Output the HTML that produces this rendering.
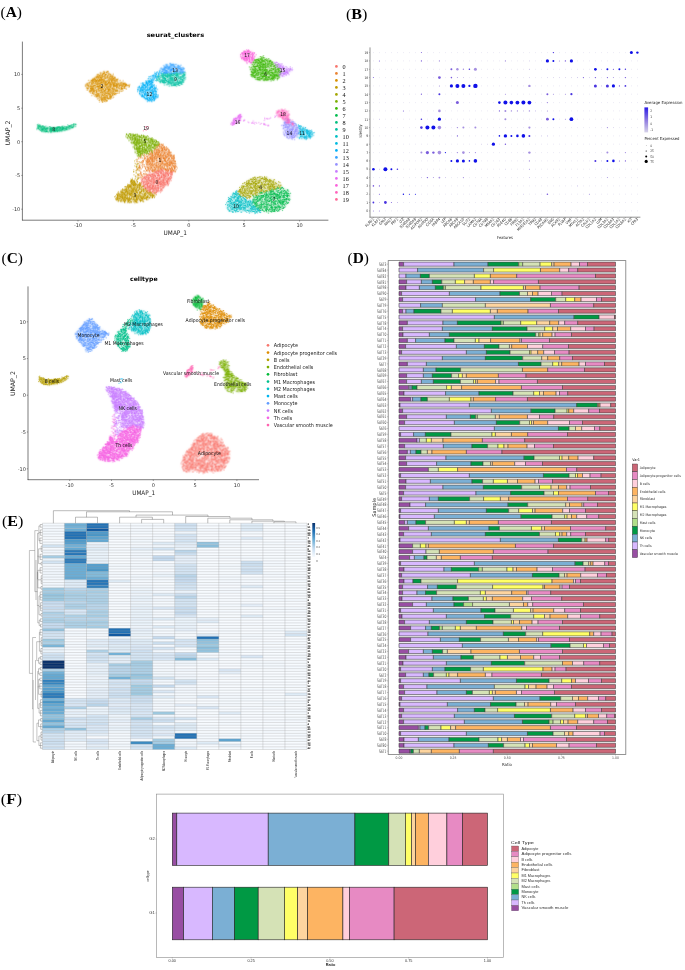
<!DOCTYPE html>
<html><head><meta charset="utf-8"><title>Figure</title>
<style>
html,body{margin:0;padding:0;background:#fff}
svg{display:block}
text.s{font-family:"DejaVu Sans","Liberation Sans",sans-serif}
text.c{font-family:"DejaVu Sans Condensed","DejaVu Sans","Liberation Sans",sans-serif}
text.l{font-family:"Liberation Sans",sans-serif}
text.r{font-family:"Liberation Serif",serif}
.pts path{fill:none;stroke-width:8;stroke-linecap:square;opacity:.92}
.base polygon{opacity:.22}
</style></head><body>
<svg width="685" height="970" viewBox="0 0 685 970">
<defs><filter id="bl" x="-10%" y="-10%" width="120%" height="120%"><feGaussianBlur stdDeviation="1.2"/></filter></defs>
<rect width="685" height="970" fill="#fff"/>

<g id="panelA">
<text class="r" x="0.6" y="17.2" font-size="14.7" textLength="21.4" lengthAdjust="spacingAndGlyphs">(<tspan font-weight="bold">A</tspan>)</text>
<text class="s" x="175.4" y="36.5" font-size="6" text-anchor="middle" font-weight="bold" textLength="57.5" lengthAdjust="spacingAndGlyphs">seurat_clusters</text>
<g class="base" filter="url(#bl)"><polygon points="143.0,178.0 152.0,172.0 160.0,169.0 173.0,171.0 172.0,178.0 168.0,184.0 162.0,190.0 156.0,194.0 148.0,192.0 141.0,185.0" fill="#F8766D"/>
<polygon points="160.0,143.0 167.0,148.0 174.0,156.0 176.5,165.0 175.0,171.0 173.0,172.0 160.0,169.0 152.0,172.0 147.0,170.0 146.0,162.0 148.0,155.0 150.0,153.0" fill="#EA8331"/>
<polygon points="126.0,133.5 135.0,134.0 145.0,136.0 153.0,139.0 160.0,143.0 150.0,153.0 142.0,155.0 138.5,158.0 135.0,150.0 131.0,141.0" fill="#7CAE00"/>
<polygon points="115.0,198.0 120.0,192.0 127.0,186.0 133.0,180.0 141.0,185.0 148.0,192.0 156.0,194.0 154.0,197.0 146.0,200.0 138.0,202.0 126.0,202.5 118.0,201.0" fill="#C09B00"/>
<polygon points="84.5,86.0 92.0,79.0 100.0,73.5 106.0,71.0 111.0,74.0 117.0,79.0 124.0,83.0 130.0,85.5 124.0,89.0 116.0,94.0 108.0,100.0 103.0,102.0 97.0,98.0 90.0,92.0" fill="#D89000"/>
<polygon points="138.0,88.0 142.0,83.0 146.0,82.0 150.0,80.0 154.0,84.0 157.0,90.0 157.5,97.0 154.0,101.0 148.0,101.5 143.0,98.0 139.0,94.0" fill="#00B0F6"/>
<polygon points="146.0,82.0 150.0,77.0 156.0,73.0 160.0,70.0 163.0,72.0 158.0,77.0 153.0,83.0" fill="#00B0F6"/>
<polygon points="157.0,76.0 163.0,73.0 170.0,73.0 178.0,72.0 185.0,73.0 185.5,79.0 182.0,84.0 174.0,86.0 166.0,85.0 160.0,82.0 156.0,80.0" fill="#00C1A3"/>
<polygon points="161.0,69.0 166.0,64.5 172.0,63.5 179.0,65.0 184.0,69.0 185.0,73.0 178.0,72.5 170.0,73.5 163.0,73.5" fill="#35A2FF"/>
<polygon points="36.5,124.5 45.0,126.5 55.0,127.5 65.0,126.5 72.0,124.5 76.0,123.5 75.0,126.0 68.0,129.5 58.0,132.0 50.0,132.5 42.0,131.5 37.5,129.0" fill="#00BF7D"/>
<polygon points="240.0,55.0 243.0,51.0 248.0,50.0 253.0,51.5 255.5,55.0 254.0,60.0 251.0,63.0 246.0,62.0 241.0,59.0" fill="#FA62DB"/>
<polygon points="251.0,63.0 255.0,59.0 261.0,57.0 268.0,59.0 275.0,63.0 279.0,68.0 281.0,73.0 280.0,77.0 275.0,80.0 266.0,81.0 257.0,80.0 252.0,76.0 250.5,70.0" fill="#39B600"/>
<polygon points="273.0,62.0 280.0,64.0 287.0,67.0 293.5,70.0 289.0,73.0 284.0,76.0 280.0,77.0 281.0,72.0 278.0,67.0" fill="#C77CFF"/>
<polygon points="230.5,124.0 234.0,119.0 239.0,115.0 242.0,114.0 241.0,119.0 238.0,123.0 233.0,125.5" fill="#E76BF3"/>
<polygon points="276.4,113.0 278.0,110.5 283.0,109.6 288.0,111.0 289.3,114.0 288.0,116.5 291.0,121.0 294.0,125.0 288.0,124.0 284.0,119.0 279.0,117.5" fill="#FF62BC"/>
<polygon points="284.0,120.0 288.0,118.0 292.0,121.0 297.0,124.5 299.0,130.0 298.0,136.0 294.0,139.0 288.0,138.0 283.5,134.0 282.5,128.0" fill="#9590FF"/>
<polygon points="297.0,124.5 303.0,127.0 309.0,130.0 313.5,133.0 313.0,136.0 309.0,138.5 302.0,139.2 298.0,138.0 299.0,130.0" fill="#00BAE0"/>
<polygon points="237.0,191.5 243.0,184.0 249.0,179.5 257.0,177.0 266.0,177.5 274.0,180.0 280.0,184.0 283.0,188.0 276.0,189.0 268.0,191.0 260.0,193.0 253.0,197.0 247.0,199.0 241.0,196.0" fill="#A3A500"/>
<polygon points="253.0,197.0 260.0,193.0 268.0,191.0 276.0,189.0 283.0,188.0 288.0,190.0 290.5,195.0 289.0,202.0 284.0,208.0 276.0,211.5 266.0,212.0 259.0,210.0 254.0,205.0 252.0,201.0" fill="#00BB4E"/>
<polygon points="226.0,205.0 228.0,199.0 232.0,194.0 237.0,190.5 241.0,196.0 247.0,199.0 252.0,201.0 254.0,205.0 259.0,210.0 262.0,212.0 252.0,212.5 243.0,211.0 236.0,212.0 229.0,211.5 226.5,208.0" fill="#00BFC4"/></g>
<g class="pts" transform="scale(.1)"><path d="M1589 1693zm23 4zm1-9zm2 7zm1 3zm12 1zm2-9zm28 8zm-161 19zm16-8zm25 1zm5-8zm5 17zm4-4zm2 2zm9 5zm2-9zm3 3zm2-8zm0 13zm8 2zm4-13zm0 8zm2-7zm1 10zm0-6zm10-2zm1 1zm1-8zm3 13zm0-11zm8 6zm1 1zm0 4zm3-19zm1 1zm2 1zm2 12zm4-10zm3 3zm0-1zm4 9zm2 6zm0-15zm5 9zm3 8zm13-21zm3-1zm1 20zm0-20zm7 19zm7-11zm1-2zm1-6zm2 20zm0-20zm11 8zm2 3zm1-9zm16 15zm2-18zm1 21zm1-13zm4 4zm3 2zm2 7zm1-5zm3 5zm3-1zm6 1zm6-8zm-276 34zm21 0zm6 0zm5-13zm3 15zm7-22zm0 22zm0-5zm10 1zm6-2zm4 5zm1 0zm1-7zm3-2zm3 10zm4-9zm7-1zm1-14zm1 7zm7 15zm5-18zm2 2zm9-6zm2 11zm2-11zm0 17zm6-3zm4-4zm1 4zm2-1zm1 3zm1-8zm16-1zm1-4zm3-1zm2 12zm7-2zm1-9zm1-1zm2 15zm6-1zm4 5zm0-12zm6 0zm1 12zm3-4zm0 4zm3 3zm0-5zm4 0zm0-14zm6 18zm5-12zm0-5zm5 6zm3-8zm1-1zm2 0zm0 18zm4-18zm2 7zm0 4zm1-2zm2-1zm2-3zm6 1zm0 9zm0 3zm2 0zm3-16zm7 6zm7-7zm0 4zm1-8zm5 17zm3 0zm0 7zm3-4zm2-16zm1 3zm3 10zm3 5zm2-14zm-285 35zm7-1zm4 0zm3 3zm7 3zm1-16zm1 16zm2-3zm4-16zm3 2zm5 5zm0-10zm0 21zm6-15zm3 10zm9-15zm2 8zm3-6zm4 7zm1-2zm2 7zm3-16zm3 14zm2 2zm2 5zm4-3zm0 4zm1-3zm0-19zm1 4zm5-2zm3 4zm1 18zm3-19zm3 2zm0 17zm0-6zm4-17zm4 7zm1-7zm1 12zm4-4zm1 2zm1 5zm1-7zm2 8zm1-11zm16 0zm1 1zm0 1zm5 1zm3-3zm0 4zm4-8zm1-1zm1 3zm1 17zm2-18zm3 2zm2 7zm14-2zm1 12zm1-17zm3 11zm0 8zm3-5zm0-10zm2 6zm11-4zm0-11zm2 24zm1-13zm0-11zm1 5zm2-3zm1 9zm5 9zm0-6zm0-6zm6 3zm0-10zm1 9zm5-8zm0 17zm1 0zm2-10zm2 2zm11 4zm5-14zm3 10zm4-11zm1 4zm2 4zm14 12zm0-2zm3-15zm2 18zm5-4zm6-6zm-306 35zm7-2zm7 3zm2-7zm2-2zm7-10zm0 13zm6-9zm3-6zm2 3zm4 10zm1 1zm1 1zm1-7zm5 6zm3-10zm5 15zm11 4zm1-16zm1-6zm1 4zm2 5zm0 3zm2 5zm3-15zm0 9zm4-11zm1 17zm2-15zm8 19zm9-15zm4 8zm1 5zm4-5zm3-4zm4-2zm3-2zm0 4zm0 7zm3 4zm0-20zm3-2zm4 21zm4-13zm4 0zm4-1zm3 8zm8 1zm3-13zm0 1zm3 7zm2-8zm1 2zm0-6zm1 22zm11-4zm3-9zm1 8zm5 5zm0-17zm0 4zm1 6zm0-3zm3-7zm2 16zm1-3zm1-7zm0-10zm6-1zm1 2zm4 0zm8 2zm4 17zm6-14zm1 13zm1 4zm6-4zm0-16zm1 8zm2-10zm0 11zm4-11zm9 8zm5 7zm1-8zm7 2zm2-11zm2 23zm6-7zm2 2zm0-10zm1 6zm3-6zm3 15zm0-17zm3 15zm0-10zm3 1zm0-6zm2-2zm10 14zm1-3zm2-3zm2-5zm7-5zm-308 46zm9-14zm1 3zm1 8zm5-4zm6 8zm1-15zm4 11zm1 2zm11-9zm1-12zm1 23zm1-9zm0 9zm0-6zm13-17zm1 22zm2-7zm1-7zm1-9zm1 21zm1-21zm2 24zm2-9zm3 0zm2-2zm5-10zm3 20zm5-20zm1 6zm0 1zm6 0zm2-4zm1 8zm1 0zm6 3zm4 2zm0-10zm2 15zm1-21zm8 12zm2-11zm4 20zm3-18zm3 12zm3-12zm0-5zm0 23zm4-2zm0-21zm1 20zm1-2zm2 3zm0-7zm3-6zm4-1zm5 3zm5 1zm7-7zm2-4zm3 20zm1-5zm3 1zm0-15zm1 3zm2 17zm0-15zm3-2zm7 15zm4-1zm6-13zm0 10zm4 5zm0-3zm5-15zm2 14zm2-15zm3 9zm2 3zm6 6zm1-12zm3-2zm1 17zm1-1zm1-13zm1-8zm3 13zm1-9zm5 17zm0-20zm10-1zm3 22zm2-11zm3-4zm5 16zm1-6zm0-10zm1 7zm0-1zm2-7zm0 9zm4 0zm3-1zm1-10zm2-3zm2 20zm10-18zm3 10zm14-7zm-310 35zm3-2zm8 1zm1-14zm9 14zm13 0zm0-10zm4 16zm3-16zm6 15zm0 1zm8-7zm0 9zm3-2zm2-13zm6 2zm0 9zm5-13zm1 9zm1 1zm1-3zm1 7zm6-6zm3-5zm1-5zm1 2zm1 6zm1-11zm4 6zm10 4zm2-2zm4 7zm2 7zm2-14zm8 9zm7-12zm0 13zm4-12zm1 4zm0-12zm2 2zm7 2zm5 8zm10-10zm2 1zm3-3zm1 8zm2-7zm3 14zm3-8zm2 12zm4-16zm0 18zm1-18zm8 14zm0-5zm3-5zm0-5zm5 7zm1-2zm0-6zm1-1zm2 4zm2 17zm2 3zm1-22zm2 16zm0 3zm1-9zm2-5zm2 4zm4 8zm2-1zm0-2zm0-5zm1-11zm3 20zm3 4zm4-19zm1-3zm1-2zm1 18zm0 3zm3-12zm0 4zm1-11zm9 21zm1-7zm0-8zm1-4zm4 18zm2-16zm1 18zm0-20zm6 6zm12-8zm0 13zm3-15zm1 17zm1-15zm1 10zm2-6zm6 10zm8-7zm-291 16zm7 0zm24 13zm1 4zm1 3zm6-15zm0 4zm3 11zm4-11zm4 13zm2-1zm17-21zm1 20zm0-12zm4 1zm2-5zm2 17zm0-5zm3-3zm3 0zm0 5zm7 5zm3-8zm0-10zm1 7zm1-3zm1 6zm2-7zm1-6zm4 6zm2 15zm1-9zm9-14zm1 24zm3 0zm1-16zm1 4zm4 1zm0-5zm0 9zm3 2zm0-2zm3-9zm2 4zm0-2zm3-9zm1 1zm1 17zm6-7zm7-8zm1 4zm1 13zm1-8zm0-5zm6-1zm8 2zm2 5zm6-10zm1 2zm2 4zm2 2zm0-1zm6-7zm9 14zm4-18zm3 18zm1-6zm10 2zm1 1zm5-5zm6-6zm3 20zm2 0zm2-20zm1 2zm5 12zm5-7zm10-10zm7-1zm15 5zm7-4zm-241 39zm6-5zm2-6zm2 7zm1-9zm3 5zm0 4zm8 4zm0-14zm5 0zm1-1zm1 15zm5 5zm3-14zm2 11zm2-11zm9-4zm1 19zm1-10zm2 8zm0-15zm4 19zm1-21zm3 2zm0 13zm0 4zm5-14zm1 10zm5-5zm1 4zm2-15zm0 11zm1 3zm1-14zm4 3zm1 8zm0 9zm3-13zm4 10zm3 6zm1-24zm1 13zm0-2zm1 4zm6-11zm2 13zm2-14zm1 16zm1-14zm1 9zm6 0zm2 8zm1-22zm1 3zm4 14zm3-6zm2-6zm7 0zm0-3zm1 16zm2-10zm0-5zm1 21zm0-19zm1 2zm0 4zm11-3zm12 0zm2 7zm2 5zm1 1zm7-4zm1-6zm5-11zm12 5zm-173 28zm4 14zm2-16zm9 7zm2 2zm2-8zm6-6zm3 3zm2 11zm0-5zm3 13zm3-2zm1-13zm1-6zm2 21zm6-4zm13-1zm3 3zm2-8zm3-4zm3 4zm6-2zm5 12zm3-19zm2 3zm9 13zm1 4zm4-20zm0 16zm1-14zm7-2zm4 11zm0-10zm1 8zm5-6zm5 5zm9-1zm10 13zm0-17zm5-6zm3 11zm12-8zm-123 21zm11 0zm15 8zm8-7zm13 13zm2-10zm6 6zm7-8z" stroke="#F8766D"/>
<path d="M1587 1446zm5-5zm1 1zm4 7zm14-2zm1-4zm6 5zm6-1zm8-4zm-71 14zm5 8zm10 0zm3 3zm3-15zm1 2zm8-4zm1-1zm4 21zm2-16zm0 12zm2 3zm2 0zm11-7zm2 4zm10-9zm8-4zm1 11zm7 6zm4-4zm2 4zm17-1zm-119 25zm7 3zm0-11zm7-11zm7 7zm7 14zm1 0zm6-4zm7-6zm4 5zm7 3zm7-11zm9 10zm1-16zm2 10zm4-13zm3 21zm0-8zm1 2zm2 8zm1-11zm1 2zm0-12zm3 4zm1-3zm10 21zm2-16zm1 16zm2-15zm0 3zm1 11zm2-19zm1 16zm13-3zm1 7zm2-22zm2 11zm8 3zm1-7zm9 13zm-190 23zm13-14zm4 16zm4-8zm3 0zm17-3zm0 4zm9-2zm1-6zm12 13zm1-20zm4 4zm1-4zm1 23zm2 1zm0-12zm1-2zm6 12zm4 2zm3-19zm0-3zm4 9zm0-7zm1 14zm3-8zm3 3zm1-3zm4 1zm3 6zm9-10zm4 3zm1-4zm2 6zm1 11zm3-19zm2 5zm4-8zm1 15zm1-12zm7 8zm9 6zm11-6zm1-10zm0-2zm1 7zm17 15zm5-22zm1 17zm0-13zm5 18zm3-13zm4-5zm3 14zm12 5zm-291 26zm16-8zm9 6zm20-1zm12-8zm15 1zm1-4zm2 12zm0 2zm7-23zm4 14zm3-1zm4 10zm0-15zm6-8zm2 8zm2 9zm2-9zm0 3zm4 1zm4-6zm13 12zm1-17zm3 3zm3 4zm1 10zm1-6zm6-5zm1-3zm2-5zm3 4zm1 3zm0 17zm1-9zm5 6zm3 1zm1-22zm1 18zm3-6zm2 5zm2 3zm2 4zm1-20zm0-1zm1 21zm1-17zm4-5zm1 3zm11 9zm1 10zm0-7zm3-11zm7 1zm4-1zm8 13zm6 5zm2-23zm1 15zm2 4zm4-5zm1-12zm3 6zm4 0zm5-5zm5 19zm4-22zm5 17zm3-8zm1 8zm2 1zm3-3zm2 3zm1 4zm4-19zm1 7zm3-5zm6-6zm0 4zm1 17zm2-10zm2 12zm0-20zm8 2zm-325 44zm13-9zm8-12zm4 6zm4 4zm26-4zm4 8zm8-8zm17 5zm0 4zm3 2zm0-6zm10-8zm9 16zm12-2zm4-4zm0-16zm9 19zm1-12zm4-4zm2 14zm1-13zm1 6zm3 6zm1-15zm0-1zm3 7zm2 4zm8 3zm3 6zm2-4zm3-16zm0 17zm5-15zm0 12zm2-11zm3 12zm6 6zm4-1zm2-15zm2 12zm1-17zm2 2zm6 22zm2-24zm1 1zm2 14zm2 6zm2-6zm0-11zm1 4zm1 15zm3-1zm0-11zm5-4zm1 8zm2-10zm0-3zm7-2zm4 15zm3-11zm0 3zm4 3zm2 1zm1-1zm6 4zm5-5zm2 4zm7-2zm8-8zm1 14zm0-10zm1 6zm5 10zm2 0zm2-8zm0-2zm7 9zm2-6zm4-3zm2 1zm6-5zm6-5zm8 7zm0-5zm3 13zm6-6zm0-5zm1-3zm4 0zm0-5zm6 16zm1 8zm1-11zm8-10zm3 5zm5 6zm0 4zm2-8zm0 4zm2-12zm-355 37zm14-7zm6-4zm12 3zm10 1zm14 4zm5-5zm0 4zm2 6zm2-6zm1-9zm11 16zm11 5zm2-15zm1 5zm1 3zm3-2zm6 5zm4-14zm5-2zm4 6zm1 9zm2-5zm3-5zm1-5zm1 0zm1 2zm0 11zm2-3zm8 9zm1-17zm0 9zm0 3zm0-1zm1-9zm3 11zm1 1zm2 6zm1-21zm5 2zm5 7zm1-9zm4 19zm1-21zm3 11zm0-1zm3-9zm3 16zm4-7zm5 0zm1 2zm3-12zm6 5zm21 7zm2 1zm2-4zm0-2zm3-1zm7-7zm1 17zm0-15zm1-2zm3 6zm0 18zm1-7zm12-11zm7 2zm1-7zm0 7zm0 4zm1 1zm1-6zm0-4zm3 5zm1 0zm2 5zm1 0zm2-5zm1 16zm1-19zm1 7zm5-6zm3 11zm3-4zm2-11zm7-1zm15 11zm0-2zm2 6zm1-2zm3 1zm1-15zm0 13zm5-5zm1 6zm20-7zm1 2zm3-6zm0 8zm8 3zm2-2zm3 8zm2-18zm3 15zm2-8zm0 4zm5-9zm-379 37zm8-14zm17 18zm6 2zm17-5zm5 6zm7-15zm2-1zm1 11zm5-10zm0 8zm0-10zm7-6zm17 9zm8 9zm2-3zm1-13zm1 6zm2 3zm0 4zm2 7zm4-21zm1 16zm4-13zm1-2zm1 16zm4 5zm0-18zm1 9zm4 8zm1-20zm0 5zm1 6zm2 7zm3-20zm3 23zm5 1zm3-7zm1-11zm6-4zm1 0zm3 2zm1 10zm4-3zm0 3zm0 7zm2-7zm1 5zm1-19zm7 13zm3-5zm1 11zm18-14zm4 0zm3 5zm4-7zm9 11zm4 10zm12-21zm1 0zm1 19zm3-17zm1 8zm0-6zm4 16zm0-19zm6 7zm2 6zm4 0zm0 1zm7 2zm3-7zm1-7zm1 14zm13-12zm0-3zm4 3zm1 14zm0-22zm1 7zm6-6zm1 13zm1 4zm0-10zm0 3zm6 6zm13-9zm1-3zm1-4zm2 1zm10 20zm2-10zm5 7zm0-14zm6 8zm3 3zm0-15zm6 4zm2 10zm3 1zm3 0zm6-8zm3-4zm9 1zm1 15zm1-5zm0-5zm1-5zm6 19zm3-6zm4 2zm0-8zm-374 26zm33-7zm12 1zm2-3zm3 15zm30-18zm1 15zm5 5zm2-5zm3-11zm3-3zm2 16zm1 4zm3-16zm5 1zm8 10zm0 1zm3-4zm1 10zm8-15zm3 6zm1-3zm1 5zm11-1zm0-14zm2 14zm3 0zm9 2zm8 3zm1-6zm7-5zm8 13zm1-16zm1 9zm5-13zm1 1zm2-2zm2 1zm11 11zm5 7zm12-13zm0-1zm2 8zm14 2zm1-5zm2-1zm2-7zm6 7zm0-6zm2 9zm2-4zm6 9zm4-6zm4 5zm3 5zm1-8zm6-3zm1 3zm1 3zm8-7zm0 8zm2-3zm1-16zm2 1zm2-1zm2 11zm1 2zm2-11zm0 21zm1-5zm6-17zm6 18zm2-8zm1 8zm1-19zm2 7zm2 14zm3 2zm1-6zm2-17zm3 3zm1 16zm1-8zm3 3zm1-8zm1 1zm1-5zm1 3zm3-4zm5 11zm3-8zm1 11zm2-1zm1-11zm4 9zm8 5zm2-3zm9 0zm4 0zm-393 31zm28-11zm0 2zm4 10zm0 1zm0-19zm1 16zm0 5zm2-22zm19 4zm5-6zm4 18zm10-16zm6-2zm0 19zm7-2zm10 7zm8-10zm5 1zm12-13zm7 15zm11-8zm1 15zm2-22zm3 20zm3-9zm2-12zm1-1zm8 9zm4-7zm1 8zm2 10zm1-20zm7 7zm7 13zm12-14zm2 13zm1-12zm0-1zm2 3zm5 5zm1-13zm2 16zm0-15zm6 10zm6 9zm1 3zm0-7zm0-14zm10 21zm1-10zm1-8zm5 18zm1-1zm1-19zm0 3zm1 3zm1-4zm2-5zm4 15zm1-16zm8 14zm1 9zm5-20zm1 14zm10-13zm6 14zm2-13zm9-3zm5 3zm5 3zm6 15zm0-6zm2-9zm6 6zm0 9zm2-11zm6-12zm3 0zm1 1zm5 7zm2 1zm5-7zm6 5zm5 12zm9-16zm1-1zm6 7zm1 7zm5-8zm1 14zm5-13zm0 5zm4 7zm2-9zm0 9zm5-4zm5-10zm0-1zm10 12zm-403 26zm11 0zm0-7zm10-11zm6 9zm9 8zm0-15zm2 4zm11 9zm10-15zm31 14zm1-9zm1 9zm15 7zm3-17zm5-2zm4 8zm1-11zm3 15zm0-14zm6 8zm8 6zm3 6zm5-12zm4-9zm2 5zm1-4zm5 20zm1-14zm3 12zm3 1zm8 1zm3-20zm5 22zm1-19zm3-1zm1 7zm6 4zm0 9zm2-17zm10 14zm1-19zm3 2zm7 17zm0-3zm9-2zm0-15zm5 20zm12-7zm0 4zm4-14zm0 13zm9-16zm2 9zm8-4zm5 3zm3-1zm5 11zm2-4zm2-10zm7 9zm1 5zm4 1zm2-3zm0-1zm0 8zm11-5zm4 0zm4-8zm3 4zm5 8zm7-2zm1-16zm3 7zm1-5zm7 7zm1 1zm1-2zm1 2zm3 5zm5-16zm2 2zm3 8zm4-1zm1-5zm0 16zm14-1zm7-7zm0-12zm0 9zm2-12zm1 11zm5-11zm7 23zm11-16zm-376 28zm9 6zm12 8zm23-12zm1-2zm16 11zm7-16zm0 2zm1-2zm9 7zm0-10zm14-2zm0 2zm2 11zm4-5zm25-4zm5 7zm0 1zm3 5zm3-7zm1-2zm0 9zm12-17zm4 9zm6 3zm21-4zm11-4zm78 0zm2-3zm10 14zm8-4zm24 9zm4-13zm1 0zm3 3zm0-7zm3 19zm2-22zm9 1zm0 7zm5 0zm3-2zm9 8zm3-4zm4 10zm4-7zm-380 35zm17-8zm12-9zm1 0zm1 7zm3 9zm1-2zm9 3zm14-10zm5 3zm1-4zm11 4zm9-2zm4 5zm12 1zm-97 13zm18-1zm5 15zm10-10zm5-2zm9 7zm1-3zm14-12zm-44 26zm14 2zm8 0z" stroke="#EA8331"/>
<path d="M1037 713zm3 8zm5-1zm17 2zm2-1zm8-4zm3-3zm5 3zm0-2zm-109 29zm7 5zm6-6zm17-15zm5 1zm0 13zm11-14zm7 13zm4 3zm2 0zm0-14zm6 2zm0 3zm2-3zm5 0zm3-5zm1 17zm6-2zm3 0zm2 5zm4-5zm7-14zm12 10zm7-7zm2 9zm10 1zm1 2zm9 5zm22-9zm-173 28zm1 3zm9 0zm0-12zm3 2zm2 10zm3-1zm2-7zm2 8zm4 2zm2-5zm0-11zm4 11zm3-8zm1-8zm3 2zm2 2zm3 18zm1-7zm4 4zm7-17zm2 18zm0-12zm2 12zm1-11zm3-9zm4 20zm1-11zm2 2zm13 3zm3-10zm2 4zm1 11zm3-18zm5 6zm13 9zm3 2zm2-2zm1-11zm1 2zm3 12zm1-20zm10 22zm6-15zm1 1zm3 11zm4-10zm3 0zm2 5zm9 4zm0-10zm5 10zm3-7zm1-6zm1 12zm16 2zm3 4zm-222 22zm1 3zm2-3zm1-10zm5 6zm7 6zm1-16zm1 11zm2-13zm1 13zm4 3zm3-6zm1 2zm6-14zm1-1zm6 9zm5 9zm6-8zm5-3zm9 11zm4-3zm1-16zm0 4zm2 14zm1-5zm7-13zm4 23zm1-10zm0-7zm1 16zm1-10zm4 2zm0-13zm1 22zm0-6zm5 7zm0-2zm3-2zm3 3zm3-10zm10-10zm1 11zm8-7zm2 0zm4-7zm1 4zm16 3zm5 16zm4-4zm6-12zm0 4zm8 11zm0-5zm3 4zm3-11zm3-7zm1 3zm7 10zm2-1zm0-15zm2 13zm1-13zm0 4zm1 18zm6-3zm1 5zm1-12zm4-4zm1-4zm1 5zm0 13zm3-1zm5-14zm1 15zm3-20zm2 2zm6 11zm5 8zm4-4zm8-2zm6-3zm-293 14zm4 20zm10-1zm8-13zm4-4zm3-2zm1 17zm2-13zm2 14zm5-12zm0 4zm1-13zm0 13zm2-13zm2 3zm1 19zm1-18zm2 17zm5-9zm8 3zm0-5zm2-5zm1 0zm1 5zm7 13zm1-21zm2 10zm1-6zm0 3zm2 1zm0-1zm0-5zm2 1zm2 13zm5-13zm2 2zm3 14zm6-17zm0 7zm1 5zm1-8zm0-8zm3 8zm3 2zm2-10zm3 8zm1 16zm1-23zm1 1zm0 4zm0-6zm5 9zm3 15zm3-23zm3 8zm3 12zm0-6zm1 4zm11 3zm0-6zm2-6zm1 2zm3 3zm3-15zm3 0zm3 17zm1-17zm2 15zm3 8zm0-14zm0 4zm4 11zm6-15zm2 10zm1 2zm4-14zm7 5zm2-7zm8 15zm0 4zm3-3zm1-15zm4 6zm1-8zm2 16zm1-1zm12 5zm2-23zm2 4zm1 11zm2-7zm0-3zm2 13zm1-12zm8-6zm0 9zm1 10zm12-3zm0-17zm6 6zm1 18zm2-24zm2 16zm0-6zm0 9zm8-19zm2 11zm8-1zm1-10zm2 19zm4-14zm25-1zm10 19zm20-16zm-376 41zm12-9zm2 0zm7-5zm2 7zm12-9zm6 6zm17 2zm2-9zm5 6zm4 3zm4-8zm2 3zm5-7zm2 21zm10-16zm5-8zm5 9zm2 1zm3-9zm3 18zm2-1zm7-7zm0 7zm2-17zm2 17zm0-14zm4 11zm2-6zm7 12zm1 2zm4-14zm2 1zm1-4zm4 5zm2 2zm6-10zm2-2zm0 4zm1-2zm10 20zm0-19zm2 10zm7-9zm8 8zm3-2zm7-8zm0 10zm1-11zm4 14zm0-14zm0 12zm1 2zm1 6zm4-5zm3 0zm1-14zm1 16zm2-3zm3 2zm0 4zm0-10zm4 4zm1-11zm1 13zm5-9zm2-7zm3 1zm2-3zm1 6zm8 9zm0-13zm1 12zm1 5zm1-4zm2-9zm1 17zm6-2zm4-7zm1 6zm3 0zm2-15zm0 4zm2-9zm6 23zm0-23zm4 19zm0-1zm1-9zm4 8zm0-15zm2 22zm0-3zm1-12zm5 9zm0-10zm6 5zm4-7zm9 5zm1 3zm2-2zm0 8zm1 1zm3-9zm7 8zm1-8zm0 9zm5-15zm3 13zm4 5zm5 0zm0-14zm7-5zm3 17zm2-3zm5 4zm0-19zm6 7zm5 13zm1-23zm3 12zm2 2zm2-3zm2 3zm3-10zm0 18zm1-17zm4 6zm1 4zm6-12zm1 12zm0-6zm1 11zm4 2zm1 1zm1-10zm5 2zm1 3zm2 4zm1 1zm31-3zm-443 14zm11-4zm6-4zm9 11zm0-11zm1-2zm2 17zm5-11zm6 11zm7-11zm2 5zm6-2zm4-2zm3 6zm4-4zm2 15zm4-16zm3 4zm2 0zm4-5zm6 10zm0-11zm5-3zm1-1zm0-1zm6 17zm0-14zm12 7zm1 10zm6-2zm1-11zm0 4zm3-1zm1-1zm7 4zm1-4zm1 2zm0 9zm1-3zm3-5zm1 4zm2-11zm8 1zm2 0zm0-5zm0 8zm2 10zm9-9zm5 13zm1-9zm2-2zm1 2zm0-6zm9 5zm2-5zm6-5zm3 16zm8-8zm4-7zm1-3zm4 2zm3 13zm3 1zm1-16zm4 19zm3-4zm6-2zm5 2zm2 7zm1-21zm2 11zm6-8zm3 0zm1 12zm3 3zm0-7zm6-8zm1 8zm1-8zm20 8zm4-8zm0 3zm0 9zm2-10zm1-6zm3 9zm2-6zm2 10zm1-5zm5 2zm2-8zm0 2zm1 6zm9-10zm0 17zm1-17zm1 18zm2-11zm2 8zm0-7zm1 1zm3 13zm0-21zm9 20zm5-15zm5 7zm2-5zm6-6zm4-2zm5 17zm2-16zm3 17zm5-5zm2-7zm1 4zm4-5zm7-2zm6 10zm0-5zm6 6zm2 1zm2-12zm1 9zm7-13zm0 11zm1-7zm1-4zm13 4zm7-2zm2-3zm7 17zm3 0zm1-12zm2 4zm-428 17zm4 2zm0 21zm2-15zm4 13zm2-15zm2 0zm1 4zm22 11zm1-14zm1-6zm1 2zm1 6zm4 11zm2-21zm1 8zm1 13zm2-17zm1 16zm1-1zm1-3zm2-10zm2 14zm1-8zm0-7zm2 3zm3 6zm0-14zm3 13zm2-10zm0 12zm4 7zm8-8zm2-11zm5 2zm10 16zm12-7zm6-10zm0 11zm2-2zm2 9zm8-14zm2-4zm1 2zm0 17zm5-12zm3-5zm7-3zm1 7zm2-1zm2 3zm2 10zm2-10zm1-3zm5 2zm2 4zm3 5zm2-4zm7-12zm13 13zm1-11zm4 12zm2-15zm9 10zm0 7zm3-14zm6 10zm5 6zm0-6zm2-11zm2 16zm3-9zm0 3zm2 6zm5-16zm1 19zm6-5zm0-19zm1 20zm11-15zm1-3zm4 4zm2 6zm4 12zm0-6zm0-14zm3 6zm1 9zm4 5zm4-20zm5 8zm2 3zm0 2zm16-16zm2 10zm2 11zm14-13zm13-4zm2 0zm3 11zm15-2zm0-7zm0 8zm2-10zm1 4zm2 3zm1-6zm2 4zm3 6zm13-12zm0 1zm4 2zm1-6zm12 8zm9 5zm-369 25zm3-8zm1 15zm0-14zm4 6zm6-6zm2-3zm3 8zm2-7zm5 2zm6-3zm3-4zm1 17zm2-10zm0 3zm4 7zm1-6zm2 4zm1-7zm2 7zm2-11zm7-1zm9 16zm0-1zm1 4zm4-10zm0-5zm1 7zm0-13zm19 6zm0-1zm4 6zm7-11zm6 18zm3-18zm2 19zm1 2zm5-20zm1 0zm1 8zm2-1zm1 7zm4 8zm3 0zm2-1zm9-16zm0 3zm3 1zm2 3zm1-11zm4 17zm3-14zm0-2zm3 17zm0-20zm2 0zm3 8zm11 10zm3-2zm8-7zm0 7zm3-6zm2-11zm0 9zm1-8zm5 9zm1-10zm6 8zm3 15zm6-12zm1-5zm10 14zm0-20zm0 16zm9-1zm5 0zm0-5zm3 5zm10 9zm1-20zm3 5zm4-2zm2-1zm4 6zm0-6zm5 5zm2-10zm5 0zm3 3zm1 8zm2-4zm19 7zm2-8zm18 6zm2-5zm12-3zm-324 24zm16-2zm2 1zm1 3zm0-1zm7 14zm5-13zm2 5zm8 10zm6 0zm6 3zm3-2zm2-21zm3 11zm1 5zm5-12zm6 10zm1 3zm5-4zm1-8zm1 7zm1 10zm10-12zm10 1zm9 1zm2-12zm5 21zm0-5zm11-9zm6-5zm0 16zm4-4zm4 9zm1-1zm3-12zm5-1zm0-2zm7-1zm0-1zm1-2zm4 5zm7 4zm1-5zm5-4zm3 0zm0 18zm1-1zm0-12zm4 2zm1 2zm3 2zm3-15zm2 20zm5 0zm1-1zm1-16zm10 4zm1-4zm6 15zm2-5zm2-11zm4 5zm4 5zm6 6zm0-1zm1-4zm1 6zm6 0zm1-13zm1 4zm6 9zm2-11zm8-1zm10-2zm15-2zm-276 27zm31 6zm13 8zm1-9zm3-1zm2 4zm4-3zm3-2zm1 8zm0-14zm3 3zm2-1zm5 7zm9-4zm2 1zm0-2zm0 18zm15-1zm3-12zm1-5zm6-3zm5 21zm2-20zm6 2zm1-2zm7 19zm1-15zm5 15zm1-8zm6 2zm2 5zm1 2zm1-17zm5-3zm2 1zm4 10zm1 9zm0-15zm0-6zm3 15zm19-10zm5 2zm5 9zm1-18zm0 22zm1-14zm1 5zm3 5zm0-5zm4-4zm0 13zm4-13zm4-7zm4-3zm4 4zm7 16zm-161 18zm5-9zm17-3zm3 12zm9-13zm2 17zm3 5zm0-14zm4 5zm4 0zm0-2zm3 8zm5-5zm1-14zm5 0zm0 8zm1 12zm7-3zm0-11zm3-5zm2 12zm4 5zm1-9zm0 10zm2 4zm7 1zm4-18zm5-3zm1 5zm4-1zm1-1zm7 7zm1-2zm3-6zm0 4zm4-8zm7 5zm2 7zm6-8zm0 7zm19-9zm-138 22zm4 1zm2 17zm17-15zm4 5zm7 12zm2-6zm0-14zm2 19zm2-19zm9 0zm3 7zm1 6zm13 2zm4-14zm5 12zm8-13zm0 8z" stroke="#D89000"/>
<path d="M1370 1593zm-24 18zm15-11zm17 19zm-27 16zm9 5zm12 6zm3-9zm12 2zm17-12zm-56 33zm13 8zm4-15zm1 20zm2-3zm11-7zm-1 31zm3-13zm9-2zm-55 40zm3-18zm1 17zm20-11zm6-3zm13-2zm10 1zm-48 46zm22-17zm0-7zm17 21zm1-9zm-27 28zm6-4zm1 12zm16 1zm9-24zm4 3zm-80 40zm7 5zm6 1zm2-14zm28 4zm16 10zm6-12zm9-3zm2-8zm2 10zm-83 36zm4-14zm1 10zm1 6zm2-4zm0-14zm2 8zm0-7zm1 2zm3 12zm1-7zm1-13zm2 1zm2 16zm4-10zm2-4zm6 7zm1 10zm1-11zm0-1zm1 14zm2-10zm0 3zm2 6zm1 1zm1-3zm0-3zm1 3zm2-17zm3 18zm15-11zm6 12zm3-4zm1 2zm0-20zm-99 44zm5 4zm7 1zm17-3zm7-12zm1 4zm5-12zm0 8zm0 3zm1 12zm2-1zm3-21zm1 2zm2 5zm2 5zm3 3zm1-1zm0 4zm3-15zm0 14zm5 3zm1-17zm5 9zm0-1zm0-12zm1 22zm3-1zm2-11zm1 2zm2 5zm0-11zm2 12zm1-4zm6 7zm6-2zm1 2zm12-1zm2 1zm2 2zm3-6zm0 2zm3 4zm0-17zm1-4zm2 13zm5 2zm4-1zm2-14zm-160 40zm4 2zm4-1zm3-3zm0 2zm10 3zm4 2zm1-10zm1-1zm1-5zm6 2zm1 14zm4-6zm0-14zm2 15zm1 1zm4-5zm2 4zm0-5zm0-12zm2 7zm0-6zm1 3zm1 16zm0-5zm2-3zm3 9zm0-5zm2-5zm1-3zm2 7zm3-11zm4 19zm2-3zm10-18zm1-3zm2 12zm2-7zm1 4zm1-3zm8-5zm0 13zm4-13zm1 10zm0 1zm8-2zm1-4zm7 16zm6-5zm1 7zm3-16zm0 6zm6-12zm6 16zm4-10zm0 4zm1-7zm2 9zm5-1zm2-7zm1 3zm6-4zm3 15zm2 3zm11-6zm6-5zm1 1zm-205 25zm5 10zm15 0zm3-9zm5 8zm0-5zm3 7zm8-6zm0-7zm1 10zm0-1zm2-17zm1 12zm9 8zm5-18zm2-3zm0 11zm5 7zm7-18zm10 5zm0 12zm7-13zm2 9zm3 0zm0 4zm4 1zm2-1zm2-3zm0-15zm4 19zm2 2zm2-4zm1-15zm0 8zm2-3zm4 2zm0 8zm5-15zm0 4zm2 14zm2 0zm2-20zm5 17zm3-5zm3 9zm3-12zm1 0zm7-7zm10 4zm7-4zm1 17zm1-18zm1 12zm5-2zm1 7zm9-18zm1 17zm6 5zm3-13zm11 9zm1 2zm0-7zm3 3zm14 5zm5-10zm-272 30zm21 2zm6-8zm2-7zm4 14zm2 4zm2 0zm2-20zm2 0zm3 18zm1-20zm1 10zm2 14zm7-21zm5-1zm0 9zm8 0zm6 11zm2-1zm0-5zm0 4zm1-9zm1-8zm2 7zm3 3zm1-3zm2 10zm1-12zm4 11zm1-1zm4-15zm4 11zm2 0zm7-12zm2 8zm2 3zm6-10zm5 14zm1-8zm5 14zm4-17zm0 4zm0 12zm0-6zm2-1zm2 2zm2-15zm3 5zm2 7zm1 10zm2-11zm1-10zm2 2zm2 12zm1-7zm5 3zm0 8zm6-21zm5 7zm4 13zm0-15zm1-1zm2 2zm0 10zm4 1zm0-7zm6 7zm1-17zm6 9zm7-6zm1 2zm2-4zm8 19zm6 3zm1-4zm6 0zm6-7zm1 6zm2 2zm0-19zm2 11zm1-2zm10-7zm5 9zm2 8zm2-20zm0 11zm1 2zm11 0zm5-9zm7-3zm2 17zm4-4zm1 8zm6-15zm25 10zm-334 30zm3-3zm2-3zm5-9zm2 17zm6-12zm2-5zm2 11zm4-7zm4 11zm7 2zm2-16zm5 9zm2-15zm5 14zm1-12zm1 19zm2-15zm2-4zm2 20zm0-20zm1 20zm1-24zm2 17zm0-10zm5-3zm3 3zm1-1zm0 14zm3 2zm0-11zm0-2zm3-8zm1 18zm0-1zm3 0zm5 4zm3-21zm2 4zm1 14zm2 1zm10-6zm1-12zm1 7zm3 6zm0 4zm2-9zm1-7zm5 12zm5-14zm2 4zm0 3zm3 4zm2 8zm3 4zm1-23zm0 15zm0-5zm4 5zm0-5zm4-3zm2 4zm4 2zm1 5zm0-6zm2-11zm0 13zm3-5zm1 10zm5-17zm1 20zm3-6zm9-15zm0 20zm2-15zm2 14zm8-12zm0 11zm1-13zm13-2zm0-2zm9-3zm1 7zm3-5zm3 17zm13-13zm1 3zm4-7zm1 9zm3-9zm2 2zm8 7zm10 4zm17 2zm2 3zm0-5zm1-7zm2 8zm6-3zm1 8zm2-15zm2-5zm1 12zm12 0zm2-13zm5 3zm4 1zm0 14zm6-1zm0-10zm2-4zm3-3zm2 24zm1-14zm4-2zm7-2zm2 9zm2-7zm0-7zm2 19zm0-14zm9 12zm2-2zm3 8zm15-15zm9-8zm12 22zm-416 21zm9-7zm16 9zm1 3zm1-17zm2-3zm1-3zm0 4zm1 11zm2 4zm1-14zm4 18zm2-15zm2-9zm4 18zm5-14zm1 6zm2-7zm0 17zm3 0zm1 4zm1-5zm1-6zm2 5zm3 2zm0-19zm5 7zm1-8zm0 13zm4 10zm3 0zm1-6zm2-9zm0 11zm4-5zm9 6zm0 3zm0-19zm2 8zm0-10zm2 20zm6 2zm3-15zm1 15zm1-14zm4 8zm1-16zm2 5zm1-4zm9 3zm2 10zm3-14zm13 1zm6-3zm0 20zm1-20zm8 0zm2 3zm2 5zm2-5zm7 9zm2 1zm1-2zm0 12zm2-3zm10-6zm5 7zm1-6zm1 5zm5-16zm3 2zm2 7zm3-5zm5 15zm1-13zm3-6zm2-3zm2 2zm0 4zm1 12zm3-5zm0 2zm4-9zm3 15zm4-15zm3-7zm1 18zm5-13zm3 6zm2-10zm2 12zm5-10zm1 15zm2-11zm4 8zm2-3zm2 10zm2 2zm1-11zm11 2zm3-15zm0 13zm0 7zm2-4zm5 4zm1-4zm4-15zm0 8zm3 5zm6-8zm1-1zm1 3zm4 16zm3 0zm2-24zm5 16zm0 4zm6 0zm1 2zm1-11zm2 9zm1-12zm5 7zm8 8zm7-21zm7 4zm1 8zm0-12zm1 3zm9 5zm2 2zm2-9zm4 1zm0 18zm2 1zm0-15zm0 13zm5-12zm1 4zm2-4zm1-3zm1 0zm2-5zm1 9zm1-5zm9 9zm-393 26zm6 4zm1-14zm1 16zm2-12zm8-9zm0 17zm2-12zm1 8zm0 8zm1 0zm3-11zm1 3zm11-5zm0 2zm3 3zm4 3zm2-1zm12-15zm2 1zm0 21zm6-13zm0 4zm1-13zm3 3zm0 13zm5-9zm1 0zm1 16zm3-13zm2 7zm2-8zm0 8zm1 7zm4-24zm3 23zm1-5zm0-5zm1-10zm3 17zm4-20zm2 9zm1-5zm5 10zm0-6zm1 0zm4 9zm4-15zm1 3zm0 9zm1 4zm4 0zm5-12zm1 15zm1 2zm1-13zm1 1zm3-4zm2 7zm0-5zm3 5zm1-14zm0 22zm5-1zm0-10zm7 1zm0 2zm2 0zm1 3zm3-13zm13 12zm10 0zm0-13zm1 5zm0 2zm10 13zm3-22zm7 16zm0 4zm3-1zm2-10zm1-5zm0 18zm0-15zm1 0zm0 11zm2-5zm2-10zm5 13zm3-8zm3 5zm5-14zm1 0zm3 14zm6 5zm3-13zm4 16zm2-17zm7 5zm0 2zm1-6zm5-1zm1 8zm1 0zm4 2zm2-14zm0 9zm2 12zm0-14zm0 8zm2-14zm8 8zm2-6zm5 6zm3 3zm2 0zm1-7zm10 1zm2-2zm0 6zm2 9zm0-14zm4 18zm3-24zm2 3zm6-2zm0 17zm13-14zm2 1zm3-1zm22-1zm5-1zm19-1zm-381 26zm18 10zm0-1zm2-9zm7 4zm11-4zm4 6zm3 10zm8-14zm1-2zm2 10zm13 0zm2-3zm10 11zm0 3zm1-5zm3-10zm0-2zm1 0zm2-1zm0 17zm3-20zm15 2zm5 19zm5-10zm1-8zm1-1zm3 16zm0-6zm4-8zm1 17zm0-20zm2 0zm2 7zm6-7zm4 10zm5 6zm1 5zm0-1zm5-7zm16-16zm1 0zm1 20zm9-20zm3 3zm2 16zm1-13zm6 9zm3 1zm1-12zm0 9zm0-10zm3 12zm2-10zm2 16zm1 0zm1 2zm7-20zm3-3zm22 1zm1 0zm4 4zm1 9zm1-5zm4-1zm0-1zm8-2zm0-5zm9 14zm3-7zm7 12zm-141 7zm54 5zm27-6z" stroke="#C09B00"/>
<path d="M2539 1774zm6-2zm6-2zm26 4zm6 0zm11-8zm16-1zm16 7zm18 2zm3-9zm21 5zm-164 21zm2 4zm7-7zm4 5zm5 5zm4-19zm2 17zm7-12zm3 8zm7 2zm1 0zm3 1zm2-1zm2-13zm2 0zm9 10zm9-12zm21 12zm5-16zm10 21zm1-15zm3 7zm1-4zm2 0zm10-1zm2 4zm2-1zm6 4zm5 4zm3-1zm3 3zm1-4zm1-2zm1-11zm0 12zm2-13zm4 5zm3 9zm2-2zm5-6zm3 10zm5 0zm22 1zm7 2zm41-2zm-277 18zm5-4zm11-3zm3 5zm1 11zm3 2zm1-24zm2 11zm1-3zm19 0zm6 8zm4-1zm2-2zm0 6zm6-1zm2-15zm1 21zm5-2zm5-2zm5 2zm3-11zm2 3zm3-1zm1-11zm2 10zm2 1zm8-13zm5 10zm12 12zm1-18zm0 13zm7-9zm1 15zm1-13zm1-3zm5-1zm0 2zm10 13zm21-1zm3-10zm13 4zm3 4zm3 5zm2-16zm0-3zm4 8zm1-1zm4-4zm9-7zm5 18zm0-15zm1 8zm1 7zm8-13zm3 11zm0-1zm1-13zm7 11zm0 9zm1-19zm1 8zm5-8zm5 16zm2-11zm11 8zm5-7zm3 13zm2-5zm2-17zm49 14zm-362 22zm14-4zm9-4zm0-3zm9 19zm9-14zm0 12zm1-6zm1-4zm1-4zm0 4zm3 0zm3 6zm6 8zm0-10zm4 2zm1-10zm1 0zm1 12zm9-3zm1-4zm1 3zm1 10zm5 3zm4-6zm2-7zm0 3zm1-7zm1 2zm6 13zm2-12zm2 11zm10-10zm1-4zm2-1zm3 9zm3-5zm1-7zm11 7zm1-5zm0 4zm2 6zm0 3zm3-11zm3 10zm2-10zm1 8zm3-2zm2-3zm5-10zm9 0zm2 10zm1-3zm23 10zm2-2zm0-14zm3 3zm1 13zm2-17zm6 14zm3-1zm13 6zm5-3zm0-2zm3 7zm2 0zm1-5zm11-1zm12 1zm3 5zm0-6zm4-8zm2 7zm0-1zm4 5zm2 4zm7-22zm3 15zm5-2zm10 1zm1-2zm0 8zm7 2zm3-21zm2 19zm3-14zm4 7zm3 6zm10-1zm3-11zm2-7zm7 12zm5-1zm21 12zm4-23zm11 2zm-406 46zm18-13zm2 14zm6-4zm1-12zm7 8zm1-6zm6 4zm0-2zm0 9zm1-5zm2-2zm2-5zm19 5zm1 1zm5-11zm4-1zm2 8zm4-11zm2 8zm4 4zm8 9zm6-17zm4 20zm4-8zm2 7zm3-4zm2 1zm7 2zm16-20zm5 10zm0 7zm2-4zm2-7zm5 10zm2-17zm1 1zm3-2zm1 5zm1 5zm0-10zm1 3zm2 10zm10 6zm2-4zm2 6zm2-17zm7 14zm2 0zm4-14zm1 13zm0 7zm2 0zm1-3zm1-8zm1 7zm2-10zm10-1zm2-8zm6 8zm7 7zm4-16zm8 12zm3-3zm2-9zm3 17zm5 3zm3-18zm3 2zm14-4zm5 16zm8 5zm7-20zm1 10zm1 7zm6-4zm7-5zm0 4zm1-7zm0 11zm2-2zm3-15zm1 13zm2 6zm7-9zm5-1zm1-3zm3 5zm2-3zm0 8zm0-5zm1 13zm1-23zm10 9zm3 6zm0 1zm2 5zm7-11zm15 0zm10 4zm4-14zm8 2zm3 21zm1-12zm9 7zm5-16zm2-3zm-412 47zm1 0zm6-4zm2-5zm2 6zm10-16zm4 6zm1 11zm3-7zm4-7zm2-4zm13 11zm2 7zm2-3zm3-11zm10 11zm6 7zm1-17zm2-6zm6 7zm1 9zm5-15zm9 11zm3 1zm8-3zm13-10zm4 7zm3-3zm1 5zm8 12zm5 0zm1-21zm6-1zm2 7zm8 14zm0-14zm1-4zm1 11zm2 2zm1-11zm6 6zm3 10zm3-17zm1 7zm6 10zm13-19zm2 9zm4 12zm3-2zm4-10zm6-11zm3 23zm3-9zm2 7zm2-21zm4 24zm3-24zm12 13zm4-13zm6 11zm6-6zm17 6zm3-10zm7 15zm5-12zm1 12zm2-13zm3-1zm3 21zm2-13zm1 2zm0-11zm0 18zm5-11zm7 8zm6-13zm1 19zm3-9zm13 11zm1-5zm0-18zm1-1zm2 5zm0 9zm7-5zm2 9zm6-6zm7-5zm1-2zm12-5zm7 1zm10 4zm10-1zm-419 35zm0 3zm7-11zm2 18zm1-10zm4-14zm1 12zm1-11zm2 14zm2-1zm6-7zm1 16zm1-21zm0 18zm0-3zm5 0zm9-8zm5-3zm4 14zm5 1zm2 3zm5-22zm1 8zm2 12zm3-15zm1 0zm2 7zm5-11zm7 17zm9-15zm6 7zm4 10zm5-6zm0-15zm6 9zm3-9zm1 10zm2 13zm4-6zm4-12zm1 4zm1-2zm7 2zm1 8zm1 6zm3-15zm0 1zm7 5zm1-11zm8-3zm2 10zm8 8zm1-12zm2 2zm3-1zm4 3zm2-5zm2 15zm5-15zm8 13zm7-16zm0 4zm10 15zm2 0zm3-6zm3-2zm9-9zm1 5zm2-10zm0 22zm3-11zm12-2zm8 11zm1-4zm3 0zm4-6zm9 2zm3-5zm2-2zm6 2zm5-5zm0 11zm8-4zm16-3zm5-3zm4-2zm8 8zm-340 29zm18 5zm5 4zm4-6zm5 5zm5-12zm4-9zm7 8zm2-1zm2 11zm4-12zm1-1zm6-2zm1 20zm1 1zm5 0zm3-14zm3-8zm4 6zm5 7zm3-13zm3 19zm7-11zm4-4zm6 3zm0 8zm4-9zm9-4zm9 8zm5 1zm5-3zm1 2zm3-12zm1 6zm1 4zm6 5zm4 9zm3-2zm6-7zm11-4zm7-9zm0 13zm0-1zm2-1zm6 10zm1-23zm6 5zm4 10zm1-15zm27 13zm15-5zm34-8zm-248 29zm5 6zm3 4zm2-1zm13-3zm5-4zm0-6zm2 23zm6-20zm7 11zm6-8zm0 8zm5 2zm8 2zm2-16zm1 21zm11-17zm1-1zm3 19zm2-24zm7 8zm0-1zm1 13zm1 3zm1-15zm4 10zm4-8zm4 8zm1-4zm31-7zm22-1zm6-1zm14-2zm-109 29zm1 2zm25-2z" stroke="#A3A500"/>
<path d="M1263 1345zm2 1zm1-5zm27-1zm4-1zm2 4zm5-2zm4 5zm2-5zm20-2zm3 10zm13 0zm10-4zm2 3zm12-3zm3 0zm-115 18zm5 10zm14 1zm1-24zm3 14zm1-7zm3-3zm0 3zm4 13zm5-2zm10-12zm4 5zm0-5zm5 15zm1-19zm11 15zm2-17zm2 14zm3-10zm1 0zm1 2zm4 4zm1 1zm0 3zm3-1zm0-13zm1 7zm4 1zm4-4zm3-3zm2 13zm6 5zm3 5zm3-7zm1-3zm3-14zm2 13zm5 2zm3-2zm2-8zm3 11zm8 3zm1-12zm0 7zm3 6zm1 1zm1-8zm2 11zm4-8zm8-13zm0 6zm2-2zm1 0zm12 5zm4 2zm0-10zm1 20zm1-6zm2-10zm1 8zm3-6zm4 14zm5-5zm5-4zm9 4zm4-4zm5-6zm9 7zm-209 16zm4-1zm11 11zm10-12zm3-2zm0-3zm1 20zm4-11zm2-1zm1 15zm5-17zm9 15zm1-12zm1 12zm1-16zm2 0zm3 8zm3 6zm6-7zm5-3zm0-6zm2 19zm1-21zm0 17zm3-6zm1-5zm0 17zm2-14zm0-1zm1-7zm1 21zm2-2zm4-8zm8 0zm3 8zm1-9zm2-5zm5 14zm7-10zm2 9zm3-15zm0 18zm2-4zm2 5zm6-1zm5-20zm4 1zm2 17zm2-15zm1 17zm0-23zm4 15zm3-11zm16 1zm1 18zm2-1zm2-8zm2 6zm1 0zm8-10zm0-5zm0 4zm4 0zm2-5zm1 20zm1-2zm1 1zm5-5zm0-10zm7 13zm6-11zm1 12zm3-10zm2 3zm7-7zm10 6zm1 5zm2-3zm1-2zm0-5zm1 13zm3 2zm5-16zm2-2zm2 16zm7-6zm10 7zm17 1zm-268 10zm20 15zm7-21zm4 9zm15 9zm5-13zm0 13zm3-3zm0-5zm5 1zm2-13zm0 7zm6 16zm1-22zm5 5zm2-5zm0 21zm2-6zm1 1zm4-7zm1 12zm1-16zm1-6zm0 9zm1 12zm5 1zm3-7zm0-14zm0 7zm3-9zm8 14zm2-9zm1 6zm0 8zm6 2zm1 3zm7-22zm2 8zm4 3zm4 9zm2-9zm7 9zm2-11zm7-9zm1 17zm3-10zm4 1zm0 2zm0 8zm0-19zm4 11zm0-1zm2 10zm14 3zm7-22zm9 9zm1 3zm8-2zm1-6zm0 17zm10-7zm1-11zm3 8zm5 0zm5-8zm2 11zm2 3zm0-14zm2-4zm1 23zm1-14zm1 9zm4-16zm3 13zm2 6zm4-17zm4 12zm1-3zm4 1zm7-4zm8-1zm0 7zm1-7zm1 6zm0 7zm5-2zm5-1zm3 1zm8 1zm-274 4zm3 6zm9 0zm5-7zm4 4zm2-3zm5 11zm0-2zm0-2zm2-2zm4 12zm4 2zm1-16zm2 14zm0-17zm4 22zm3-10zm1 11zm0-15zm2 8zm2-15zm0 3zm6 11zm4-16zm2 9zm2 2zm0-2zm2-1zm4 11zm1 1zm2-17zm1-2zm2 10zm2 6zm1-9zm2-3zm8 2zm6-6zm1 13zm3 6zm1-15zm4 7zm4 7zm2-15zm5 19zm6-21zm1 16zm5-1zm1-1zm1-9zm5 5zm3-1zm2-6zm2-2zm0 4zm1 13zm1 0zm1-11zm2 9zm10-16zm5 6zm11 14zm2 0zm0-5zm1-15zm2-1zm13 1zm3 2zm0 11zm3-4zm1 13zm9-17zm1 7zm2-1zm4 8zm5-14zm4 3zm0 13zm2-6zm1 5zm5 0zm0-5zm5 3zm0 4zm2-18zm0 15zm2 3zm2-21zm0 3zm3 16zm4-2zm3 1zm10-6zm4 2zm5-17zm4 19zm1-12zm-261 40zm10-8zm3 10zm4-14zm6-10zm3 1zm5 8zm5-3zm0 16zm3-22zm0 4zm2 0zm4 13zm10 6zm4-7zm4 2zm0-7zm1-3zm5 8zm1-8zm1 13zm0-14zm2 14zm0-12zm4 1zm0-2zm1 6zm5-6zm3-5zm5 5zm1 6zm2 6zm1-15zm3-4zm7 0zm5 23zm2-10zm3-12zm3 4zm3-6zm0 8zm10-1zm2 8zm0-2zm4-13zm1 23zm2-12zm12 6zm2-11zm2 7zm1 0zm5-8zm0 14zm1-8zm2 13zm1-16zm0-8zm4 7zm4 6zm0-2zm4-4zm2 6zm4-9zm3 10zm9 9zm5-5zm8-4zm4-8zm2-6zm0 8zm2 6zm2 2zm9-15zm1 0zm0 13zm1-7zm11-4zm2 0zm6-3zm3 7zm-239 19zm3 9zm3 5zm2 5zm9-7zm1-13zm2 9zm1-2zm0 13zm3-17zm2 11zm6-4zm1 1zm3 3zm0-2zm2-9zm1 0zm5 10zm1 8zm3-8zm1-1zm3-11zm2 7zm0 4zm0-1zm3 0zm0 3zm0-1zm1-1zm12 3zm4-1zm1-3zm6 1zm1-11zm1 23zm2-14zm0 13zm1-20zm0 6zm1-6zm4 0zm2 21zm8-16zm1 13zm1-19zm1 2zm1 18zm3-8zm1 10zm2-5zm4-4zm7 1zm2 5zm5-15zm1-3zm1 1zm2-4zm2 0zm2 24zm1-14zm3 0zm5 6zm7 0zm4-4zm0-3zm8-4zm2 0zm0-5zm2 17zm12-14zm2 1zm8 2zm3 2zm2-6zm5 13zm7-14zm1 12zm19-10zm-220 39zm13-16zm6 19zm4-8zm2-12zm0 18zm2-5zm0-7zm0-6zm3 5zm1 13zm2-7zm1 12zm2-23zm3 17zm2-11zm3 6zm0 4zm1-16zm2 23zm0-2zm0-5zm3-13zm0 18zm0-14zm0 9zm8 1zm1-1zm0-5zm1 2zm0-12zm5 7zm4 2zm6-9zm0 23zm2-4zm1-18zm1 15zm0-6zm1 1zm2 7zm5 5zm2-21zm3-3zm2 20zm5-12zm0 13zm1-10zm5-8zm1 4zm1-1zm3-6zm1 9zm0-5zm0 4zm1 8zm7-10zm2 16zm3-5zm1-2zm1 5zm2-8zm7-9zm7 15zm1-11zm0 3zm9-9zm1 2zm12-3zm3 20zm1-17zm1 5zm-169 21zm18 9zm3-3zm7-6zm1 11zm1-7zm3 15zm1-23zm3 24zm3-20zm4-1zm1 1zm3 15zm1 0zm6-11zm0 4zm1-3zm1 2zm3-10zm0 13zm3 0zm9-8zm1 12zm1-4zm17-11zm5 5zm1-8zm6 0zm6 12zm6-3zm2-4zm1-1zm14 9zm1 2zm40-14zm-152 31zm7 7zm6-12zm1 3zm11 9zm2-7zm2-7zm0 18zm4-16zm26 6z" stroke="#7CAE00"/>
<path d="M2602 567zm12 2zm12 0zm5 5zm3-17zm-89 39zm6 2zm11-3zm11 4zm1-4zm1 2zm6 0zm5-11zm1 13zm14-8zm5 4zm0-6zm2 7zm1-8zm5-5zm0-6zm5 19zm2-11zm1 11zm6-15zm7-2zm9-1zm1 14zm7 4zm5 1zm6-9zm7 9zm15-9zm1 3zm-156 24zm9-11zm8 5zm1 12zm2-10zm3-4zm9-7zm2 9zm2 9zm1-4zm2-1zm10-13zm4 5zm4 1zm1 1zm0 8zm2 5zm1-18zm1 6zm5 9zm2-6zm5 11zm8-9zm1-6zm3 17zm3-3zm1-3zm1-12zm3 2zm2 9zm7-9zm0-5zm2 14zm1-7zm2-6zm6 8zm0 2zm2-12zm5 12zm11-9zm5 1zm4 9zm2-4zm3 13zm2-21zm10 8zm1 7zm1 2zm1-7zm1 7zm5-1zm1-16zm1 5zm2 11zm1-10zm1-4zm1 6zm2-6zm6 18zm3-8zm9 3zm-208 10zm5 17zm9-17zm2 0zm7 17zm4-14zm1 17zm6-21zm3 0zm2 11zm7-11zm10 16zm3-16zm1 0zm2 11zm3 0zm0-1zm2-10zm9 21zm3-18zm0 1zm1 3zm6 9zm0-14zm3-4zm2 17zm1-12zm3-3zm2 20zm2-15zm3 13zm1-9zm8 10zm5-7zm1 1zm1 7zm1-16zm1 15zm1 2zm1-3zm0-1zm11 1zm2-17zm1 3zm0 18zm0-14zm3 5zm2-6zm11-4zm0 13zm4-3zm3 8zm7-6zm1-2zm5-1zm1-8zm8 8zm1 2zm9-2zm5 0zm6 7zm0-19zm0 18zm2-16zm2 1zm4-1zm3 15zm7-9zm16 7zm18 6zm-277 22zm25 0zm14 0zm0-7zm1-8zm9 17zm1-3zm1-2zm3-2zm2-2zm5 8zm0-1zm3-2zm1-3zm5-2zm1 1zm2 2zm3-16zm3 6zm1 9zm0-11zm7 9zm1-3zm6 5zm3-7zm4-6zm7 6zm1 3zm1 1zm2-1zm2 2zm0 2zm7-1zm7-10zm2 18zm1-2zm1-16zm2 7zm0 7zm4 1zm3-15zm4 10zm4 8zm0-20zm8 16zm1-2zm1-4zm1-9zm5 0zm8 14zm1-10zm5 3zm6 9zm3-1zm4-15zm2-3zm0 13zm14-4zm2 1zm6 0zm1 9zm2-16zm3 8zm14-11zm1 17zm8-2zm3-10zm0 1zm3 9zm7-10zm2 18zm2 1zm8-24zm7 18zm3 1zm4-16zm-274 44zm2-15zm9-5zm4 21zm3-8zm8-2zm0 9zm4 1zm8-4zm2-3zm8-11zm1 6zm2 5zm2 7zm0-12zm5 8zm8-3zm16-13zm3 2zm1 0zm0 7zm1-11zm1 20zm2-3zm1-16zm1 1zm2 16zm0-19zm1 22zm2-10zm1 10zm3-1zm0-5zm1-15zm1 1zm2 14zm11-16zm2 16zm0 8zm3 0zm3-4zm1-2zm3-15zm0 2zm1 3zm13 11zm2 0zm0-14zm2-4zm3 11zm1-7zm2 19zm5-3zm1-21zm1 24zm5-5zm0-19zm2 24zm23-20zm15 18zm1-12zm4 1zm14 3zm1-3zm2 7zm2 2zm2 0zm2-11zm10 15zm1-15zm3-4zm1 8zm7-9zm3 19zm10-4zm4-4zm1 0zm7 1zm2 5zm1-13zm0 12zm1-20zm1 5zm5 7zm4 1zm3 3zm-286 23zm3 5zm0 2zm2 1zm0-11zm12-7zm1 10zm9 10zm2-11zm1-4zm0 13zm4-22zm1 7zm4 6zm1-7zm0 18zm0-10zm1-4zm2 5zm2-13zm7 18zm5-3zm2-12zm2-4zm0 4zm3 4zm2 14zm0-15zm8 2zm2-9zm5 23zm6-12zm1-5zm6-4zm4 17zm2-17zm6-3zm6 14zm3-2zm0 8zm1-3zm8-11zm0-4zm3 8zm2-3zm4-7zm2 1zm2 4zm1 15zm4-3zm0-15zm2 12zm5-11zm1 12zm3 0zm4 7zm1 1zm2-17zm0-6zm8 20zm4-3zm1 2zm5-8zm2-4zm2 12zm1-16zm1 1zm0-2zm7 21zm6-18zm0 4zm4 15zm3-19zm2 8zm8-13zm9 24zm7-2zm4-1zm1-16zm4 9zm2-14zm2 15zm0-11zm1-1zm3 18zm3-2zm5-10zm2 15zm1-2zm11-6zm1-12zm1 18zm1-5zm1-16zm4 8zm1-2zm2 12zm3-10zm6 7zm3-5zm2 11zm8-1zm-309 27zm8-3zm0-1zm4 4zm1-8zm0 9zm2-23zm3 5zm4 16zm1-9zm3-6zm0-5zm2 17zm2-11zm0 1zm9-3zm4-5zm5 22zm4-1zm2-15zm3 8zm1-4zm3-3zm3-2zm0 12zm9 2zm2-14zm2-5zm0 8zm1 11zm1-13zm10 0zm5 13zm3-17zm1 17zm4-7zm6-6zm1 9zm2-9zm1 2zm1 6zm1-14zm3 12zm5-3zm2 3zm0-5zm1-6zm5 14zm4-1zm5 1zm1-9zm1-6zm1 18zm2-14zm2 3zm3 14zm2-14zm3 4zm0-3zm8 6zm4 2zm2-5zm9-8zm1 13zm2-12zm1-5zm6 11zm3 12zm0-10zm11 10zm1-19zm1-3zm4 22zm6-19zm0 2zm1 0zm2 3zm3-9zm0 4zm1 1zm8 6zm1 9zm2 2zm1-8zm10 8zm1-2zm0-14zm3-3zm9 18zm2-2zm4-10zm8 9zm5-9zm3 15zm8-6zm6-17zm0-1zm2 2zm2 18zm1-17zm1 7zm1 3zm0-10zm-293 34zm7-2zm1-6zm4 16zm5-13zm3 3zm3 8zm1-15zm5 13zm2-9zm2 2zm3 15zm1-1zm4-13zm2 12zm1-18zm3 18zm4-20zm12 5zm3 16zm1-18zm6-4zm10 20zm3-2zm5-9zm7 0zm3-8zm3 11zm4-9zm1 13zm2 1zm1 3zm3 1zm2-2zm1 0zm1-4zm1 5zm2-12zm2 0zm1 8zm1-11zm0-5zm3 14zm4 0zm3-7zm1 8zm1-7zm4 15zm1-8zm4 6zm1-17zm2 19zm2-14zm0 9zm5 3zm7-5zm8-3zm8 2zm7-2zm2-12zm3 1zm1-2zm4 4zm3 3zm7 7zm3-1zm1-14zm2 5zm5 4zm1 7zm5-14zm3 14zm1 1zm4-12zm1 5zm1-6zm0-2zm1 9zm1 7zm8-5zm0-5zm2-6zm5 4zm2 4zm6 6zm0-15zm1 6zm3-3zm4 4zm2 9zm7-11zm2 8zm4-2zm1-12zm-251 25zm12 17zm12 2zm3-8zm3-10zm0 22zm5-7zm5-14zm1 22zm1-8zm3-15zm0 21zm1 0zm6-10zm2-10zm5 14zm7-7zm3 1zm1 7zm2-8zm10 6zm1-4zm12 7zm2 0zm8-7zm1 10zm4-12zm1 10zm3 0zm0-5zm2-10zm7 10zm1 6zm3-6zm3 3zm6 4zm0-20zm4 23zm2-20zm2-3zm1 10zm1 8zm1-17zm3-2zm9 21zm2-13zm6 4zm1-5zm1 1zm4 15zm2-18zm1 9zm5-9zm0 18zm0-19zm0 12zm3-6zm3 0zm1 4zm2-14zm2 7zm1-5zm3 19zm3-17zm3 2zm6 2zm4-8zm15 11zm1-5zm1 18zm1-11zm10 0zm2-13zm9 3zm-198 22zm3 2zm34 0zm8 5zm14-4zm10 2zm10-2zm34 7zm26-5z" stroke="#39B600"/>
<path d="M2779 1872zm35 0zm9 1zm2 1zm-108 25zm8-9zm28 3zm16 3zm1-12zm8-4zm7 4zm18 8zm1 1zm2-5zm6-6zm6 0zm13 4zm5 1zm38 12zm6 0zm-269 24zm4 1zm21-15zm30 11zm4-4zm23 0zm10 5zm2-15zm1 7zm6-1zm6 0zm1 1zm3-5zm2 5zm7-3zm1 6zm4-7zm27-8zm1 11zm12-4zm2 13zm2-4zm3 7zm5-18zm0-1zm14 19zm8-5zm1 1zm1-1zm1-8zm0 8zm6-13zm10 4zm7 3zm6-10zm0 7zm5-5zm2 0zm7 10zm4 6zm9-8zm6-12zm13 10zm-296 24zm12-9zm4 7zm14-3zm1-2zm21 12zm4 4zm2-7zm5-11zm5 22zm3-11zm3-5zm0 13zm1 3zm7-6zm10-1zm3-12zm9 13zm4-1zm2-10zm1 4zm1 12zm1-1zm1-21zm9 1zm1 17zm1-13zm1 13zm3 1zm1-1zm7 5zm1-5zm1-6zm0-10zm3 12zm5-9zm1 0zm1 5zm2 5zm2-10zm1 4zm3 11zm1-14zm3 9zm1-1zm1 9zm7-8zm2 8zm0-1zm7-11zm4 13zm1-4zm1 1zm2-2zm9 4zm7-19zm2 14zm1-10zm0 3zm3-8zm10 20zm0-20zm6 20zm0-16zm5-5zm9 7zm9 0zm0 3zm3-12zm1 21zm3-11zm2 3zm7-12zm4 7zm5-4zm1 18zm2-20zm2 8zm2-8zm2 12zm5-3zm7-3zm5 6zm14-7zm-376 23zm9 11zm0 3zm22-12zm0 12zm1 4zm5-13zm8 7zm1 3zm5 4zm5-14zm4-3zm2 5zm9 2zm4-8zm6 13zm4-13zm3 1zm1 9zm1-11zm1 0zm8 7zm2 9zm1 3zm0-19zm2 0zm0-2zm0 9zm2-6zm2-2zm2 5zm1 7zm13-2zm1-6zm3 14zm2-17zm1 18zm2-23zm3 11zm1-10zm4 8zm1 15zm3-24zm6 9zm1 12zm3-14zm2 5zm4 1zm11-12zm9 11zm2 5zm1-9zm1 16zm6-8zm9-2zm6-7zm7 8zm1 9zm4-4zm7-18zm5 13zm5 0zm0-6zm0 3zm4-12zm5 5zm5 8zm3 3zm1-11zm1 17zm2-15zm7 13zm1-18zm1 8zm3 8zm0 4zm2-1zm3-7zm3-3zm3 5zm2 3zm7-18zm12 9zm3 7zm1-12zm0 8zm1-7zm4-2zm0 18zm3-3zm0-19zm1 6zm5 11zm4-15zm7 2zm8 10zm4-9zm1 2zm2 2zm1-9zm1 13zm1-11zm0 9zm0-2zm2 10zm1-11zm1-7zm4 3zm12 5zm-368 33zm8 5zm4-9zm2 5zm6-16zm1 21zm9-4zm2-19zm7 18zm0-1zm5-4zm3 0zm1-9zm2 8zm1-6zm13 13zm3 0zm1-8zm4-9zm7 13zm0-4zm1 5zm1-15zm7 2zm2 0zm4-1zm2 19zm22 0zm1-9zm4 5zm0 7zm8-14zm1 14zm0-23zm2 12zm10 4zm3-15zm10 13zm7-13zm8 5zm1-1zm1-2zm2 1zm1 2zm4 16zm0-19zm1 11zm2 5zm6-3zm3 2zm9-11zm3 2zm0 12zm6-9zm7 11zm0-24zm4 10zm7-6zm2 3zm8-2zm6-3zm0 9zm2-4zm2 12zm1-10zm1 8zm2-9zm8-8zm5 2zm4 6zm3-6zm2 22zm6-22zm2 21zm15 0zm2-23zm1 23zm5-3zm4-15zm3-5zm4 22zm1-2zm3-18zm1 17zm10-1zm0-6zm1 4zm3 4zm1-4zm1-7zm1 3zm8-8zm3 14zm6-5zm1 7zm1 4zm8-11zm6 5zm-377 28zm3-13zm2 16zm9-9zm2-5zm1-5zm0 17zm6-1zm12-13zm5 2zm1 8zm1 6zm8-15zm2-2zm1 5zm6-3zm1 3zm4-10zm10-1zm5 7zm0-7zm7 22zm9-12zm1 8zm2-11zm8 9zm14-2zm15-4zm1-10zm4 23zm0-5zm6-12zm0 13zm5-11zm0-6zm6 4zm4 8zm3-2zm6-13zm2 15zm0-1zm2-7zm6-1zm1 1zm12-5zm1 11zm4-2zm1 8zm1-3zm14 2zm7-4zm1 9zm8-13zm2 6zm6-10zm1 4zm9 4zm12-7zm0-2zm4 1zm3 2zm1 12zm0-5zm4 7zm1-11zm2 2zm3-13zm0 22zm3-9zm4 9zm3-18zm4 16zm3-10zm3 9zm4 0zm1-1zm2 1zm0 3zm3-11zm5 3zm0 6zm4 2zm1-13zm2-8zm0 13zm10-5zm8 9zm1-17zm2 11zm20 11zm12-18zm-373 31zm16-8zm3 0zm8 13zm1-7zm0 12zm2-9zm1 0zm1 0zm1-11zm8 1zm2 19zm4-14zm2 5zm2 12zm26-7zm4 4zm6 3zm3-11zm1-7zm2 16zm1-9zm7 5zm5 1zm8-16zm0 12zm1-2zm2 10zm5-16zm6-4zm2 14zm9 5zm3-14zm3 12zm3 1zm5 0zm5-14zm3 8zm15 8zm12-17zm6-6zm1 15zm0-14zm2 21zm13-22zm1 23zm0-10zm2-11zm5 7zm3 0zm3 12zm5-4zm1-14zm3 6zm2 11zm4 3zm14-14zm1-8zm5 19zm9-17zm4-3zm9 10zm1-4zm4 7zm0-6zm0-5zm2 19zm9-15zm1 15zm2-9zm1 0zm5-1zm2 0zm2 6zm1-16zm4 19zm9-3zm11-7zm5 5zm3-15zm10 9zm0-6zm9 0zm-353 29zm0-1zm23 4zm0-1zm4 7zm4-8zm4-2zm0 12zm5-17zm6 8zm1 15zm6-4zm4-19zm2 3zm2 18zm2-5zm4-9zm11 3zm0 3zm4-2zm3-11zm6 8zm17 2zm5 6zm2-5zm4 3zm6 3zm4-6zm7 5zm1-11zm4 3zm5 12zm3-1zm4-20zm13 5zm3-4zm2 8zm3 15zm4-22zm3 10zm1-12zm2 24zm2-5zm1-5zm0 3zm4 5zm7 0zm8-21zm7 16zm5 6zm2-5zm6 6zm1-3zm2-4zm11 1zm6-8zm3-2zm1 15zm2-12zm4 2zm4-6zm1 14zm1-6zm5 2zm7 6zm5-2zm9-11zm6-2zm6 12zm10 4zm5-19zm5 12zm-284 19zm11 5zm2-5zm4-1zm10 10zm5-20zm2 9zm0 3zm6-10zm4 3zm0-1zm6-4zm6 18zm0-1zm9-17zm7 4zm10-4zm3 8zm6 13zm1-1zm2 3zm1 1zm2-16zm1-5zm1 1zm6 13zm1 0zm2-3zm17 5zm3-3zm4-5zm5 10zm8-18zm4-2zm0 7zm2 12zm2 3zm3-20zm3 5zm3 15zm3-3zm9 4zm2-21zm4 17zm1-1zm2-6zm5-7zm2 2zm4 16zm3-24zm3 2zm5 21zm1-11zm7-10zm10 18zm2-18zm3 17zm2-12zm2-7zm4 17zm16-5zm8-2zm4-5zm4 2zm4-6zm-248 32zm14-4zm14-2zm8 2zm8 5zm8 6zm10-12zm10 8zm0-7zm2 1zm2 13zm18-9zm2-8zm0 2zm13 9zm4 0zm8 5zm2 1zm4-7zm4-10zm1 5zm6 9zm8-2zm3-3zm2 2zm1-6zm2 3zm3-9zm1 15zm17-11zm8 10zm8-11zm6 3zm0 3zm36-4zm-141 25z" stroke="#00BB4E"/>
<path d="M376 1248zm8-5zm15 6zm317-1zm10-1zm11-4zm3-5zm2 10zm0-4zm14-4zm2 8zm2-1zm-384 26zm1-21zm1 14zm4-8zm4 4zm0 12zm0-19zm3 2zm1 15zm3-5zm3-8zm1 11zm3-2zm3-7zm1-6zm2 7zm3 12zm5-8zm2 0zm1 8zm8-8zm1-8zm4 5zm1-4zm2 11zm1 4zm2 0zm6-8zm3 2zm3 5zm12-10zm24 11zm13-6zm2 0zm7 5zm25 1zm12-1zm24-2zm11 3zm2-5zm4 1zm3 3zm5 1zm1-7zm2 1zm6 4zm11 2zm2-5zm6-3zm1 7zm4-11zm4 4zm1 8zm13-10zm4 5zm6 2zm6 0zm5 2zm7-4zm0-2zm2 3zm5-19zm5 20zm7-8zm0-5zm1 15zm1-14zm3 11zm3-6zm2-5zm0 4zm1-3zm0-1zm8 3zm3-9zm1 8zm2 4zm6-2zm6 1zm7 2zm5 3zm0-17zm1 4zm16 10zm-387 26zm4-8zm6-3zm3 3zm6-4zm1 7zm4 6zm3 0zm3 5zm6-23zm3 10zm5 8zm5-12zm1 17zm1-3zm1 3zm0-6zm2 5zm0-7zm1-8zm4 14zm0-10zm4 3zm2 1zm1 6zm1-5zm6-9zm1 10zm1-9zm0-7zm4 12zm7 3zm0 8zm1-19zm0 16zm3 3zm1-11zm4-3zm1 1zm1-1zm1 4zm2-7zm2 9zm0-16zm3 20zm1-8zm5-11zm1 11zm14 4zm2 4zm1-11zm2 6zm5 9zm1-4zm0-12zm1 4zm1 1zm0 7zm1 1zm0-20zm2 22zm1-2zm0-14zm0 2zm1-8zm2 5zm1 0zm2 12zm2 4zm0-13zm1-8zm2 7zm0 16zm2-8zm7-10zm1-5zm0 12zm3 8zm1-9zm2 5zm3-11zm3 2zm3 6zm1 5zm0-18zm1 11zm2 3zm8-9zm0 12zm0-15zm2 16zm0-1zm0-2zm1-15zm2 4zm1 0zm0 13zm1-14zm1 14zm2-16zm2 6zm1 8zm1-4zm1-3zm3-9zm0 5zm4-3zm6 15zm2-15zm3 22zm3-7zm0-12zm1 4zm4 1zm1 2zm0 4zm1-14zm4 3zm1-3zm1 2zm2 20zm2-7zm4 2zm3-5zm2-6zm2 14zm2-12zm0-7zm1 18zm1-20zm1 5zm0-1zm0 9zm2-6zm1 9zm1-4zm0-6zm1 3zm0-5zm1 4zm2-7zm11 7zm3 2zm2 7zm2-8zm1 3zm7 0zm1 8zm2-7zm0-12zm1 2zm0 18zm3-14zm5 16zm3-17zm7-4zm4 13zm6-8zm5 7zm6-8zm7-5zm4 1zm6 1zm4-2zm3-2zm-325 28zm4 4zm7-5zm2 13zm2-3zm10-8zm1 2zm3 7zm1 7zm8-12zm6 10zm0-12zm5-2zm2 15zm2-1zm5-6zm2 5zm2 0zm2-11zm1 7zm0-3zm5 3zm7 6zm3 3zm12-16zm1 3zm3-4zm3 12zm1-7zm4 8zm3-7zm1-8zm3 6zm2 1zm0-10zm2 9zm2 10zm2-10zm10-5zm2 14zm4-13zm0 3zm2 8zm0-3zm5-7zm1 4zm1 6zm1-8zm2 0zm6-5zm1 9zm3-6zm1 9zm3-11zm1 6zm7-5zm1-4zm1 15zm3-11zm0 9zm3-3zm0-10zm10 2zm0-3zm1 8zm6 6zm4-7zm1-7zm6 8zm9-5zm1 10zm4-13zm1 0zm11 1zm8 3zm7-1zm3-3zm-144 26z" stroke="#00BF7D"/>
<path d="M1742 723zm11 1zm4-7zm9 5zm-149 16zm1 11zm9-11zm3 9zm1-7zm6 4zm3-14zm1 4zm6-8zm6 10zm6 1zm1 1zm4 0zm7 0zm5-2zm1 7zm2 6zm1-7zm3-8zm1 13zm1 2zm10-15zm3 14zm2-11zm5 7zm2 0zm7-12zm0 11zm1-10zm0 13zm0-1zm4-11zm0 4zm2 11zm10-12zm3 1zm3-4zm1 8zm0-1zm0-14zm6 18zm0-14zm1 7zm4 10zm10-9zm3-3zm1-5zm1 17zm0-5zm2-1zm2 6zm0-23zm0 4zm4 18zm0 2zm3-8zm2-8zm1 11zm1-11zm6 11zm6-11zm3 7zm4 1zm2-16zm10 2zm0 8zm3 10zm16-15zm2-1zm2-3zm3 11zm2 7zm1-1zm7-14zm2 19zm4-21zm1 13zm-288 23zm5 7zm2-9zm11 13zm1-11zm1 7zm1-17zm7 17zm0-1zm12-14zm8 9zm2-11zm6 7zm1-1zm6 2zm0-2zm1 15zm1-5zm1-5zm6-14zm0 22zm1-14zm4 6zm3-7zm6-7zm0 1zm3 0zm0 2zm3-2zm2 12zm0 2zm2-1zm1-7zm6 4zm3-10zm0 13zm0 9zm7-15zm0 8zm2-1zm0 9zm1-19zm2 9zm8-5zm0-1zm4 3zm5 7zm0-16zm1 3zm1 2zm1 9zm1-10zm5 5zm2 3zm9-6zm2 15zm0-21zm6 1zm1 5zm8-1zm7 7zm5 5zm6 4zm3-17zm3 0zm1 0zm1 0zm5 7zm1 5zm2 3zm1-11zm2-8zm2 6zm6 0zm2 13zm3-9zm6 5zm15 5zm0-6zm14 7zm1-4zm0-3zm1-10zm6 6zm1-9zm1-2zm0 4zm1 13zm1-8zm3 9zm5-19zm3 5zm5-3zm1 19zm-284 20zm3 5zm5-4zm14-9zm3 5zm2 7zm5-6zm3 7zm8-21zm10 23zm5-23zm1 24zm2-15zm3-1zm6 5zm5 7zm0-17zm2-2zm0 7zm1 4zm2-7zm3 11zm1-10zm1 2zm2 13zm0-6zm1 0zm3-4zm0 4zm18-15zm3 23zm4-10zm1 7zm10-15zm3 3zm4-4zm0 18zm0-10zm1 12zm6-14zm3-6zm1 13zm0-14zm1 12zm0 8zm0-23zm0 8zm1-1zm7 8zm1 7zm3-20zm1 10zm1 11zm2-17zm3 14zm0-11zm2-9zm5 18zm13-4zm11-8zm4 18zm3-16zm1-6zm6 22zm11-13zm2-3zm3-7zm8 6zm0-1zm6 13zm2-12zm1 14zm2-18zm1 7zm8 8zm4 6zm5-7zm2-16zm6 13zm0-6zm8 6zm7 2zm0-16zm-294 31zm15-1zm6-2zm11 10zm4-10zm7 12zm0 4zm4-4zm0 9zm2-13zm3-5zm8-2zm4 13zm0-14zm2 11zm1 4zm1 5zm0-6zm3-2zm1-10zm0 15zm1 3zm0-20zm1 5zm3-2zm1 18zm6-7zm2-4zm0 8zm1-10zm1-8zm1 20zm5-20zm2 20zm0-22zm7 6zm0-4zm3 5zm2 2zm0-5zm2 6zm3 6zm4-3zm2 8zm5-4zm4-13zm0 12zm1 5zm1 1zm2-10zm1-5zm2-2zm1 16zm3-1zm6 1zm4-4zm2-16zm1 6zm4-6zm1 9zm5 11zm3-19zm4 6zm3 4zm1 2zm5-5zm6-4zm2-5zm6 11zm1 10zm18-11zm3 10zm4-1zm1-12zm0 9zm3 2zm0 1zm1-20zm7 24zm10-8zm0-11zm1 9zm2-12zm4 18zm2 4zm3-5zm5 3zm2-4zm4-14zm0-3zm5 1zm1 0zm2 12zm0-14zm0 21zm4-3zm7-11zm-237 22zm23-2zm8-2zm7 10zm8-6zm10-3zm11 17zm8-10zm3 7zm6 1zm2-15zm6 7zm0-1zm11-1zm0 9zm4-15zm2 10zm2-1zm1 12zm4-12zm3-9zm6 3zm2 13zm4-11zm3 19zm1-19zm2 12zm1-8zm3-3zm1 15zm7-10zm0 9zm1-12zm5-8zm1 24zm2-2zm1-16zm5 8zm1-14zm5 17zm0 3zm5-5zm3 4zm1-14zm4 4zm0-1zm0 16zm2-9zm0-12zm3-2zm5 10zm1-9zm12 11zm1-7zm2 13zm1-14zm2 0zm1 10zm6 2zm10-16zm-188 25zm27-1zm22 13zm7-12zm18 7zm2 0zm1-6zm11 2zm8-1zm0-2zm3-1zm1 7zm8-2zm5-2zm7 10zm19-8zm13 1z" stroke="#00C1A3"/>
<path d="M2358 1916zm3 5zm3-12zm4 14zm2-15zm-45 33zm9-12zm0 2zm3 5zm3 13zm0-10zm6-4zm4 14zm2-14zm2 7zm1-3zm1-13zm1 17zm5 1zm5-7zm5 10zm7-10zm2-3zm1 6zm-97 34zm23-8zm9 2zm2 2zm7-18zm5 21zm1-6zm0 7zm13-5zm1 1zm1-3zm2-7zm5 6zm5 3zm2-3zm6-12zm5-2zm1 22zm9-10zm3-1zm5 5zm4-17zm0 3zm1 8zm2 7zm10 0zm1 3zm1-8zm21 8zm4-1zm23 3zm-170 17zm0 3zm8-10zm4 3zm1 0zm9 11zm2-10zm0-7zm2 16zm2-1zm18-15zm8 9zm5-10zm10 18zm10-6zm4-11zm2 18zm3-12zm0-6zm2-2zm1 15zm0-14zm3-1zm3-2zm2 14zm1-8zm3-6zm0 11zm12 10zm8-10zm3-1zm4 7zm2-4zm14-8zm8 7zm2-5zm0 4zm4 10zm4-7zm4 8zm0-5zm7 5zm-185 17zm6-3zm3 0zm8-5zm4 0zm5 6zm1-4zm2 0zm4 1zm11 13zm5-18zm5 14zm12 4zm1-7zm9-4zm2-11zm1 18zm2-16zm2 4zm3 0zm4 9zm4-6zm3-4zm0 2zm1-4zm6 0zm0 6zm5 8zm3-14zm1 11zm1 5zm2 2zm1-2zm1-12zm7 9zm1-6zm5 7zm4-16zm1 19zm0-8zm1 7zm6-14zm7 1zm1-4zm7 17zm8-10zm9 6zm4 0zm1 6zm3-19zm0 17zm1-3zm1-18zm1 18zm10-1zm6 2zm5-7zm1 0zm1 9zm0-5zm9-15zm5 15zm6 5zm2-19zm0 12zm1 4zm13 1zm8-8zm-273 34zm10-17zm13 19zm0 2zm11-23zm1 16zm9-5zm1-10zm5 10zm4-9zm0 8zm3 0zm2-9zm5 18zm4-1zm3-7zm6-3zm3 6zm0-15zm6 8zm2-8zm8 21zm2-13zm4 10zm4 2zm2-6zm5-2zm1 11zm3-10zm7 9zm5-13zm9-9zm2 17zm7-13zm1 13zm4 7zm1-16zm6 11zm3-19zm2 8zm5 7zm7 0zm2-3zm7-7zm2 5zm6 5zm9-1zm4-2zm14-9zm1 21zm0-5zm0-6zm13-6zm0 8zm4 3zm1-16zm1 17zm1 1zm2-5zm12-8zm0-1zm6 10zm3 6zm6-19zm-250 24zm3 17zm12-3zm2-5zm2-5zm10 17zm2-17zm6 7zm4 5zm3 0zm1-18zm7 22zm5-16zm0 16zm8-16zm5 8zm4 1zm0-14zm0 12zm9-6zm11 16zm2-19zm7 11zm5-15zm2 6zm1 16zm1-9zm1 2zm3-10zm2-4zm7 12zm0-6zm1 4zm0-4zm3 0zm1-5zm5 1zm0 20zm7-17zm2 18zm5-4zm4-10zm5 12zm4-17zm1 19zm1-17zm9-2zm2 16zm0-14zm1-2zm1 2zm6 2zm2 11zm7-7zm4-13zm1 23zm4-14zm3-8zm1 12zm7-2zm8-11zm0 1zm4-1zm0 3zm5 4zm5 13zm2-8zm1-1zm3 10zm5-5zm8 0zm5-9zm0 13zm2 1zm4-4zm1-6zm3 8zm0-7zm10 9zm-282 9zm6-2zm2 18zm2-5zm25-4zm5 11zm6-11zm3 4zm1 4zm6-10zm3 11zm1-10zm1-11zm5 1zm10 8zm2-5zm3 3zm11 4zm1 13zm2-10zm0-14zm1 16zm3 4zm0-16zm9 9zm2-10zm7 0zm2 2zm0 7zm4-11zm0 3zm1 20zm4-6zm6-3zm0-10zm2 0zm1 16zm2-19zm6 9zm0 4zm16 4zm0-6zm2-7zm3-4zm8 2zm1 9zm1 10zm0-18zm4-2zm1 10zm36-10zm15 7zm0 3zm3-1zm5 5zm1-13zm0 3zm9 16zm0-2zm0-20zm1 3zm3 8zm4-8zm0 8zm5 7zm7-12zm5 13zm2-18zm0 13zm4-1zm4 0zm6 2zm11-6zm3 9zm0-5zm1 7zm9-14zm-300 26zm9-5zm2 11zm0-6zm22 7zm4 3zm5 6zm3-6zm10-16zm2-1zm2-1zm6 2zm1 8zm0-1zm2 10zm12-15zm1 12zm10-1zm4-1zm26 6zm8 1zm14-14zm14 0zm14 8zm1-14zm2 2zm7 19zm7-19zm2 1zm3-2zm7 11zm2-11zm3 16zm5-17zm6 12zm7-9zm1 14zm6-18zm5 16zm7-3zm1 0zm5 0zm6-1zm0 3zm8 6zm1-1zm3-16zm7 7zm5 4zm0 7zm8-20zm3 10zm4-9zm7 1zm2 7zm0-9zm6 18zm3-14zm1-4zm1 20zm4-19zm-111 28zm56 5zm5-6zm19-2zm33-3z" stroke="#00BFC4"/>
<path d="M2961 1243zm22 6zm-1 12zm8 8zm1 1zm2-9zm0 2zm4 1zm3-6zm7 2zm1 6zm5-1zm22 9zm-55 5zm12 10zm3-2zm7-8zm1 4zm1 13zm3-1zm2-6zm1 7zm13-3zm3-7zm0 11zm0-22zm10 24zm0-12zm0-3zm11 5zm5 7zm1-19zm2-1zm10 21zm7-1zm-81 14zm10-1zm7 2zm4 1zm5 0zm1 5zm3-12zm1 5zm1 9zm1-7zm1 2zm0 10zm8-1zm2-14zm4-5zm5 9zm2-11zm11 14zm3-9zm1 11zm3 5zm1-19zm1-3zm1 5zm3 1zm2 1zm2 13zm0-12zm1-1zm3 7zm2 2zm2-1zm3 6zm1-13zm2 14zm0-11zm1-9zm4 20zm3-11zm6-1zm2-2zm11-7zm0 11zm1 1zm3 5zm-137 12zm1 9zm6-2zm0-12zm4 0zm9 19zm1-19zm6 9zm7 1zm2-1zm1-10zm1 24zm10-1zm4-2zm0-3zm0-7zm2-6zm1-5zm2 14zm0-2zm3 10zm1-15zm1 10zm18-11zm4 0zm4 0zm0 14zm1-6zm1-14zm1 10zm2-8zm0-1zm2 17zm3-5zm5 0zm7 5zm0 2zm0-8zm0 11zm3-16zm1 14zm4-2zm2-13zm2 0zm1-4zm2 9zm5 9zm4-17zm6 14zm4-8zm6-5zm12-3zm-167 46zm27-4zm2-5zm0-12zm1 21zm2-13zm8 8zm0-5zm1-10zm9 17zm1-5zm6 10zm7-20zm2 14zm2 1zm8-1zm0-4zm10-3zm0 13zm2-16zm3 12zm0-5zm0 6zm15-17zm1 1zm1 7zm2 12zm3-6zm4-7zm1-3zm0-8zm2 14zm2-5zm1 12zm0-3zm6 0zm0-11zm4 14zm8-6zm4-14zm14 3zm-143 24zm1 7zm23 0zm27-9zm1 8zm4-7zm0 6zm8-4zm3 17zm2-12zm4 0zm4 0zm29-9zm3 9z" stroke="#00BAE0"/>
<path d="M1547 724zm19 0zm8-2zm18-9zm4 9zm4-13zm19 12zm-70 20zm2-3zm0 6zm9-2zm0-11zm4 17zm2-15zm18 7zm0 4zm2-13zm5 14zm7-11zm3-9zm10 9zm4-1zm22 4zm-149 30zm9 2zm6-4zm16 5zm1-13zm7 1zm2-3zm3 3zm4 8zm1-15zm3 8zm11 10zm0-10zm0 4zm4-4zm3 11zm14 0zm12-6zm5 1zm-108 23zm7-3zm15 5zm14 9zm2-8zm10-5zm1-7zm3 20zm9-8zm1-11zm15-2zm9 3zm1 4zm-113 27zm9 10zm0-6zm4-2zm3-3zm9 12zm3 0zm3-8zm0-5zm3-1zm2-2zm1 7zm0 4zm5-5zm0 4zm1-10zm5 9zm2-5zm0 12zm2-5zm8-3zm1-7zm1 10zm2-18zm0 2zm3 8zm4 13zm1 0zm10-17zm29 4zm-156 25zm14 5zm0-10zm3 19zm7-3zm0-5zm2 7zm1-18zm13 17zm8-5zm2-15zm0-1zm3 4zm0 2zm3 5zm1-8zm1 15zm1-10zm2-5zm3 17zm1-11zm2 5zm8-6zm2 8zm4 5zm2-21zm1 22zm2-22zm6 12zm1-1zm3 9zm4 3zm1-7zm2-3zm2-12zm2 15zm1-16zm6 4zm1 18zm2-20zm12 20zm-158 26zm8-8zm5 0zm1 0zm23-5zm1 2zm1 10zm1-2zm3-8zm3 10zm1 0zm1-2zm8-15zm2 5zm1 0zm1-10zm1 4zm0-5zm2 5zm5 2zm3-3zm2 0zm2 19zm3-3zm0-2zm2-2zm1 6zm8-14zm3-3zm1-5zm2 3zm1 16zm4-11zm15-4zm4 15zm8-6zm2 0zm0 8zm1 3zm2-12zm1 6zm4-6zm0 7zm1-5zm1 5zm1-1zm1 1zm1-8zm1 10zm9-12zm4 3zm5-9zm4 19zm15-10zm-184 34zm1 3zm1-17zm10 0zm8-2zm1 16zm6 3zm0-15zm6-1zm0 2zm1-4zm1 0zm3-4zm2 22zm7-14zm5 12zm5-4zm1-17zm4 20zm0-11zm0-7zm5 16zm7-16zm1 17zm0-12zm7-3zm10 16zm1 3zm4-13zm2-7zm6 19zm7-5zm0-15zm1 18zm2-12zm0 12zm4-11zm3 6zm2-14zm1 4zm1-4zm1 12zm3-11zm2-1zm7 18zm5 1zm2-21zm1 22zm4-17zm6 9zm4 1zm4-8zm2 13zm2-18zm2 11zm5 3zm1-7zm0-2zm7 9zm1-12zm14 15zm-201 21zm6-14zm14 9zm4 7zm3-4zm5-3zm0-1zm5-8zm4 20zm3-19zm0-1zm2 8zm3-5zm1-4zm1 23zm1-15zm8 7zm1-10zm4 12zm8 0zm4-16zm1 11zm6-2zm3-3zm3-6zm6-1zm5 11zm2 10zm2-15zm2-4zm10 22zm4-22zm1-2zm2 19zm3-15zm3 13zm5-8zm2 1zm7 1zm0 12zm2-22zm2 14zm1 9zm2-10zm4-10zm3 15zm1-4zm2-2zm4 3zm1 5zm2-19zm3 5zm7 6zm2-8zm2 17zm1-10zm1 4zm0-1zm6 5zm-170 19zm2 1zm0-14zm10 18zm9-13zm6 18zm1-2zm6-19zm8 2zm5 9zm2 10zm2-9zm0 4zm2-6zm4-13zm1 22zm0-6zm1-12zm4-4zm1 21zm6-5zm2-7zm3-8zm7 16zm2 3zm2-4zm5-3zm14 5zm14-4zm8-5zm2-3zm1 10zm1-6zm2 4zm6-3zm0-6zm2 17zm10-1zm3-3zm0-5zm8-4zm3 12zm1-2zm1-1zm-152 10zm6 9zm1 3zm4-3zm3 3zm1-10zm1 5zm6 11zm1-15zm0 12zm10-3zm0-10zm16-1zm2 3zm3-1zm0 18zm4-19zm2 12zm1-17zm6 12zm17-2zm9-3zm1 11zm6-1zm3 6zm7-5zm2-1zm5-7zm1 0zm2 0zm3-5zm3 14zm0-17zm1 17zm0-16zm1 18zm1 1zm3-20zm4 20zm6-4zm1-11zm1 15zm1-5zm0-3zm8 0zm1 3zm5-16zm4 22zm5-19zm0 18zm1-1zm3-18zm-141 24zm3 4zm2-4zm10 6zm1 7zm0-5zm1 5zm6-2zm2 1zm5-2zm1 10zm1-2zm0-6zm1-5zm3 0zm2-4zm4 17zm4-18zm3-4zm4 19zm2-8zm0-1zm2 7zm0-7zm0-5zm3 7zm3 12zm5-5zm5-12zm1 9zm2 3zm7 4zm0-1zm1 0zm4-21zm1-1zm0 7zm0-5zm5 10zm3 3zm0 4zm3-16zm3 13zm2 5zm1-11zm0 9zm9-9zm5-4zm-89 34zm9-6zm1-7zm7 2zm3 3zm5 4zm7-7zm11 3zm1 7zm4-1zm19-5zm1-2z" stroke="#00B0F6"/>
<path d="M1658 645zm8 4zm7-5zm27-11zm5 8zm1 5zm1-9zm2 12zm7-3zm2 1zm7-5zm4 7zm2-9zm8 5zm16-1zm7 0zm-125 10zm6 10zm6 5zm4-1zm1 6zm1-3zm3-3zm1 1zm3-15zm10 6zm1 0zm1-3zm2 9zm0 4zm10-1zm8-1zm3 3zm1-1zm0-8zm2-5zm13 12zm2-9zm0 14zm0-19zm4 2zm9-1zm8-6zm1 15zm3-8zm1 5zm0 12zm1-5zm1-10zm0 11zm2-3zm8 4zm5 0zm0 2zm16 1zm0-5zm4-10zm2-4zm0 17zm3-16zm1 3zm5 8zm6-8zm3 3zm13-12zm18 24zm-228 23zm6-11zm6-8zm4 10zm5 1zm4 8zm2-7zm5 7zm1-6zm1-3zm5 1zm0-12zm4 7zm1 11zm1-17zm1 10zm3 7zm4-13zm0 9zm10-10zm3-5zm1 1zm3 7zm11 8zm0-16zm2 16zm1-7zm1-5zm1 0zm0 9zm2-8zm2-2zm0-3zm6 3zm2 9zm3 0zm8 3zm4 0zm0-1zm1 8zm1-10zm1 6zm1 2zm4 3zm0-16zm1 16zm2-6zm1-12zm2 11zm1-16zm3 18zm10 5zm3-6zm5-7zm4 6zm21-12zm0 17zm6-8zm2-3zm6-8zm1 3zm2 3zm4 3zm1 0zm5-11zm1 9zm2-10zm0 18zm4 0zm0-6zm2 7zm3 3zm1-20zm1 18zm6-2zm1-3zm3-5zm7 5zm4-3zm4 1zm0-7zm-222 29zm2 2zm4 6zm2-13zm8 4zm3 12zm2-18zm0 18zm7 0zm4-13zm3 10zm1-15zm1 2zm2-3zm1 19zm2-13zm0 13zm1 1zm1-19zm1 19zm0-5zm0-14zm2 10zm0 4zm2 5zm4-17zm2 17zm2-16zm1 14zm7-5zm2 9zm2-3zm3 3zm6-23zm2 4zm3 5zm2-2zm2-1zm3 17zm0-14zm1-8zm1 8zm5-5zm20 1zm2 8zm1-12zm5-1zm1 6zm1 10zm2 3zm3-7zm0-6zm0 2zm19 4zm0 8zm2-5zm1-13zm1 2zm7 0zm10 11zm0-7zm10 6zm1-7zm5-1zm2 13zm2-20zm1 12zm1-4zm9 10zm3-12zm0 17zm2-16zm2 1zm1 8zm1 2zm7-4zm11 0zm-208 20zm4-6zm5 1zm6 1zm1 1zm11 1zm2 0zm31-3zm1 8zm7 1zm6-10zm10 4zm13 1zm8-2zm0 1zm1-5zm35-2zm15 5zm14 4zm1-3zm2-5zm4 3zm15-2z" stroke="#35A2FF"/>
<path d="M2856 1189zm3-1zm14 6zm3 5zm5-4zm17 3zm-57 3zm7 18zm2 0zm10-7zm8-1zm5-5zm2 10zm9-10zm2 10zm11-15zm5 23zm13-10zm5 8zm2-3zm9-4zm1 6zm13 2zm-106 6zm5-3zm3 7zm0 5zm3 3zm4-16zm1 1zm1 3zm1-2zm2 20zm3-21zm6 15zm0-5zm1 12zm1-23zm7 0zm3 2zm0-1zm1 19zm1 4zm2-9zm3 3zm5 5zm3-4zm8-15zm0 19zm1 0zm4-20zm7 2zm1 11zm0-9zm13-7zm0 12zm5 2zm1 3zm6-7zm4 3zm5-3zm3 2zm4 12zm-143 5zm13-2zm6 7zm0-1zm4-7zm4 5zm6 17zm1-23zm4 23zm3-21zm1 15zm2 5zm0-21zm0-1zm4 3zm6 15zm2-7zm3 12zm3-5zm0 2zm6 0zm2-6zm4 10zm5-11zm0-5zm5 10zm11-14zm1 10zm0-13zm5 5zm4 14zm7-9zm4 13zm2-13zm0 10zm9-1zm4-13zm2 1zm0 5zm14-11zm2 3zm4 10zm22 3zm-158 18zm5-4zm2-2zm14-4zm10 0zm6 19zm7-7zm2-13zm2 9zm7-3zm4 3zm3 14zm7 0zm1-7zm3-7zm8 14zm3-2zm1-15zm1 13zm0-5zm4-1zm0 9zm2-2zm3-18zm2 17zm2 0zm3-10zm4 9zm1-12zm14 15zm3-4zm1-16zm3 21zm1-4zm0 4zm0-6zm6-13zm2 3zm2-1zm1 15zm5-17zm4 5zm20 14zm-166 26zm12-21zm10 21zm0-9zm1-6zm1-7zm1 23zm13-24zm2 6zm3-3zm5 17zm3 0zm1-17zm0 12zm1 5zm2-6zm2 6zm6-16zm2 8zm2-2zm3-7zm7 17zm6-17zm2 3zm0 14zm2-17zm1 8zm4-9zm1-2zm7 17zm9 7zm1-15zm3 6zm5 1zm0-1zm1-5zm1 1zm3-4zm7 5zm0 9zm2-7zm2-12zm2 1zm6 14zm0-17zm8 12zm-147 30zm4 3zm2-2zm15-16zm3 11zm4-6zm1 12zm3 1zm3-7zm2 6zm0-19zm0 11zm2 13zm5-7zm1 5zm4-11zm1 13zm1-2zm5-3zm0 4zm3-15zm2-5zm2 8zm1 3zm1-5zm1 1zm2-5zm2 6zm1 0zm1 2zm2-1zm0-4zm4 1zm0 13zm1-21zm2 6zm1 5zm3 3zm3-8zm2 1zm0 15zm1-10zm10 11zm3-12zm1 5zm3-4zm1 4zm0-7zm1-10zm1 1zm13 14zm4-1zm2-5zm1 7zm3-8zm6 7zm4-15zm1 7zm10 0zm-148 27zm13-3zm7-4zm0 19zm9 2zm2-5zm6-16zm14 10zm4 7zm7-10zm7-7zm2 4zm1 9zm1 0zm0-5zm2 11zm4-9zm8 12zm1-17zm4-1zm0 1zm4 11zm3 0zm4-5zm6-5zm5-4zm1 16zm0-16zm13-2zm-101 27zm16 4zm0 2zm9-10zm12 5zm8 8zm4-13zm1 4zm1 14zm6-13zm1-4zm9 0zm2 1zm5 21z" stroke="#9590FF"/>
<path d="M2741 624zm22-1zm1 1zm-12 9zm4-4zm8 18zm6-21zm11 15zm0 8zm0-7zm4-7zm1 10zm7 3zm5-9zm17 1zm4 1zm-60 10zm2 4zm5 17zm3-12zm12 12zm8-20zm1 13zm7-2zm2 2zm2-8zm2 17zm0-23zm4 19zm5-16zm4 14zm6-4zm9-5zm1 10zm26-3zm10 8zm34-5zm-118 6zm15 1zm1-1zm1 7zm10 17zm5-10zm6-4zm1-7zm3 0zm2-3zm0 18zm2-17zm2 9zm9-5zm1 2zm1 6zm16-1zm1 12zm1-5zm12 0zm8-6zm5 0zm7 7zm7-13zm2 15zm1-8zm1 2zm1-3zm3 8zm13-15zm3 16zm-133 22zm19-9zm0 7zm21-13zm5 19zm2-23zm0 9zm1-5zm11 12zm1-2zm2 0zm2-5zm7 10zm2-11zm1 15zm2-7zm6 8zm1-13zm1-11zm0 15zm1-3zm14-5zm5 6zm2-9zm21 0zm-127 43zm11-8zm4-5zm2 12zm1-21zm0 15zm8-6zm2-2zm11 11zm1 6zm0-19zm1 7zm4-10zm1 7zm3-1zm2 13zm1-14zm0 2zm4 4zm5-7zm2 2zm0-2zm1 7zm2 11zm2-23zm5-1zm6 6zm2 2zm2-7zm1 4zm8 7zm0-8zm5 19zm-93 11zm3 1zm19-2zm7-2zm0 9zm14-2zm22-13zm4 0z" stroke="#C77CFF"/>
<path d="M2395 1144zm1 5zm10-1zm1-2zm-33 24zm5 1zm4-14zm1 4zm2-2zm1 4zm0-8zm2 15zm7-15zm0 9zm2 10zm4-22zm3 16zm4-2zm1 2zm1-3zm1 0zm337 9zm2-16zm5 6zm12-13zm-432 41zm1-5zm10 1zm4 5zm0-5zm2 6zm2-12zm1-1zm3 0zm5 10zm3-9zm5 8zm5-11zm8 0zm2-3zm3 22zm1-4zm5 2zm1-1zm1-14zm1 1zm3-4zm2 2zm1 18zm41 1zm201-19zm3 9zm18-4zm5 3zm8 0zm14-2zm11-8zm-382 41zm8-17zm0 16zm5-14zm1 6zm1 6zm3-16zm0 2zm1 20zm3-10zm5 1zm6-5zm4 12zm4-17zm1 17zm11 4zm6-24zm1 17zm4-13zm9 2zm6 0zm0-1zm32 4zm5-8zm1 6zm40 12zm51-10zm20 15zm91-19zm-335 33zm5 8zm3-18zm6-1zm2 17zm3-11zm6 1zm0 9zm1-17zm4 13zm1-9zm1 9zm2-1zm2 0zm1-13zm1 12zm12-11zm7 3zm2 6zm122-9zm27 5zm6-5zm6 2zm7 3zm11 8zm21-9zm22-4zm14 16zm11-9zm24 10zm2-9zm0 12zm6-6zm3 7zm10 2zm-334 4zm5-3zm345 2zm7 9zm5-10z" stroke="#E76BF3"/>
<path d="M2466 499zm-32 16zm7 9zm2-9zm0 9zm0-7zm3-5zm9 10zm0-7zm2 2zm1-2zm2 2zm11-3zm4 6zm0 3zm1-12zm2-4zm0-1zm5 8zm1-8zm1 14zm0-19zm0 20zm5-14zm0 2zm3 11zm10 0zm5-3zm-103 29zm0 3zm10-13zm3-8zm3 15zm3-11zm2-2zm0 9zm2-2zm1-1zm1-10zm5 10zm3 12zm3-15zm4-8zm2 17zm0 2zm3 2zm0-1zm1-9zm1-3zm1 11zm1 1zm0-19zm1 21zm2-10zm8 2zm0-7zm3 1zm2-6zm1 10zm2 12zm16-7zm0 6zm1-20zm5-3zm11 2zm1 21zm1-21zm2 15zm6 5zm3-7zm6-7zm1 9zm1-7zm1-4zm0-5zm6 20zm7-15zm1 3zm3-5zm16 18zm-156 19zm8 6zm9-13zm7-9zm1 20zm9-13zm4 13zm2-4zm8 4zm12-17zm0 18zm1-8zm1 8zm0-3zm1 6zm1-20zm12 15zm3 4zm0-12zm5-2zm1 3zm1 2zm0 2zm0-5zm4 7zm3 6zm4-22zm2 20zm2-7zm12 8zm2-5zm3-2zm1-8zm2 3zm0-10zm2 21zm4-20zm14 14zm2-2zm-131 11zm0 11zm1 3zm5-11zm5 2zm3 0zm1 15zm1-18zm5 14zm1 1zm2-4zm0 11zm0-12zm4 1zm1-3zm2-6zm0 11zm4-13zm0 2zm0 20zm2-17zm5-1zm1 11zm3-2zm1-2zm1-10zm3 16zm1 1zm1-2zm2-13zm4-2zm1 21zm1-22zm0 9zm8 2zm5-8zm2 5zm1 8zm0-6zm2 11zm5-5zm12 0zm4-13zm1-2zm0-1zm0 6zm2 15zm1-17zm0 11zm0-3zm4 9zm4-6zm1 1zm2-8zm3-10zm3 12zm4-3zm-97 20zm6 4zm7-4zm4 9zm1-4zm10-4zm3-4zm14 15zm0-1zm1-9zm0 14zm3-3zm2-1zm2-7zm6 14zm6-20zm1 11zm10 10zm0-15zm5-4zm10 0zm-67 24zm1 5zm37-6zm2 2zm5-3z" stroke="#FA62DB"/>
<path d="M2817 1091zm34 3zm-85 17zm6 8zm4 4zm4-1zm0-7zm3 7zm3-16zm1-2zm1 12zm3-2zm4-9zm7 17zm3-7zm11-13zm1 18zm1-19zm0 10zm5-4zm4 2zm3-3zm4 0zm4 3zm0-6zm4 14zm4 3zm11-11zm5 0zm2 8zm9 3zm12-10zm-124 23zm12-1zm0 2zm10-9zm1 22zm2-4zm9 6zm5-9zm11-15zm3 20zm1-7zm0 9zm4-4zm1-13zm6-4zm1 4zm1 16zm2-9zm6-3zm0 2zm0 11zm1-8zm2 6zm2-15zm0 18zm1-8zm0-1zm1 10zm7-19zm1 2zm5 1zm5-2zm4 10zm12-7zm5 14zm5-1zm1-10zm7 9zm-116 12zm5 14zm5-9zm7-5zm4-3zm0 9zm4-11zm2 18zm0-7zm0-5zm3-5zm5 8zm0 2zm3-2zm8-9zm2 20zm2-7zm0-10zm4 4zm6-4zm3 5zm1 0zm4 7zm0 2zm11-12zm1-3zm3 11zm2-3zm3-7zm6 1zm2 4zm5-5zm3 9zm0-7zm0 4zm-62 16zm3 6zm1 5zm6-14zm0 3zm0 9zm1-11zm0 6zm8 8zm3 5zm8-9zm1-2zm3 7zm5-10zm5 18zm1-1zm3-21zm0 5zm2-7zm2 1zm2 4zm2 2zm3 11zm0-1zm0-5zm2 11zm2 1zm1-3zm0 2zm6-20zm6 18zm-63 8zm19 5zm4-5zm6 15zm7 3zm4-22zm1 4zm3 14zm8-12zm1 11zm3 0zm1-12zm6 5zm1 12zm25-21zm-61 31zm4-1zm14 0zm0-5zm5 8zm1-7zm5-2zm8 3zm21 1zm1 15zm0-3zm4-5zm1 7zm1-8zm2 8zm3-6zm3 7zm-1 13z" stroke="#FF62BC"/>
<path d="M1459 1272zm2-6zm3 3zm19-2zm-29 29zm24-10zm-44 22zm28-6z" stroke="#FF6A98"/></g>
<line x1="22.4" y1="41.6" x2="22.4" y2="220.4" stroke="#222" stroke-width="0.6"/>
<line x1="22.1" y1="220.2" x2="328.4" y2="220.2" stroke="#222" stroke-width="0.6"/>
<line x1="21.2" y1="74.4" x2="22.4" y2="74.4" stroke="#222" stroke-width="0.4"/>
<text class="s" x="20.3" y="76.2" font-size="5" text-anchor="end" fill="#333">10</text>
<line x1="21.2" y1="108.2" x2="22.4" y2="108.2" stroke="#222" stroke-width="0.4"/>
<text class="s" x="20.3" y="110.0" font-size="5" text-anchor="end" fill="#333">5</text>
<line x1="21.2" y1="141.7" x2="22.4" y2="141.7" stroke="#222" stroke-width="0.4"/>
<text class="s" x="20.3" y="143.5" font-size="5" text-anchor="end" fill="#333">0</text>
<line x1="21.2" y1="175.4" x2="22.4" y2="175.4" stroke="#222" stroke-width="0.4"/>
<text class="s" x="20.3" y="177.2" font-size="5" text-anchor="end" fill="#333">-5</text>
<line x1="21.2" y1="209.2" x2="22.4" y2="209.2" stroke="#222" stroke-width="0.4"/>
<text class="s" x="20.3" y="211.0" font-size="5" text-anchor="end" fill="#333">-10</text>
<line x1="78.0" y1="220.2" x2="78.0" y2="221.5" stroke="#222" stroke-width="0.4"/>
<text class="s" x="78.0" y="227.4" font-size="5" text-anchor="middle" fill="#333">-10</text>
<line x1="133.4" y1="220.2" x2="133.4" y2="221.5" stroke="#222" stroke-width="0.4"/>
<text class="s" x="133.4" y="227.4" font-size="5" text-anchor="middle" fill="#333">-5</text>
<line x1="188.8" y1="220.2" x2="188.8" y2="221.5" stroke="#222" stroke-width="0.4"/>
<text class="s" x="188.8" y="227.4" font-size="5" text-anchor="middle" fill="#333">0</text>
<line x1="244.2" y1="220.2" x2="244.2" y2="221.5" stroke="#222" stroke-width="0.4"/>
<text class="s" x="244.2" y="227.4" font-size="5" text-anchor="middle" fill="#333">5</text>
<line x1="299.6" y1="220.2" x2="299.6" y2="221.5" stroke="#222" stroke-width="0.4"/>
<text class="s" x="299.6" y="227.4" font-size="5" text-anchor="middle" fill="#333">10</text>
<text class="s" x="175.3" y="235.2" font-size="6.2" text-anchor="middle" fill="#222" textLength="23.4" lengthAdjust="spacingAndGlyphs">UMAP_1</text>
<text class="s" font-size="6.2" text-anchor="middle" fill="#222" textLength="25.0" lengthAdjust="spacingAndGlyphs" transform="translate(9.8 133.0) rotate(-90)">UMAP_2</text>
<text class="c" x="157.0" y="184.4" font-size="5" text-anchor="middle" fill="#111">0</text>
<text class="c" x="160.0" y="162.4" font-size="5" text-anchor="middle" fill="#111">1</text>
<text class="c" x="145.0" y="143.4" font-size="5" text-anchor="middle" fill="#111">5</text>
<text class="c" x="135.0" y="197.4" font-size="5" text-anchor="middle" fill="#111">3</text>
<text class="c" x="146.0" y="130.2" font-size="5" text-anchor="middle" fill="#111">19</text>
<text class="c" x="102.0" y="88.4" font-size="5" text-anchor="middle" fill="#111">2</text>
<text class="c" x="149.4" y="96.2" font-size="5" text-anchor="middle" fill="#111">12</text>
<text class="c" x="175.0" y="71.8" font-size="5" text-anchor="middle" fill="#111">13</text>
<text class="c" x="175.4" y="81.4" font-size="5" text-anchor="middle" fill="#111">9</text>
<text class="c" x="53.6" y="130.8" font-size="5" text-anchor="middle" fill="#111">8</text>
<text class="c" x="247.0" y="57.4" font-size="5" text-anchor="middle" fill="#111">17</text>
<text class="c" x="265.6" y="75.8" font-size="5" text-anchor="middle" fill="#111">6</text>
<text class="c" x="282.6" y="71.8" font-size="5" text-anchor="middle" fill="#111">15</text>
<text class="c" x="237.6" y="123.8" font-size="5" text-anchor="middle" fill="#111">16</text>
<text class="c" x="283.0" y="115.8" font-size="5" text-anchor="middle" fill="#111">18</text>
<text class="c" x="289.4" y="134.8" font-size="5" text-anchor="middle" fill="#111">14</text>
<text class="c" x="302.0" y="134.8" font-size="5" text-anchor="middle" fill="#111">11</text>
<text class="c" x="260.6" y="189.2" font-size="5" text-anchor="middle" fill="#111">4</text>
<text class="c" x="274.0" y="201.4" font-size="5" text-anchor="middle" fill="#111">7</text>
<text class="c" x="236.0" y="207.8" font-size="5" text-anchor="middle" fill="#111">10</text>
<circle cx="336.4" cy="66.4" r="1.35" fill="#F8766D"/>
<text class="r" x="342.6" y="68.8" font-size="6.2" fill="#111">0</text>
<circle cx="336.4" cy="73.4" r="1.35" fill="#EA8331"/>
<text class="r" x="342.6" y="75.8" font-size="6.2" fill="#111">1</text>
<circle cx="336.4" cy="80.4" r="1.35" fill="#D89000"/>
<text class="r" x="342.6" y="82.8" font-size="6.2" fill="#111">2</text>
<circle cx="336.4" cy="87.4" r="1.35" fill="#C09B00"/>
<text class="r" x="342.6" y="89.8" font-size="6.2" fill="#111">3</text>
<circle cx="336.4" cy="94.4" r="1.35" fill="#A3A500"/>
<text class="r" x="342.6" y="96.8" font-size="6.2" fill="#111">4</text>
<circle cx="336.4" cy="101.4" r="1.35" fill="#7CAE00"/>
<text class="r" x="342.6" y="103.8" font-size="6.2" fill="#111">5</text>
<circle cx="336.4" cy="108.4" r="1.35" fill="#39B600"/>
<text class="r" x="342.6" y="110.8" font-size="6.2" fill="#111">6</text>
<circle cx="336.4" cy="115.4" r="1.35" fill="#00BB4E"/>
<text class="r" x="342.6" y="117.8" font-size="6.2" fill="#111">7</text>
<circle cx="336.4" cy="122.4" r="1.35" fill="#00BF7D"/>
<text class="r" x="342.6" y="124.8" font-size="6.2" fill="#111">8</text>
<circle cx="336.4" cy="129.4" r="1.35" fill="#00C1A3"/>
<text class="r" x="342.6" y="131.8" font-size="6.2" fill="#111">9</text>
<circle cx="336.4" cy="136.4" r="1.35" fill="#00BFC4"/>
<text class="r" x="342.6" y="138.8" font-size="6.2" fill="#111">10</text>
<circle cx="336.4" cy="143.4" r="1.35" fill="#00BAE0"/>
<text class="r" x="342.6" y="145.8" font-size="6.2" fill="#111">11</text>
<circle cx="336.4" cy="150.4" r="1.35" fill="#00B0F6"/>
<text class="r" x="342.6" y="152.8" font-size="6.2" fill="#111">12</text>
<circle cx="336.4" cy="157.4" r="1.35" fill="#35A2FF"/>
<text class="r" x="342.6" y="159.8" font-size="6.2" fill="#111">13</text>
<circle cx="336.4" cy="164.4" r="1.35" fill="#9590FF"/>
<text class="r" x="342.6" y="166.8" font-size="6.2" fill="#111">14</text>
<circle cx="336.4" cy="171.4" r="1.35" fill="#C77CFF"/>
<text class="r" x="342.6" y="173.8" font-size="6.2" fill="#111">15</text>
<circle cx="336.4" cy="178.4" r="1.35" fill="#E76BF3"/>
<text class="r" x="342.6" y="180.8" font-size="6.2" fill="#111">16</text>
<circle cx="336.4" cy="185.4" r="1.35" fill="#FA62DB"/>
<text class="r" x="342.6" y="187.8" font-size="6.2" fill="#111">17</text>
<circle cx="336.4" cy="192.4" r="1.35" fill="#FF62BC"/>
<text class="r" x="342.6" y="194.8" font-size="6.2" fill="#111">18</text>
<circle cx="336.4" cy="199.4" r="1.35" fill="#FF6A98"/>
<text class="r" x="342.6" y="201.8" font-size="6.2" fill="#111">19</text>
</g>
<g id="panelB">
<text class="r" x="346.0" y="19.2" font-size="14.7" textLength="21.4" lengthAdjust="spacingAndGlyphs">(<tspan font-weight="bold">B</tspan>)</text>
<path d="M373.4 210.9h0m6 0h0m6 0h0m6 0h0m6 0h0m6 0h0m6 0h0m6 0h0m6 0h0m6 0h0m6 0h0m6 0h0m6 0h0m6 0h0m6 0h0m6 0h0m6 0h0m6 0h0m6 0h0m6 0h0m6 0h0m6 0h0m6 0h0m6 0h0m6 0h0m6 0h0m6 0h0m6 0h0m6 0h0m6 0h0m6 0h0m6 0h0m6 0h0m6 0h0m6 0h0m6 0h0m6 0h0m6 0h0m6 0h0m6 0h0m6 0h0m6 0h0m6 0h0m6 0h0m6 0h0M373.4 202.5h0m6 0h0m6 0h0m6 0h0m6 0h0m6 0h0m6 0h0m6 0h0m6 0h0m6 0h0m6 0h0m6 0h0m6 0h0m6 0h0m6 0h0m6 0h0m6 0h0m6 0h0m6 0h0m6 0h0m6 0h0m6 0h0m6 0h0m6 0h0m6 0h0m6 0h0m6 0h0m6 0h0m6 0h0m6 0h0m6 0h0m6 0h0m6 0h0m6 0h0m6 0h0m6 0h0m6 0h0m6 0h0m6 0h0m6 0h0m6 0h0m6 0h0m6 0h0m6 0h0m6 0h0M373.4 194.2h0m6 0h0m6 0h0m6 0h0m6 0h0m6 0h0m6 0h0m6 0h0m6 0h0m6 0h0m6 0h0m6 0h0m6 0h0m6 0h0m6 0h0m6 0h0m6 0h0m6 0h0m6 0h0m6 0h0m6 0h0m6 0h0m6 0h0m6 0h0m6 0h0m6 0h0m6 0h0m6 0h0m6 0h0m6 0h0m6 0h0m6 0h0m6 0h0m6 0h0m6 0h0m6 0h0m6 0h0m6 0h0m6 0h0m6 0h0m6 0h0m6 0h0m6 0h0m6 0h0m6 0h0M373.4 185.9h0m6 0h0m6 0h0m6 0h0m6 0h0m6 0h0m6 0h0m6 0h0m6 0h0m6 0h0m6 0h0m6 0h0m6 0h0m6 0h0m6 0h0m6 0h0m6 0h0m6 0h0m6 0h0m6 0h0m6 0h0m6 0h0m6 0h0m6 0h0m6 0h0m6 0h0m6 0h0m6 0h0m6 0h0m6 0h0m6 0h0m6 0h0m6 0h0m6 0h0m6 0h0m6 0h0m6 0h0m6 0h0m6 0h0m6 0h0m6 0h0m6 0h0m6 0h0m6 0h0m6 0h0M373.4 177.6h0m6 0h0m6 0h0m6 0h0m6 0h0m6 0h0m6 0h0m6 0h0m6 0h0m6 0h0m6 0h0m6 0h0m6 0h0m6 0h0m6 0h0m6 0h0m6 0h0m6 0h0m6 0h0m6 0h0m6 0h0m6 0h0m6 0h0m6 0h0m6 0h0m6 0h0m6 0h0m6 0h0m6 0h0m6 0h0m6 0h0m6 0h0m6 0h0m6 0h0m6 0h0m6 0h0m6 0h0m6 0h0m6 0h0m6 0h0m6 0h0m6 0h0m6 0h0m6 0h0m6 0h0M373.4 169.2h0m6 0h0m6 0h0m6 0h0m6 0h0m6 0h0m6 0h0m6 0h0m6 0h0m6 0h0m6 0h0m6 0h0m6 0h0m6 0h0m6 0h0m6 0h0m6 0h0m6 0h0m6 0h0m6 0h0m6 0h0m6 0h0m6 0h0m6 0h0m6 0h0m6 0h0m6 0h0m6 0h0m6 0h0m6 0h0m6 0h0m6 0h0m6 0h0m6 0h0m6 0h0m6 0h0m6 0h0m6 0h0m6 0h0m6 0h0m6 0h0m6 0h0m6 0h0m6 0h0m6 0h0M373.4 160.9h0m6 0h0m6 0h0m6 0h0m6 0h0m6 0h0m6 0h0m6 0h0m6 0h0m6 0h0m6 0h0m6 0h0m6 0h0m6 0h0m6 0h0m6 0h0m6 0h0m6 0h0m6 0h0m6 0h0m6 0h0m6 0h0m6 0h0m6 0h0m6 0h0m6 0h0m6 0h0m6 0h0m6 0h0m6 0h0m6 0h0m6 0h0m6 0h0m6 0h0m6 0h0m6 0h0m6 0h0m6 0h0m6 0h0m6 0h0m6 0h0m6 0h0m6 0h0m6 0h0m6 0h0M373.4 152.6h0m6 0h0m6 0h0m6 0h0m6 0h0m6 0h0m6 0h0m6 0h0m6 0h0m6 0h0m6 0h0m6 0h0m6 0h0m6 0h0m6 0h0m6 0h0m6 0h0m6 0h0m6 0h0m6 0h0m6 0h0m6 0h0m6 0h0m6 0h0m6 0h0m6 0h0m6 0h0m6 0h0m6 0h0m6 0h0m6 0h0m6 0h0m6 0h0m6 0h0m6 0h0m6 0h0m6 0h0m6 0h0m6 0h0m6 0h0m6 0h0m6 0h0m6 0h0m6 0h0m6 0h0M373.4 144.2h0m6 0h0m6 0h0m6 0h0m6 0h0m6 0h0m6 0h0m6 0h0m6 0h0m6 0h0m6 0h0m6 0h0m6 0h0m6 0h0m6 0h0m6 0h0m6 0h0m6 0h0m6 0h0m6 0h0m6 0h0m6 0h0m6 0h0m6 0h0m6 0h0m6 0h0m6 0h0m6 0h0m6 0h0m6 0h0m6 0h0m6 0h0m6 0h0m6 0h0m6 0h0m6 0h0m6 0h0m6 0h0m6 0h0m6 0h0m6 0h0m6 0h0m6 0h0m6 0h0m6 0h0M373.4 135.9h0m6 0h0m6 0h0m6 0h0m6 0h0m6 0h0m6 0h0m6 0h0m6 0h0m6 0h0m6 0h0m6 0h0m6 0h0m6 0h0m6 0h0m6 0h0m6 0h0m6 0h0m6 0h0m6 0h0m6 0h0m6 0h0m6 0h0m6 0h0m6 0h0m6 0h0m6 0h0m6 0h0m6 0h0m6 0h0m6 0h0m6 0h0m6 0h0m6 0h0m6 0h0m6 0h0m6 0h0m6 0h0m6 0h0m6 0h0m6 0h0m6 0h0m6 0h0m6 0h0m6 0h0M373.4 127.6h0m6 0h0m6 0h0m6 0h0m6 0h0m6 0h0m6 0h0m6 0h0m6 0h0m6 0h0m6 0h0m6 0h0m6 0h0m6 0h0m6 0h0m6 0h0m6 0h0m6 0h0m6 0h0m6 0h0m6 0h0m6 0h0m6 0h0m6 0h0m6 0h0m6 0h0m6 0h0m6 0h0m6 0h0m6 0h0m6 0h0m6 0h0m6 0h0m6 0h0m6 0h0m6 0h0m6 0h0m6 0h0m6 0h0m6 0h0m6 0h0m6 0h0m6 0h0m6 0h0m6 0h0M373.4 119.2h0m6 0h0m6 0h0m6 0h0m6 0h0m6 0h0m6 0h0m6 0h0m6 0h0m6 0h0m6 0h0m6 0h0m6 0h0m6 0h0m6 0h0m6 0h0m6 0h0m6 0h0m6 0h0m6 0h0m6 0h0m6 0h0m6 0h0m6 0h0m6 0h0m6 0h0m6 0h0m6 0h0m6 0h0m6 0h0m6 0h0m6 0h0m6 0h0m6 0h0m6 0h0m6 0h0m6 0h0m6 0h0m6 0h0m6 0h0m6 0h0m6 0h0m6 0h0m6 0h0m6 0h0M373.4 110.9h0m6 0h0m6 0h0m6 0h0m6 0h0m6 0h0m6 0h0m6 0h0m6 0h0m6 0h0m6 0h0m6 0h0m6 0h0m6 0h0m6 0h0m6 0h0m6 0h0m6 0h0m6 0h0m6 0h0m6 0h0m6 0h0m6 0h0m6 0h0m6 0h0m6 0h0m6 0h0m6 0h0m6 0h0m6 0h0m6 0h0m6 0h0m6 0h0m6 0h0m6 0h0m6 0h0m6 0h0m6 0h0m6 0h0m6 0h0m6 0h0m6 0h0m6 0h0m6 0h0m6 0h0M373.4 102.6h0m6 0h0m6 0h0m6 0h0m6 0h0m6 0h0m6 0h0m6 0h0m6 0h0m6 0h0m6 0h0m6 0h0m6 0h0m6 0h0m6 0h0m6 0h0m6 0h0m6 0h0m6 0h0m6 0h0m6 0h0m6 0h0m6 0h0m6 0h0m6 0h0m6 0h0m6 0h0m6 0h0m6 0h0m6 0h0m6 0h0m6 0h0m6 0h0m6 0h0m6 0h0m6 0h0m6 0h0m6 0h0m6 0h0m6 0h0m6 0h0m6 0h0m6 0h0m6 0h0m6 0h0M373.4 94.2h0m6 0h0m6 0h0m6 0h0m6 0h0m6 0h0m6 0h0m6 0h0m6 0h0m6 0h0m6 0h0m6 0h0m6 0h0m6 0h0m6 0h0m6 0h0m6 0h0m6 0h0m6 0h0m6 0h0m6 0h0m6 0h0m6 0h0m6 0h0m6 0h0m6 0h0m6 0h0m6 0h0m6 0h0m6 0h0m6 0h0m6 0h0m6 0h0m6 0h0m6 0h0m6 0h0m6 0h0m6 0h0m6 0h0m6 0h0m6 0h0m6 0h0m6 0h0m6 0h0m6 0h0M373.4 85.9h0m6 0h0m6 0h0m6 0h0m6 0h0m6 0h0m6 0h0m6 0h0m6 0h0m6 0h0m6 0h0m6 0h0m6 0h0m6 0h0m6 0h0m6 0h0m6 0h0m6 0h0m6 0h0m6 0h0m6 0h0m6 0h0m6 0h0m6 0h0m6 0h0m6 0h0m6 0h0m6 0h0m6 0h0m6 0h0m6 0h0m6 0h0m6 0h0m6 0h0m6 0h0m6 0h0m6 0h0m6 0h0m6 0h0m6 0h0m6 0h0m6 0h0m6 0h0m6 0h0m6 0h0M373.4 77.6h0m6 0h0m6 0h0m6 0h0m6 0h0m6 0h0m6 0h0m6 0h0m6 0h0m6 0h0m6 0h0m6 0h0m6 0h0m6 0h0m6 0h0m6 0h0m6 0h0m6 0h0m6 0h0m6 0h0m6 0h0m6 0h0m6 0h0m6 0h0m6 0h0m6 0h0m6 0h0m6 0h0m6 0h0m6 0h0m6 0h0m6 0h0m6 0h0m6 0h0m6 0h0m6 0h0m6 0h0m6 0h0m6 0h0m6 0h0m6 0h0m6 0h0m6 0h0m6 0h0m6 0h0M373.4 69.3h0m6 0h0m6 0h0m6 0h0m6 0h0m6 0h0m6 0h0m6 0h0m6 0h0m6 0h0m6 0h0m6 0h0m6 0h0m6 0h0m6 0h0m6 0h0m6 0h0m6 0h0m6 0h0m6 0h0m6 0h0m6 0h0m6 0h0m6 0h0m6 0h0m6 0h0m6 0h0m6 0h0m6 0h0m6 0h0m6 0h0m6 0h0m6 0h0m6 0h0m6 0h0m6 0h0m6 0h0m6 0h0m6 0h0m6 0h0m6 0h0m6 0h0m6 0h0m6 0h0m6 0h0M373.4 60.9h0m6 0h0m6 0h0m6 0h0m6 0h0m6 0h0m6 0h0m6 0h0m6 0h0m6 0h0m6 0h0m6 0h0m6 0h0m6 0h0m6 0h0m6 0h0m6 0h0m6 0h0m6 0h0m6 0h0m6 0h0m6 0h0m6 0h0m6 0h0m6 0h0m6 0h0m6 0h0m6 0h0m6 0h0m6 0h0m6 0h0m6 0h0m6 0h0m6 0h0m6 0h0m6 0h0m6 0h0m6 0h0m6 0h0m6 0h0m6 0h0m6 0h0m6 0h0m6 0h0m6 0h0M373.4 52.6h0m6 0h0m6 0h0m6 0h0m6 0h0m6 0h0m6 0h0m6 0h0m6 0h0m6 0h0m6 0h0m6 0h0m6 0h0m6 0h0m6 0h0m6 0h0m6 0h0m6 0h0m6 0h0m6 0h0m6 0h0m6 0h0m6 0h0m6 0h0m6 0h0m6 0h0m6 0h0m6 0h0m6 0h0m6 0h0m6 0h0m6 0h0m6 0h0m6 0h0m6 0h0m6 0h0m6 0h0m6 0h0m6 0h0m6 0h0m6 0h0m6 0h0m6 0h0m6 0h0m6 0h0" stroke="#D9D6EA" stroke-width=".64" stroke-linecap="round" fill="none"/>
<circle cx="373.4" cy="210.9" r="0.50" fill="#A48EE0"/><circle cx="379.4" cy="210.9" r="0.50" fill="#A48EE0"/><circle cx="373.4" cy="202.5" r="0.90" fill="#4A35E0"/><circle cx="379.4" cy="202.5" r="0.40" fill="#A48EE0"/><circle cx="385.4" cy="202.5" r="1.40" fill="#4A35E0"/><circle cx="391.4" cy="202.5" r="0.50" fill="#7A5CDC"/><circle cx="397.4" cy="202.5" r="0.40" fill="#A48EE0"/><circle cx="379.4" cy="194.2" r="0.50" fill="#7A5CDC"/><circle cx="403.4" cy="194.2" r="0.70" fill="#1010E8"/><circle cx="409.4" cy="194.2" r="0.50" fill="#1010E8"/><circle cx="415.4" cy="194.2" r="0.50" fill="#1010E8"/><circle cx="523.4" cy="194.2" r="0.40" fill="#C4B8E6"/><circle cx="547.4" cy="194.2" r="0.80" fill="#7A5CDC"/><circle cx="589.4" cy="194.2" r="0.50" fill="#A48EE0"/><circle cx="373.4" cy="185.9" r="0.80" fill="#7A5CDC"/><circle cx="379.4" cy="185.9" r="0.60" fill="#7A5CDC"/><circle cx="577.4" cy="185.9" r="0.40" fill="#A48EE0"/><circle cx="421.4" cy="177.6" r="0.40" fill="#A48EE0"/><circle cx="427.4" cy="177.6" r="0.70" fill="#7A5CDC"/><circle cx="433.4" cy="177.6" r="0.50" fill="#A48EE0"/><circle cx="439.4" cy="177.6" r="0.90" fill="#A48EE0"/><circle cx="445.4" cy="177.6" r="0.40" fill="#A48EE0"/><circle cx="463.4" cy="177.6" r="0.60" fill="#A48EE0"/><circle cx="529.4" cy="177.6" r="0.40" fill="#A48EE0"/><circle cx="607.4" cy="177.6" r="0.50" fill="#A48EE0"/><circle cx="373.4" cy="169.2" r="1.30" fill="#1010E8"/><circle cx="379.4" cy="169.2" r="0.40" fill="#A48EE0"/><circle cx="385.4" cy="169.2" r="2.00" fill="#1010E8"/><circle cx="391.4" cy="169.2" r="1.00" fill="#1010E8"/><circle cx="397.4" cy="169.2" r="0.80" fill="#4A35E0"/><circle cx="505.4" cy="169.2" r="0.40" fill="#C4B8E6"/><circle cx="529.4" cy="169.2" r="0.50" fill="#A48EE0"/><circle cx="451.4" cy="160.9" r="1.00" fill="#1010E8"/><circle cx="457.4" cy="160.9" r="1.60" fill="#1010E8"/><circle cx="463.4" cy="160.9" r="1.50" fill="#1010E8"/><circle cx="469.4" cy="160.9" r="0.80" fill="#1010E8"/><circle cx="475.4" cy="160.9" r="1.80" fill="#1010E8"/><circle cx="529.4" cy="160.9" r="0.60" fill="#A48EE0"/><circle cx="595.4" cy="160.9" r="1.00" fill="#4A35E0"/><circle cx="601.4" cy="160.9" r="0.40" fill="#A48EE0"/><circle cx="607.4" cy="160.9" r="1.00" fill="#1010E8"/><circle cx="613.4" cy="160.9" r="1.30" fill="#1010E8"/><circle cx="619.4" cy="160.9" r="0.50" fill="#7A5CDC"/><circle cx="625.4" cy="160.9" r="0.60" fill="#7A5CDC"/><circle cx="421.4" cy="152.6" r="1.00" fill="#A48EE0"/><circle cx="427.4" cy="152.6" r="1.60" fill="#7A5CDC"/><circle cx="433.4" cy="152.6" r="1.20" fill="#7A5CDC"/><circle cx="439.4" cy="152.6" r="1.80" fill="#A48EE0"/><circle cx="445.4" cy="152.6" r="0.60" fill="#1010E8"/><circle cx="457.4" cy="152.6" r="0.70" fill="#A48EE0"/><circle cx="463.4" cy="152.6" r="1.30" fill="#A48EE0"/><circle cx="469.4" cy="152.6" r="0.50" fill="#A48EE0"/><circle cx="475.4" cy="152.6" r="0.60" fill="#A48EE0"/><circle cx="529.4" cy="152.6" r="1.20" fill="#A48EE0"/><circle cx="607.4" cy="152.6" r="1.00" fill="#A48EE0"/><circle cx="625.4" cy="152.6" r="0.60" fill="#A48EE0"/><circle cx="481.4" cy="144.2" r="0.40" fill="#C4B8E6"/><circle cx="487.4" cy="144.2" r="0.40" fill="#C4B8E6"/><circle cx="493.4" cy="144.2" r="1.60" fill="#1010E8"/><circle cx="505.4" cy="144.2" r="0.70" fill="#7A5CDC"/><circle cx="457.4" cy="135.9" r="0.60" fill="#7A5CDC"/><circle cx="499.4" cy="135.9" r="0.80" fill="#1010E8"/><circle cx="505.4" cy="135.9" r="1.70" fill="#1010E8"/><circle cx="511.4" cy="135.9" r="1.00" fill="#1010E8"/><circle cx="517.4" cy="135.9" r="1.30" fill="#1010E8"/><circle cx="523.4" cy="135.9" r="1.80" fill="#1010E8"/><circle cx="529.4" cy="135.9" r="1.00" fill="#4A35E0"/><circle cx="541.4" cy="135.9" r="0.30" fill="#A48EE0"/><circle cx="547.4" cy="135.9" r="0.40" fill="#A48EE0"/><circle cx="421.4" cy="127.6" r="1.30" fill="#4A35E0"/><circle cx="427.4" cy="127.6" r="2.00" fill="#1010E8"/><circle cx="433.4" cy="127.6" r="2.00" fill="#1010E8"/><circle cx="439.4" cy="127.6" r="1.80" fill="#A48EE0"/><circle cx="457.4" cy="127.6" r="0.70" fill="#A48EE0"/><circle cx="463.4" cy="127.6" r="1.00" fill="#A48EE0"/><circle cx="475.4" cy="127.6" r="1.00" fill="#A48EE0"/><circle cx="505.4" cy="127.6" r="0.40" fill="#C4B8E6"/><circle cx="529.4" cy="127.6" r="1.10" fill="#A48EE0"/><circle cx="607.4" cy="127.6" r="0.60" fill="#A48EE0"/><circle cx="613.4" cy="127.6" r="0.40" fill="#C4B8E6"/><circle cx="625.4" cy="127.6" r="0.40" fill="#C4B8E6"/><circle cx="379.4" cy="119.2" r="0.40" fill="#A48EE0"/><circle cx="421.4" cy="119.2" r="0.80" fill="#4A35E0"/><circle cx="439.4" cy="119.2" r="1.60" fill="#1010E8"/><circle cx="505.4" cy="119.2" r="1.00" fill="#A48EE0"/><circle cx="547.4" cy="119.2" r="1.40" fill="#7A5CDC"/><circle cx="553.4" cy="119.2" r="1.00" fill="#1010E8"/><circle cx="565.4" cy="119.2" r="0.50" fill="#A48EE0"/><circle cx="571.4" cy="119.2" r="1.90" fill="#1010E8"/><circle cx="403.4" cy="110.9" r="0.50" fill="#7A5CDC"/><circle cx="439.4" cy="110.9" r="1.30" fill="#A48EE0"/><circle cx="499.4" cy="110.9" r="0.60" fill="#7A5CDC"/><circle cx="505.4" cy="110.9" r="1.00" fill="#A48EE0"/><circle cx="511.4" cy="110.9" r="0.70" fill="#A48EE0"/><circle cx="517.4" cy="110.9" r="0.60" fill="#A48EE0"/><circle cx="523.4" cy="110.9" r="0.40" fill="#A48EE0"/><circle cx="529.4" cy="110.9" r="0.70" fill="#A48EE0"/><circle cx="535.4" cy="110.9" r="0.40" fill="#A48EE0"/><circle cx="547.4" cy="110.9" r="0.50" fill="#A48EE0"/><circle cx="457.4" cy="102.6" r="1.50" fill="#7A5CDC"/><circle cx="499.4" cy="102.6" r="1.30" fill="#1010E8"/><circle cx="505.4" cy="102.6" r="2.00" fill="#1010E8"/><circle cx="511.4" cy="102.6" r="1.80" fill="#1010E8"/><circle cx="517.4" cy="102.6" r="1.90" fill="#1010E8"/><circle cx="523.4" cy="102.6" r="2.00" fill="#1010E8"/><circle cx="529.4" cy="102.6" r="1.90" fill="#1010E8"/><circle cx="547.4" cy="102.6" r="0.70" fill="#A48EE0"/><circle cx="421.4" cy="94.2" r="0.60" fill="#7A5CDC"/><circle cx="439.4" cy="94.2" r="1.00" fill="#4A35E0"/><circle cx="505.4" cy="94.2" r="0.50" fill="#A48EE0"/><circle cx="547.4" cy="94.2" r="1.00" fill="#7A5CDC"/><circle cx="553.4" cy="94.2" r="0.50" fill="#A48EE0"/><circle cx="565.4" cy="94.2" r="0.50" fill="#A48EE0"/><circle cx="571.4" cy="94.2" r="1.10" fill="#4A35E0"/><circle cx="439.4" cy="85.9" r="0.50" fill="#A48EE0"/><circle cx="451.4" cy="85.9" r="1.60" fill="#1010E8"/><circle cx="457.4" cy="85.9" r="2.00" fill="#1010E8"/><circle cx="463.4" cy="85.9" r="2.00" fill="#1010E8"/><circle cx="469.4" cy="85.9" r="1.10" fill="#1010E8"/><circle cx="475.4" cy="85.9" r="2.20" fill="#1010E8"/><circle cx="529.4" cy="85.9" r="1.20" fill="#A48EE0"/><circle cx="595.4" cy="85.9" r="1.50" fill="#4A35E0"/><circle cx="601.4" cy="85.9" r="0.40" fill="#A48EE0"/><circle cx="607.4" cy="85.9" r="1.50" fill="#4A35E0"/><circle cx="613.4" cy="85.9" r="1.60" fill="#1010E8"/><circle cx="619.4" cy="85.9" r="0.60" fill="#7A5CDC"/><circle cx="625.4" cy="85.9" r="0.90" fill="#4A35E0"/><circle cx="373.4" cy="77.6" r="0.50" fill="#7A5CDC"/><circle cx="439.4" cy="77.6" r="1.40" fill="#7A5CDC"/><circle cx="451.4" cy="77.6" r="0.80" fill="#7A5CDC"/><circle cx="457.4" cy="77.6" r="0.50" fill="#A48EE0"/><circle cx="463.4" cy="77.6" r="0.40" fill="#A48EE0"/><circle cx="529.4" cy="77.6" r="0.40" fill="#C4B8E6"/><circle cx="547.4" cy="77.6" r="0.40" fill="#C4B8E6"/><circle cx="553.4" cy="77.6" r="0.40" fill="#C4B8E6"/><circle cx="559.4" cy="77.6" r="0.40" fill="#C4B8E6"/><circle cx="565.4" cy="77.6" r="0.40" fill="#C4B8E6"/><circle cx="571.4" cy="77.6" r="0.40" fill="#C4B8E6"/><circle cx="577.4" cy="77.6" r="0.40" fill="#A48EE0"/><circle cx="583.4" cy="77.6" r="0.60" fill="#7A5CDC"/><circle cx="589.4" cy="77.6" r="0.30" fill="#A48EE0"/><circle cx="595.4" cy="77.6" r="0.70" fill="#7A5CDC"/><circle cx="607.4" cy="77.6" r="0.60" fill="#7A5CDC"/><circle cx="613.4" cy="77.6" r="0.50" fill="#A48EE0"/><circle cx="625.4" cy="77.6" r="0.70" fill="#7A5CDC"/><circle cx="451.4" cy="69.3" r="1.00" fill="#7A5CDC"/><circle cx="457.4" cy="69.3" r="1.20" fill="#A48EE0"/><circle cx="463.4" cy="69.3" r="0.70" fill="#A48EE0"/><circle cx="469.4" cy="69.3" r="0.80" fill="#4A35E0"/><circle cx="475.4" cy="69.3" r="1.50" fill="#A48EE0"/><circle cx="529.4" cy="69.3" r="0.50" fill="#C4B8E6"/><circle cx="595.4" cy="69.3" r="1.40" fill="#1010E8"/><circle cx="601.4" cy="69.3" r="0.40" fill="#A48EE0"/><circle cx="607.4" cy="69.3" r="1.00" fill="#1010E8"/><circle cx="613.4" cy="69.3" r="0.60" fill="#7A5CDC"/><circle cx="619.4" cy="69.3" r="1.00" fill="#1010E8"/><circle cx="625.4" cy="69.3" r="0.70" fill="#4A35E0"/><circle cx="379.4" cy="60.9" r="0.50" fill="#7A5CDC"/><circle cx="421.4" cy="60.9" r="0.60" fill="#7A5CDC"/><circle cx="439.4" cy="60.9" r="0.60" fill="#A48EE0"/><circle cx="505.4" cy="60.9" r="0.60" fill="#A48EE0"/><circle cx="529.4" cy="60.9" r="0.40" fill="#C4B8E6"/><circle cx="547.4" cy="60.9" r="1.60" fill="#1010E8"/><circle cx="553.4" cy="60.9" r="1.00" fill="#1010E8"/><circle cx="559.4" cy="60.9" r="0.50" fill="#A48EE0"/><circle cx="565.4" cy="60.9" r="0.70" fill="#7A5CDC"/><circle cx="571.4" cy="60.9" r="1.60" fill="#1010E8"/><circle cx="421.4" cy="52.6" r="0.50" fill="#7A5CDC"/><circle cx="553.4" cy="52.6" r="0.70" fill="#4A35E0"/><circle cx="631.4" cy="52.6" r="1.50" fill="#1010E8"/><circle cx="637.4" cy="52.6" r="1.20" fill="#1010E8"/>
<line x1="370.0" y1="47.4" x2="370.0" y2="217.6" stroke="#777" stroke-width="0.8"/>
<line x1="369.6" y1="217.2" x2="640.4" y2="217.2" stroke="#777" stroke-width="0.8"/>
<line x1="368.9" y1="210.9" x2="370.0" y2="210.9" stroke="#444" stroke-width="0.3"/>
<text class="c" x="368.3" y="212.1" font-size="3.4" text-anchor="end" fill="#333">0</text>
<line x1="368.9" y1="202.5" x2="370.0" y2="202.5" stroke="#444" stroke-width="0.3"/>
<text class="c" x="368.3" y="203.8" font-size="3.4" text-anchor="end" fill="#333">1</text>
<line x1="368.9" y1="194.2" x2="370.0" y2="194.2" stroke="#444" stroke-width="0.3"/>
<text class="c" x="368.3" y="195.4" font-size="3.4" text-anchor="end" fill="#333">2</text>
<line x1="368.9" y1="185.9" x2="370.0" y2="185.9" stroke="#444" stroke-width="0.3"/>
<text class="c" x="368.3" y="187.1" font-size="3.4" text-anchor="end" fill="#333">3</text>
<line x1="368.9" y1="177.6" x2="370.0" y2="177.6" stroke="#444" stroke-width="0.3"/>
<text class="c" x="368.3" y="178.8" font-size="3.4" text-anchor="end" fill="#333">4</text>
<line x1="368.9" y1="169.2" x2="370.0" y2="169.2" stroke="#444" stroke-width="0.3"/>
<text class="c" x="368.3" y="170.4" font-size="3.4" text-anchor="end" fill="#333">5</text>
<line x1="368.9" y1="160.9" x2="370.0" y2="160.9" stroke="#444" stroke-width="0.3"/>
<text class="c" x="368.3" y="162.1" font-size="3.4" text-anchor="end" fill="#333">6</text>
<line x1="368.9" y1="152.6" x2="370.0" y2="152.6" stroke="#444" stroke-width="0.3"/>
<text class="c" x="368.3" y="153.8" font-size="3.4" text-anchor="end" fill="#333">7</text>
<line x1="368.9" y1="144.2" x2="370.0" y2="144.2" stroke="#444" stroke-width="0.3"/>
<text class="c" x="368.3" y="145.5" font-size="3.4" text-anchor="end" fill="#333">8</text>
<line x1="368.9" y1="135.9" x2="370.0" y2="135.9" stroke="#444" stroke-width="0.3"/>
<text class="c" x="368.3" y="137.1" font-size="3.4" text-anchor="end" fill="#333">9</text>
<line x1="368.9" y1="127.6" x2="370.0" y2="127.6" stroke="#444" stroke-width="0.3"/>
<text class="c" x="368.3" y="128.8" font-size="3.4" text-anchor="end" fill="#333">10</text>
<line x1="368.9" y1="119.2" x2="370.0" y2="119.2" stroke="#444" stroke-width="0.3"/>
<text class="c" x="368.3" y="120.5" font-size="3.4" text-anchor="end" fill="#333">11</text>
<line x1="368.9" y1="110.9" x2="370.0" y2="110.9" stroke="#444" stroke-width="0.3"/>
<text class="c" x="368.3" y="112.1" font-size="3.4" text-anchor="end" fill="#333">12</text>
<line x1="368.9" y1="102.6" x2="370.0" y2="102.6" stroke="#444" stroke-width="0.3"/>
<text class="c" x="368.3" y="103.8" font-size="3.4" text-anchor="end" fill="#333">13</text>
<line x1="368.9" y1="94.2" x2="370.0" y2="94.2" stroke="#444" stroke-width="0.3"/>
<text class="c" x="368.3" y="95.5" font-size="3.4" text-anchor="end" fill="#333">14</text>
<line x1="368.9" y1="85.9" x2="370.0" y2="85.9" stroke="#444" stroke-width="0.3"/>
<text class="c" x="368.3" y="87.1" font-size="3.4" text-anchor="end" fill="#333">15</text>
<line x1="368.9" y1="77.6" x2="370.0" y2="77.6" stroke="#444" stroke-width="0.3"/>
<text class="c" x="368.3" y="78.8" font-size="3.4" text-anchor="end" fill="#333">16</text>
<line x1="368.9" y1="69.3" x2="370.0" y2="69.3" stroke="#444" stroke-width="0.3"/>
<text class="c" x="368.3" y="70.5" font-size="3.4" text-anchor="end" fill="#333">17</text>
<line x1="368.9" y1="60.9" x2="370.0" y2="60.9" stroke="#444" stroke-width="0.3"/>
<text class="c" x="368.3" y="62.2" font-size="3.4" text-anchor="end" fill="#333">18</text>
<line x1="368.9" y1="52.6" x2="370.0" y2="52.6" stroke="#444" stroke-width="0.3"/>
<text class="c" x="368.3" y="53.8" font-size="3.4" text-anchor="end" fill="#333">19</text>
<text class="s" font-size="4.2" text-anchor="middle" fill="#222" textLength="13.0" lengthAdjust="spacingAndGlyphs" transform="translate(362.2 131.0) rotate(-90)">Identity</text>
<line x1="373.4" y1="217.2" x2="373.4" y2="218.2" stroke="#444" stroke-width="0.3"/>
<text class="c" font-size="3.7" text-anchor="end" fill="#222" transform="translate(374.4 219.4) rotate(-45)">KLRD1</text>
<line x1="379.4" y1="217.2" x2="379.4" y2="218.2" stroke="#444" stroke-width="0.3"/>
<text class="c" font-size="3.7" text-anchor="end" fill="#222" transform="translate(380.4 219.4) rotate(-45)">KLRF1</text>
<line x1="385.4" y1="217.2" x2="385.4" y2="218.2" stroke="#444" stroke-width="0.3"/>
<text class="c" font-size="3.7" text-anchor="end" fill="#222" transform="translate(386.4 219.4) rotate(-45)">GNLY</text>
<line x1="391.4" y1="217.2" x2="391.4" y2="218.2" stroke="#444" stroke-width="0.3"/>
<text class="c" font-size="3.7" text-anchor="end" fill="#222" transform="translate(392.4 219.4) rotate(-45)">NKG7</text>
<line x1="397.4" y1="217.2" x2="397.4" y2="218.2" stroke="#444" stroke-width="0.3"/>
<text class="c" font-size="3.7" text-anchor="end" fill="#222" transform="translate(398.4 219.4) rotate(-45)">PRF1</text>
<line x1="403.4" y1="217.2" x2="403.4" y2="218.2" stroke="#444" stroke-width="0.3"/>
<text class="c" font-size="3.7" text-anchor="end" fill="#222" transform="translate(404.4 219.4) rotate(-45)">LYZ</text>
<line x1="409.4" y1="217.2" x2="409.4" y2="218.2" stroke="#444" stroke-width="0.3"/>
<text class="c" font-size="3.7" text-anchor="end" fill="#222" transform="translate(410.4 219.4) rotate(-45)">S100A8</text>
<line x1="415.4" y1="217.2" x2="415.4" y2="218.2" stroke="#444" stroke-width="0.3"/>
<text class="c" font-size="3.7" text-anchor="end" fill="#222" transform="translate(416.4 219.4) rotate(-45)">S100A9</text>
<line x1="421.4" y1="217.2" x2="421.4" y2="218.2" stroke="#444" stroke-width="0.3"/>
<text class="c" font-size="3.7" text-anchor="end" fill="#222" transform="translate(422.4 219.4) rotate(-45)">ADIPOR2</text>
<line x1="427.4" y1="217.2" x2="427.4" y2="218.2" stroke="#444" stroke-width="0.3"/>
<text class="c" font-size="3.7" text-anchor="end" fill="#222" transform="translate(428.4 219.4) rotate(-45)">ADIPOQ</text>
<line x1="433.4" y1="217.2" x2="433.4" y2="218.2" stroke="#444" stroke-width="0.3"/>
<text class="c" font-size="3.7" text-anchor="end" fill="#222" transform="translate(434.4 219.4) rotate(-45)">CIDEA</text>
<line x1="439.4" y1="217.2" x2="439.4" y2="218.2" stroke="#444" stroke-width="0.3"/>
<text class="c" font-size="3.7" text-anchor="end" fill="#222" transform="translate(440.4 219.4) rotate(-45)">FABP4</text>
<line x1="445.4" y1="217.2" x2="445.4" y2="218.2" stroke="#444" stroke-width="0.3"/>
<text class="c" font-size="3.7" text-anchor="end" fill="#222" transform="translate(446.4 219.4) rotate(-45)">LEP</text>
<line x1="451.4" y1="217.2" x2="451.4" y2="218.2" stroke="#444" stroke-width="0.3"/>
<text class="c" font-size="3.7" text-anchor="end" fill="#222" transform="translate(452.4 219.4) rotate(-45)">ABCA6</text>
<line x1="457.4" y1="217.2" x2="457.4" y2="218.2" stroke="#444" stroke-width="0.3"/>
<text class="c" font-size="3.7" text-anchor="end" fill="#222" transform="translate(458.4 219.4) rotate(-45)">ABCA9</text>
<line x1="463.4" y1="217.2" x2="463.4" y2="218.2" stroke="#444" stroke-width="0.3"/>
<text class="c" font-size="3.7" text-anchor="end" fill="#222" transform="translate(464.4 219.4) rotate(-45)">ABCA10</text>
<line x1="469.4" y1="217.2" x2="469.4" y2="218.2" stroke="#444" stroke-width="0.3"/>
<text class="c" font-size="3.7" text-anchor="end" fill="#222" transform="translate(470.4 219.4) rotate(-45)">SLIT2</text>
<line x1="475.4" y1="217.2" x2="475.4" y2="218.2" stroke="#444" stroke-width="0.3"/>
<text class="c" font-size="3.7" text-anchor="end" fill="#222" transform="translate(476.4 219.4) rotate(-45)">LAMA2</text>
<line x1="481.4" y1="217.2" x2="481.4" y2="218.2" stroke="#444" stroke-width="0.3"/>
<text class="c" font-size="3.7" text-anchor="end" fill="#222" transform="translate(482.4 219.4) rotate(-45)">CD79A</text>
<line x1="487.4" y1="217.2" x2="487.4" y2="218.2" stroke="#444" stroke-width="0.3"/>
<text class="c" font-size="3.7" text-anchor="end" fill="#222" transform="translate(488.4 219.4) rotate(-45)">CD79B</text>
<line x1="493.4" y1="217.2" x2="493.4" y2="218.2" stroke="#444" stroke-width="0.3"/>
<text class="c" font-size="3.7" text-anchor="end" fill="#222" transform="translate(494.4 219.4) rotate(-45)">MS4A1</text>
<line x1="499.4" y1="217.2" x2="499.4" y2="218.2" stroke="#444" stroke-width="0.3"/>
<text class="c" font-size="3.7" text-anchor="end" fill="#222" transform="translate(500.4 219.4) rotate(-45)">CD163</text>
<line x1="505.4" y1="217.2" x2="505.4" y2="218.2" stroke="#444" stroke-width="0.3"/>
<text class="c" font-size="3.7" text-anchor="end" fill="#222" transform="translate(506.4 219.4) rotate(-45)">PDE4D</text>
<line x1="511.4" y1="217.2" x2="511.4" y2="218.2" stroke="#444" stroke-width="0.3"/>
<text class="c" font-size="3.7" text-anchor="end" fill="#222" transform="translate(512.4 219.4) rotate(-45)">CD86</text>
<line x1="517.4" y1="217.2" x2="517.4" y2="218.2" stroke="#444" stroke-width="0.3"/>
<text class="c" font-size="3.7" text-anchor="end" fill="#222" transform="translate(518.4 219.4) rotate(-45)">FMN1</text>
<line x1="523.4" y1="217.2" x2="523.4" y2="218.2" stroke="#444" stroke-width="0.3"/>
<text class="c" font-size="3.7" text-anchor="end" fill="#222" transform="translate(524.4 219.4) rotate(-45)">F13A1</text>
<line x1="529.4" y1="217.2" x2="529.4" y2="218.2" stroke="#444" stroke-width="0.3"/>
<text class="c" font-size="3.7" text-anchor="end" fill="#222" transform="translate(530.4 219.4) rotate(-45)">MIR181A1</text>
<line x1="535.4" y1="217.2" x2="535.4" y2="218.2" stroke="#444" stroke-width="0.3"/>
<text class="c" font-size="3.7" text-anchor="end" fill="#222" transform="translate(536.4 219.4) rotate(-45)">TPM2</text>
<line x1="541.4" y1="217.2" x2="541.4" y2="218.2" stroke="#444" stroke-width="0.3"/>
<text class="c" font-size="3.7" text-anchor="end" fill="#222" transform="translate(542.4 219.4) rotate(-45)">CD48</text>
<line x1="547.4" y1="217.2" x2="547.4" y2="218.2" stroke="#444" stroke-width="0.3"/>
<text class="c" font-size="3.7" text-anchor="end" fill="#222" transform="translate(548.4 219.4) rotate(-45)">PECAM1</text>
<line x1="553.4" y1="217.2" x2="553.4" y2="218.2" stroke="#444" stroke-width="0.3"/>
<text class="c" font-size="3.7" text-anchor="end" fill="#222" transform="translate(554.4 219.4) rotate(-45)">ENG</text>
<line x1="559.4" y1="217.2" x2="559.4" y2="218.2" stroke="#444" stroke-width="0.3"/>
<text class="c" font-size="3.7" text-anchor="end" fill="#222" transform="translate(560.4 219.4) rotate(-45)">ACKR1</text>
<line x1="565.4" y1="217.2" x2="565.4" y2="218.2" stroke="#444" stroke-width="0.3"/>
<text class="c" font-size="3.7" text-anchor="end" fill="#222" transform="translate(566.4 219.4) rotate(-45)">PLVAP</text>
<line x1="571.4" y1="217.2" x2="571.4" y2="218.2" stroke="#444" stroke-width="0.3"/>
<text class="c" font-size="3.7" text-anchor="end" fill="#222" transform="translate(572.4 219.4) rotate(-45)">VWF</text>
<line x1="577.4" y1="217.2" x2="577.4" y2="218.2" stroke="#444" stroke-width="0.3"/>
<text class="c" font-size="3.7" text-anchor="end" fill="#222" transform="translate(578.4 219.4) rotate(-45)">MYH11</text>
<line x1="583.4" y1="217.2" x2="583.4" y2="218.2" stroke="#444" stroke-width="0.3"/>
<text class="c" font-size="3.7" text-anchor="end" fill="#222" transform="translate(584.4 219.4) rotate(-45)">ACTA2</text>
<line x1="589.4" y1="217.2" x2="589.4" y2="218.2" stroke="#444" stroke-width="0.3"/>
<text class="c" font-size="3.7" text-anchor="end" fill="#222" transform="translate(590.4 219.4) rotate(-45)">CALD1</text>
<line x1="595.4" y1="217.2" x2="595.4" y2="218.2" stroke="#444" stroke-width="0.3"/>
<text class="c" font-size="3.7" text-anchor="end" fill="#222" transform="translate(596.4 219.4) rotate(-45)">COL1A2</text>
<line x1="601.4" y1="217.2" x2="601.4" y2="218.2" stroke="#444" stroke-width="0.3"/>
<text class="c" font-size="3.7" text-anchor="end" fill="#222" transform="translate(602.4 219.4) rotate(-45)">LUM</text>
<line x1="607.4" y1="217.2" x2="607.4" y2="218.2" stroke="#444" stroke-width="0.3"/>
<text class="c" font-size="3.7" text-anchor="end" fill="#222" transform="translate(608.4 219.4) rotate(-45)">COL3A1</text>
<line x1="613.4" y1="217.2" x2="613.4" y2="218.2" stroke="#444" stroke-width="0.3"/>
<text class="c" font-size="3.7" text-anchor="end" fill="#222" transform="translate(614.4 219.4) rotate(-45)">COL6A3</text>
<line x1="619.4" y1="217.2" x2="619.4" y2="218.2" stroke="#444" stroke-width="0.3"/>
<text class="c" font-size="3.7" text-anchor="end" fill="#222" transform="translate(620.4 219.4) rotate(-45)">COL1A1</text>
<line x1="625.4" y1="217.2" x2="625.4" y2="218.2" stroke="#444" stroke-width="0.3"/>
<text class="c" font-size="3.7" text-anchor="end" fill="#222" transform="translate(626.4 219.4) rotate(-45)">COL6A1</text>
<line x1="631.4" y1="217.2" x2="631.4" y2="218.2" stroke="#444" stroke-width="0.3"/>
<text class="c" font-size="3.7" text-anchor="end" fill="#222" transform="translate(632.4 219.4) rotate(-45)">KIT</text>
<line x1="637.4" y1="217.2" x2="637.4" y2="218.2" stroke="#444" stroke-width="0.3"/>
<text class="c" font-size="3.7" text-anchor="end" fill="#222" transform="translate(638.4 219.4) rotate(-45)">CPA3</text>
<text class="s" x="505.0" y="238.5" font-size="4.2" text-anchor="middle" fill="#222" textLength="16.0" lengthAdjust="spacingAndGlyphs">Features</text>
<text class="c" x="644.4" y="104.4" font-size="4" fill="#222" textLength="38.0" lengthAdjust="spacingAndGlyphs">Average Expression</text>
<linearGradient id="gB" x1="0" y1="0" x2="0" y2="1"><stop offset="0" stop-color="#2A1AE6"/><stop offset=".5" stop-color="#8C78E0"/><stop offset="1" stop-color="#D6D2E8"/></linearGradient>
<rect x="644.40" y="107.40" width="3.70" height="25.00" fill="url(#gB)"/>
<text class="c" x="650.2" y="111.6" font-size="3.3" fill="#333">2</text>
<text class="c" x="650.2" y="118.2" font-size="3.3" fill="#333">1</text>
<text class="c" x="650.2" y="124.8" font-size="3.3" fill="#333">0</text>
<text class="c" x="650.2" y="131.2" font-size="3.3" fill="#333">-1</text>
<text class="c" x="644.4" y="140.4" font-size="4" fill="#222" textLength="35.0" lengthAdjust="spacingAndGlyphs">Percent Expressed</text>
<circle cx="646.2" cy="145.6" r="0.25" fill="#000"/>
<text class="c" x="650.2" y="146.8" font-size="3.3" fill="#333">0</text>
<circle cx="646.2" cy="151.0" r="0.6" fill="#000"/>
<text class="c" x="650.2" y="152.2" font-size="3.3" fill="#333">25</text>
<circle cx="646.2" cy="156.4" r="1" fill="#000"/>
<text class="c" x="650.2" y="157.6" font-size="3.3" fill="#333">50</text>
<circle cx="646.2" cy="161.4" r="1.6" fill="#000"/>
<text class="c" x="650.2" y="162.6" font-size="3.3" fill="#333">75</text>
</g>
<g id="panelC">
<text class="r" x="1.6" y="263.0" font-size="14.7" textLength="21.4" lengthAdjust="spacingAndGlyphs">(<tspan font-weight="bold">C</tspan>)</text>
<text class="s" x="143.8" y="281.4" font-size="6" text-anchor="middle" font-weight="bold" textLength="27.6" lengthAdjust="spacingAndGlyphs">celltype</text>
<g class="base" filter="url(#bl)"><polygon points="118.7,434.7 125.5,428.2 131.6,424.9 141.4,427.1 140.6,434.7 137.6,441.3 133.1,447.8 128.6,452.1 122.5,450.0 117.2,442.3" fill="#F564E3"/>
<polygon points="131.6,396.6 136.9,402.1 142.1,410.8 144.0,420.6 142.9,427.1 141.4,428.2 131.6,424.9 125.5,428.2 121.8,426.0 121.0,417.3 122.5,409.7 124.0,407.5" fill="#C77CFF"/>
<polygon points="105.9,386.3 112.7,386.8 120.3,389.0 126.3,392.3 131.6,396.6 124.0,407.5 118.0,409.7 115.3,412.9 112.7,404.2 109.7,394.4" fill="#C77CFF"/>
<polygon points="97.6,456.5 101.4,450.0 106.7,443.4 111.2,436.9 117.2,442.3 122.5,450.0 128.6,452.1 127.0,455.4 121.0,458.7 115.0,460.9 105.9,461.4 99.9,459.8" fill="#F564E3"/>
<polygon points="74.6,334.6 80.3,326.9 86.3,320.9 90.8,318.2 94.6,321.5 99.1,326.9 104.4,331.3 108.9,334.0 104.4,337.8 98.4,343.3 92.3,349.8 88.6,352.0 84.0,347.6 78.8,341.1" fill="#619CFF"/>
<polygon points="115.0,336.7 118.0,331.3 121.0,330.2 124.0,328.0 127.0,332.4 129.3,338.9 129.7,346.5 127.0,350.9 122.5,351.4 118.7,347.6 115.7,343.3" fill="#00C08B"/>
<polygon points="121.0,330.2 124.0,324.8 128.6,320.4 131.6,317.1 133.8,319.3 130.1,324.8 126.3,331.3" fill="#00C08B"/>
<polygon points="129.3,323.7 133.8,320.4 139.1,320.4 145.2,319.3 150.4,320.4 150.8,326.9 148.2,332.4 142.1,334.6 136.1,333.5 131.6,330.2 128.6,328.0" fill="#00BFC4"/>
<polygon points="132.3,316.0 136.1,311.1 140.6,310.1 145.9,311.7 149.7,316.0 150.4,320.4 145.2,319.9 139.1,320.9 133.8,320.9" fill="#00BFC4"/>
<polygon points="38.4,376.5 44.8,378.7 52.3,379.7 59.9,378.7 65.2,376.5 68.2,375.4 67.4,378.1 62.2,381.9 54.6,384.6 48.6,385.2 42.5,384.1 39.1,381.4" fill="#B79F00"/>
<polygon points="191.9,300.8 194.2,296.4 198.0,295.4 201.7,297.0 203.6,300.8 202.5,306.2 200.2,309.5 196.5,308.4 192.7,305.2" fill="#00BA38"/>
<polygon points="200.2,309.5 203.2,305.2 207.8,303.0 213.1,305.2 218.3,309.5 221.4,315.0 222.9,320.4 222.1,324.8 218.3,328.0 211.5,329.1 204.8,328.0 201.0,323.7 199.9,317.1" fill="#DE8C00"/>
<polygon points="216.8,308.4 222.1,310.6 227.4,313.9 232.3,317.1 228.9,320.4 225.1,323.7 222.1,324.8 222.9,319.3 220.6,313.9" fill="#DE8C00"/>
<polygon points="184.8,375.9 187.4,370.5 191.2,366.1 193.4,365.0 192.7,370.5 190.4,374.8 186.6,377.6" fill="#FF64B0"/>
<polygon points="219.4,364.0 220.6,361.2 224.4,360.2 228.1,361.8 229.1,365.0 228.1,367.8 230.4,372.7 232.7,377.0 228.1,375.9 225.1,370.5 221.4,368.9" fill="#7CAE00"/>
<polygon points="225.1,371.6 228.1,369.4 231.2,372.7 234.9,376.5 236.4,382.5 235.7,389.0 232.7,392.3 228.1,391.2 224.8,386.8 224.0,380.3" fill="#7CAE00"/>
<polygon points="234.9,376.5 239.5,379.2 244.0,382.5 247.4,385.7 247.0,389.0 244.0,391.7 238.7,392.5 235.7,391.2 236.4,382.5" fill="#7CAE00"/>
<polygon points="189.7,449.4 194.2,441.3 198.7,436.4 204.8,433.6 211.5,434.2 217.6,436.9 222.1,441.3 224.4,445.6 219.1,446.7 213.1,448.9 207.0,451.1 201.7,455.4 197.2,457.6 192.7,454.3" fill="#F8766D"/>
<polygon points="201.7,455.4 207.0,451.1 213.1,448.9 219.1,446.7 224.4,445.6 228.1,447.8 230.0,453.2 228.9,460.9 225.1,467.4 219.1,471.2 211.5,471.7 206.3,469.6 202.5,464.1 201.0,459.8" fill="#F8766D"/>
<polygon points="181.4,464.1 182.9,457.6 185.9,452.1 189.7,448.3 192.7,454.3 197.2,457.6 201.0,459.8 202.5,464.1 206.3,469.6 208.5,471.7 201.0,472.3 194.2,470.7 188.9,471.7 183.6,471.2 181.7,467.4" fill="#F8766D"/></g>
<g class="pts" transform="scale(.1)"><path d="M1142 4143zm-18 21zm11-13zm13 21zm-21 18zm8 5zm11-4zm9 3zm13-13zm-42 35zm13-7zm5-8zm5 18zm-13 7zm3 5zm1-4zm10 12zm7-2zm169 10zm12 2zm-220 12zm16 7zm4-4zm10-11zm0 10zm8 0zm94 7zm19 1zm4-9zm16 12zm4-5zm9 2zm1 1zm5-19zm4 21zm1-8zm3 3zm8-12zm1 4zm0-1zm2 2zm0-7zm0 3zm5 7zm2 1zm0 2zm3-9zm2 8zm15-5zm3 0zm0-1zm2-3zm9 12zm1-8zm0 6zm2-7zm8 9zm1 4zm1-11zm14-3zm1 9zm4 4zm18 1zm-302 7zm2-1zm18 15zm0-7zm97 9zm5-18zm3 10zm30-1zm1 7zm4-14zm4-5zm1 2zm0 13zm2 3zm5-10zm1 4zm3-1zm0-10zm1 6zm6 2zm1 13zm2-18zm2 16zm0-20zm1 7zm8-7zm2 5zm1 10zm0 4zm3-5zm2-15zm1 5zm1-4zm3 15zm1-2zm2-14zm7 22zm1-20zm2 6zm2 15zm1-21zm2 9zm5 7zm8-10zm0 11zm0 5zm5-17zm2 10zm0-1zm1-1zm3 0zm2 9zm1-16zm1 16zm2-3zm4 1zm4-5zm11 4zm0-8zm0-8zm0 12zm3-9zm6-8zm1 16zm0-8zm1 13zm0-19zm2 6zm3-1zm1 14zm3-13zm-294 31zm30-4zm1-9zm3 14zm3 3zm53-6zm3 10zm5-3zm2 2zm4-5zm2-4zm2 10zm3-11zm5 3zm1 3zm4 2zm1-11zm0 6zm3 10zm4-9zm1-5zm4-4zm3 6zm1 0zm0 3zm0-10zm1 14zm2-17zm2 11zm0 3zm1 5zm2-17zm1 16zm3 2zm1-20zm2 13zm3 1zm0 7zm2-11zm5 12zm2-3zm7-21zm1 6zm4 15zm1 2zm0-21zm3 1zm2-1zm1 3zm0 16zm3-5zm1 3zm3-1zm2 2zm8-17zm5 17zm0-20zm4 6zm1 18zm3-20zm3 6zm4 5zm1-4zm1 3zm1 6zm1-4zm0-10zm0 4zm2-1zm0 4zm3 11zm0-16zm4 4zm0 4zm5 1zm2 7zm1-23zm4 9zm5-8zm1-1zm3 15zm4-6zm0-3zm1 8zm1-5zm0 9zm1 4zm6-23zm7 18zm3-13zm3 8zm0-8zm2 5zm5-4zm1 6zm-279 19zm5-5zm1 14zm12 0zm7 3zm38 2zm3-11zm4 9zm1 3zm1-13zm2 0zm2 3zm6 4zm0 8zm1-8zm2-4zm9-10zm0 13zm2 5zm1 4zm4-15zm1 13zm3-3zm3 3zm1-21zm5 1zm2 6zm5-2zm2 2zm1 5zm3-3zm0 5zm1-4zm7 5zm2 5zm2-2zm1-3zm0-6zm7-5zm4-2zm0-2zm1 7zm2 1zm8 14zm4-1zm1-4zm0 6zm5-23zm2 1zm5 12zm3 10zm2-21zm1 20zm3-5zm5 0zm0 2zm2-18zm1 12zm0 6zm3-3zm0-9zm2 3zm1-4zm1 15zm8-19zm1 14zm1-15zm3 21zm0-21zm2 18zm2-8zm0-6zm1 14zm3-17zm1-2zm4 10zm1 0zm3-9zm6 16zm2-11zm6-4zm5 22zm5 0zm1-3zm5-11zm0 1zm4 1zm4-4zm4-6zm0 17zm-308 18zm5 5zm4 3zm1 2zm0-4zm2-16zm4 22zm14-2zm3-15zm12 11zm4-13zm2 14zm5-17zm3 2zm18 10zm6-2zm5 4zm1-8zm1-2zm6 3zm5-9zm5 20zm1-13zm1 1zm1 1zm1-7zm3 6zm4 12zm3-6zm1 5zm1 0zm5-1zm2-18zm3 4zm0 3zm1 5zm0 11zm2-17zm4 16zm0-10zm8 5zm7-17zm2 9zm1 14zm0-8zm3-5zm2-6zm3 20zm0-21zm3 2zm0-4zm0 12zm2 4zm4 3zm1-5zm2 5zm1-18zm4 0zm2-1zm3 8zm5 1zm5-5zm2 19zm1-9zm0 5zm5 1zm4-9zm1 12zm1-22zm0 9zm4-9zm0 13zm1-10zm0 3zm3 6zm2-11zm0 9zm8 10zm3 0zm7-7zm4-15zm1 13zm1 5zm2 2zm2-7zm1-8zm1 1zm3 15zm7-19zm0 18zm4-10zm1-9zm5 2zm3 14zm4-7zm2 1zm0-10zm1 21zm0-15zm2-7zm3 16zm2-1zm0-12zm2 1zm1 20zm8-13zm1-3zm1-3zm1-5zm-306 43zm3-15zm1 10zm1 8zm1-5zm0-16zm2 9zm0-7zm1 2zm2 13zm0 5zm1-12zm4 14zm0-11zm3-11zm6 15zm0-11zm1-2zm0 1zm1 14zm1-11zm0 3zm2 7zm1 1zm0-6zm1 2zm0 1zm2 6zm2-5zm11-12zm5 13zm2-5zm0 3zm25 3zm3 4zm4-19zm1 3zm1 8zm3-4zm5 9zm1-16zm3 11zm1 3zm8-10zm1 12zm1 0zm0-10zm0 3zm11 7zm1-8zm1-8zm2 13zm2 3zm1-10zm2 1zm2-3zm6 11zm1 4zm4-19zm0 1zm4 0zm2 4zm0-8zm1 9zm5 2zm2-8zm1 11zm0-1zm1 6zm7-10zm5 11zm1 0zm1-21zm0 23zm2-9zm3 6zm0-20zm2 18zm1-1zm1-2zm1-5zm0 8zm3-14zm3-1zm1 21zm2-18zm2 16zm2-15zm0 15zm9 2zm0-8zm1-5zm0 13zm3-12zm0-12zm2 18zm0-17zm4 22zm3-7zm1 6zm1-1zm1-6zm4 9zm0-24zm1 12zm2 2zm1 3zm5-5zm2 9zm2-15zm2 3zm4 15zm0-8zm1 5zm0-18zm2-3zm0 19zm1-1zm0 5zm1-19zm3 5zm1-9zm4 18zm9 1zm2-12zm2-5zm4 1zm0 17zm1-11zm0 1zm0 3zm1 11zm1-12zm0-11zm1 20zm1 3zm1-13zm2 0zm1-11zm3 18zm10-9zm11-8zm-328 41zm4 4zm5 1zm6 2zm7-5zm5-13zm1 4zm4-1zm0 13zm0-16zm2 15zm3-21zm1 6zm2 5zm1 13zm2-5zm0-6zm0 2zm2-14zm0 15zm4 4zm1-18zm4 8zm0 1zm1 10zm0 3zm2-4zm1-12zm1 3zm1-7zm0 12zm2 1zm1-5zm4 9zm5-3zm0 2zm10 0zm1 0zm2 2zm2-6zm0 2zm2-14zm0 19zm1-23zm1 14zm2 10zm1-10zm1 2zm1-3zm2 2zm1 8zm1-23zm2 14zm7-1zm10-10zm0 11zm4 6zm2-17zm4 17zm0-1zm6 4zm0-10zm2 8zm2-15zm4 12zm0-10zm2 16zm2-20zm1 10zm1-2zm0 3zm1 4zm5-7zm2-5zm1-5zm1 9zm0-7zm4 1zm7 4zm2-2zm3 8zm1 7zm2-15zm3 16zm3-6zm5 1zm0-14zm3 1zm1 4zm7-8zm3 8zm9-9zm4 5zm3 8zm3-9zm1 13zm4 2zm6-4zm0-6zm2-5zm4 2zm1-2zm2-3zm2 18zm1 3zm0 1zm2-8zm1 4zm0-10zm1-5zm2 4zm3 9zm1-3zm1-5zm0 6zm3 3zm2 4zm3-21zm2 15zm1 3zm1-13zm1 4zm7 11zm1-7zm0-10zm1-3zm3 19zm1-18zm1 20zm0-21zm4 6zm5 17zm4-11zm4 1zm1-4zm1-7zm5 11zm1 10zm5-18zm-334 37zm3 2zm3-1zm2-4zm0 3zm8 3zm3 2zm0-11zm1 0zm1-6zm5 17zm0-15zm3 9zm0-15zm2 17zm0-1zm4-4zm1-1zm0 5zm1-18zm1 3zm0 5zm1 13zm0-5zm1-4zm3 4zm0 6zm1-10zm1-4zm2 7zm2-11zm3 20zm1-3zm8-19zm2 10zm2-8zm0 5zm1-4zm7 8zm0-13zm3 11zm0-1zm6-1zm1-4zm5 18zm5 1zm0-7zm3-3zm0-6zm4-7zm5 17zm3-7zm0-4zm1-3zm1 10zm4-2zm1-7zm1 3zm5-5zm2 17zm1 3zm9-6zm4-5zm1 0zm1 8zm0-3zm5-8zm0-6zm2 17zm4-12zm2 14zm1 0zm14-2zm1-13zm2 1zm2-5zm1 18zm1-5zm2-3zm2 5zm0-5zm5 10zm3-8zm0-11zm1 7zm0-3zm1 7zm1-7zm1-7zm3 6zm1 16zm1-9zm8 10zm3-12zm0-5zm4 10zm0-10zm0 5zm2 5zm0 2zm2-12zm1 0zm1 2zm0 3zm2-12zm1 0zm0 19zm5-8zm6-4zm0-4zm1 4zm0 15zm0-9zm5-7zm6 2zm2 6zm4-11zm1 2zm1 4zm2 1zm0 1zm4-8zm7 15zm6 0zm1-7zm7 3zm1 1zm3-6zm5-6zm4 21zm1-21zm1 2zm4 13zm4-8zm7-10zm17 4zm-341 36zm18 1zm3 3zm0 5zm8-4zm1-8zm0 12zm0-2zm2-18zm1 13zm10-11zm2-3zm0 12zm4 8zm5-20zm7 18zm1-13zm5-1zm1 10zm2 0zm0 5zm3 0zm2-1zm1-19zm1 16zm3 5zm1 1zm1-4zm1-16zm0 9zm2-4zm2 11zm0-9zm4-3zm1-4zm1 20zm2-1zm1-21zm4 18zm2-6zm3 10zm2-12zm6-8zm7 4zm6-4zm1 19zm0-20zm1 13zm3-3zm1 8zm7-19zm1 18zm6-8zm9 9zm0 2zm0-7zm3 3zm6-2zm5-6zm0 13zm1-19zm2 9zm0-1zm0-10zm2 5zm1 5zm5 4zm0-16zm4 1zm1-1zm1 16zm4 5zm2-14zm2 11zm1-12zm7 17zm0-21zm1 9zm1 9zm1-16zm3-3zm2 17zm1 5zm0-19zm3 4zm1 10zm4-6zm1 5zm1-16zm1 16zm0-18zm0 14zm1-12zm3 3zm1 18zm0-10zm2-4zm3 11zm3-20zm1 15zm0-2zm1 4zm4-12zm1 14zm2-15zm1 17zm1-5zm0-10zm5 10zm2-16zm1 4zm3 16zm2-8zm2-6zm5 0zm0-3zm1 17zm1-11zm0-5zm1 2zm0 1zm0 2zm1 4zm8-3zm9-1zm1 8zm2 6zm1 1zm5-5zm1-6zm3-12zm5-1zm4 6zm-342 41zm16 1zm5-8zm1-8zm3 15zm5-17zm1 0zm3-2zm1 11zm2-13zm4 5zm4 9zm0-10zm3-4zm3 14zm6 5zm0-18zm1 13zm1-8zm1 6zm2 4zm1-3zm2-3zm4 12zm1 0zm3-17zm0-5zm3 17zm1 0zm5-12zm1 8zm2 3zm5-11zm4 15zm1-8zm6-3zm0 4zm0 6zm2-1zm1 3zm2-17zm2 5zm2 8zm2-1zm1-11zm1 2zm2 14zm0-9zm4 4zm4-14zm4 7zm3 14zm0-15zm1-2zm2 2zm0 12zm2 0zm1-7zm4 8zm1-19zm4 9zm6-6zm0 3zm2-5zm11 20zm5-1zm4-7zm1 6zm2-21zm0 3zm1 12zm1-2zm8-8zm3 10zm1 8zm2-9zm1 2zm0-14zm8 14zm4-10zm5-3zm1 7zm1 11zm2-4zm2-9zm4 1zm2 8zm2 2zm2-9zm4-7zm2 3zm1 7zm1 5zm5 2zm0-9zm1-7zm0-4zm6 23zm9-1zm4-6zm2-4zm3 4zm2-15zm3 13zm5-7zm2 2zm8-10zm3 7zm1 3zm5-3zm2 1zm0 12zm1-3zm4-7zm1-8zm3 14zm7-1zm7-4zm4-7zm2 12zm9-8zm-343 39zm4-10zm6 6zm2-5zm5 4zm10-4zm3 11zm1-17zm5-5zm0 7zm0 14zm1-21zm2 12zm1-4zm1-1zm1-9zm1 5zm2 19zm0-11zm1-9zm2 5zm3 2zm0 2zm3 2zm0 2zm2-11zm1 18zm2 0zm6-22zm0 4zm1 5zm1-11zm7 0zm2 20zm1-13zm1 8zm2 6zm2-5zm1-8zm3 14zm4-16zm1 8zm1-3zm1 8zm5-2zm0-10zm0 15zm3-5zm0 5zm3-8zm2 4zm1-15zm2 17zm0 1zm1-19zm1 6zm0 14zm2-6zm4-8zm2-4zm1 20zm7-17zm2 5zm0-11zm8 13zm0-1zm10-3zm1-2zm6-2zm1 7zm2-6zm12-7zm0 12zm1 2zm2-6zm1-5zm0 14zm3-10zm2 3zm6 7zm2-17zm5 22zm13 2zm2-2zm0-9zm2 9zm4-2zm3-9zm1-5zm0 13zm8-17zm1 17zm1-18zm1 4zm4 3zm3 2zm4 2zm1 11zm1-14zm2-4zm2 11zm2-13zm2-2zm0 13zm3-11zm0 2zm1 6zm2 10zm2-7zm0-8zm1 6zm2-6zm5 18zm1-1zm3-22zm2 12zm6-7zm3 9zm3-12zm4 17zm0-14zm1 3zm5 7zm1-16zm0 4zm3-4zm1 7zm31-3zm-340 41zm9-16zm2-4zm2 15zm2-3zm1-4zm0 5zm2-7zm1 8zm5 3zm1-9zm1-8zm6 12zm0-8zm1 14zm1-7zm3-5zm2 15zm3-13zm4 8zm1-8zm0 13zm2-16zm5 1zm0 10zm3 6zm6-21zm1 11zm1 9zm0-12zm1-5zm2-3zm6 16zm0-12zm1 13zm4-17zm0 9zm2-8zm0 13zm0-5zm7 4zm4-4zm0-9zm10 10zm4-3zm1-1zm0-5zm3 5zm3 0zm2 4zm1 5zm2-5zm3-10zm2 19zm1 2zm1-2zm1-18zm4 3zm4 17zm5 2zm1-20zm3 7zm0-8zm2 11zm2 8zm2-20zm0 14zm5 2zm2-6zm2-4zm1 7zm0-5zm3 14zm0-1zm3-8zm5 0zm1-14zm2 7zm4 4zm2 7zm2-11zm2 13zm3-11zm2 5zm3 9zm2-4zm4 2zm9 1zm1-16zm0 14zm2 3zm7-7zm1-16zm0 8zm2 13zm5-8zm0-1zm1-10zm0 13zm7-9zm10 12zm1-3zm1 0zm2-16zm2 23zm8-17zm3 3zm5 5zm1-5zm0 13zm1-9zm3-11zm3 16zm2 3zm1-11zm3 2zm2 4zm0-10zm3 11zm1 4zm2-4zm1-3zm2-6zm1 10zm0-5zm7 10zm10-18zm-314 23zm13 12zm2 4zm4-11zm0-3zm2 5zm2 5zm1 9zm0-1zm0-23zm1 4zm2 17zm1 3zm1-16zm6 12zm0-18zm1 16zm2 6zm3-20zm2 1zm1 3zm1-6zm2 0zm2 2zm2 6zm2 0zm4-3zm1 17zm0-5zm1-11zm0 1zm1-8zm1 12zm0-10zm3 14zm1 1zm3 2zm3-1zm0-15zm0 3zm3 0zm1 2zm3-1zm0 16zm0-11zm3-5zm3 1zm2 11zm0-18zm0 12zm4 5zm0-1zm7-3zm0-15zm0 12zm8 4zm2 5zm1 1zm2-5zm2 3zm1-16zm1 20zm1-14zm4 12zm5 1zm4-10zm0 1zm4-7zm1-2zm12 0zm1 8zm0 5zm0 3zm1-17zm9 7zm4-3zm5 12zm1-1zm0-5zm1 4zm0-15zm3 11zm4-8zm2 13zm4-18zm2 9zm1 0zm9 6zm2-14zm2 13zm5-9zm1 11zm0 3zm0 3zm1-15zm3 7zm1 8zm1 1zm4-3zm0-10zm2-6zm0 13zm1-6zm5-12zm0 5zm1 15zm2-6zm3 7zm2 3zm3-8zm0 7zm4-15zm2 1zm2 8zm1 4zm0-6zm2-11zm0 12zm0-16zm5 6zm0 3zm0-5zm1 9zm2-8zm3 5zm7-3zm2 7zm2 1zm2-1zm17-1zm2-7zm2 6zm0-7zm0 2zm14 4zm-294 15zm5 4zm2 9zm0-7zm7-4zm3 5zm4 15zm1-9zm5 4zm7-16zm1 11zm1-12zm3 19zm7-12zm1 5zm0 3zm7-14zm5 8zm1 12zm2-18zm2-1zm1 8zm5-1zm1-5zm0 13zm0 3zm1-3zm1 0zm1-12zm1 8zm8-14zm4 3zm0 13zm4-16zm0 4zm3 0zm1 13zm1-1zm3-9zm1 2zm1 9zm1-3zm1 0zm2 8zm0-23zm3 8zm1 7zm3-8zm5-7zm1 0zm1 3zm13-1zm1 10zm1 0zm4-10zm3 9zm2 4zm3 3zm1-8zm6 5zm0 1zm2-13zm0 4zm2 0zm0 11zm2-8zm1-5zm1-5zm4 15zm2-12zm1 9zm3-12zm7 0zm4 6zm2 7zm1 0zm3-4zm0 8zm1 4zm3-2zm0 1zm6-3zm1-5zm5-11zm2 1zm1 17zm0-10zm28-3zm2 4zm9-5zm-226 20zm21 6zm8-6zm10 0zm9 8zm0 4zm1-6zm4 5zm17 1zm4-12zm4 9zm0-7zm4 10zm5 3zm6-14zm3 6zm1 5zm0 1zm3-9zm15 4zm9-1zm3 14zm3-18zm2 2zm1-4zm2 2zm3 6zm1 1zm1 2zm7 2zm22-12zm16 0zm8 5z" stroke="#F564E3"/>
<path d="M1062 3874zm1-4zm0 4zm21-6zm3-1zm2 4zm3-1zm5-1zm15-2zm20 7zm10 0zm2 0zm-86 20zm14-15zm3 15zm1-8zm2-3zm0 4zm7 11zm8-12zm2-1zm0-10zm0 16zm5-10zm9 17zm1-19zm1 15zm2-10zm1-6zm0 6zm1 2zm3 4zm1 5zm0-4zm2 2zm0-14zm1 7zm2-8zm1 10zm2-5zm3-3zm2 14zm1-17zm8 21zm0-4zm3-15zm1 14zm4 2zm2-2zm2-8zm2 12zm6 2zm1-4zm0-8zm3 7zm5 2zm6-8zm0-6zm2 5zm10 5zm3-9zm0 12zm1 4zm1-11zm1 8zm3-6zm10 6zm10 0zm4-7zm6 7zm-165 8zm7 10zm3-9zm1 8zm8-12zm8 10zm2-4zm0 3zm4 6zm1-1zm3-13zm2 11zm7 3zm2-5zm1 0zm2 9zm7 0zm4-10zm0 7zm3-10zm1 12zm2-5zm1 3zm0-1zm1-7zm4-9zm1 21zm1-15zm5 15zm3-2zm2-5zm8 4zm4-6zm4-12zm1 2zm2 3zm4 5zm4 1zm3 2zm0-7zm3 16zm3-11zm8-6zm4 7zm3 10zm1-16zm3-6zm5 17zm0-6zm0 5zm3 0zm2-6zm0-10zm5 15zm10 2zm3 2zm2 4zm5-8zm7 6zm3 2zm1-7zm0 5zm6-6zm2-2zm7 10zm-183 2zm1 18zm9-15zm6 4zm6 5zm2 10zm3-17zm1-1zm7-3zm4 16zm3 5zm3-16zm0-5zm1 23zm1-6zm0-9zm2-2zm2 0zm1 3zm1-6zm3 12zm1-5zm6 10zm1-17zm0 13zm1 3zm0-11zm6 2zm0-6zm1 13zm2-10zm3-5zm2 3zm1 18zm1-22zm1 5zm0 13zm0-6zm5-8zm6 5zm1 8zm1-15zm2 18zm1-16zm4 17zm6-3zm6-10zm1-3zm2-2zm0 13zm3-15zm0 16zm0-10zm0 13zm1-19zm2 19zm0-1zm9-14zm1-2zm1 1zm3-5zm3 10zm3-6zm4 16zm1 3zm0-19zm6 17zm1-7zm8-1zm2 8zm0-20zm3 3zm1 18zm2-16zm2 6zm3 0zm1-7zm0 4zm2 9zm4-7zm6 2zm1-7zm3 17zm3 0zm5-4zm2-13zm5 13zm1 0zm-193 15zm2 2zm2 6zm7 0zm4-7zm3 4zm2-4zm0-5zm3 16zm0-15zm0 12zm1 4zm1-6zm1-14zm5 13zm2-4zm2-3zm4 12zm2-13zm1 5zm0 3zm1-14zm1 1zm3 6zm3-1zm0 3zm2 9zm1 1zm0 1zm1-14zm0 11zm2-18zm4 11zm0-1zm0 3zm2 9zm2-4zm1-2zm1-12zm5 1zm0 12zm1-8zm4 2zm4 4zm3 8zm1-16zm3 8zm0-1zm4-7zm5 5zm3-9zm3 14zm2-13zm2 19zm2-1zm0-16zm1 9zm0-10zm2 8zm0 5zm2 2zm6-11zm3 3zm4 7zm10-7zm2-1zm1-4zm7-7zm2 12zm2 2zm2 8zm7-22zm0 4zm1 13zm2-8zm0 14zm1-20zm6 15zm0-18zm1 6zm2 15zm5-20zm6 15zm3-3zm0 3zm5-15zm2-1zm0 7zm4-1zm4-2zm2 2zm5 4zm1-3zm3 10zm-184 31zm0-19zm2 3zm2 5zm1-8zm2 9zm1-3zm2 12zm0-23zm1 12zm2-8zm1 15zm2-6zm0 4zm2 0zm1-14zm10 3zm1 2zm5 16zm0-20zm0 17zm4 1zm2-2zm1 3zm3-2zm0 3zm4-23zm1 21zm1-15zm1 9zm4 5zm2-14zm1 11zm2-4zm2-3zm3 3zm3-8zm3-1zm1-2zm1 12zm2 5zm2 1zm0-8zm6-5zm0-1zm2 14zm0-16zm4 8zm14 6zm2-9zm2 0zm0-6zm1 14zm3 3zm0-8zm3 8zm6 0zm1-19zm3 16zm0-6zm7-11zm5 8zm7 2zm1-7zm1 6zm2 9zm1-7zm0 9zm1-12zm0-5zm4 4zm0 4zm1-4zm1 4zm3 2zm1 0zm1 6zm0-11zm3-1zm2 1zm3 7zm2 0zm2-14zm2 11zm1-8zm1 16zm0-5zm1 3zm3-11zm2-1zm1 7zm0-1zm1 0zm0-10zm1 2zm3 13zm0-7zm10-2zm1-4zm5 6zm4 10zm0-11zm6-5zm1 12zm-229 19zm7-8zm2 13zm1-1zm13 0zm3 8zm1-11zm1 6zm6-12zm4 13zm1-1zm2-5zm4-8zm3 3zm1 8zm2 8zm1-19zm2 6zm1 0zm4-8zm11 0zm1 7zm1 6zm3 8zm0-6zm0 1zm4 0zm4-5zm2-11zm1 21zm1-7zm1 2zm12-15zm1-2zm3 11zm2-13zm1 21zm1-2zm0-1zm2-2zm2-1zm3-9zm3-4zm4 7zm1-9zm2 15zm6-15zm0 2zm3 18zm2-18zm0 13zm0 6zm5-18zm5 15zm2 1zm0-6zm3-5zm3 13zm2 3zm1-20zm1 13zm6-14zm1 2zm2 12zm5-14zm1 14zm5 7zm0-20zm4 14zm4-14zm2 4zm13 2zm1-4zm2 4zm1-1zm9-7zm1 17zm0-13zm4 9zm7 2zm2 5zm1-4zm1-14zm5 7zm3 13zm0-18zm1 5zm4 8zm9-9zm3 7zm-243 9zm2 6zm2 5zm7-7zm2-5zm1 12zm0 6zm3-13zm5-4zm1 1zm0 15zm1 7zm0-7zm1-14zm0 2zm1 18zm5-19zm0 13zm1-4zm2-9zm1 0zm0 20zm2-7zm1-15zm1 1zm2-1zm0 2zm0-1zm0 2zm1 16zm7-2zm1-12zm4-2zm0-3zm5 2zm1 12zm1 3zm1-17zm0 14zm1 4zm5-3zm3 3zm2-3zm2-4zm2 1zm2-9zm1 11zm2-5zm1 10zm1-14zm0 17zm3-7zm1 4zm2-14zm1 6zm3 10zm7-6zm1-16zm2 0zm2 19zm2-12zm4 16zm1-16zm3-4zm0-4zm2 19zm1 2zm6-12zm0 15zm3-6zm3 2zm18-14zm2 5zm4-7zm0-1zm0 12zm8 2zm3 5zm1-5zm4-3zm1 0zm5-4zm3 10zm0 3zm2-1zm0-19zm3 5zm5 4zm6-12zm6 11zm2-6zm1 19zm4-2zm1-9zm0-9zm1 2zm1 9zm1-11zm1 1zm0 14zm1 3zm9-5zm3-1zm1-12zm0-4zm1 16zm2-4zm5 6zm1 1zm4-10zm0 7zm4-12zm6-4zm0 7zm3 15zm0-5zm4-3zm5 8zm-259 14zm0 13zm14-9zm3-9zm1 6zm3-6zm1 18zm1-12zm2-8zm0 14zm1 1zm3-8zm1 13zm3-19zm0 5zm1 13zm1-7zm0 1zm0-7zm0 14zm2-14zm1 5zm0-15zm5 11zm1-7zm1 3zm0 2zm1 12zm3-20zm3 2zm4 15zm2-3zm1-4zm0-7zm1 2zm2 7zm4 5zm3 5zm1-9zm4 5zm0-18zm1 3zm0 11zm4 5zm1-20zm3 2zm0-1zm1 9zm5 13zm2-7zm3-8zm0 3zm1 3zm2-8zm10 6zm1-9zm3 11zm2 7zm11-4zm2 4zm0-7zm1-6zm1-7zm0 6zm3 14zm10-12zm1-5zm5 17zm2-14zm0-7zm10 15zm1 5zm2 4zm2-6zm1-12zm0 13zm1-16zm4 13zm0 4zm3-1zm5 3zm1-10zm0 12zm0-20zm3 0zm2 3zm0 15zm1-18zm3 0zm2 7zm7-11zm3 3zm2 2zm1 12zm4-15zm3 7zm5 12zm1-16zm6 18zm1-11zm8 12zm1-18zm1-6zm5 21zm8-4zm5-6zm2 13zm1-8zm2-14zm5 10zm0 12zm0-5zm4 4zm6-6zm-257 17zm3-3zm5 5zm1-8zm3 17zm0 4zm2-3zm9-6zm1 0zm0 7zm4-18zm0 4zm0 16zm1-19zm1 2zm2 3zm2-1zm3 12zm4-20zm0 13zm1-4zm7 2zm7 7zm3-15zm10 4zm2 9zm2-13zm2-4zm5 9zm6 0zm1 2zm5-5zm0 4zm2 9zm0 2zm8-10zm2 11zm0-12zm3-6zm1 17zm6-7zm0-10zm2 4zm1-4zm3 18zm0-13zm0 14zm3-20zm9 12zm4-15zm0 22zm1-18zm1 11zm1-7zm1 15zm4-23zm0 3zm4 17zm1-18zm0 9zm4 7zm2 3zm1 3zm0-5zm1-5zm2-7zm2 6zm2 10zm0-1zm0-6zm1 4zm2 0zm0-18zm4-2zm7 24zm2-15zm0 12zm0-8zm2-12zm2 21zm3-19zm3-2zm6 14zm5 6zm2-9zm2 5zm3-6zm3-6zm3-1zm7 16zm7-5zm3-1zm0-8zm2 10zm2-4zm2 4zm0 3zm4-12zm3-6zm5 16zm1-10zm1 12zm7-19zm2 21zm22 3zm-279 6zm5 7zm4 11zm2-20zm8 10zm0-1zm2-8zm1 12zm4-16zm2 6zm3 5zm14-5zm6 1zm3 8zm6-9zm13 6zm0 4zm2 3zm0-7zm8-9zm7 18zm8-2zm3-5zm7 3zm1-13zm3-3zm2 15zm0-15zm1 7zm3 6zm2-9zm2 4zm6 3zm2 7zm2-5zm2 1zm3-3zm2-12zm3 13zm4 7zm3-1zm2-17zm1 14zm7 6zm4-9zm1 7zm2-19zm0 12zm0-7zm1 15zm2-12zm1 12zm3-16zm1 8zm2-10zm3 21zm4-11zm3-12zm0 4zm3 3zm2-1zm0 2zm5 3zm3-5zm2 4zm5-2zm7-8zm0 14zm0-11zm1 7zm4 10zm1 0zm2-10zm0 2zm5 8zm1-6zm4-4zm1 1zm5-6zm3 18zm1-23zm6 8zm0-6zm2 15zm5-7zm0-5zm1-3zm3-1zm5 21zm0-9zm1-3zm6-11zm2 6zm4 11zm0-5zm1 1zm0-6zm-266 32zm11-7zm4-5zm9 4zm8 1zm11 4zm3-1zm0-5zm2 11zm1-6zm1-10zm8 17zm8 6zm2-17zm1 9zm0-3zm3 1zm4 6zm3-15zm4-3zm3 7zm1 9zm1-5zm3-5zm0-6zm1 14zm0-14zm1 2zm1 9zm6 10zm1-9zm0-10zm0 13zm0 1zm1-12zm2 13zm1 1zm2-16zm4 2zm4 7zm1-9zm3-3zm0 22zm3-11zm0 1zm2-11zm2 18zm3-8zm4 0zm1 2zm2-13zm4 6zm16 7zm1 1zm2-5zm0-2zm3 0zm5-7zm0 2zm1 15zm3-12zm1 12zm8-11zm6 2zm1-8zm0 13zm0-1zm1-5zm0-5zm2 5zm1 1zm1 5zm1 1zm1-6zm2-3zm1 7zm4-6zm2 11zm2-4zm2-11zm5-2zm11 10zm0 2zm2 2zm0 3zm3-1zm1-2zm4 0zm0-6zm15-1zm1 1zm2-6zm1 9zm5 3zm2-2zm2 9zm2-19zm2 15zm1-4zm0-4zm4-6zm-286 41zm6-15zm13 19zm17-3zm10-10zm1-1zm1 11zm3-13zm0 3zm1 9zm5-18zm13 10zm6 10zm1-3zm1-15zm1 6zm1 4zm0 4zm4-14zm2 16zm2-13zm1-2zm1 16zm3-14zm1 11zm4-1zm0-7zm0-6zm2 20zm2-22zm8 19zm1-13zm5-4zm0 1zm2 1zm1 11zm3-16zm0 17zm1 7zm0-11zm1 4zm0 5zm2-21zm5 15zm2-5zm1 11zm13-15zm3 0zm2 5zm3-7zm7 11zm13-11zm3 2zm1 8zm0-6zm3-3zm5 7zm0-13zm1 20zm3-1zm0 2zm6 3zm2-9zm0-7zm1 15zm10-13zm0-4zm2-6zm1 10zm1-9zm1 8zm4-6zm0 13zm1-3zm0-3zm1 11zm4-1zm10-14zm0 3zm2-7zm1 2zm9 10zm4-7zm0 14zm4-5zm2-13zm0 16zm5-12zm2 10zm2 1zm2 1zm4-10zm3-4zm6 2zm2 16zm0-10zm0 5zm1-12zm7 14zm3 3zm0-9zm-282 29zm12-18zm12 10zm4-9zm5 10zm2-3zm2 16zm23-19zm1 16zm5 0zm2-12zm2-8zm0 5zm2 17zm3-12zm4 0zm2-10zm3 22zm0-1zm1-22zm2 19zm5-17zm2 12zm2-12zm0 18zm1-4zm0 6zm9-2zm0-15zm1 16zm3 0zm7 2zm6-3zm6-5zm6-3zm1 9zm4-13zm0-1zm2-2zm2 2zm8 12zm1-17zm11-2zm1 11zm0 1zm1 8zm4-19zm7 16zm0 4zm2-6zm2-7zm4 1zm0 6zm2 3zm1-3zm4 9zm3-7zm4 6zm3-4zm0-19zm4 16zm1 3zm0 4zm6 1zm1-9zm1 6zm1-17zm1 1zm2-1zm2 12zm0 2zm2-13zm1 18zm4-19zm5-4zm0 24zm1-9zm1 9zm1-21zm1 8zm5 10zm1-17zm3 3zm1 8zm2 3zm1-8zm1-4zm0 5zm1-2zm2-4zm4 11zm3-8zm0 12zm2-1zm1-12zm2 10zm7 5zm1-4zm2-15zm5 15zm3 0zm-276 25zm0-3zm3-6zm3-1zm14 4zm4-7zm10 2zm1 1zm4-2zm5 18zm12-23zm2 20zm3 1zm4-19zm6 5zm5 16zm4-19zm4 10zm3-7zm4 12zm1-13zm2-1zm6 9zm3 2zm0-10zm2-1zm6 8zm3-13zm11 11zm2 1zm0-10zm0 9zm2 4zm4-10zm0 15zm2-13zm0 16zm4-5zm5-10zm1 15zm3-23zm5 20zm0-9zm6-2zm0 3zm1 3zm1-4zm1-5zm3 16zm1-18zm6 16zm4-13zm1 16zm8-14zm6 1zm2-8zm5 5zm3 3zm4 3zm5 10zm1-10zm4-11zm1 18zm1-3zm5-12zm2 0zm0 1zm4 7zm2 1zm1-14zm2 3zm1 4zm4-8zm0 13zm11-4zm1-1zm4 8zm1 7zm4-8zm4 0zm0 6zm5-3zm7-5zm0 1zm-295 13zm7 19zm7-12zm5 9zm5-13zm0-1zm1 2zm0-5zm1 10zm2 4zm15-6zm4-9zm12 1zm8 13zm5-7zm10 6zm4-2zm2 9zm1-12zm2 1zm5 9zm6 6zm3-17zm3 11zm1-14zm2 4zm1 5zm2-4zm3 6zm7-12zm7 6zm4 3zm1-10zm1 9zm2 8zm4 4zm1-8zm3-13zm6 7zm2 2zm9-8zm0 4zm3 1zm5-1zm6 0zm0-1zm2 16zm2-10zm8-4zm1 9zm1-11zm5 7zm4 3zm2 0zm6 7zm0-23zm1 12zm5 10zm6 2zm9-18zm5 0zm0 13zm2 4zm10-11zm2 8zm1-5zm5 7zm1 1zm1-2zm1 3zm4-22zm1 9zm2 2zm3 9zm2-1zm1-6zm8-10zm7-1zm1 17zm0-10zm1-7zm1 15zm0-11zm2-8zm2 8zm9-8zm4 15zm-307 14zm8 0zm16 17zm3-19zm10-1zm20 22zm1-2zm10-21zm1 0zm6 16zm0 2zm1-3zm4-8zm3 5zm0 11zm9-23zm1 10zm0 2zm5 7zm7-13zm12 8zm1-8zm2 17zm0-1zm1-18zm2 1zm2 16zm1-2zm4-14zm4 6zm1-3zm3 12zm4 4zm2-16zm9-4zm5 14zm3-14zm0-2zm6 12zm1-14zm4 4zm8-3zm4-1zm24 3zm9 0zm3 1zm1 3zm0-7zm4 15zm2-4zm3-8zm2 0zm8 19zm2-15zm5-2zm14-2zm1 15zm1 0zm2 3zm0-8zm3-3zm4-2zm3 11zm0-8zm4 8zm2-3zm2-9zm5-7zm2 21zm9-13zm-269 20zm2 16zm8-8zm30-3zm25-8zm28 3zm3 0zm108-1zm24 5zm9 2zm21-9zm5 7zm3-7zm-286 37zm2 11zm10-19zm3 18zm8-21zm2 10zm1-2zm7 4zm10-12zm4 4zm1-5zm0 17zm8-12zm7-3zm3 6zm9 1zm-60 36zm4-6zm7 8zm0-20zm4-2zm2 23zm5-15zm1-3z" stroke="#C77CFF"/>
<path d="M891 3185zm2 10zm4-2zm13 2zm1 0zm6-5zm3-4zm4 4zm-83 29zm10-1zm16-1zm1-14zm8-1zm5 14zm3 3zm1 1zm0-16zm5 2zm0 4zm2-4zm3 0zm3-5zm0 18zm5-2zm3 0zm1 5zm3-4zm14-6zm7 3zm7 1zm1 2zm7 5zm-114 22zm1 2zm6-13zm1 13zm3 1zm3-1zm0-22zm1 14zm2 9zm4-15zm3 12zm2-9zm2-10zm2 3zm1 2zm3 12zm3 5zm6-13zm0-6zm1 20zm2-13zm0 13zm2-22zm3 22zm1-13zm2 3zm12-8zm1 5zm3-8zm4 7zm10 9zm4 1zm1-11zm0-2zm2 15zm1-21zm12 7zm1 2zm2 12zm6-11zm1 5zm7 5zm4-1zm2-7zm13 8zm-158 24zm6-10zm1 11zm1-13zm1 13zm6-1zm0-2zm4-12zm1-2zm8 20zm5-9zm4-3zm0-12zm10 21zm0-14zm1-4zm1 19zm0-5zm2-16zm4 2zm4 14zm0-7zm1 6zm3 2zm0-14zm19 3zm1 11zm6-8zm1 0zm17 0zm7 13zm3-8zm1-15zm0 10zm5 11zm5-8zm3-4zm6 12zm1-2zm0-16zm1 14zm6 6zm2-7zm3-5zm1-4zm1 6zm6-2zm3-10zm0 4zm1 2zm12 17zm6-3zm4-3zm-204 22zm2-4zm3-2zm2 4zm5 6zm1 0zm0-4zm0-10zm1 0zm0-5zm1 0zm1 9zm2 1zm5 9zm2-17zm4 19zm0-5zm2-5zm1-11zm0 16zm6-8zm1 10zm1-6zm1-2zm0 4zm1 2zm8-3zm7-3zm1-5zm0 9zm0 9zm3-10zm2 3zm1-11zm4 1zm1-1zm0 7zm0-5zm4 9zm5-13zm0 4zm1-5zm0 13zm3 6zm2-18zm4-1zm2-2zm1 23zm1-20zm0 13zm1 2zm4-13zm3 0zm2 19zm1-19zm4 10zm0 4zm12-6zm8-2zm3-8zm5 9zm4-2zm0 8zm5-16zm2-2zm6 7zm1 3zm1 12zm2-7zm0-4zm2 2zm3-11zm3 4zm8-4zm2-1zm0 4zm0 19zm4-13zm0-10zm3 4zm1 18zm1-7zm5-11zm1 12zm1-14zm6 2zm0 12zm5-6zm-226 31zm10-2zm1-10zm17 19zm1-10zm2-11zm2 0zm0 17zm8-2zm1-13zm2-2zm0 8zm13-3zm4 9zm1-12zm0 13zm2-10zm11 1zm2 3zm3 12zm1-7zm9 0zm1 1zm1-4zm1-8zm3 14zm1 2zm3-15zm1 4zm2 2zm1-2zm3-8zm1-3zm3 12zm2 10zm3-17zm2 7zm6 9zm3-2zm4-14zm1 5zm1-1zm2 14zm0-13zm6-9zm1 2zm1 7zm8 3zm5 5zm2-11zm0-5zm0 8zm1-6zm2 4zm1 6zm4-12zm1-1zm1 23zm0-15zm2 14zm2-9zm4-7zm4 16zm2-22zm2 16zm1-4zm1-6zm4-5zm4 15zm4-8zm2 9zm3-2zm1-10zm3-5zm1 21zm3-8zm7 6zm0 3zm2-3zm3 1zm0-20zm6 20zm4-7zm14-1zm5-7zm2 5zm10-2zm2 12zm2 3zm5-11zm1 1zm3 7zm5-9zm0 12zm1-6zm5 4zm4 2zm-308 22zm0-14zm8 10zm5-5zm4-12zm2 12zm0 12zm1-14zm6 6zm9 0zm2 6zm5-2zm2-3zm3 7zm3-5zm4-1zm3 5zm1 0zm3-6zm1-8zm4 7zm3-3zm1-2zm5 3zm8 8zm0-19zm1-1zm6 0zm0 21zm2-1zm0-20zm0 18zm6 4zm0-3zm1 2zm3-18zm1 19zm0-17zm2 9zm7 5zm0-1zm0-3zm0-5zm8 10zm6 1zm1-3zm1-13zm8 12zm4-5zm9 8zm2-7zm1-15zm0 12zm1-6zm2 8zm3-13zm2 2zm1-3zm0 12zm3-5zm4-5zm17 1zm3 4zm4 10zm1-12zm0 12zm3-13zm3 1zm8 2zm3-5zm0 1zm2 14zm0 3zm1-19zm1 17zm1-13zm0 3zm2 13zm1-6zm1-13zm1 19zm4 1zm1-5zm0-3zm1 9zm7-11zm1 0zm2-8zm0 16zm1-15zm1 15zm1 2zm2-9zm10 6zm0-16zm3 6zm3 12zm1-13zm3 6zm3-2zm1-6zm2-3zm2 10zm2-6zm6 11zm1 4zm1-14zm7 8zm3-9zm1 13zm3-20zm5 15zm2-9zm3 2zm1 15zm0-8zm0-5zm1 0zm4-7zm1 5zm0-1zm5 9zm6-3zm1-3zm8 5zm2 4zm2-14zm-325 33zm3 2zm1 7zm5-2zm1 0zm1 4zm2-21zm16 18zm1-7zm0 2zm5-4zm1 9zm3-5zm3-5zm0 7zm3-1zm1 3zm2-8zm4 3zm4-12zm7 12zm3 2zm0-13zm9 3zm12 9zm4-11zm3-2zm3 17zm1-4zm1 2zm4 6zm2-6zm5-3zm3 6zm2-10zm1-10zm2 20zm0-20zm7-1zm7 16zm2-9zm8 12zm5-4zm2-12zm2 1zm4 3zm2-3zm4-3zm4 2zm1 15zm0-7zm3-11zm6 17zm1-13zm2-4zm1 8zm1 4zm4-12zm5 17zm1-3zm3 5zm5-2zm2 5zm0-22zm7 17zm4-16zm13 4zm1 1zm0 18zm4-21zm3 8zm5 11zm1-12zm8-9zm3 17zm13 2zm2-2zm0 3zm2-20zm1 17zm1 5zm13-6zm0-1zm1-15zm1 18zm2-6zm1-11zm1 1zm3-3zm28 3zm3 0zm-318 35zm5-3zm17 12zm0-1zm2-10zm5 11zm2-12zm0 8zm3-8zm1 10zm1-11zm1-1zm1-4zm0 18zm3-22zm4 2zm0 12zm2-12zm1 19zm4-11zm2 13zm3-5zm1-16zm4 15zm9-8zm1 12zm1-6zm7-13zm5 1zm1-2zm1 20zm1 0zm20-5zm1 1zm2 7zm1-13zm1-11zm7 3zm2 6zm4 12zm4-4zm5 3zm1-1zm3-13zm0 9zm3 9zm0-18zm15-2zm4 6zm0-5zm1 19zm1-9zm1-5zm3-7zm1 7zm4 13zm1-10zm4-5zm1 1zm1 11zm8-6zm5-14zm3 7zm0 6zm2-6zm3 6zm9-10zm1 21zm3-3zm2 0zm3-1zm5-5zm1-5zm8 12zm15 0zm1-18zm14 18zm1-22zm4 4zm4 16zm26-17zm-278 26zm3 8zm3-9zm2 18zm6-19zm6 16zm1 1zm1 2zm5-14zm1-7zm3 23zm0-16zm1-6zm2 4zm2 0zm14 4zm0 1zm1 3zm0 4zm3-13zm0-1zm5 19zm9 1zm4-21zm13 9zm1 2zm5-13zm3 7zm2 8zm4-1zm7-14zm3 20zm0-19zm1 3zm8 8zm9 12zm0-1zm1-2zm2-11zm2-2zm6 0zm0-8zm3 21zm0-20zm2 20zm4-21zm5 16zm2-2zm5-13zm8 10zm0-5zm0 18zm7-19zm1 14zm2-19zm1 24zm2-19zm7 10zm5 7zm10-21zm3 23zm5-22zm2 19zm12-1zm2-15zm-199 32zm5-9zm6 11zm5 0zm4 3zm2-2zm4-11zm6 17zm2 3zm2-16zm0 3zm5-6zm1 11zm7-13zm8 1zm7 2zm3 15zm2-12zm0 6zm3 8zm6-23zm4 12zm3-4zm3 8zm0 2zm3-15zm4-3zm0 3zm5 20zm4-22zm1 20zm4-16zm1-5zm7 1zm0 13zm3-8zm0-3zm3 4zm3 6zm3 7zm2-8zm0 1zm12 8zm1-10zm2 8zm0-14zm2 17zm6-17zm4 5zm1-4zm1 6zm4 0zm2-10zm4 10zm1-11zm-159 30zm9 8zm2-10zm3 4zm3-3zm2-3zm1 9zm8-6zm7-4zm1 18zm0-19zm1 21zm9 0zm3-15zm2-6zm8 20zm4 1zm2-21zm6 19zm1-17zm2 20zm1-3zm1-9zm5 2zm1 5zm1 2zm1-18zm8 9zm0-7zm1 17zm1 4zm1-11zm14 8zm0-19zm7 12zm2-10zm0 15zm1-10zm3-1zm2-3zm0 13zm3-14zm8 20zm7-9zm-111 33zm3 1zm5-14zm8 5zm3-10zm3 5zm2-2zm1 1zm2 7zm0 7zm4-12zm4-7zm1 13zm1 6zm4-21zm0 12zm7 1zm1 1zm1 5zm5 1zm7 1zm4-19zm1-2zm5 8zm1-2zm2-3zm0-3zm8 1zm6-2zm1 8zm-86 33zm13-16zm3 6zm5 13zm3-1zm12-7zm9 2zm13-7z" stroke="#619CFF"/>
<path d="M2014 4346zm10-5zm5-2zm4-3zm2 12zm1 0zm14-2zm8-6zm8-8zm3 10zm9-11zm12 7zm13 3zm2-10zm4 15zm12-9zm-133 32zm10-9zm1 3zm8-2zm5 6zm4-3zm4 9zm1-21zm3 8zm5 2zm3 2zm1-2zm6 9zm4-12zm4 10zm14 4zm5-13zm14-4zm1-5zm2 0zm7 0zm1 4zm1-1zm5 4zm4 5zm2-2zm4-3zm0 2zm1 0zm4-10zm2 24zm1-14zm1-2zm4-7zm2 12zm6 6zm3 4zm8 1zm3-11zm0 9zm6 0zm0-6zm5 6zm22-3zm4-5zm-223 32zm14-13zm12-7zm2 5zm1 18zm1 0zm1-4zm3-17zm15-1zm4 10zm3-2zm2 4zm0-6zm4 5zm3 7zm4-2zm3 6zm0-8zm4 2zm2-12zm2 3zm2 0zm2-2zm2 1zm10-4zm1 17zm7-3zm0 3zm1-8zm5-10zm1 16zm1-18zm4 0zm1 2zm8 19zm4-1zm13-16zm10 5zm2 4zm2 5zm2-18zm3 7zm1-2zm3-4zm10 12zm1-8zm1 8zm8-2zm0-1zm3 10zm3-3zm0-10zm1-2zm8 8zm1-11zm9 8zm4-7zm2 14zm2-6zm12 10zm26-12zm2 12zm8 2zm-283 9zm17-8zm7 17zm7-15zm0 13zm1-11zm1-4zm2 4zm3 6zm0 14zm4-16zm3 2zm3 3zm6-3zm1-5zm1 4zm1 10zm3 4zm3-8zm2-11zm0 4zm0 4zm1-6zm6 1zm2 12zm8-15zm0 4zm2-5zm2 9zm2-5zm9 0zm0 17zm1-23zm1 15zm5-2zm2-2zm4-5zm12 1zm1-5zm17 12zm1-3zm3-12zm0 15zm7-3zm0 12zm2-13zm7 13zm3-7zm4-5zm0 2zm2 5zm1 0zm1-5zm8-1zm12-1zm0 7zm3-15zm1 6zm3 6zm10-3zm3-2zm1 12zm7-5zm1-9zm5 11zm4-2zm2-15zm5 14zm7-2zm14-6zm11 15zm4-3zm18 3zm-313 24zm14-13zm6 11zm1-14zm5 9zm1-6zm4 11zm0-10zm1 3zm0 2zm2-2zm1-5zm14 4zm1 2zm4-12zm3-2zm1 9zm8 2zm6 9zm5-19zm2 22zm9-4zm5 3zm12-23zm4 19zm0-7zm2 3zm1-7zm4 10zm2-18zm4 1zm0 8zm2 3zm8 8zm1-5zm1 7zm2-19zm5 15zm2 0zm3-16zm1 15zm2 4zm1-8zm2-4zm7 0zm2-9zm5 8zm5 7zm9-3zm2-4zm4 9zm4 3zm2-20zm2 3zm20 19zm6-12zm0-10zm1 18zm1 0zm9-9zm0 4zm1-8zm0 12zm2-2zm3-2zm1 6zm10-14zm2 5zm1 5zm1-4zm1-11zm7 10zm3 7zm0-1zm2 6zm5-12zm11 0zm8 13zm8-22zm2 23zm2-12zm10-10zm11 21zm-321 26zm6-4zm1-5zm2 6zm6-21zm2 4zm3 7zm1 11zm1-8zm3-6zm2-5zm10 12zm1 7zm2-3zm2-12zm13 1zm1-7zm6 19zm4-17zm7 12zm2 1zm5-4zm11-10zm3 7zm3 3zm10-10zm5-2zm1 9zm7 15zm0-20zm1 12zm1 2zm1-12zm4 7zm6 0zm12-13zm2 3zm1 10zm6 10zm3-10zm5-13zm4 16zm1 8zm2-23zm17 0zm5 12zm4-7zm13 7zm3-11zm5 16zm3-13zm2 13zm1-14zm2-2zm4 10zm1 9zm0-19zm0 12zm3-4zm10-6zm3 11zm2 2zm4-17zm5 22zm0-20zm1-1zm1 15zm0-9zm6 3zm1 10zm4 0zm1-6zm5-8zm0 2zm5 16zm2-14zm3-10zm3 6zm2-4zm3 9zm4-5zm8-1zm2 15zm1-6zm5-5zm5 0zm5-9zm4 13zm4 1zm-360 31zm9-8zm9 9zm0-3zm5-8zm2 9zm3-16zm1 13zm1-12zm1 15zm2 0zm4-8zm2-6zm0 16zm4 0zm10-12zm12-4zm1 9zm4-4zm0 1zm2 7zm4-12zm7-4zm5 7zm4 7zm7 5zm0-17zm4 10zm3-10zm1 10zm4 9zm3-13zm1 4zm1-3zm5 11zm0-9zm4 1zm0-1zm6-6zm1-7zm4 0zm1 4zm1 11zm7 8zm2-10zm2-2zm3 4zm1-6zm6 0zm11-3zm10-5zm2 20zm2-3zm6-10zm2-7zm1 2zm8-1zm3 10zm6 12zm0-11zm1 8zm2-1zm3-6zm7 2zm2-6zm6 0zm1 14zm3-4zm0-15zm0 12zm6-4zm11 7zm1-11zm3-8zm1 6zm3-3zm2 5zm0 8zm4-4zm1 3zm4 0zm1-16zm0 17zm2-5zm7 2zm1 6zm2-19zm1 12zm20-9zm1 12zm9-5zm3 11zm6-13zm16 15zm3 0zm0-9zm0 8zm5-14zm7 5zm6 3zm4-3zm3-6zm2 0zm6 11zm9-2zm4-15zm1 2zm3-2zm-418 46zm6-11zm0-3zm3 8zm2 4zm4-5zm7 5zm0 3zm1-17zm4-6zm4 17zm1-15zm2 16zm6-1zm2-4zm0 7zm8-17zm5 18zm8-19zm1-3zm1 5zm7 8zm5-3zm0 2zm5-4zm4-4zm3 12zm3-9zm1-5zm1 12zm4 7zm3-13zm5-8zm2 16zm8 7zm0-9zm3 0zm1-12zm6 7zm7-5zm0 14zm3 1zm7-13zm1 10zm0-4zm4-8zm1 17zm10 0zm8-4zm5 3zm0-12zm2 11zm5-14zm1-5zm4 11zm3 11zm15-6zm1-15zm1 0zm4 19zm2-13zm6-4zm2 1zm1 10zm5-5zm0 1zm16 11zm5-16zm0 13zm4-12zm6 12zm2-5zm6 11zm8-1zm2-14zm7 14zm4-11zm1 4zm2-10zm7 0zm1 4zm4 14zm7-17zm0 12zm2 2zm4-11zm1 0zm1 6zm1 5zm2-6zm0-5zm3 2zm3 8zm0 1zm6 0zm7-4zm6-16zm4 3zm8 5zm3 8zm0-3zm2-6zm0-4zm7-4zm5 12zm3-5zm7 8zm7 0zm0 3zm2-13zm4 11zm1 3zm5-12zm3-6zm6 6zm2 9zm2-9zm5 10zm5-3zm4 6zm11-7zm-451 36zm13-14zm18 8zm1-12zm3 18zm6-23zm3 11zm4-2zm0-6zm8 19zm2-1zm3-22zm4 8zm0 3zm0-7zm6 8zm1-9zm3 15zm1 4zm1 0zm1 0zm10-4zm4-10zm0 6zm3-9zm1 1zm2 4zm2-3zm4 16zm4-9zm8-11zm3 6zm9 5zm5-7zm5 8zm0 1zm2 0zm6 3zm4 4zm17-10zm23 2zm2-10zm3 8zm10-3zm4 8zm3-4zm1 6zm7 2zm3-9zm7 1zm3 1zm3-2zm5 7zm3-7zm1 7zm0-9zm0 2zm1 1zm2-3zm8-10zm4 21zm1-6zm4-4zm1-6zm1 1zm3-5zm0 6zm1-3zm2 12zm7 0zm5 3zm3 1zm8-13zm3-4zm0-1zm4 17zm2-4zm3-16zm2 0zm2 1zm6 22zm0-18zm1-5zm3 15zm11-13zm4 8zm7-6zm0 16zm0 3zm3-16zm3 6zm2-7zm1-5zm1 21zm0-19zm1-2zm3 12zm2 2zm2-10zm4 4zm1 9zm2-18zm4 23zm2-3zm2 4zm2-19zm5 0zm0 3zm9 10zm3 3zm0-9zm0 2zm4-3zm2-3zm1 5zm7-4zm5 3zm6-8zm0 18zm3-9zm1 2zm1 2zm1-10zm1 15zm1-12zm0 9zm0-2zm2-8zm3 3zm10 6zm-462 15zm8 12zm3 2zm1 0zm8 2zm0-8zm4-14zm2 2zm9 3zm1 1zm0-7zm1 15zm20-13zm1-3zm7 16zm2-7zm1 8zm2-3zm0 1zm3-2zm2-1zm3 7zm2-17zm0 10zm5-9zm7 0zm2 3zm1 18zm2-1zm13-17zm2 11zm0-9zm1-3zm7 19zm10-15zm0-9zm5 2zm3 5zm3 11zm1 2zm7-11zm8-5zm4-2zm0 15zm6-15zm26 21zm15-14zm0-6zm9 21zm1-23zm1 22zm0-19zm1 10zm2 9zm1-7zm0-7zm12 13zm3-11zm7 0zm1-8zm4 10zm2-13zm0 12zm3 0zm6-7zm20 1zm2 14zm1-9zm1 13zm7-15zm3 3zm5-7zm7 6zm7 7zm1-4zm0 2zm2 1zm0-2zm4-1zm2-13zm1 8zm4-9zm11 21zm4 2zm3-14zm3-5zm0 5zm7 5zm2 3zm6-2zm5 7zm3-2zm3-20zm1 6zm5 4zm2-5zm1 7zm3-11zm0 5zm1 12zm0-13zm2 7zm6 0zm1-9zm13 7zm3-9zm5 14zm2-5zm0-7zm4-2zm15 18zm14 5zm7-1zm-458 4zm0 3zm5 15zm3 0zm5 3zm1-1zm3-12zm0 14zm3-15zm9 9zm12-17zm11 13zm1 3zm2 3zm2 1zm3-18zm4 7zm0 14zm1-2zm1-4zm3-13zm2 19zm4-22zm2 15zm5 4zm5-12zm8 6zm3-10zm2 15zm0-19zm6 19zm15-11zm10 7zm1-4zm0-1zm25 1zm10 2zm13 6zm2-17zm1 21zm5-15zm2 14zm1-6zm1-13zm6 6zm6 10zm1-15zm3 17zm3-18zm1-1zm4 18zm7 1zm3-8zm6-9zm6 15zm0-7zm4-12zm1 1zm9 19zm3-13zm19 2zm6 14zm1-11zm0-2zm7 9zm4-5zm0 6zm4-2zm4-18zm7 11zm2 8zm5-2zm1 2zm3-10zm1-9zm1 5zm3 8zm2-11zm2 2zm1 19zm8-15zm10 2zm6 12zm6 0zm0-5zm12-13zm1-2zm3 16zm0-2zm3 2zm3 1zm4 4zm4-12zm7 4zm6 7zm6-13zm2-1zm2 15zm2-17zm5 14zm2-8zm2-6zm3-1zm0-1zm2 17zm5-18zm1-2zm1 11zm2-6zm16 0zm0 4zm8 7zm3-14zm-478 39zm8-13zm4-4zm2 0zm4 14zm8 2zm1-15zm6 16zm4-1zm4-4zm7-4zm2 14zm3-9zm4 8zm0-10zm1-7zm1 9zm6-13zm1 21zm9-16zm15 2zm0 16zm3-19zm1 4zm1 3zm1 2zm6-8zm0-6zm1 19zm5 3zm2-20zm1 8zm3 4zm2 9zm23-17zm4-1zm1 7zm2-5zm0 2zm1-3zm8 0zm3 11zm2-10zm4-7zm1 4zm0 6zm0-10zm8 16zm3-12zm4 5zm2-7zm0 5zm3 14zm7-13zm4 10zm1-5zm6-9zm2 13zm1-7zm2 7zm6 7zm10-8zm0-10zm1 7zm4 9zm4-22zm33 8zm7-3zm6 13zm5-15zm1 19zm5-5zm9-4zm0-6zm1 16zm3-14zm9 13zm5-22zm6 3zm0-1zm12 18zm4-19zm1 12zm0 2zm3-7zm1-4zm7 9zm3 3zm1-10zm2 18zm3 0zm0-22zm1 10zm6 5zm1-12zm1 19zm11-22zm4 13zm0 8zm11-19zm0 14zm1-9zm2 5zm3-13zm4 0zm1 20zm2-11zm1 12zm5-14zm3 13zm1-14zm3 1zm1-1zm1 4zm0-4zm5 8zm1-13zm1 7zm2 1zm3-8zm13 4zm2-6zm2 14zm8 10zm5-12zm1 5zm-474 18zm16 9zm2-4zm9-7zm3 15zm8-21zm3-1zm2 0zm6 9zm1 6zm2-6zm2-8zm4 21zm3-18zm4 18zm7-5zm5-9zm1 15zm4-20zm4-2zm1 12zm1 7zm1-17zm5 9zm5 10zm4-1zm3-14zm4 15zm1 1zm1-16zm1 16zm0-5zm2-4zm3 5zm2-10zm3 13zm5-17zm5 0zm5 15zm1 2zm3-23zm4 5zm1 18zm1-2zm1 2zm4-18zm3-3zm7 15zm4-8zm0-6zm3 14zm7-12zm3 3zm1 2zm1 1zm0 5zm2-10zm1 14zm3 4zm9-17zm3 6zm1-12zm7 22zm0 1zm2-1zm12-17zm0 6zm2-10zm9 10zm1 11zm4-21zm0 15zm1-2zm12 2zm2 3zm6-13zm3 5zm7-9zm2 10zm1-9zm0 14zm9-8zm6-5zm1-2zm1 11zm17-1zm4-2zm1 12zm2-11zm4 0zm5-6zm11 15zm1-7zm1 4zm7 0zm3-1zm5-4zm10 1zm0-11zm14 4zm8 7zm13 10zm2-13zm7 13zm13-21zm2 8zm7 1zm2-9zm0-1zm4-1zm2 0zm5 10zm6-4zm9-7zm4 6zm-445 43zm4-3zm1-10zm9-3zm1-5zm9 14zm6-12zm4 6zm2 0zm6 4zm3 4zm1-4zm4 5zm5-14zm3 2zm1 15zm12-5zm2-2zm1 6zm6-14zm2 14zm5-7zm0-9zm1 16zm0-14zm1 15zm3-3zm0 3zm5-17zm4 18zm1 0zm2-4zm1-4zm6 1zm4-4zm3-11zm6 18zm7 3zm2 1zm1-10zm1 8zm5-21zm2 12zm5-8zm7-4zm3 4zm6 17zm0-19zm16 10zm2 10zm0-20zm0 2zm3 9zm3-5zm1 10zm1 4zm5-15zm0 15zm3-10zm1 1zm3-5zm1-5zm3 7zm0-7zm4 17zm3-20zm0 1zm3 7zm6 2zm10 6zm4-4zm6 2zm2-5zm3 9zm0-19zm6 20zm1-13zm1-3zm1 18zm1-18zm4 15zm4-18zm7 17zm5-14zm5 0zm3 15zm0-11zm5 3zm3-7zm4 17zm1 1zm1-12zm7 4zm2-1zm17-12zm2 16zm5-12zm1 16zm1-3zm1 1zm2-12zm0 3zm3 6zm1 5zm4-6zm11-6zm0 13zm5-5zm1-6zm5 4zm2-5zm3 8zm2 3zm3-10zm7 5zm2-13zm3 2zm4 16zm0-14zm5 11zm0-8zm4 6zm4-2zm7-12zm5-2zm4 13zm0 11zm6-4zm2-2zm7-9zm-430 32zm1-5zm11 13zm8-18zm4 12zm6-7zm1 4zm5-11zm2 12zm1-10zm7 16zm2 0zm2-1zm1-17zm3 19zm10-4zm1-10zm1 2zm2 4zm7-7zm9-1zm3 12zm3-6zm7 3zm6-10zm0 3zm12-2zm1-7zm10 18zm0-10zm4 0zm4 14zm2 2zm10 0zm5-1zm6-1zm11-14zm1-4zm2 3zm3 4zm1-10zm3 20zm4-5zm6-10zm9-5zm6 9zm3-2zm2 1zm8-4zm4 18zm1-19zm3 11zm0-4zm0 5zm2-11zm0 18zm5-22zm2 21zm3-7zm4 8zm2-20zm0 3zm2 18zm12-1zm2-11zm0 1zm23 11zm3-8zm2-1zm1 4zm1 0zm1-16zm7 9zm1-3zm10 13zm0 2zm6-14zm2-4zm14-3zm1 12zm1 4zm2 3zm3-20zm2 16zm3-2zm6 4zm5-5zm0 5zm2-12zm4-8zm1 2zm3 18zm9-2zm0-11zm7 17zm10-10zm1-13zm5 10zm12-4zm6-3zm6-2zm-413 28zm8 0zm0 6zm17 1zm2 3zm4 7zm3-7zm15-9zm2 10zm9-16zm1 13zm30 5zm6 1zm11-16zm10 0zm18 16zm7-19zm8 10zm4 5zm8-5zm5-10zm1 16zm8-3zm6-3zm4 0zm4 2zm7 7zm1-2zm1-17zm6 7zm3 13zm0-8zm9-4zm8-8zm2 8zm1-4zm3 13zm3-15zm1 18zm4-20zm1 23zm15-23zm6 5zm7 7zm14-12zm1 8zm1-7zm1 14zm14-10zm11 4zm3 0zm7 5zm19-5zm1-2zm2 1zm1-6zm1 3zm3 7zm19-1zm11-9zm0 3zm27-4zm-250 28zm43 6zm4-7zm14-2zm83 3z" stroke="#F8766D"/>
<path d="M2096 3016zm-24 10zm8 3zm0 9zm1 6zm5 2zm4-17zm2 12zm1-7zm3 6zm7-2zm31 11zm-110 17zm5-8zm1 14zm2 2zm1-14zm2 10zm6-13zm1 5zm1 11zm7-16zm0 4zm1-1zm3 2zm2-2zm2 8zm2-7zm0 8zm1 1zm3-5zm6 9zm1-22zm4-1zm0 6zm1 1zm1-8zm3 20zm4-12zm2 11zm1-11zm1 14zm7 0zm0-6zm2 7zm2-6zm5-13zm1 11zm4-7zm4 2zm4 8zm1-18zm5 9zm12-6zm2 21zm7-8zm1 5zm2 1zm1-4zm2 0zm-143 25zm11 0zm1 0zm8 3zm4-11zm1 7zm3 0zm7 0zm2-10zm2-4zm1-1zm5 15zm5 0zm4-14zm2 6zm4 12zm0-1zm1-14zm4 13zm2-4zm2 5zm5 3zm1-9zm2-4zm1-3zm5-1zm7 16zm0-16zm7-4zm0-1zm5 1zm0 16zm1 4zm14-18zm1-4zm12 21zm1-12zm0-2zm1-6zm1 8zm4-1zm2 0zm8 5zm3-9zm2 13zm2 2zm1 1zm2-13zm1 12zm11-6zm9 10zm8-11zm1 2zm5 2zm-189 21zm10 11zm16-19zm13 5zm0 15zm1-3zm4-17zm2-2zm0 2zm8 11zm1 4zm7-9zm4-1zm4 5zm4-13zm2 20zm3 1zm1-9zm4-8zm2 8zm0 8zm1-8zm1-1zm0 3zm1-5zm0 2zm3 7zm5-7zm0-1zm2 4zm0-14zm1 19zm1-14zm3 14zm7 4zm3-18zm3 9zm5-6zm1-3zm2 15zm1-5zm0-11zm8 2zm0-2zm7 0zm3 16zm5-10zm0 1zm9-2zm5-9zm3 23zm1-1zm7-1zm1-13zm7 14zm1-6zm1-3zm4 1zm6 5zm3-11zm0-2zm4 4zm2 8zm3-4zm6 9zm1-6zm7 3zm2-15zm4 1zm-230 40zm3-8zm10-8zm0 8zm7 2zm2-5zm2-3zm2-2zm3 9zm3-4zm1-3zm3-2zm1 1zm1 3zm6-2zm5-2zm1-3zm3 19zm2-14zm0 16zm2-4zm0-19zm3 21zm2-3zm3-18zm1 3zm1 1zm1 15zm2-14zm0 2zm5-1zm7 7zm2-11zm1 8zm8-4zm3 9zm3 8zm2-3zm1-10zm0-2zm3 15zm5-5zm5 1zm3-17zm7 9zm5-6zm3 17zm8-22zm6 2zm1 10zm3-9zm17 5zm5-1zm7 9zm1 1zm2 6zm6-8zm3-14zm1 9zm2 2zm6 3zm2 3zm2 0zm0 5zm3-16zm5-2zm1 2zm1 13zm0-2zm3-1zm2-5zm7-2zm4-4zm2 16zm2-1zm2-3zm1-17zm0 18zm1-8zm7 12zm13-14zm7 8zm-275 25zm12 1zm8-1zm10-6zm3 9zm4-15zm1 5zm2-5zm0 13zm2 5zm8-13zm15-11zm0 22zm0-14zm1 8zm2-2zm3 4zm0-3zm2-8zm1 11zm2-1zm0-6zm2 13zm5 0zm4-3zm2-1zm4-4zm1-3zm3-10zm4 21zm6-10zm1 8zm1 1zm0-8zm3-8zm3 13zm0 4zm4-8zm1 8zm4-9zm4 7zm18 2zm1-1zm7-5zm1-13zm3 1zm10 3zm1 12zm0-15zm5 10zm1-13zm8 1zm0 17zm3-21zm1 8zm3 13zm4-2zm7-4zm4-4zm5 0zm2 6zm1 6zm0-20zm0 13zm5-9zm3 1zm2 4zm2-11zm8 19zm3-11zm5-4zm4 8zm3-8zm4 17zm4-21zm12 6zm2 13zm0-5zm9 0zm6-6zm4-1zm5 8zm6-14zm2 10zm0-3zm1-1zm3 9zm9-16zm3 17zm-310 19zm2 8zm1-11zm0 11zm10-19zm7 22zm1-12zm1-4zm0 13zm4-16zm1 20zm2-13zm1-8zm0 9zm0-5zm2 6zm7 5zm3-3zm2-13zm1 0zm3 4zm1 15zm0-16zm7 2zm5 15zm4-13zm1-5zm7 14zm11-7zm2-2zm0 9zm1-4zm6-11zm2 4zm2-3zm6-2zm0 16zm3-3zm2-4zm4 2zm3 0zm3 7zm8-2zm3-3zm1 2zm1 7zm3-15zm1-5zm2 13zm1-17zm1 0zm5 21zm4-15zm0 18zm0-23zm6 1zm1 8zm5 14zm8-1zm5-3zm3-1zm4-8zm3 2zm0-12zm0-1zm3 19zm2-3zm4-10zm2 14zm8-7zm1-12zm6 3zm0 13zm2 0zm2-11zm0 18zm5-10zm2-5zm1 11zm2-5zm0 9zm5-5zm12-18zm5 5zm1-5zm8 12zm1-2zm1 0zm2-5zm5 11zm1 7zm0-19zm1 17zm1-8zm5 8zm1-14zm0 4zm1-3zm15 2zm1-11zm16 1zm-311 47zm6-3zm1-1zm2 5zm1-9zm2-15zm2 5zm4 8zm2-6zm0-6zm0-1zm1 19zm2-10zm14 15zm0-1zm2 0zm1-1zm3-7zm1-5zm2-2zm2 10zm1-13zm8 0zm1 3zm1 12zm1-14zm7 0zm7 14zm3-7zm5-7zm1 10zm1-10zm1 9zm0-7zm1-8zm3 12zm3-2zm2-3zm0 6zm1-13zm3 16zm3-1zm4 1zm1-9zm1-7zm1 19zm1-15zm1 3zm3 16zm1-16zm3 1zm0 4zm6 3zm3 2zm1-6zm7-8zm0 14zm2-13zm6 6zm2 3zm0 11zm9-21zm8 2zm1 0zm1 4zm3-5zm6 6zm3 13zm1-9zm7-9zm0 17zm0-1zm3-19zm6 20zm2-3zm3-11zm6 10zm12 0zm5-18zm1 1zm2 1zm0 18zm1-6zm1-1zm0-12zm0 8zm1-1zm2 13zm1-6zm6-7zm2-2zm8 12zm1-6zm3-11zm1 8zm4 13zm0-14zm1-2zm2 7zm5-8zm1 3zm0-2zm1 7zm3-13zm8 6zm1 1zm2-7zm0 4zm7-1zm3 20zm-279 13zm1-5zm3 17zm4-15zm2 4zm2 9zm1-17zm4 14zm2-10zm1 3zm6 1zm17-3zm7-8zm7 23zm3-3zm4-9zm5 0zm5 3zm3 4zm0-13zm2 18zm5-1zm1-5zm2-7zm1 0zm1 9zm1-13zm0-5zm8 7zm1 9zm4 0zm3-12zm4 6zm9 8zm6-3zm6 1zm5-2zm2-13zm2 1zm4 2zm2 4zm5 7zm2-1zm1-15zm2 6zm5 11zm3-15zm3 16zm3-13zm2-1zm0-2zm0 9zm1 8zm6-5zm0-5zm2-8zm3 5zm2 5zm4-10zm1 16zm1-10zm1-3zm4 4zm1 10zm2-19zm3 7zm2 9zm3-2zm1-3zm0-10zm2 10zm15-2zm5-2zm11 8zm14-15zm2 1zm4 0zm-243 27zm3-1zm1-1zm4-1zm13 15zm2-11zm3 16zm0-19zm5 4zm1 15zm2-16zm5 12zm2-11zm4 16zm5-9zm3 2zm0 8zm1-9zm8 6zm10 3zm1 0zm6-7zm4-3zm1 12zm2 0zm0-6zm1-18zm1 8zm1-6zm4 16zm1 6zm1-24zm1 19zm2 3zm10-14zm1 7zm0-11zm2 1zm2-2zm8 9zm7 0zm5-3zm0 9zm4-10zm0-1zm0 13zm2-6zm2 0zm1 4zm1-15zm2 8zm0-6zm12 7zm3-8zm11 11zm1-6zm2 8zm7 0zm2-14zm7 3zm-167 22zm8 1zm3-2zm1 0zm5 3zm2 2zm26 0zm6 6zm6-13zm4 8zm8 3zm8-3zm3-7zm3 3zm19 12zm6-13zm6 0zm8 7zm3-10zm25 4z" stroke="#DE8C00"/>
<path d="M392 3768zm1 5zm5-11zm222 10zm25 2zm4-6zm7-1zm8-4zm2 9zm1-15zm1 11zm1-4zm10-5zm2 9zm1-1zm-290 29zm2-9zm2-9zm4 5zm0 13zm2-18zm1 16zm4-14zm1 12zm2-2zm2-8zm2-6zm0 21zm1-13zm2 13zm4-10zm2 9zm6-8zm1-9zm3 1zm0 5zm2 7zm1 4zm1 0zm5-8zm2 11zm0-9zm2 5zm18 3zm7 1zm3-2zm10-7zm1-1zm5 7zm2 3zm3 0zm6-1zm8-2zm2 2zm7-3zm5 4zm10-1zm3-5zm9 4zm0-1zm1-5zm3 1zm2 3zm2 4zm2-3zm1-7zm1 1zm5 4zm1 5zm7-3zm2-5zm4-3zm1 7zm5 3zm1-11zm1 10zm5 2zm4-13zm1-1zm3 6zm4 3zm8 2zm6-6zm1 2zm8 1zm5-14zm0 6zm1 10zm1-15zm2 12zm2-6zm2-1zm0-5zm1 0zm0 1zm6 2zm2-1zm1 17zm1-12zm5-3zm4 1zm3 12zm6-6zm1-15zm12 11zm-292 29zm8-12zm6-1zm1 7zm3 7zm2 0zm2 5zm7-14zm4 9zm4-13zm1 15zm0 4zm1-1zm2-17zm6 7zm2 2zm1 7zm5-16zm1 10zm4-4zm5 4zm0 8zm1-21zm2 21zm4-15zm1 1zm0-1zm1 4zm1-7zm2 10zm2 4zm1-9zm4 1zm11 4zm1 4zm1-12zm2 6zm4 11zm0-5zm2-7zm2 10zm1-15zm2-3zm1 0zm1 20zm0-7zm2-10zm2-1zm0 18zm1-9zm6-11zm3 6zm0 11zm2-5zm3-12zm2 2zm3 12zm2-4zm6-13zm0 3zm1 15zm1-4zm2-12zm1 14zm1 0zm4-2zm1-8zm0 4zm3-9zm7 14zm3 8zm1-1zm2-7zm1-13zm0 5zm3 2zm1 5zm1 9zm3-21zm1-1zm2 21zm1-7zm3 2zm2-6zm2-6zm1 18zm0-3zm2-21zm0 8zm1 12zm1-7zm0-11zm0 2zm1 3zm2 4zm0-6zm1-2zm0 5zm1-1zm9 0zm3 2zm1 8zm2-6zm0-3zm6 3zm0 9zm2-8zm0-12zm1 21zm2-15zm4 18zm2-19zm5-4zm3 14zm9-1zm4-9zm8-4zm5 1zm-240 26zm3 5zm6-6zm3 10zm7-8zm1 2zm2 8zm1 7zm6-13zm4-2zm0 13zm4-15zm2 16zm1-1zm4-6zm2 6zm1 0zm2-5zm0-8zm4 8zm5 6zm0 1zm3 3zm8-18zm3 0zm3 12zm1-8zm3 10zm2-8zm1-10zm2 8zm1 0zm2-1zm1 11zm10-16zm1 15zm3-10zm0-4zm1 9zm1 3zm3-11zm1 5zm1-3zm2 1zm4-6zm1 9zm3 4zm0-10zm2-2zm1 7zm6-10zm0 4zm3 10zm0-10zm3-5zm7 3zm5 12zm3-8zm6 1zm6-5zm1 11zm4-14zm9 1zm6 3zm4-1zm-106 25z" stroke="#B79F00"/>
<path d="M1391 3098zm-47 23zm16-10zm3 10zm3-5zm5-6zm1 14zm19 0zm5-22zm0 11zm2 3zm5 6zm0-10zm2 2zm5-6zm2 16zm1-8zm1-10zm4 11zm2-6zm1 13zm17-14zm14 12zm23-5zm-149 31zm20-1zm2-14zm3 14zm2-9zm2-2zm2 7zm0-4zm3-3zm6 9zm1 1zm3-18zm1 0zm2 10zm0-4zm5 11zm3-7zm1 11zm3-3zm1-9zm3 12zm1-11zm11 0zm2-11zm0 16zm3-18zm7 20zm6-12zm3-3zm0 13zm1-5zm1-12zm0 12zm1-2zm6 3zm4 1zm12-3zm7-11zm5 21zm4-21zm2 4zm3 15zm2-1zm18-1zm-172 25zm5-11zm11 3zm3 8zm2-7zm5-3zm0 4zm4 12zm0-15zm3-5zm1 12zm4 0zm5 8zm5 0zm0-23zm6 3zm7 9zm2 0zm3-3zm7 13zm1-15zm2 1zm7 3zm0 12zm3-13zm1 8zm0-11zm1 7zm1 2zm3-14zm0 18zm1 0zm1-20zm0 13zm2-2zm8 11zm3-3zm1 2zm1-8zm4-8zm3 7zm15-13zm1 18zm4-8zm2-4zm5-6zm2 3zm3 5zm0-1zm5-2zm2 9zm3 0zm1 7zm2-2zm2-4zm4-1zm1-4zm2-5zm11 3zm1-7zm-164 40zm2-14zm6 4zm3 13zm1 1zm8-15zm2 11zm1-16zm3 20zm1-15zm2-5zm1 21zm0-6zm1 0zm1-5zm5 10zm2-17zm1 15zm5-5zm2 9zm1-3zm2 3zm7-20zm2 6zm1-3zm2-1zm2 19zm2-15zm3-6zm15 1zm2 9zm3 9zm2-18zm1 12zm1 3zm2-12zm0 4zm1-6zm11 16zm3-1zm0-8zm2-11zm1 1zm5 1zm1 21zm7-17zm0 8zm7 9zm5-19zm3 5zm10 12zm1-18zm1 0zm1 2zm1 9zm1 2zm6-4zm7 0zm-174 26zm7-1zm2 11zm1-8zm0 8zm5-3zm3-11zm3-7zm2-2zm4 11zm2-7zm1 1zm1 6zm1 2zm3 0zm3-7zm1 0zm5 5zm1 7zm2-1zm2-9zm1 14zm10 2zm2-12zm1-1zm3 8zm2 0zm1-6zm3 5zm2 3zm0-14zm0 13zm0-19zm2 7zm1 5zm4-7zm7 7zm2-4zm0 8zm1-1zm0-15zm4 19zm0-15zm1 8zm1-8zm1-5zm1 23zm8-9zm2-3zm1 7zm0 6zm0-19zm2 12zm2 6zm0-20zm2 20zm3-8zm1-7zm1 12zm1-13zm4 12zm5-12zm2 8zm3 1zm9-15zm0 8zm1-1zm2 12zm4-17zm9 0zm2-2zm3 18zm1-1zm5-15zm2 21zm3-24zm1 15zm-218 25zm4 8zm11-8zm1-11zm6 17zm9-15zm6 10zm1-12zm2-4zm4 11zm4 1zm0-2zm1 12zm1-6zm5-15zm0 23zm1-15zm2 7zm2-8zm1 1zm4-7zm1-1zm2 1zm0 2zm1-2zm2 15zm0-2zm2-7zm0 8zm7 0zm0-14zm5 16zm1-8zm0-10zm1 17zm1-11zm2 10zm1-16zm4 10zm1 0zm3 3zm3-10zm0 17zm1-13zm1 12zm0-10zm1-2zm4 6zm1 3zm7-6zm1-10zm1 3zm5 7zm6-1zm9 12zm7-14zm2 1zm1 0zm5 12zm0-5zm1 8zm1-23zm2 3zm1 6zm5 1zm4 4zm4 6zm12-2zm11 0zm0 4zm1-15zm4 6zm2-11zm1 9zm0 9zm2 2zm5-22zm2 6zm3-3zm1 20zm-208 23zm6-20zm7 16zm5 2zm8-17zm12 1zm2 10zm1-11zm1 9zm4 6zm5-11zm1-2zm0 8zm0 4zm2-8zm3 2zm1 2zm2 8zm2-5zm0 4zm14-16zm3-1zm3 15zm0 7zm8-16zm2 4zm3-5zm0 9zm8 5zm0-14zm1-4zm0 9zm1-2zm5 9zm1-18zm2 4zm1 11zm2-7zm2 3zm6 10zm10-4zm2-17zm11 10zm1-6zm13 10zm1-3zm2-8zm6 7zm0-1zm5 14zm1-13zm0-11zm3 6zm0 8zm7-13zm0 22zm12-11zm0 6zm1-6zm5 6zm6-15zm0 18zm-222 15zm8-10zm16 18zm2-19zm1 8zm5 13zm0-20zm5 17zm2-6zm7-9zm2 5zm0 15zm2-3zm0-16zm1 19zm2-2zm1-10zm1-2zm1 5zm2-3zm4-11zm1 23zm2-4zm1-11zm0 9zm5-16zm1 5zm5 3zm1 4zm2 1zm1-4zm0 6zm2 1zm2 7zm5-21zm6 8zm0 12zm4-9zm0 6zm7-18zm1 2zm8-1zm1 4zm6-5zm1 6zm3-5zm0 12zm2 4zm2 2zm3-5zm5-4zm1-6zm5 12zm11-14zm3 13zm5-13zm1 20zm0-10zm3-8zm13 5zm0 12zm1-3zm1-13zm6-6zm6 23zm3-15zm2-5zm2 3zm1 1zm1-2zm1 14zm8-7zm-181 13zm1 10zm2-5zm16 4zm0-5zm3-3zm9 17zm1-16zm3 3zm5-1zm4 4zm14 7zm3-16zm0 24zm4-19zm1 0zm1 3zm4 8zm0-1zm0-11zm6 0zm2 20zm1-24zm0 14zm2-7zm2 12zm1-1zm5-14zm2 3zm4 4zm8 2zm2 4zm2-3zm5-10zm1 15zm5-12zm3 6zm3 9zm1-15zm8 17zm1-22zm0-1zm2 12zm3 4zm0-1zm1-5zm0-5zm2 2zm5 11zm0-10zm6-7zm1 4zm2 15zm1-7zm0-14zm2 13zm2-9zm0 20zm10-21zm3-3zm0 9zm-143 27zm20-9zm1 7zm12-9zm4 24zm6-14zm11-5zm3 14zm1-1zm1-6zm6-12zm2 14zm4-5zm2 4zm0-2zm0-10zm2 9zm1 7zm1-11zm5-2zm0 12zm4-3zm1-4zm2-3zm9-2zm0-3zm6 2zm1 12zm3-6zm7 7zm13-13zm7-3z" stroke="#00BFC4"/>
<path d="M2234 3597zm-39 22zm11 4zm4-10zm1-2zm3 11zm4-10zm7 11zm8-14zm1 10zm0-11zm7 9zm3-4zm3 1zm2 3zm1-6zm9-10zm9 16zm17 1zm-93 24zm8-15zm1 15zm0 2zm2-12zm3-1zm2 0zm0 3zm14-3zm7 3zm3 14zm2-19zm2 10zm5-4zm0 4zm3 8zm4-4zm0 3zm4-6zm1-15zm3 4zm3 11zm1 2zm3 1zm6-17zm8 3zm2 15zm-74 26zm4-12zm2-4zm6 6zm1 10zm3-19zm5 20zm2-5zm4-8zm2 16zm2-20zm4 10zm2-7zm4 15zm2-14zm2-2zm2 17zm0-14zm1-9zm1 10zm11 11zm5-19zm2 15zm11 7zm0-15zm4-1zm6-1zm-80 19zm8 0zm5 8zm5-9zm1 1zm5 16zm2 6zm3-12zm1-7zm1 10zm1 1zm0 2zm0 4zm12-13zm3 16zm7-4zm1-16zm5 17zm0-6zm2-1zm1 1zm1 4zm2 2zm11-4zm-50 11zm5-2zm2 19zm4-15zm1 12zm2-6zm6-11zm3 6zm0-2zm1 16zm2-17zm4 11zm1 0zm5 8zm1-6zm0 4zm1-5zm3-7zm0-7zm1 6zm0 4zm1 2zm2-1zm0 1zm0 9zm1 0zm3 0zm5-5zm0-5zm1 2zm19 3zm-64 30zm4-3zm4-7zm1 0zm2-11zm1 17zm1 1zm1 1zm2-16zm2 15zm1-7zm3-10zm2 16zm0-3zm3-7zm2 10zm1-7zm1 9zm0 4zm0-5zm5 1zm0-12zm3 1zm1 9zm5-3zm1 6zm2-4zm1 5zm4-1zm5-15zm4 16zm1-11zm6 7zm1-11zm1 7zm10 2zm-100 33zm11-1zm7-2zm7-14zm0-6zm3 10zm3 12zm3-2zm1-4zm2-17zm4 10zm1-5zm0 13zm9-3zm1 4zm1-10zm1-6zm1 10zm5 5zm1-4zm7 4zm4 6zm5-14zm1-9zm3 9zm0 4zm4-2zm1-8zm2 9zm0-7zm1 0zm2 2zm1 4zm0 1zm4-9zm7 0zm3 2zm6 17zm0-10zm16 6zm-113 11zm0-1zm6-3zm5 19zm3 0zm0 4zm3-10zm2 5zm3 4zm5-8zm1-8zm2 13zm2-3zm1-3zm1 8zm5-11zm3 10zm3-17zm1 5zm19 8zm5-10zm3 14zm2-3zm0-10zm2-5zm8-1zm1 2zm12-3zm3 10zm12-4zm5 9zm0-1zm1 2zm1-10zm1 3zm2 0zm3-6zm6 8zm0-6zm4 6zm16 10zm16 1zm-170 11zm4-4zm2-3zm22 17zm3 5zm2-13zm3-4zm6-3zm3 3zm2 16zm6 0zm1-8zm1-8zm6 15zm3-18zm1 9zm1 6zm2-7zm0 9zm2-2zm2-19zm1 24zm2-6zm6-14zm11 16zm2-5zm3 6zm1-4zm0 4zm0-6zm4-15zm2 4zm1-1zm1 16zm4-18zm3 0zm0 6zm9 6zm2-3zm7 10zm0-14zm2 13zm1-6zm2 8zm9-4zm3 4zm0-12zm7 15zm8-11zm4 8zm10 0zm6-1zm-171 7zm7 13zm1-7zm0 16zm15-21zm4 19zm3-19zm0 13zm2-1zm6-11zm2 9zm1-2zm7 11zm6-20zm1 4zm0 15zm2-9zm3-11zm6 17zm8-8zm2 6zm4-6zm0 7zm0-1zm8-4zm1 11zm1-8zm2-14zm2 2zm4 15zm6-5zm13-4zm8 4zm5 5zm2-13zm1 5zm1 10zm8-10zm3-6zm4 10zm2-13zm8 16zm2-10zm1 12zm2 5zm1-20zm1-3zm1 5zm2 1zm3 16zm0-13zm1-2zm2 8zm3 1zm3-7zm2 14zm0-11zm0-10zm6 10zm4-2zm2-2zm7-8zm1 13zm1 1zm2 5zm-215 5zm2 20zm3 4zm1-3zm12-21zm0 4zm2 12zm3-7zm3 15zm4-22zm0 12zm0 9zm5-2zm4-7zm5 9zm2-13zm2-5zm1 9zm2-2zm1 1zm1-6zm2 7zm1 0zm0 2zm2-1zm0-5zm3 2zm2-3zm1 6zm2 3zm4-8zm1 6zm9-1zm1 6zm1-21zm1 16zm1-3zm0 7zm1-18zm1 1zm10 15zm3-1zm1-5zm1 8zm2-10zm4 9zm4-10zm0-7zm1 16zm5-2zm2-6zm1-7zm7 0zm0 21zm10-10zm2-1zm0-11zm1 0zm4-1zm6-1zm1 14zm2-7zm0-5zm2 13zm0 2zm2-8zm1 11zm14-11zm3-1zm2 15zm1-5zm1-16zm2 1zm1 1zm1 18zm2-6zm4 0zm5 5zm3-11zm4 13zm1-15zm1 0zm1-4zm2 10zm4 10zm2-19zm5 15zm3-9zm5-5zm8-3zm-226 36zm10-4zm6-4zm8 17zm0-20zm4 4zm1-6zm4 2zm0-2zm4 1zm17-1zm1 19zm1-5zm4 2zm10-6zm1-8zm4 20zm3-5zm8-10zm1 1zm10-3zm26-1zm0 13zm8 4zm1-16zm1-3zm6 17zm0 4zm2-23zm3-1zm5 8zm1 16zm0-24zm8 23zm8-7zm1-4zm2 9zm13-12zm0 8zm4 7zm2-23zm1 15zm1-16zm0 4zm1 15zm2-5zm5-2zm0 12zm9-3zm3-16zm11 3zm-206 19zm5 9zm2-7zm11 11zm0 2zm16-6zm5 9zm3-18zm2 8zm5-2zm0 4zm7-5zm2 1zm14-7zm26 16zm0-7zm10-6zm8 14zm12-13zm8 3zm1-8zm0 16zm3-1zm0-7zm6 2zm4 6zm1-10zm2 10zm1-15zm1 0zm1 15zm13-10zm9 1zm0-5zm2 14zm6-14zm-142 24zm18 5z" stroke="#7CAE00"/>
<path d="M1276 3197zm14 1zm6-3zm13-10zm8 14zm13-5zm-53 22zm1-4zm1 7zm7-2zm0-12zm17 10zm1 5zm1-15zm4 16zm5-13zm10 0zm3-1zm16 5zm-112 32zm7 2zm16 1zm6-13zm2-3zm2 3zm4 9zm1-17zm2 10zm7 4zm1-5zm3 1zm2 12zm20-7zm4 2zm-82 24zm5-3zm11 5zm12 2zm8-6zm1-8zm10 1zm-67 35zm7 4zm3-2zm2-3zm11 4zm1-5zm2-1zm1-2zm1 7zm0 4zm4-1zm0-4zm1-6zm4 9zm1-5zm8-3zm0 7zm1-17zm2 4zm2 8zm8-12zm3 8zm22 4zm-117 28zm10 5zm0-11zm10-1zm17-3zm0-1zm2 4zm0 3zm1-11zm1 16zm1-8zm2 6zm6 6zm4-18zm2 11zm8-9zm4 13zm1-1zm2-14zm2-6zm4 23zm1-13zm2-10zm1 8zm4 5zm2-2zm0-6zm1 0zm-83 42zm1 2zm4 0zm2-16zm6-3zm1 2zm1 10zm1 5zm1 0zm1-7zm2 0zm4 3zm1-11zm3 7zm12 5zm2-4zm2-2zm4 6zm7-13zm3 2zm1 6zm8-9zm3 4zm0 15zm0-23zm2 22zm3-23zm5 22zm1-14zm6 11zm3 4zm2-16zm2 6zm15 10zm-138 22zm1-9zm6-9zm1 17zm3-17zm1 0zm2 15zm9 3zm2-1zm2-5zm4-5zm0-1zm3 14zm2-12zm1 0zm1-3zm4 5zm3 3zm9 0zm1 6zm3-11zm2 7zm0-10zm1-2zm1-3zm10 22zm1-8zm1-11zm9 10zm2 7zm3 0zm3-16zm1 8zm1 5zm1-5zm3 1zm1-1zm1-7zm1 4zm2-7zm3 1zm1 0zm1-1zm1 2zm1 6zm0-5zm14 12zm3-5zm0-5zm6 12zm0-1zm6-4zm-139 22zm15-3zm5 3zm2 10zm4-7zm4-4zm1 5zm0-2zm1 9zm3-5zm2 4zm2-12zm3-5zm2 14zm6-13zm6 2zm0 6zm7 7zm6-12zm1 4zm7 7zm2-9zm5-6zm1 4zm1 0zm3 6zm1-2zm2-10zm2 14zm1-16zm4 22zm5-15zm4 1zm0 5zm2-4zm5 7zm3-16zm3 1zm4 13zm1-7zm1 12zm1-20zm4 3zm6 0zm11 4zm-151 23zm15-6zm2 18zm7-18zm7 23zm0-11zm7 2zm2 6zm5-14zm4 1zm6 1zm3 8zm1 5zm0-19zm3 15zm1-17zm9 17zm4-16zm22 6zm5-7zm6 15zm0-14zm3 4zm7 5zm1-5zm0 17zm1-18zm3 3zm1 5zm10-9zm2 10zm1-11zm1 4zm0 1zm4 4zm-128 21zm2 0zm7 4zm11 6zm1-1zm2 8zm12-17zm2 10zm1-9zm1 4zm5 3zm0-6zm4 5zm5-6zm1-6zm3 16zm5-8zm2 3zm1-4zm4-3zm10 5zm11-4zm6-6zm2 8zm1-7zm1 4zm4 18zm1-21zm1 18zm0-6zm1 7zm7-8zm2-3zm0-6zm6-4zm2 13zm1-2zm1-1zm5 9zm7 3zm3-1zm-125 10zm4 0zm2 2zm2-5zm4 12zm0-16zm7 23zm17-23zm5 12zm15 9zm3-17zm6-3zm6 11zm7 1zm2-1zm4-8zm1 18zm1-1zm0 2zm5-8zm1 2zm1 0zm1 6zm4-5zm4-4zm2-5zm0 9zm1-6zm6-3zm1 3zm6 6zm4 0zm1-2zm-102 11zm10 10zm1 0zm4-3zm1 2zm5-2zm0 11zm1-3zm0-6zm3-5zm1-5zm3 19zm4-20zm4 16zm2-9zm2 0zm0 8zm0-14zm0 13zm2-5zm2 13zm4-5zm4-14zm1 11zm1 2zm5 5zm0-1zm1-1zm4-15zm4 5zm2 3zm0 4zm5-3zm1 5zm1-11zm6-1zm4-4zm-67 37zm7-14zm0 7zm6-5zm3 4zm3 4zm5-7zm9 3zm4 6zm13-5zm1-2z" stroke="#00C08B"/>
<path d="M1907 3673zm2-6zm7-7zm1 7zm4-4zm2-4zm2-2zm259 13zm13-8zm-312 35zm1-2zm3 0zm5 1zm5-13zm3 10zm2-9zm4 9zm1-4zm1-13zm1 7zm7 12zm0-7zm0 9zm3-5zm2 2zm0-13zm3-3zm1 3zm0-3zm1 0zm178 16zm16 5zm60-12zm6-11zm-320 42zm3-11zm1-5zm0 18zm3-2zm0-2zm4-13zm3 0zm2 6zm3 15zm11-20zm8 11zm6-1zm1-5zm3 2zm1 11zm0-12zm4 11zm2-7zm31 1zm149 7zm5-19zm17 0zm17-2zm-286 45zm4-1zm2-9zm6-1zm2 9zm3-18zm1 7zm4 9zm1-13zm3 1zm6 14zm2-7zm3 0zm0 10zm9-5zm5-7zm39-10zm35 11zm6 8zm24 0zm5 2zm3-21zm2 24zm13-7zm11 7zm17-5zm-212 13zm4 8zm8-1zm1 9zm1-21zm2 18zm3-18zm0 11zm4-4zm1-1zm2-1zm1 0zm1-1zm16-2zm113-4zm23 8zm43 4zm8-10zm18 11zm1-10zm1 13zm4-6zm2 7zm8 2zm21 2zm-4 11z" stroke="#FF64B0"/>
<path d="M1945 2970zm7 0zm0 2zm2-5zm7 3zm2 0zm1 2zm5-20zm4 17zm5-9zm1 2zm3 7zm1-8zm1-6zm3 7zm0 1zm14 9zm-70 21zm2-9zm5 5zm2 5zm1-1zm5 0zm4-3zm2-10zm1 1zm5 12zm1-3zm1-8zm1-5zm1 17zm7 2zm0-7zm2 0zm1-6zm1 11zm3-19zm0 4zm8-3zm3 23zm0-14zm3-10zm7 0zm4 7zm2 17zm6-2zm6 2zm0-7zm1-5zm10 0zm1 4zm2-6zm-106 18zm0 3zm12-6zm1 17zm5-8zm7-3zm1 9zm6-15zm0 2zm2 1zm3-1zm0 1zm1 1zm7 7zm1 11zm3-10zm2-5zm9 13zm3-2zm1-12zm0 15zm1 2zm9-13zm3 14zm7-19zm6 12zm2-8zm4 1zm2-6zm10 19zm10-18zm-118 21zm6 6zm3 4zm0 11zm5-9zm3 3zm2-11zm2 7zm6 11zm1-18zm2-5zm1 24zm2-9zm2-3zm1 3zm0-10zm1 13zm4-1zm4-11zm0 8zm2-8zm0-3zm1 6zm6 4zm1 9zm0-9zm4-5zm6 8zm0-16zm1 21zm1 3zm1-22zm2 7zm5-2zm10 6zm0-5zm0 11zm0-3zm2 1zm2-16zm4 6zm3 14zm2-11zm2 14zm3-4zm3-19zm-96 24zm10 7zm5-4zm0 1zm2-4zm0 11zm3 6zm3-15zm2 19zm0-10zm5 6zm2-13zm2 19zm0-21zm4 4zm1-2zm3 14zm1-4zm2-3zm7-11zm5 5zm2 6zm1 11zm9-6zm3-11zm5 5zm0 12zm1-22zm0 4zm3 6zm0 8zm3-14zm5 13zm-56 9zm6 23zm15-20zm0-1zm4 3zm0-1zm6 8zm3 5zm1 2zm2-18zm8 12z" stroke="#00BA38"/>
<path d="M1210 3788zm3 2zm14-1zm-21 31zm18-10zm-34 23zm21-6z" stroke="#00B4F0"/></g>
<line x1="28.0" y1="286.4" x2="28.0" y2="480.0" stroke="#222" stroke-width="0.6"/>
<line x1="27.7" y1="479.7" x2="259.0" y2="479.7" stroke="#222" stroke-width="0.6"/>
<line x1="26.8" y1="321.8" x2="28.0" y2="321.8" stroke="#222" stroke-width="0.4"/>
<text class="s" x="25.9" y="323.6" font-size="5" text-anchor="end" fill="#333">10</text>
<line x1="26.8" y1="358.6" x2="28.0" y2="358.6" stroke="#222" stroke-width="0.4"/>
<text class="s" x="25.9" y="360.4" font-size="5" text-anchor="end" fill="#333">5</text>
<line x1="26.8" y1="395.2" x2="28.0" y2="395.2" stroke="#222" stroke-width="0.4"/>
<text class="s" x="25.9" y="397.0" font-size="5" text-anchor="end" fill="#333">0</text>
<line x1="26.8" y1="432.0" x2="28.0" y2="432.0" stroke="#222" stroke-width="0.4"/>
<text class="s" x="25.9" y="433.8" font-size="5" text-anchor="end" fill="#333">-5</text>
<line x1="26.8" y1="468.8" x2="28.0" y2="468.8" stroke="#222" stroke-width="0.4"/>
<text class="s" x="25.9" y="470.6" font-size="5" text-anchor="end" fill="#333">-10</text>
<line x1="69.7" y1="479.7" x2="69.7" y2="481.0" stroke="#222" stroke-width="0.4"/>
<text class="s" x="69.7" y="487.2" font-size="5" text-anchor="middle" fill="#333">-10</text>
<line x1="111.5" y1="479.7" x2="111.5" y2="481.0" stroke="#222" stroke-width="0.4"/>
<text class="s" x="111.5" y="487.2" font-size="5" text-anchor="middle" fill="#333">-5</text>
<line x1="153.3" y1="479.7" x2="153.3" y2="481.0" stroke="#222" stroke-width="0.4"/>
<text class="s" x="153.3" y="487.2" font-size="5" text-anchor="middle" fill="#333">0</text>
<line x1="195.1" y1="479.7" x2="195.1" y2="481.0" stroke="#222" stroke-width="0.4"/>
<text class="s" x="195.1" y="487.2" font-size="5" text-anchor="middle" fill="#333">5</text>
<line x1="236.9" y1="479.7" x2="236.9" y2="481.0" stroke="#222" stroke-width="0.4"/>
<text class="s" x="236.9" y="487.2" font-size="5" text-anchor="middle" fill="#333">10</text>
<text class="s" x="143.7" y="495.2" font-size="6.2" text-anchor="middle" fill="#222" textLength="23.0" lengthAdjust="spacingAndGlyphs">UMAP_1</text>
<text class="s" font-size="6.2" text-anchor="middle" fill="#222" textLength="25.0" lengthAdjust="spacingAndGlyphs" transform="translate(14.5 383.6) rotate(-90)">UMAP_2</text>
<text class="c" x="77.6" y="336.9" font-size="5.2" fill="#111" textLength="21.8" lengthAdjust="spacingAndGlyphs">Monocyte</text>
<text class="c" x="124.0" y="325.5" font-size="5.2" fill="#111" textLength="39.0" lengthAdjust="spacingAndGlyphs">M2 Macrophages</text>
<text class="c" x="104.4" y="345.3" font-size="5.2" fill="#111" textLength="39.2" lengthAdjust="spacingAndGlyphs">M1 Macrophages</text>
<text class="c" x="110.0" y="382.3" font-size="5.2" fill="#111" textLength="22.4" lengthAdjust="spacingAndGlyphs">Mast cells</text>
<text class="c" x="163.0" y="374.9" font-size="5.2" fill="#111" textLength="56.0" lengthAdjust="spacingAndGlyphs">Vascular smooth muscle</text>
<text class="c" x="187.0" y="303.3" font-size="5.2" fill="#111" textLength="22.4" lengthAdjust="spacingAndGlyphs">Fibroblast</text>
<text class="c" x="185.6" y="321.5" font-size="5.2" fill="#111" textLength="59.6" lengthAdjust="spacingAndGlyphs">Adipocyte progenitor cells</text>
<text class="c" x="214.0" y="385.5" font-size="5.2" fill="#111" textLength="37.4" lengthAdjust="spacingAndGlyphs">Endothelial cells</text>
<text class="c" x="118.6" y="410.3" font-size="5.2" fill="#111" textLength="18.4" lengthAdjust="spacingAndGlyphs">NK cells</text>
<text class="c" x="115.6" y="446.9" font-size="5.2" fill="#111" textLength="16.8" lengthAdjust="spacingAndGlyphs">Th cells</text>
<text class="c" x="197.8" y="454.6" font-size="5.2" fill="#111" textLength="23.2" lengthAdjust="spacingAndGlyphs">Adipocyte</text>
<text class="c" x="44.7" y="382.9" font-size="5.2" fill="#111" textLength="14.3" lengthAdjust="spacingAndGlyphs">B cells</text>
<circle cx="268" cy="345.3" r="1.35" fill="#F8766D"/>
<text class="c" x="273.8" y="347.2" font-size="5.4" fill="#222">Adipocyte</text>
<circle cx="268" cy="352.6" r="1.35" fill="#DE8C00"/>
<text class="c" x="273.8" y="354.5" font-size="5.4" fill="#222">Adipocyte progenitor cells</text>
<circle cx="268" cy="359.8" r="1.35" fill="#B79F00"/>
<text class="c" x="273.8" y="361.7" font-size="5.4" fill="#222">B cells</text>
<circle cx="268" cy="367.1" r="1.35" fill="#7CAE00"/>
<text class="c" x="273.8" y="369.0" font-size="5.4" fill="#222">Endothelial cells</text>
<circle cx="268" cy="374.3" r="1.35" fill="#00BA38"/>
<text class="c" x="273.8" y="376.2" font-size="5.4" fill="#222">Fibroblast</text>
<circle cx="268" cy="381.6" r="1.35" fill="#00C08B"/>
<text class="c" x="273.8" y="383.5" font-size="5.4" fill="#222">M1 Macrophages</text>
<circle cx="268" cy="388.8" r="1.35" fill="#00BFC4"/>
<text class="c" x="273.8" y="390.7" font-size="5.4" fill="#222">M2 Macrophages</text>
<circle cx="268" cy="396.1" r="1.35" fill="#00B4F0"/>
<text class="c" x="273.8" y="398.0" font-size="5.4" fill="#222">Mast cells</text>
<circle cx="268" cy="403.3" r="1.35" fill="#619CFF"/>
<text class="c" x="273.8" y="405.2" font-size="5.4" fill="#222">Monocyte</text>
<circle cx="268" cy="410.6" r="1.35" fill="#C77CFF"/>
<text class="c" x="273.8" y="412.5" font-size="5.4" fill="#222">NK cells</text>
<circle cx="268" cy="417.8" r="1.35" fill="#F564E3"/>
<text class="c" x="273.8" y="419.7" font-size="5.4" fill="#222">Th cells</text>
<circle cx="268" cy="425.1" r="1.35" fill="#FF64B0"/>
<text class="c" x="273.8" y="427.0" font-size="5.4" fill="#222">Vascular smooth muscle</text>
</g>
<g id="panelD">
<text class="r" x="347.6" y="263.0" font-size="14.7" textLength="21.4" lengthAdjust="spacingAndGlyphs">(<tspan font-weight="bold">D</tspan>)</text>
<rect x="388.20" y="260.60" width="237.60" height="493.80" fill="#fff" stroke="#7a7a7a" stroke-width="0.8"/>
<g stroke="#444" stroke-width=".6"><path fill="#984EA3" d="M399.0 262.1h4.6v4.1h-4.6zM399.0 279.8h7.6v4.1h-7.6zM399.0 285.6h7.0v4.1h-7.0zM399.0 291.5h2.6v4.1h-2.6zM399.0 297.4h3.6v4.1h-3.6zM399.0 309.1h3.6v4.1h-3.6zM399.0 320.8h8.4v4.1h-8.4zM399.0 326.7h3.6v4.1h-3.6zM399.0 332.6h4.0v4.1h-4.0zM399.0 338.4h8.4v4.1h-8.4zM399.0 344.3h6.6v4.1h-6.6zM399.0 350.2h2.6v4.1h-2.6zM399.0 361.9h8.4v4.1h-8.4zM399.0 373.6h7.6v4.1h-7.6zM399.0 379.5h7.6v4.1h-7.6zM399.0 385.4h9.6v4.1h-9.6zM399.0 391.2h5.0v4.1h-5.0zM399.0 397.1h11.6v4.1h-11.6zM399.0 403.0h1.0v4.1h-1.0zM399.0 408.8h3.6v4.1h-3.6zM399.0 414.7h7.6v4.1h-7.6zM399.0 420.6h5.6v4.1h-5.6zM399.0 432.3h1.6v4.1h-1.6zM399.0 438.2h18.0v4.1h-18.0zM399.0 444.0h5.6v4.1h-5.6zM399.0 449.9h8.4v4.1h-8.4zM399.0 455.8h6.6v4.1h-6.6zM399.0 461.6h7.6v4.1h-7.6zM399.0 467.5h29.4v4.1h-29.4zM399.0 473.4h1.6v4.1h-1.6zM399.0 479.2h7.0v4.1h-7.0zM399.0 485.1h6.6v4.1h-6.6zM399.0 491.0h4.6v4.1h-4.6zM399.0 496.8h2.6v4.1h-2.6zM399.0 502.7h11.0v4.1h-11.0zM399.0 508.6h1.6v4.1h-1.6zM399.0 514.4h1.0v4.1h-1.0zM399.0 520.3h5.6v4.1h-5.6zM399.0 526.2h9.6v4.1h-9.6zM399.0 532.0h4.6v4.1h-4.6zM399.0 537.9h1.0v4.1h-1.0zM399.0 543.8h13.6v4.1h-13.6zM399.0 549.6h13.6v4.1h-13.6zM399.0 555.5h10.6v4.1h-10.6zM399.0 561.4h1.6v4.1h-1.6zM399.0 567.2h5.0v4.1h-5.0zM399.0 573.1h2.6v4.1h-2.6zM399.0 579.0h5.0v4.1h-5.0zM399.0 584.8h3.6v4.1h-3.6zM399.0 590.7h3.6v4.1h-3.6zM399.0 596.6h3.0v4.1h-3.0zM399.0 602.4h13.6v4.1h-13.6zM399.0 608.3h1.6v4.1h-1.6zM399.0 614.2h3.0v4.1h-3.0zM399.0 620.0h5.6v4.1h-5.6zM399.0 625.9h11.6v4.1h-11.6zM399.0 637.6h11.6v4.1h-11.6zM399.0 649.4h9.6v4.1h-9.6zM399.0 655.2h7.0v4.1h-7.0zM399.0 661.1h4.0v4.1h-4.0zM399.0 667.0h1.6v4.1h-1.6zM399.0 672.8h6.6v4.1h-6.6zM399.0 678.7h1.6v4.1h-1.6zM399.0 684.6h4.6v4.1h-4.6zM399.0 690.4h5.6v4.1h-5.6zM399.0 696.3h2.6v4.1h-2.6zM399.0 702.2h1.0v4.1h-1.0zM399.0 708.0h4.6v4.1h-4.6zM399.0 713.9h2.6v4.1h-2.6zM399.0 719.8h4.6v4.1h-4.6zM399.0 725.6h19.4v4.1h-19.4zM399.0 731.5h1.6v4.1h-1.6zM399.0 737.4h5.0v4.1h-5.0zM399.0 743.2h5.0v4.1h-5.0zM399.0 749.1h11.0v4.1h-11.0z"/><path fill="#D8B8FF" d="M403.6 262.1h50.4v4.1h-50.4zM399.0 268.0h18.6v4.1h-18.6zM399.0 273.9h7.0v4.1h-7.0zM406.6 279.8h14.8v4.1h-14.8zM406.0 285.6h13.4v4.1h-13.4zM401.6 291.5h47.8v4.1h-47.8zM402.6 297.4h73.0v4.1h-73.0zM399.0 303.2h21.6v4.1h-21.6zM402.6 309.1h3.4v4.1h-3.4zM399.0 315.0h95.4v4.1h-95.4zM407.4 320.8h35.6v4.1h-35.6zM402.6 326.7h39.8v4.1h-39.8zM403.0 332.6h26.4v4.1h-26.4zM407.4 338.4h8.2v4.1h-8.2zM405.6 344.3h50.8v4.1h-50.8zM401.6 350.2h64.8v4.1h-64.8zM399.0 356.0h43.4v4.1h-43.4zM407.4 361.9h19.0v4.1h-19.0zM399.0 367.8h24.4v4.1h-24.4zM406.6 373.6h16.8v4.1h-16.8zM406.6 379.5h14.8v4.1h-14.8zM408.6 385.4h1.4v4.1h-1.4zM404.0 391.2h41.6v4.1h-41.6zM410.6 397.1h2.0v4.1h-2.0zM400.0 403.0h69.4v4.1h-69.4zM402.6 408.8h88.8v4.1h-88.8zM406.6 414.7h39.8v4.1h-39.8zM404.6 420.6h49.8v4.1h-49.8zM399.0 426.4h95.4v4.1h-95.4zM400.6 432.3h13.0v4.1h-13.0zM417.0 438.2h2.4v4.1h-2.4zM404.6 444.0h38.8v4.1h-38.8zM407.4 449.9h3.0v4.1h-3.0zM405.6 455.8h40.4v4.1h-40.4zM406.6 461.6h30.0v4.1h-30.0zM400.6 473.4h68.8v4.1h-68.8zM406.0 479.2h24.4v4.1h-24.4zM405.6 485.1h37.4v4.1h-37.4zM403.6 491.0h72.4v4.1h-72.4zM401.6 496.8h27.8v4.1h-27.8zM410.0 502.7h15.6v4.1h-15.6zM400.6 508.6h37.8v4.1h-37.8zM400.0 514.4h34.4v4.1h-34.4zM404.6 520.3h2.8v4.1h-2.8zM408.6 526.2h19.8v4.1h-19.8zM403.6 532.0h27.8v4.1h-27.8zM400.0 537.9h100.4v4.1h-100.4zM412.6 549.6h13.4v4.1h-13.4zM409.6 555.5h4.8v4.1h-4.8zM400.6 561.4h73.8v4.1h-73.8zM404.0 567.2h40.0v4.1h-40.0zM401.6 573.1h68.8v4.1h-68.8zM404.0 579.0h9.0v4.1h-9.0zM402.6 584.8h25.0v4.1h-25.0zM402.6 590.7h14.4v4.1h-14.4zM402.0 596.6h30.0v4.1h-30.0zM412.6 602.4h13.8v4.1h-13.8zM400.6 608.3h32.8v4.1h-32.8zM402.0 614.2h44.4v4.1h-44.4zM404.6 620.0h24.8v4.1h-24.8zM410.6 625.9h15.0v4.1h-15.0zM399.0 631.8h29.0v4.1h-29.0zM410.6 637.6h29.8v4.1h-29.8zM399.0 643.5h63.4v4.1h-63.4zM408.6 649.4h14.8v4.1h-14.8zM406.0 655.2h27.4v4.1h-27.4zM403.0 661.1h43.4v4.1h-43.4zM400.6 667.0h31.8v4.1h-31.8zM405.6 672.8h17.8v4.1h-17.8zM400.6 678.7h59.8v4.1h-59.8zM403.6 684.6h23.4v4.1h-23.4zM404.6 690.4h32.4v4.1h-32.4zM401.6 696.3h91.8v4.1h-91.8zM400.0 702.2h47.4v4.1h-47.4zM403.6 708.0h54.0v4.1h-54.0zM401.6 713.9h52.8v4.1h-52.8zM403.6 719.8h60.8v4.1h-60.8zM418.4 725.6h1.6v4.1h-1.6zM400.6 731.5h65.8v4.1h-65.8zM404.0 737.4h14.4v4.1h-14.4zM404.0 743.2h50.0v4.1h-50.0z"/><path fill="#7BAFD4" d="M454.0 262.1h34.0v4.1h-34.0zM417.6 268.0h66.0v4.1h-66.0zM406.0 273.9h14.4v4.1h-14.4zM421.4 279.8h11.0v4.1h-11.0zM419.4 285.6h16.0v4.1h-16.0zM449.4 291.5h50.6v4.1h-50.6zM475.6 297.4h55.0v4.1h-55.0zM420.6 303.2h21.8v4.1h-21.8zM406.0 309.1h8.0v4.1h-8.0zM494.4 315.0h79.6v4.1h-79.6zM443.0 320.8h14.4v4.1h-14.4zM442.4 326.7h50.0v4.1h-50.0zM429.4 332.6h20.0v4.1h-20.0zM415.6 338.4h29.4v4.1h-29.4zM456.4 344.3h28.0v4.1h-28.0zM466.4 350.2h20.0v4.1h-20.0zM442.4 356.0h43.0v4.1h-43.0zM426.4 361.9h92.0v4.1h-92.0zM423.4 367.8h12.6v4.1h-12.6zM423.4 373.6h9.0v4.1h-9.0zM421.4 379.5h12.0v4.1h-12.0zM410.0 385.4h2.0v4.1h-2.0zM445.6 391.2h33.4v4.1h-33.4zM412.6 397.1h8.4v4.1h-8.4zM469.4 403.0h107.2v4.1h-107.2zM491.4 408.8h39.6v4.1h-39.6zM446.4 414.7h24.0v4.1h-24.0zM454.4 420.6h42.0v4.1h-42.0zM494.4 426.4h64.0v4.1h-64.0zM413.6 432.3h11.8v4.1h-11.8zM443.4 444.0h28.6v4.1h-28.6zM410.4 449.9h5.6v4.1h-5.6zM446.0 455.8h78.0v4.1h-78.0zM436.6 461.6h34.4v4.1h-34.4zM469.4 473.4h74.0v4.1h-74.0zM430.4 479.2h41.6v4.1h-41.6zM443.0 485.1h40.4v4.1h-40.4zM476.0 491.0h34.6v4.1h-34.6zM429.4 496.8h9.0v4.1h-9.0zM425.6 502.7h82.4v4.1h-82.4zM438.4 508.6h48.0v4.1h-48.0zM434.4 514.4h86.6v4.1h-86.6zM407.4 520.3h8.6v4.1h-8.6zM428.4 526.2h60.6v4.1h-60.6zM431.4 532.0h54.0v4.1h-54.0zM500.4 537.9h58.0v4.1h-58.0zM414.4 555.5h9.6v4.1h-9.6zM474.4 561.4h100.6v4.1h-100.6zM444.0 567.2h7.4v4.1h-7.4zM470.4 573.1h62.0v4.1h-62.0zM427.6 584.8h9.8v4.1h-9.8zM417.0 590.7h8.6v4.1h-8.6zM432.0 596.6h21.0v4.1h-21.0zM426.4 602.4h27.6v4.1h-27.6zM433.4 608.3h47.6v4.1h-47.6zM446.4 614.2h38.2v4.1h-38.2zM429.4 620.0h37.0v4.1h-37.0zM425.6 625.9h5.8v4.1h-5.8zM428.0 631.8h75.4v4.1h-75.4zM440.4 637.6h19.0v4.1h-19.0zM462.4 643.5h88.6v4.1h-88.6zM423.4 649.4h9.0v4.1h-9.0zM433.4 655.2h27.6v4.1h-27.6zM446.4 661.1h45.0v4.1h-45.0zM432.4 667.0h12.6v4.1h-12.6zM423.4 672.8h5.6v4.1h-5.6zM460.4 678.7h56.0v4.1h-56.0zM427.0 684.6h67.4v4.1h-67.4zM437.0 690.4h29.4v4.1h-29.4zM493.4 696.3h46.6v4.1h-46.6zM447.4 702.2h43.2v4.1h-43.2zM457.6 708.0h16.8v4.1h-16.8zM454.4 713.9h60.0v4.1h-60.0zM464.4 719.8h58.0v4.1h-58.0zM420.0 725.6h5.0v4.1h-5.0zM466.4 731.5h61.0v4.1h-61.0zM418.4 737.4h30.6v4.1h-30.6zM454.0 743.2h34.4v4.1h-34.4zM410.0 749.1h1.0v4.1h-1.0z"/><path fill="#009944" d="M488.0 262.1h30.6v4.1h-30.6zM420.4 273.9h9.0v4.1h-9.0zM432.4 279.8h9.4v4.1h-9.4zM435.4 285.6h8.0v4.1h-8.0zM500.0 291.5h19.4v4.1h-19.4zM530.7 297.4h25.0v4.1h-25.0zM414.0 309.1h27.0v4.1h-27.0zM574.1 315.0h25.0v4.1h-25.0zM457.4 320.8h43.6v4.1h-43.6zM492.4 326.7h34.6v4.1h-34.6zM449.4 332.6h86.2v4.1h-86.2zM445.0 338.4h9.0v4.1h-9.0zM484.4 344.3h14.6v4.1h-14.6zM486.4 350.2h23.6v4.1h-23.6zM485.4 356.0h37.2v4.1h-37.2zM518.5 361.9h22.6v4.1h-22.6zM436.0 367.8h24.6v4.1h-24.6zM432.4 373.6h19.2v4.1h-19.2zM433.4 379.5h27.0v4.1h-27.0zM412.0 385.4h5.0v4.1h-5.0zM479.0 391.2h34.0v4.1h-34.0zM421.0 397.1h6.4v4.1h-6.4zM576.7 403.0h20.8v4.1h-20.8zM531.1 408.8h24.0v4.1h-24.0zM470.4 414.7h5.2v4.1h-5.2zM496.4 420.6h23.2v4.1h-23.2zM558.5 426.4h10.6v4.1h-10.6zM425.4 432.3h25.6v4.1h-25.6zM472.0 444.0h15.6v4.1h-15.6zM416.0 449.9h5.0v4.1h-5.0zM524.1 455.8h10.0v4.1h-10.0zM471.0 461.6h12.0v4.1h-12.0zM543.5 473.4h25.6v4.1h-25.6zM472.0 479.2h10.6v4.1h-10.6zM483.4 485.1h38.2v4.1h-38.2zM510.7 491.0h33.4v4.1h-33.4zM438.4 496.8h31.2v4.1h-31.2zM508.1 502.7h19.6v4.1h-19.6zM486.4 508.6h22.2v4.1h-22.2zM521.1 514.4h31.0v4.1h-31.0zM416.0 520.3h9.6v4.1h-9.6zM489.0 526.2h10.4v4.1h-10.4zM485.4 532.0h54.0v4.1h-54.0zM558.5 537.9h23.2v4.1h-23.2zM424.0 555.5h3.0v4.1h-3.0zM575.1 561.4h8.0v4.1h-8.0zM451.4 567.2h27.2v4.1h-27.2zM532.5 573.1h26.6v4.1h-26.6zM413.0 579.0h8.0v4.1h-8.0zM437.4 584.8h19.0v4.1h-19.0zM425.6 590.7h11.0v4.1h-11.0zM453.0 596.6h15.4v4.1h-15.4zM454.0 602.4h9.6v4.1h-9.6zM481.0 608.3h14.0v4.1h-14.0zM484.6 614.2h26.0v4.1h-26.0zM466.4 620.0h26.6v4.1h-26.6zM431.4 625.9h8.0v4.1h-8.0zM503.4 631.8h22.2v4.1h-22.2zM459.4 637.6h21.2v4.1h-21.2zM551.1 643.5h19.0v4.1h-19.0zM432.4 649.4h10.2v4.1h-10.2zM461.0 655.2h12.6v4.1h-12.6zM491.4 661.1h33.2v4.1h-33.2zM445.0 667.0h25.6v4.1h-25.6zM429.0 672.8h4.6v4.1h-4.6zM516.5 678.7h32.6v4.1h-32.6zM466.4 690.4h6.0v4.1h-6.0zM540.1 696.3h20.6v4.1h-20.6zM490.6 702.2h25.4v4.1h-25.4zM474.4 708.0h10.6v4.1h-10.6zM514.5 713.9h37.2v4.1h-37.2zM522.5 719.8h26.6v4.1h-26.6zM425.0 725.6h3.6v4.1h-3.6zM527.5 731.5h25.6v4.1h-25.6zM449.0 737.4h30.0v4.1h-30.0zM488.4 743.2h15.2v4.1h-15.2zM411.0 749.1h2.4v4.1h-2.4z"/><path fill="#B2DF8A" d="M518.7 262.1h4.0v4.1h-4.0zM443.4 285.6h2.0v4.1h-2.0zM501.0 320.8h2.4v4.1h-2.4zM475.6 414.7h1.8v4.1h-1.8zM478.6 567.2h3.8v4.1h-3.8zM463.6 602.4h9.0v4.1h-9.0zM439.4 625.9h3.0v4.1h-3.0zM549.1 719.8h4.0v4.1h-4.0z"/><path fill="#D5E2B6" d="M522.7 262.1h17.4v4.1h-17.4zM483.6 268.0h10.0v4.1h-10.0zM429.4 273.9h45.0v4.1h-45.0zM441.8 279.8h13.6v4.1h-13.6zM445.4 285.6h35.6v4.1h-35.6zM519.5 291.5h8.0v4.1h-8.0zM555.7 297.4h10.0v4.1h-10.0zM442.4 303.2h43.0v4.1h-43.0zM441.0 309.1h11.4v4.1h-11.4zM503.4 320.8h17.2v4.1h-17.2zM527.1 326.7h17.6v4.1h-17.6zM535.7 332.6h3.0v4.1h-3.0zM454.0 338.4h21.4v4.1h-21.4zM499.0 344.3h10.4v4.1h-10.4zM510.1 350.2h19.4v4.1h-19.4zM522.7 356.0h19.0v4.1h-19.0zM541.1 361.9h11.6v4.1h-11.6zM460.6 367.8h61.8v4.1h-61.8zM451.6 373.6h7.0v4.1h-7.0zM460.4 379.5h13.2v4.1h-13.2zM417.0 385.4h29.6v4.1h-29.6zM513.1 391.2h20.6v4.1h-20.6zM427.4 397.1h22.0v4.1h-22.0zM555.1 408.8h12.0v4.1h-12.0zM477.4 414.7h18.0v4.1h-18.0zM519.7 420.6h9.8v4.1h-9.8zM569.1 426.4h6.4v4.1h-6.4zM451.0 432.3h41.0v4.1h-41.0zM419.4 438.2h7.0v4.1h-7.0zM487.6 444.0h10.4v4.1h-10.4zM421.0 449.9h6.4v4.1h-6.4zM534.1 455.8h25.4v4.1h-25.4zM483.0 461.6h7.6v4.1h-7.6zM428.4 467.5h10.0v4.1h-10.0zM569.1 473.4h6.4v4.1h-6.4zM482.6 479.2h10.8v4.1h-10.8zM521.7 485.1h17.8v4.1h-17.8zM544.1 491.0h9.4v4.1h-9.4zM469.6 496.8h14.0v4.1h-14.0zM527.7 502.7h38.0v4.1h-38.0zM508.7 508.6h10.0v4.1h-10.0zM552.1 514.4h12.6v4.1h-12.6zM425.6 520.3h28.8v4.1h-28.8zM499.4 526.2h32.0v4.1h-32.0zM539.5 532.0h16.0v4.1h-16.0zM581.7 537.9h3.4v4.1h-3.4zM412.6 543.8h7.8v4.1h-7.8zM426.0 549.6h13.4v4.1h-13.4zM427.0 555.5h9.4v4.1h-9.4zM583.1 561.4h5.6v4.1h-5.6zM482.4 567.2h24.6v4.1h-24.6zM559.1 573.1h5.4v4.1h-5.4zM421.0 579.0h36.6v4.1h-36.6zM456.4 584.8h36.2v4.1h-36.2zM436.6 590.7h43.8v4.1h-43.8zM468.4 596.6h15.0v4.1h-15.0zM472.6 602.4h36.8v4.1h-36.8zM495.0 608.3h18.4v4.1h-18.4zM510.7 614.2h23.0v4.1h-23.0zM493.0 620.0h18.4v4.1h-18.4zM442.4 625.9h13.0v4.1h-13.0zM525.7 631.8h17.0v4.1h-17.0zM480.6 637.6h27.8v4.1h-27.8zM570.1 643.5h13.4v4.1h-13.4zM442.6 649.4h4.8v4.1h-4.8zM473.6 655.2h26.4v4.1h-26.4zM524.7 661.1h37.8v4.1h-37.8zM470.6 667.0h12.8v4.1h-12.8zM433.6 672.8h12.8v4.1h-12.8zM549.1 678.7h12.6v4.1h-12.6zM494.4 684.6h30.6v4.1h-30.6zM472.4 690.4h17.0v4.1h-17.0zM560.7 696.3h11.8v4.1h-11.8zM516.1 702.2h8.4v4.1h-8.4zM485.0 708.0h12.6v4.1h-12.6zM551.7 713.9h23.0v4.1h-23.0zM553.1 719.8h7.4v4.1h-7.4zM428.6 725.6h12.4v4.1h-12.4zM553.1 731.5h11.4v4.1h-11.4zM479.0 737.4h19.0v4.1h-19.0zM503.6 743.2h21.4v4.1h-21.4zM413.4 749.1h6.0v4.1h-6.0z"/><path fill="#FFFF66" d="M540.1 262.1h11.6v4.1h-11.6zM493.6 268.0h46.8v4.1h-46.8zM474.4 273.9h16.0v4.1h-16.0zM455.4 279.8h9.2v4.1h-9.2zM481.0 285.6h42.4v4.1h-42.4zM565.7 297.4h9.0v4.1h-9.0zM452.4 309.1h38.0v4.1h-38.0zM520.7 320.8h16.0v4.1h-16.0zM544.7 326.7h8.0v4.1h-8.0zM538.7 332.6h1.4v4.1h-1.4zM475.4 338.4h3.6v4.1h-3.6zM529.5 350.2h1.6v4.1h-1.6zM552.7 361.9h6.0v4.1h-6.0zM458.6 373.6h3.8v4.1h-3.8zM473.6 379.5h2.0v4.1h-2.0zM446.6 385.4h4.8v4.1h-4.8zM533.7 391.2h5.8v4.1h-5.8zM449.4 397.1h21.6v4.1h-21.6zM567.1 408.8h1.6v4.1h-1.6zM529.5 420.6h2.0v4.1h-2.0zM492.0 432.3h3.4v4.1h-3.4zM426.4 438.2h5.0v4.1h-5.0zM498.0 444.0h6.0v4.1h-6.0zM559.5 455.8h2.6v4.1h-2.6zM438.4 467.5h19.2v4.1h-19.2zM575.5 473.4h2.0v4.1h-2.0zM493.4 479.2h14.0v4.1h-14.0zM539.5 485.1h11.6v4.1h-11.6zM553.5 491.0h5.0v4.1h-5.0zM483.6 496.8h16.8v4.1h-16.8zM518.7 508.6h13.8v4.1h-13.8zM564.7 514.4h2.4v4.1h-2.4zM454.4 520.3h12.0v4.1h-12.0zM531.5 526.2h10.2v4.1h-10.2zM555.5 532.0h4.2v4.1h-4.2zM420.4 543.8h5.6v4.1h-5.6zM507.0 567.2h6.0v4.1h-6.0zM457.6 579.0h94.4v4.1h-94.4zM492.6 584.8h50.4v4.1h-50.4zM480.4 590.7h5.0v4.1h-5.0zM483.4 596.6h3.0v4.1h-3.0zM513.5 608.3h17.2v4.1h-17.2zM533.7 614.2h10.8v4.1h-10.8zM511.5 620.0h2.0v4.1h-2.0zM455.4 625.9h5.0v4.1h-5.0zM542.7 631.8h47.0v4.1h-47.0zM583.5 643.5h3.0v4.1h-3.0zM500.0 655.2h7.4v4.1h-7.4zM483.4 667.0h59.6v4.1h-59.6zM446.4 672.8h2.6v4.1h-2.6zM561.7 678.7h9.8v4.1h-9.8zM525.1 684.6h3.4v4.1h-3.4zM489.4 690.4h3.0v4.1h-3.0zM497.6 708.0h52.8v4.1h-52.8zM574.7 713.9h11.0v4.1h-11.0zM560.5 719.8h3.0v4.1h-3.0zM441.0 725.6h9.6v4.1h-9.6zM498.0 737.4h3.6v4.1h-3.6zM525.1 743.2h4.4v4.1h-4.4z"/><path fill="#FDD49E" d="M551.7 262.1h2.4v4.1h-2.4zM464.6 279.8h8.8v4.1h-8.8zM523.5 285.6h2.0v4.1h-2.0zM527.5 291.5h5.0v4.1h-5.0zM485.4 303.2h65.0v4.1h-65.0zM490.4 309.1h7.0v4.1h-7.0zM536.7 320.8h13.0v4.1h-13.0zM552.7 326.7h4.8v4.1h-4.8zM540.1 332.6h2.6v4.1h-2.6zM479.0 338.4h11.6v4.1h-11.6zM509.5 344.3h2.2v4.1h-2.2zM531.1 350.2h6.6v4.1h-6.6zM541.7 356.0h6.0v4.1h-6.0zM558.7 361.9h3.0v4.1h-3.0zM462.4 373.6h4.0v4.1h-4.0zM475.6 379.5h1.8v4.1h-1.8zM451.4 385.4h10.2v4.1h-10.2zM539.5 391.2h4.0v4.1h-4.0zM471.0 397.1h2.4v4.1h-2.4zM597.5 403.0h1.2v4.1h-1.2zM495.4 414.7h4.0v4.1h-4.0zM531.5 420.6h2.0v4.1h-2.0zM575.5 426.4h6.2v4.1h-6.2zM495.4 432.3h16.0v4.1h-16.0zM431.4 438.2h11.6v4.1h-11.6zM504.0 444.0h4.0v4.1h-4.0zM427.4 449.9h4.6v4.1h-4.6zM562.1 455.8h6.6v4.1h-6.6zM490.6 461.6h1.8v4.1h-1.8zM507.5 479.2h10.0v4.1h-10.0zM551.1 485.1h7.4v4.1h-7.4zM500.4 496.8h8.2v4.1h-8.2zM565.7 502.7h3.8v4.1h-3.8zM532.5 508.6h2.6v4.1h-2.6zM567.1 514.4h4.4v4.1h-4.4zM466.4 520.3h3.0v4.1h-3.0zM541.7 526.2h2.8v4.1h-2.8zM559.7 532.0h2.4v4.1h-2.4zM426.0 543.8h2.4v4.1h-2.4zM436.4 555.5h5.0v4.1h-5.0zM588.7 561.4h2.0v4.1h-2.0zM513.1 567.2h3.4v4.1h-3.4zM564.5 573.1h2.6v4.1h-2.6zM543.1 584.8h1.4v4.1h-1.4zM485.4 590.7h26.2v4.1h-26.2zM486.4 596.6h6.0v4.1h-6.0zM509.5 602.4h14.0v4.1h-14.0zM530.7 608.3h2.4v4.1h-2.4zM544.5 614.2h5.6v4.1h-5.6zM513.5 620.0h6.0v4.1h-6.0zM460.4 625.9h16.0v4.1h-16.0zM508.5 637.6h10.0v4.1h-10.0zM447.4 649.4h23.6v4.1h-23.6zM507.5 655.2h13.0v4.1h-13.0zM449.0 672.8h8.6v4.1h-8.6zM528.5 684.6h7.6v4.1h-7.6zM492.4 690.4h3.0v4.1h-3.0zM572.5 696.3h6.0v4.1h-6.0zM524.5 702.2h3.6v4.1h-3.6zM585.7 713.9h1.8v4.1h-1.8zM563.5 719.8h4.6v4.1h-4.6zM450.6 725.6h5.0v4.1h-5.0zM564.5 731.5h4.2v4.1h-4.2zM501.6 737.4h5.8v4.1h-5.8zM529.5 743.2h3.0v4.1h-3.0zM419.4 749.1h12.0v4.1h-12.0z"/><path fill="#FDB462" d="M554.1 262.1h17.0v4.1h-17.0zM540.5 268.0h19.2v4.1h-19.2zM490.4 273.9h26.2v4.1h-26.2zM473.4 279.8h17.0v4.1h-17.0zM525.5 285.6h14.6v4.1h-14.6zM532.5 291.5h5.6v4.1h-5.6zM574.7 297.4h6.4v4.1h-6.4zM497.4 309.1h30.6v4.1h-30.6zM549.7 320.8h9.0v4.1h-9.0zM557.5 326.7h13.2v4.1h-13.2zM542.7 332.6h9.4v4.1h-9.4zM490.6 338.4h29.4v4.1h-29.4zM511.7 344.3h15.8v4.1h-15.8zM537.7 350.2h6.0v4.1h-6.0zM547.7 356.0h12.0v4.1h-12.0zM561.7 361.9h17.4v4.1h-17.4zM522.5 367.8h25.2v4.1h-25.2zM466.4 373.6h32.0v4.1h-32.0zM477.4 379.5h18.2v4.1h-18.2zM461.6 385.4h59.8v4.1h-59.8zM543.5 391.2h12.6v4.1h-12.6zM473.4 397.1h22.2v4.1h-22.2zM598.7 403.0h1.4v4.1h-1.4zM568.7 408.8h5.0v4.1h-5.0zM499.4 414.7h28.0v4.1h-28.0zM533.5 420.6h14.2v4.1h-14.2zM511.5 432.3h16.2v4.1h-16.2zM443.0 438.2h39.4v4.1h-39.4zM508.1 444.0h19.0v4.1h-19.0zM432.0 449.9h34.4v4.1h-34.4zM568.7 455.8h9.4v4.1h-9.4zM492.4 461.6h22.2v4.1h-22.2zM457.6 467.5h108.9v4.1h-108.9zM577.5 473.4h5.0v4.1h-5.0zM517.5 479.2h17.6v4.1h-17.6zM558.5 485.1h8.2v4.1h-8.2zM558.5 491.0h37.0v4.1h-37.0zM508.7 496.8h58.8v4.1h-58.8zM569.5 502.7h12.6v4.1h-12.6zM535.1 508.6h27.6v4.1h-27.6zM571.5 514.4h5.2v4.1h-5.2zM469.4 520.3h29.0v4.1h-29.0zM544.5 526.2h26.0v4.1h-26.0zM562.1 532.0h4.6v4.1h-4.6zM585.1 537.9h2.0v4.1h-2.0zM428.4 543.8h87.0v4.1h-87.0zM439.4 549.6h54.0v4.1h-54.0zM441.4 555.5h19.0v4.1h-19.0zM590.7 561.4h2.4v4.1h-2.4zM516.5 567.2h20.6v4.1h-20.6zM567.1 573.1h13.6v4.1h-13.6zM552.1 579.0h21.4v4.1h-21.4zM544.5 584.8h15.6v4.1h-15.6zM511.7 590.7h14.8v4.1h-14.8zM492.4 596.6h30.2v4.1h-30.2zM523.5 602.4h4.2v4.1h-4.2zM533.1 608.3h20.6v4.1h-20.6zM550.1 614.2h17.6v4.1h-17.6zM519.5 620.0h12.6v4.1h-12.6zM476.4 625.9h45.2v4.1h-45.2zM589.7 631.8h4.0v4.1h-4.0zM518.5 637.6h18.2v4.1h-18.2zM471.0 649.4h48.4v4.1h-48.4zM520.5 655.2h13.2v4.1h-13.2zM562.5 661.1h10.0v4.1h-10.0zM543.1 667.0h9.0v4.1h-9.0zM457.6 672.8h27.8v4.1h-27.8zM571.5 678.7h4.0v4.1h-4.0zM536.1 684.6h11.0v4.1h-11.0zM495.4 690.4h21.0v4.1h-21.0zM578.5 696.3h9.2v4.1h-9.2zM528.1 702.2h22.6v4.1h-22.6zM550.5 708.0h22.6v4.1h-22.6zM587.5 713.9h11.0v4.1h-11.0zM568.1 719.8h9.6v4.1h-9.6zM455.6 725.6h94.8v4.1h-94.8zM568.7 731.5h4.4v4.1h-4.4zM507.5 737.4h13.0v4.1h-13.0zM532.5 743.2h24.0v4.1h-24.0zM431.4 749.1h28.0v4.1h-28.0z"/><path fill="#FFCFDC" d="M571.1 262.1h8.4v4.1h-8.4zM559.7 268.0h9.0v4.1h-9.0zM490.4 279.8h3.2v4.1h-3.2zM538.1 291.5h13.4v4.1h-13.4zM581.1 297.4h15.4v4.1h-15.4zM599.1 315.0h15.4v4.1h-15.4zM558.7 320.8h6.0v4.1h-6.0zM570.7 326.7h14.8v4.1h-14.8zM552.1 332.6h3.0v4.1h-3.0zM520.1 338.4h1.4v4.1h-1.4zM527.5 344.3h15.2v4.1h-15.2zM543.7 350.2h10.8v4.1h-10.8zM579.1 361.9h6.4v4.1h-6.4zM495.6 379.5h3.4v4.1h-3.4zM556.1 391.2h3.4v4.1h-3.4zM600.1 403.0h10.6v4.1h-10.6zM573.7 408.8h15.0v4.1h-15.0zM527.5 414.7h12.0v4.1h-12.0zM547.7 420.6h21.8v4.1h-21.8zM581.7 426.4h12.8v4.1h-12.8zM527.1 444.0h7.4v4.1h-7.4zM578.1 455.8h15.6v4.1h-15.6zM514.7 461.6h10.8v4.1h-10.8zM582.5 473.4h7.6v4.1h-7.6zM535.1 479.2h3.4v4.1h-3.4zM566.7 485.1h3.4v4.1h-3.4zM582.1 502.7h1.6v4.1h-1.6zM562.7 508.6h6.8v4.1h-6.8zM576.7 514.4h10.0v4.1h-10.0zM566.7 532.0h4.0v4.1h-4.0zM587.1 537.9h18.6v4.1h-18.6zM593.1 561.4h11.6v4.1h-11.6zM537.1 567.2h15.4v4.1h-15.4zM580.7 573.1h16.8v4.1h-16.8zM573.5 579.0h2.0v4.1h-2.0zM560.1 584.8h2.0v4.1h-2.0zM526.5 590.7h1.6v4.1h-1.6zM522.7 596.6h8.8v4.1h-8.8zM527.7 602.4h5.0v4.1h-5.0zM553.7 608.3h11.0v4.1h-11.0zM567.7 614.2h12.8v4.1h-12.8zM532.1 620.0h6.0v4.1h-6.0zM521.7 625.9h4.8v4.1h-4.8zM593.7 631.8h7.4v4.1h-7.4zM536.7 637.6h1.8v4.1h-1.8zM586.5 643.5h17.0v4.1h-17.0zM533.7 655.2h6.8v4.1h-6.8zM572.5 661.1h11.2v4.1h-11.2zM552.1 667.0h3.0v4.1h-3.0zM485.4 672.8h6.6v4.1h-6.6zM575.5 678.7h13.0v4.1h-13.0zM547.1 684.6h6.4v4.1h-6.4zM516.5 690.4h5.0v4.1h-5.0zM587.7 696.3h10.8v4.1h-10.8zM550.7 702.2h5.8v4.1h-5.8zM573.1 708.0h12.4v4.1h-12.4zM598.5 713.9h8.2v4.1h-8.2zM577.7 719.8h16.0v4.1h-16.0zM573.1 731.5h27.0v4.1h-27.0zM520.5 737.4h3.0v4.1h-3.0zM556.5 743.2h12.6v4.1h-12.6z"/><path fill="#E78AC3" d="M579.5 262.1h8.0v4.1h-8.0zM568.7 268.0h9.0v4.1h-9.0zM516.7 273.9h78.8v4.1h-78.8zM493.6 279.8h44.8v4.1h-44.8zM540.1 285.6h39.0v4.1h-39.0zM551.5 291.5h10.6v4.1h-10.6zM596.5 297.4h5.0v4.1h-5.0zM550.5 303.2h43.2v4.1h-43.2zM528.1 309.1h30.4v4.1h-30.4zM564.7 320.8h13.0v4.1h-13.0zM585.5 326.7h8.6v4.1h-8.6zM555.1 332.6h16.4v4.1h-16.4zM521.5 338.4h28.0v4.1h-28.0zM542.7 344.3h25.8v4.1h-25.8zM554.5 350.2h14.6v4.1h-14.6zM559.7 356.0h12.8v4.1h-12.8zM585.5 361.9h19.0v4.1h-19.0zM547.7 367.8h36.8v4.1h-36.8zM498.4 373.6h27.6v4.1h-27.6zM499.0 379.5h38.4v4.1h-38.4zM521.5 385.4h41.0v4.1h-41.0zM559.5 391.2h8.2v4.1h-8.2zM495.6 397.1h31.8v4.1h-31.8zM588.7 408.8h10.8v4.1h-10.8zM539.5 414.7h14.2v4.1h-14.2zM569.5 420.6h13.0v4.1h-13.0zM594.5 426.4h5.2v4.1h-5.2zM527.7 432.3h39.8v4.1h-39.8zM482.4 438.2h42.2v4.1h-42.2zM534.5 444.0h19.0v4.1h-19.0zM466.4 449.9h35.6v4.1h-35.6zM525.5 461.6h17.0v4.1h-17.0zM566.5 467.5h10.2v4.1h-10.2zM590.1 473.4h11.0v4.1h-11.0zM538.5 479.2h14.0v4.1h-14.0zM570.1 485.1h20.4v4.1h-20.4zM595.5 491.0h13.0v4.1h-13.0zM567.5 496.8h20.2v4.1h-20.2zM583.7 502.7h13.8v4.1h-13.8zM569.5 508.6h16.0v4.1h-16.0zM586.7 514.4h12.0v4.1h-12.0zM498.4 520.3h53.0v4.1h-53.0zM570.5 526.2h35.2v4.1h-35.2zM570.7 532.0h14.8v4.1h-14.8zM605.7 537.9h3.0v4.1h-3.0zM515.5 543.8h38.0v4.1h-38.0zM493.4 549.6h54.6v4.1h-54.6zM460.4 555.5h32.0v4.1h-32.0zM604.7 561.4h3.8v4.1h-3.8zM552.5 567.2h32.6v4.1h-32.6zM597.5 573.1h9.0v4.1h-9.0zM575.5 579.0h5.0v4.1h-5.0zM562.1 584.8h7.4v4.1h-7.4zM528.1 590.7h22.6v4.1h-22.6zM531.5 596.6h30.2v4.1h-30.2zM532.7 602.4h50.8v4.1h-50.8zM564.7 608.3h15.8v4.1h-15.8zM580.5 614.2h19.2v4.1h-19.2zM538.1 620.0h24.4v4.1h-24.4zM526.5 625.9h33.0v4.1h-33.0zM601.1 631.8h11.0v4.1h-11.0zM538.5 637.6h31.0v4.1h-31.0zM603.5 643.5h6.0v4.1h-6.0zM519.5 649.4h43.0v4.1h-43.0zM540.5 655.2h19.0v4.1h-19.0zM583.7 661.1h16.0v4.1h-16.0zM555.1 667.0h11.0v4.1h-11.0zM492.0 672.8h49.4v4.1h-49.4zM588.5 678.7h13.0v4.1h-13.0zM553.5 684.6h18.0v4.1h-18.0zM521.5 690.4h33.0v4.1h-33.0zM598.5 696.3h7.2v4.1h-7.2zM556.5 702.2h19.0v4.1h-19.0zM585.5 708.0h16.0v4.1h-16.0zM606.7 713.9h8.0v4.1h-8.0zM593.7 719.8h13.8v4.1h-13.8zM550.5 725.6h26.0v4.1h-26.0zM600.1 731.5h4.4v4.1h-4.4zM523.5 737.4h43.0v4.1h-43.0zM569.1 743.2h27.4v4.1h-27.4zM459.4 749.1h34.0v4.1h-34.0z"/><path fill="#CC6677" d="M587.5 262.1h28.0v4.1h-28.0zM577.7 268.0h37.8v4.1h-37.8zM595.5 273.9h20.0v4.1h-20.0zM538.5 279.8h77.0v4.1h-77.0zM579.1 285.6h36.4v4.1h-36.4zM562.1 291.5h53.4v4.1h-53.4zM601.5 297.4h14.0v4.1h-14.0zM593.7 303.2h21.8v4.1h-21.8zM558.5 309.1h57.0v4.1h-57.0zM614.5 315.0h1.0v4.1h-1.0zM577.7 320.8h37.8v4.1h-37.8zM594.1 326.7h21.4v4.1h-21.4zM571.5 332.6h44.0v4.1h-44.0zM549.5 338.4h66.0v4.1h-66.0zM568.5 344.3h47.0v4.1h-47.0zM569.1 350.2h46.4v4.1h-46.4zM572.5 356.0h43.0v4.1h-43.0zM604.5 361.9h11.0v4.1h-11.0zM584.5 367.8h31.0v4.1h-31.0zM526.1 373.6h89.4v4.1h-89.4zM537.5 379.5h78.0v4.1h-78.0zM562.5 385.4h53.0v4.1h-53.0zM567.7 391.2h47.8v4.1h-47.8zM527.5 397.1h88.0v4.1h-88.0zM610.7 403.0h4.8v4.1h-4.8zM599.5 408.8h16.0v4.1h-16.0zM553.7 414.7h61.8v4.1h-61.8zM582.5 420.6h33.0v4.1h-33.0zM599.7 426.4h15.8v4.1h-15.8zM567.5 432.3h48.0v4.1h-48.0zM524.7 438.2h90.8v4.1h-90.8zM553.5 444.0h62.0v4.1h-62.0zM502.0 449.9h113.5v4.1h-113.5zM593.7 455.8h21.8v4.1h-21.8zM542.5 461.6h73.0v4.1h-73.0zM576.7 467.5h38.8v4.1h-38.8zM601.1 473.4h14.4v4.1h-14.4zM552.5 479.2h63.0v4.1h-63.0zM590.5 485.1h25.0v4.1h-25.0zM608.5 491.0h7.0v4.1h-7.0zM587.7 496.8h27.8v4.1h-27.8zM597.5 502.7h18.0v4.1h-18.0zM585.5 508.6h30.0v4.1h-30.0zM598.7 514.4h16.8v4.1h-16.8zM551.5 520.3h64.0v4.1h-64.0zM605.7 526.2h9.8v4.1h-9.8zM585.5 532.0h30.0v4.1h-30.0zM608.7 537.9h6.8v4.1h-6.8zM553.5 543.8h62.0v4.1h-62.0zM548.1 549.6h67.4v4.1h-67.4zM492.4 555.5h123.1v4.1h-123.1zM608.5 561.4h7.0v4.1h-7.0zM585.1 567.2h30.4v4.1h-30.4zM606.5 573.1h9.0v4.1h-9.0zM580.5 579.0h35.0v4.1h-35.0zM569.5 584.8h46.0v4.1h-46.0zM550.7 590.7h64.8v4.1h-64.8zM561.7 596.6h53.8v4.1h-53.8zM583.5 602.4h32.0v4.1h-32.0zM580.5 608.3h35.0v4.1h-35.0zM599.7 614.2h15.8v4.1h-15.8zM562.5 620.0h53.0v4.1h-53.0zM559.5 625.9h56.0v4.1h-56.0zM612.1 631.8h3.4v4.1h-3.4zM569.5 637.6h46.0v4.1h-46.0zM609.5 643.5h6.0v4.1h-6.0zM562.5 649.4h53.0v4.1h-53.0zM559.5 655.2h56.0v4.1h-56.0zM599.7 661.1h15.8v4.1h-15.8zM566.1 667.0h49.4v4.1h-49.4zM541.5 672.8h74.0v4.1h-74.0zM601.5 678.7h14.0v4.1h-14.0zM571.5 684.6h44.0v4.1h-44.0zM554.5 690.4h61.0v4.1h-61.0zM605.7 696.3h9.8v4.1h-9.8zM575.5 702.2h40.0v4.1h-40.0zM601.5 708.0h14.0v4.1h-14.0zM614.7 713.9h0.8v4.1h-0.8zM607.5 719.8h8.0v4.1h-8.0zM576.5 725.6h39.0v4.1h-39.0zM604.5 731.5h11.0v4.1h-11.0zM566.5 737.4h49.0v4.1h-49.0zM596.5 743.2h19.0v4.1h-19.0zM493.4 749.1h122.1v4.1h-122.1z"/></g>
<line x1="386.9" y1="264.2" x2="388.2" y2="264.2" stroke="#555" stroke-width="0.3"/>
<text class="c" x="386.3" y="265.9" font-size="4.6" text-anchor="end" fill="#4a4a4a" textLength="7.4" lengthAdjust="spacingAndGlyphs">SAT3</text>
<line x1="386.9" y1="270.1" x2="388.2" y2="270.1" stroke="#555" stroke-width="0.3"/>
<text class="c" x="386.3" y="271.7" font-size="4.6" text-anchor="end" fill="#4a4a4a" textLength="9.2" lengthAdjust="spacingAndGlyphs">SAT84</text>
<line x1="386.9" y1="275.9" x2="388.2" y2="275.9" stroke="#555" stroke-width="0.3"/>
<text class="c" x="386.3" y="277.6" font-size="4.6" text-anchor="end" fill="#4a4a4a" textLength="9.2" lengthAdjust="spacingAndGlyphs">SAT82</text>
<line x1="386.9" y1="281.8" x2="388.2" y2="281.8" stroke="#555" stroke-width="0.3"/>
<text class="c" x="386.3" y="283.5" font-size="4.6" text-anchor="end" fill="#4a4a4a" textLength="9.2" lengthAdjust="spacingAndGlyphs">SAT81</text>
<line x1="386.9" y1="287.7" x2="388.2" y2="287.7" stroke="#555" stroke-width="0.3"/>
<text class="c" x="386.3" y="289.3" font-size="4.6" text-anchor="end" fill="#4a4a4a" textLength="9.2" lengthAdjust="spacingAndGlyphs">SAT98</text>
<line x1="386.9" y1="293.5" x2="388.2" y2="293.5" stroke="#555" stroke-width="0.3"/>
<text class="c" x="386.3" y="295.2" font-size="4.6" text-anchor="end" fill="#4a4a4a" textLength="9.2" lengthAdjust="spacingAndGlyphs">SAT90</text>
<line x1="386.9" y1="299.4" x2="388.2" y2="299.4" stroke="#555" stroke-width="0.3"/>
<text class="c" x="386.3" y="301.1" font-size="4.6" text-anchor="end" fill="#4a4a4a" textLength="7.4" lengthAdjust="spacingAndGlyphs">SAT9</text>
<line x1="386.9" y1="305.3" x2="388.2" y2="305.3" stroke="#555" stroke-width="0.3"/>
<text class="c" x="386.3" y="306.9" font-size="4.6" text-anchor="end" fill="#4a4a4a" textLength="9.2" lengthAdjust="spacingAndGlyphs">SAT79</text>
<line x1="386.9" y1="311.1" x2="388.2" y2="311.1" stroke="#555" stroke-width="0.3"/>
<text class="c" x="386.3" y="312.8" font-size="4.6" text-anchor="end" fill="#4a4a4a" textLength="9.2" lengthAdjust="spacingAndGlyphs">SAT76</text>
<line x1="386.9" y1="317.0" x2="388.2" y2="317.0" stroke="#555" stroke-width="0.3"/>
<text class="c" x="386.3" y="318.7" font-size="4.6" text-anchor="end" fill="#4a4a4a" textLength="9.2" lengthAdjust="spacingAndGlyphs">SAT75</text>
<line x1="386.9" y1="322.9" x2="388.2" y2="322.9" stroke="#555" stroke-width="0.3"/>
<text class="c" x="386.3" y="324.5" font-size="4.6" text-anchor="end" fill="#4a4a4a" textLength="9.2" lengthAdjust="spacingAndGlyphs">SAT78</text>
<line x1="386.9" y1="328.7" x2="388.2" y2="328.7" stroke="#555" stroke-width="0.3"/>
<text class="c" x="386.3" y="330.4" font-size="4.6" text-anchor="end" fill="#4a4a4a" textLength="9.2" lengthAdjust="spacingAndGlyphs">SAT74</text>
<line x1="386.9" y1="334.6" x2="388.2" y2="334.6" stroke="#555" stroke-width="0.3"/>
<text class="c" x="386.3" y="336.3" font-size="4.6" text-anchor="end" fill="#4a4a4a" textLength="9.2" lengthAdjust="spacingAndGlyphs">SAT70</text>
<line x1="386.9" y1="340.5" x2="388.2" y2="340.5" stroke="#555" stroke-width="0.3"/>
<text class="c" x="386.3" y="342.1" font-size="4.6" text-anchor="end" fill="#4a4a4a" textLength="9.2" lengthAdjust="spacingAndGlyphs">SAT71</text>
<line x1="386.9" y1="346.3" x2="388.2" y2="346.3" stroke="#555" stroke-width="0.3"/>
<text class="c" x="386.3" y="348.0" font-size="4.6" text-anchor="end" fill="#4a4a4a" textLength="9.2" lengthAdjust="spacingAndGlyphs">SAT72</text>
<line x1="386.9" y1="352.2" x2="388.2" y2="352.2" stroke="#555" stroke-width="0.3"/>
<text class="c" x="386.3" y="353.9" font-size="4.6" text-anchor="end" fill="#4a4a4a" textLength="9.2" lengthAdjust="spacingAndGlyphs">SAT73</text>
<line x1="386.9" y1="358.1" x2="388.2" y2="358.1" stroke="#555" stroke-width="0.3"/>
<text class="c" x="386.3" y="359.7" font-size="4.6" text-anchor="end" fill="#4a4a4a" textLength="9.2" lengthAdjust="spacingAndGlyphs">SAT29</text>
<line x1="386.9" y1="363.9" x2="388.2" y2="363.9" stroke="#555" stroke-width="0.3"/>
<text class="c" x="386.3" y="365.6" font-size="4.6" text-anchor="end" fill="#4a4a4a" textLength="7.4" lengthAdjust="spacingAndGlyphs">SAT7</text>
<line x1="386.9" y1="369.8" x2="388.2" y2="369.8" stroke="#555" stroke-width="0.3"/>
<text class="c" x="386.3" y="371.5" font-size="4.6" text-anchor="end" fill="#4a4a4a" textLength="9.2" lengthAdjust="spacingAndGlyphs">SAT68</text>
<line x1="386.9" y1="375.7" x2="388.2" y2="375.7" stroke="#555" stroke-width="0.3"/>
<text class="c" x="386.3" y="377.3" font-size="4.6" text-anchor="end" fill="#4a4a4a" textLength="9.2" lengthAdjust="spacingAndGlyphs">SAT69</text>
<line x1="386.9" y1="381.5" x2="388.2" y2="381.5" stroke="#555" stroke-width="0.3"/>
<text class="c" x="386.3" y="383.2" font-size="4.6" text-anchor="end" fill="#4a4a4a" textLength="9.2" lengthAdjust="spacingAndGlyphs">SAT67</text>
<line x1="386.9" y1="387.4" x2="388.2" y2="387.4" stroke="#555" stroke-width="0.3"/>
<text class="c" x="386.3" y="389.1" font-size="4.6" text-anchor="end" fill="#4a4a4a" textLength="9.2" lengthAdjust="spacingAndGlyphs">SAT66</text>
<line x1="386.9" y1="393.3" x2="388.2" y2="393.3" stroke="#555" stroke-width="0.3"/>
<text class="c" x="386.3" y="394.9" font-size="4.6" text-anchor="end" fill="#4a4a4a" textLength="9.2" lengthAdjust="spacingAndGlyphs">SAT65</text>
<line x1="386.9" y1="399.1" x2="388.2" y2="399.1" stroke="#555" stroke-width="0.3"/>
<text class="c" x="386.3" y="400.8" font-size="4.6" text-anchor="end" fill="#4a4a4a" textLength="9.2" lengthAdjust="spacingAndGlyphs">SAT64</text>
<line x1="386.9" y1="405.0" x2="388.2" y2="405.0" stroke="#555" stroke-width="0.3"/>
<text class="c" x="386.3" y="406.7" font-size="4.6" text-anchor="end" fill="#4a4a4a" textLength="9.2" lengthAdjust="spacingAndGlyphs">SAT63</text>
<line x1="386.9" y1="410.9" x2="388.2" y2="410.9" stroke="#555" stroke-width="0.3"/>
<text class="c" x="386.3" y="412.5" font-size="4.6" text-anchor="end" fill="#4a4a4a" textLength="9.2" lengthAdjust="spacingAndGlyphs">SAT62</text>
<line x1="386.9" y1="416.7" x2="388.2" y2="416.7" stroke="#555" stroke-width="0.3"/>
<text class="c" x="386.3" y="418.4" font-size="4.6" text-anchor="end" fill="#4a4a4a" textLength="9.2" lengthAdjust="spacingAndGlyphs">SAT61</text>
<line x1="386.9" y1="422.6" x2="388.2" y2="422.6" stroke="#555" stroke-width="0.3"/>
<text class="c" x="386.3" y="424.3" font-size="4.6" text-anchor="end" fill="#4a4a4a" textLength="9.2" lengthAdjust="spacingAndGlyphs">SAT60</text>
<line x1="386.9" y1="428.5" x2="388.2" y2="428.5" stroke="#555" stroke-width="0.3"/>
<text class="c" x="386.3" y="430.1" font-size="4.6" text-anchor="end" fill="#4a4a4a" textLength="7.4" lengthAdjust="spacingAndGlyphs">SAT6</text>
<line x1="386.9" y1="434.3" x2="388.2" y2="434.3" stroke="#555" stroke-width="0.3"/>
<text class="c" x="386.3" y="436.0" font-size="4.6" text-anchor="end" fill="#4a4a4a" textLength="9.2" lengthAdjust="spacingAndGlyphs">SAT59</text>
<line x1="386.9" y1="440.2" x2="388.2" y2="440.2" stroke="#555" stroke-width="0.3"/>
<text class="c" x="386.3" y="441.9" font-size="4.6" text-anchor="end" fill="#4a4a4a" textLength="9.2" lengthAdjust="spacingAndGlyphs">SAT58</text>
<line x1="386.9" y1="446.1" x2="388.2" y2="446.1" stroke="#555" stroke-width="0.3"/>
<text class="c" x="386.3" y="447.7" font-size="4.6" text-anchor="end" fill="#4a4a4a" textLength="9.2" lengthAdjust="spacingAndGlyphs">SAT57</text>
<line x1="386.9" y1="451.9" x2="388.2" y2="451.9" stroke="#555" stroke-width="0.3"/>
<text class="c" x="386.3" y="453.6" font-size="4.6" text-anchor="end" fill="#4a4a4a" textLength="9.2" lengthAdjust="spacingAndGlyphs">SAT56</text>
<line x1="386.9" y1="457.8" x2="388.2" y2="457.8" stroke="#555" stroke-width="0.3"/>
<text class="c" x="386.3" y="459.5" font-size="4.6" text-anchor="end" fill="#4a4a4a" textLength="9.2" lengthAdjust="spacingAndGlyphs">SAT55</text>
<line x1="386.9" y1="463.7" x2="388.2" y2="463.7" stroke="#555" stroke-width="0.3"/>
<text class="c" x="386.3" y="465.3" font-size="4.6" text-anchor="end" fill="#4a4a4a" textLength="9.2" lengthAdjust="spacingAndGlyphs">SAT54</text>
<line x1="386.9" y1="469.5" x2="388.2" y2="469.5" stroke="#555" stroke-width="0.3"/>
<text class="c" x="386.3" y="471.2" font-size="4.6" text-anchor="end" fill="#4a4a4a" textLength="9.2" lengthAdjust="spacingAndGlyphs">SAT53</text>
<line x1="386.9" y1="475.4" x2="388.2" y2="475.4" stroke="#555" stroke-width="0.3"/>
<text class="c" x="386.3" y="477.1" font-size="4.6" text-anchor="end" fill="#4a4a4a" textLength="9.2" lengthAdjust="spacingAndGlyphs">SAT52</text>
<line x1="386.9" y1="481.3" x2="388.2" y2="481.3" stroke="#555" stroke-width="0.3"/>
<text class="c" x="386.3" y="482.9" font-size="4.6" text-anchor="end" fill="#4a4a4a" textLength="9.2" lengthAdjust="spacingAndGlyphs">SAT51</text>
<line x1="386.9" y1="487.1" x2="388.2" y2="487.1" stroke="#555" stroke-width="0.3"/>
<text class="c" x="386.3" y="488.8" font-size="4.6" text-anchor="end" fill="#4a4a4a" textLength="9.2" lengthAdjust="spacingAndGlyphs">SAT50</text>
<line x1="386.9" y1="493.0" x2="388.2" y2="493.0" stroke="#555" stroke-width="0.3"/>
<text class="c" x="386.3" y="494.7" font-size="4.6" text-anchor="end" fill="#4a4a4a" textLength="7.4" lengthAdjust="spacingAndGlyphs">SAT5</text>
<line x1="386.9" y1="498.9" x2="388.2" y2="498.9" stroke="#555" stroke-width="0.3"/>
<text class="c" x="386.3" y="500.5" font-size="4.6" text-anchor="end" fill="#4a4a4a" textLength="9.2" lengthAdjust="spacingAndGlyphs">SAT49</text>
<line x1="386.9" y1="504.7" x2="388.2" y2="504.7" stroke="#555" stroke-width="0.3"/>
<text class="c" x="386.3" y="506.4" font-size="4.6" text-anchor="end" fill="#4a4a4a" textLength="9.2" lengthAdjust="spacingAndGlyphs">SAT48</text>
<line x1="386.9" y1="510.6" x2="388.2" y2="510.6" stroke="#555" stroke-width="0.3"/>
<text class="c" x="386.3" y="512.3" font-size="4.6" text-anchor="end" fill="#4a4a4a" textLength="9.2" lengthAdjust="spacingAndGlyphs">SAT47</text>
<line x1="386.9" y1="516.5" x2="388.2" y2="516.5" stroke="#555" stroke-width="0.3"/>
<text class="c" x="386.3" y="518.1" font-size="4.6" text-anchor="end" fill="#4a4a4a" textLength="9.2" lengthAdjust="spacingAndGlyphs">SAT46</text>
<line x1="386.9" y1="522.3" x2="388.2" y2="522.3" stroke="#555" stroke-width="0.3"/>
<text class="c" x="386.3" y="524.0" font-size="4.6" text-anchor="end" fill="#4a4a4a" textLength="9.2" lengthAdjust="spacingAndGlyphs">SAT45</text>
<line x1="386.9" y1="528.2" x2="388.2" y2="528.2" stroke="#555" stroke-width="0.3"/>
<text class="c" x="386.3" y="529.9" font-size="4.6" text-anchor="end" fill="#4a4a4a" textLength="9.2" lengthAdjust="spacingAndGlyphs">SAT44</text>
<line x1="386.9" y1="534.1" x2="388.2" y2="534.1" stroke="#555" stroke-width="0.3"/>
<text class="c" x="386.3" y="535.7" font-size="4.6" text-anchor="end" fill="#4a4a4a" textLength="9.2" lengthAdjust="spacingAndGlyphs">SAT43</text>
<line x1="386.9" y1="539.9" x2="388.2" y2="539.9" stroke="#555" stroke-width="0.3"/>
<text class="c" x="386.3" y="541.6" font-size="4.6" text-anchor="end" fill="#4a4a4a" textLength="9.2" lengthAdjust="spacingAndGlyphs">SAT42</text>
<line x1="386.9" y1="545.8" x2="388.2" y2="545.8" stroke="#555" stroke-width="0.3"/>
<text class="c" x="386.3" y="547.5" font-size="4.6" text-anchor="end" fill="#4a4a4a" textLength="9.2" lengthAdjust="spacingAndGlyphs">SAT41</text>
<line x1="386.9" y1="551.7" x2="388.2" y2="551.7" stroke="#555" stroke-width="0.3"/>
<text class="c" x="386.3" y="553.3" font-size="4.6" text-anchor="end" fill="#4a4a4a" textLength="9.2" lengthAdjust="spacingAndGlyphs">SAT40</text>
<line x1="386.9" y1="557.5" x2="388.2" y2="557.5" stroke="#555" stroke-width="0.3"/>
<text class="c" x="386.3" y="559.2" font-size="4.6" text-anchor="end" fill="#4a4a4a" textLength="7.4" lengthAdjust="spacingAndGlyphs">SAT4</text>
<line x1="386.9" y1="563.4" x2="388.2" y2="563.4" stroke="#555" stroke-width="0.3"/>
<text class="c" x="386.3" y="565.1" font-size="4.6" text-anchor="end" fill="#4a4a4a" textLength="9.2" lengthAdjust="spacingAndGlyphs">SAT39</text>
<line x1="386.9" y1="569.3" x2="388.2" y2="569.3" stroke="#555" stroke-width="0.3"/>
<text class="c" x="386.3" y="570.9" font-size="4.6" text-anchor="end" fill="#4a4a4a" textLength="9.2" lengthAdjust="spacingAndGlyphs">SAT38</text>
<line x1="386.9" y1="575.2" x2="388.2" y2="575.2" stroke="#555" stroke-width="0.3"/>
<text class="c" x="386.3" y="576.8" font-size="4.6" text-anchor="end" fill="#4a4a4a" textLength="9.2" lengthAdjust="spacingAndGlyphs">SAT37</text>
<line x1="386.9" y1="581.0" x2="388.2" y2="581.0" stroke="#555" stroke-width="0.3"/>
<text class="c" x="386.3" y="582.7" font-size="4.6" text-anchor="end" fill="#4a4a4a" textLength="9.2" lengthAdjust="spacingAndGlyphs">SAT36</text>
<line x1="386.9" y1="586.9" x2="388.2" y2="586.9" stroke="#555" stroke-width="0.3"/>
<text class="c" x="386.3" y="588.5" font-size="4.6" text-anchor="end" fill="#4a4a4a" textLength="9.2" lengthAdjust="spacingAndGlyphs">SAT35</text>
<line x1="386.9" y1="592.8" x2="388.2" y2="592.8" stroke="#555" stroke-width="0.3"/>
<text class="c" x="386.3" y="594.4" font-size="4.6" text-anchor="end" fill="#4a4a4a" textLength="9.2" lengthAdjust="spacingAndGlyphs">SAT34</text>
<line x1="386.9" y1="598.6" x2="388.2" y2="598.6" stroke="#555" stroke-width="0.3"/>
<text class="c" x="386.3" y="600.3" font-size="4.6" text-anchor="end" fill="#4a4a4a" textLength="9.2" lengthAdjust="spacingAndGlyphs">SAT33</text>
<line x1="386.9" y1="604.5" x2="388.2" y2="604.5" stroke="#555" stroke-width="0.3"/>
<text class="c" x="386.3" y="606.1" font-size="4.6" text-anchor="end" fill="#4a4a4a" textLength="9.2" lengthAdjust="spacingAndGlyphs">SAT32</text>
<line x1="386.9" y1="610.4" x2="388.2" y2="610.4" stroke="#555" stroke-width="0.3"/>
<text class="c" x="386.3" y="612.0" font-size="4.6" text-anchor="end" fill="#4a4a4a" textLength="9.2" lengthAdjust="spacingAndGlyphs">SAT31</text>
<line x1="386.9" y1="616.2" x2="388.2" y2="616.2" stroke="#555" stroke-width="0.3"/>
<text class="c" x="386.3" y="617.9" font-size="4.6" text-anchor="end" fill="#4a4a4a" textLength="9.2" lengthAdjust="spacingAndGlyphs">SAT30</text>
<line x1="386.9" y1="622.1" x2="388.2" y2="622.1" stroke="#555" stroke-width="0.3"/>
<text class="c" x="386.3" y="623.7" font-size="4.6" text-anchor="end" fill="#4a4a4a" textLength="9.2" lengthAdjust="spacingAndGlyphs">SAT28</text>
<line x1="386.9" y1="628.0" x2="388.2" y2="628.0" stroke="#555" stroke-width="0.3"/>
<text class="c" x="386.3" y="629.6" font-size="4.6" text-anchor="end" fill="#4a4a4a" textLength="9.2" lengthAdjust="spacingAndGlyphs">SAT27</text>
<line x1="386.9" y1="633.8" x2="388.2" y2="633.8" stroke="#555" stroke-width="0.3"/>
<text class="c" x="386.3" y="635.5" font-size="4.6" text-anchor="end" fill="#4a4a4a" textLength="9.2" lengthAdjust="spacingAndGlyphs">SAT26</text>
<line x1="386.9" y1="639.7" x2="388.2" y2="639.7" stroke="#555" stroke-width="0.3"/>
<text class="c" x="386.3" y="641.3" font-size="4.6" text-anchor="end" fill="#4a4a4a" textLength="9.2" lengthAdjust="spacingAndGlyphs">SAT25</text>
<line x1="386.9" y1="645.6" x2="388.2" y2="645.6" stroke="#555" stroke-width="0.3"/>
<text class="c" x="386.3" y="647.2" font-size="4.6" text-anchor="end" fill="#4a4a4a" textLength="9.2" lengthAdjust="spacingAndGlyphs">SAT24</text>
<line x1="386.9" y1="651.4" x2="388.2" y2="651.4" stroke="#555" stroke-width="0.3"/>
<text class="c" x="386.3" y="653.1" font-size="4.6" text-anchor="end" fill="#4a4a4a" textLength="9.2" lengthAdjust="spacingAndGlyphs">SAT23</text>
<line x1="386.9" y1="657.3" x2="388.2" y2="657.3" stroke="#555" stroke-width="0.3"/>
<text class="c" x="386.3" y="658.9" font-size="4.6" text-anchor="end" fill="#4a4a4a" textLength="9.2" lengthAdjust="spacingAndGlyphs">SAT22</text>
<line x1="386.9" y1="663.2" x2="388.2" y2="663.2" stroke="#555" stroke-width="0.3"/>
<text class="c" x="386.3" y="664.8" font-size="4.6" text-anchor="end" fill="#4a4a4a" textLength="9.2" lengthAdjust="spacingAndGlyphs">SAT21</text>
<line x1="386.9" y1="669.0" x2="388.2" y2="669.0" stroke="#555" stroke-width="0.3"/>
<text class="c" x="386.3" y="670.7" font-size="4.6" text-anchor="end" fill="#4a4a4a" textLength="9.2" lengthAdjust="spacingAndGlyphs">SAT20</text>
<line x1="386.9" y1="674.9" x2="388.2" y2="674.9" stroke="#555" stroke-width="0.3"/>
<text class="c" x="386.3" y="676.5" font-size="4.6" text-anchor="end" fill="#4a4a4a" textLength="7.4" lengthAdjust="spacingAndGlyphs">SAT2</text>
<line x1="386.9" y1="680.8" x2="388.2" y2="680.8" stroke="#555" stroke-width="0.3"/>
<text class="c" x="386.3" y="682.4" font-size="4.6" text-anchor="end" fill="#4a4a4a" textLength="9.2" lengthAdjust="spacingAndGlyphs">SAT19</text>
<line x1="386.9" y1="686.6" x2="388.2" y2="686.6" stroke="#555" stroke-width="0.3"/>
<text class="c" x="386.3" y="688.3" font-size="4.6" text-anchor="end" fill="#4a4a4a" textLength="9.2" lengthAdjust="spacingAndGlyphs">SAT18</text>
<line x1="386.9" y1="692.5" x2="388.2" y2="692.5" stroke="#555" stroke-width="0.3"/>
<text class="c" x="386.3" y="694.1" font-size="4.6" text-anchor="end" fill="#4a4a4a" textLength="9.2" lengthAdjust="spacingAndGlyphs">SAT17</text>
<line x1="386.9" y1="698.4" x2="388.2" y2="698.4" stroke="#555" stroke-width="0.3"/>
<text class="c" x="386.3" y="700.0" font-size="4.6" text-anchor="end" fill="#4a4a4a" textLength="9.2" lengthAdjust="spacingAndGlyphs">SAT16</text>
<line x1="386.9" y1="704.2" x2="388.2" y2="704.2" stroke="#555" stroke-width="0.3"/>
<text class="c" x="386.3" y="705.9" font-size="4.6" text-anchor="end" fill="#4a4a4a" textLength="9.2" lengthAdjust="spacingAndGlyphs">SAT15</text>
<line x1="386.9" y1="710.1" x2="388.2" y2="710.1" stroke="#555" stroke-width="0.3"/>
<text class="c" x="386.3" y="711.7" font-size="4.6" text-anchor="end" fill="#4a4a4a" textLength="9.2" lengthAdjust="spacingAndGlyphs">SAT14</text>
<line x1="386.9" y1="716.0" x2="388.2" y2="716.0" stroke="#555" stroke-width="0.3"/>
<text class="c" x="386.3" y="717.6" font-size="4.6" text-anchor="end" fill="#4a4a4a" textLength="9.2" lengthAdjust="spacingAndGlyphs">SAT13</text>
<line x1="386.9" y1="721.8" x2="388.2" y2="721.8" stroke="#555" stroke-width="0.3"/>
<text class="c" x="386.3" y="723.5" font-size="4.6" text-anchor="end" fill="#4a4a4a" textLength="9.2" lengthAdjust="spacingAndGlyphs">SAT12</text>
<line x1="386.9" y1="727.7" x2="388.2" y2="727.7" stroke="#555" stroke-width="0.3"/>
<text class="c" x="386.3" y="729.3" font-size="4.6" text-anchor="end" fill="#4a4a4a" textLength="9.2" lengthAdjust="spacingAndGlyphs">SAT11</text>
<line x1="386.9" y1="733.6" x2="388.2" y2="733.6" stroke="#555" stroke-width="0.3"/>
<text class="c" x="386.3" y="735.2" font-size="4.6" text-anchor="end" fill="#4a4a4a" textLength="9.2" lengthAdjust="spacingAndGlyphs">SAT10</text>
<line x1="386.9" y1="739.4" x2="388.2" y2="739.4" stroke="#555" stroke-width="0.3"/>
<text class="c" x="386.3" y="741.1" font-size="4.6" text-anchor="end" fill="#4a4a4a" textLength="7.4" lengthAdjust="spacingAndGlyphs">SAT8</text>
<line x1="386.9" y1="745.3" x2="388.2" y2="745.3" stroke="#555" stroke-width="0.3"/>
<text class="c" x="386.3" y="746.9" font-size="4.6" text-anchor="end" fill="#4a4a4a" textLength="9.2" lengthAdjust="spacingAndGlyphs">SAT80</text>
<line x1="386.9" y1="751.2" x2="388.2" y2="751.2" stroke="#555" stroke-width="0.3"/>
<text class="c" x="386.3" y="752.8" font-size="4.6" text-anchor="end" fill="#4a4a4a" textLength="7.4" lengthAdjust="spacingAndGlyphs">SAT1</text>
<line x1="399.0" y1="754.4" x2="399.0" y2="755.6" stroke="#555" stroke-width="0.3"/>
<text class="c" x="399.0" y="759.2" font-size="3.4" text-anchor="middle" fill="#444">0.00</text>
<line x1="453.1" y1="754.4" x2="453.1" y2="755.6" stroke="#555" stroke-width="0.3"/>
<text class="c" x="453.1" y="759.2" font-size="3.4" text-anchor="middle" fill="#444">0.25</text>
<line x1="507.2" y1="754.4" x2="507.2" y2="755.6" stroke="#555" stroke-width="0.3"/>
<text class="c" x="507.2" y="759.2" font-size="3.4" text-anchor="middle" fill="#444">0.50</text>
<line x1="561.4" y1="754.4" x2="561.4" y2="755.6" stroke="#555" stroke-width="0.3"/>
<text class="c" x="561.4" y="759.2" font-size="3.4" text-anchor="middle" fill="#444">0.75</text>
<line x1="615.5" y1="754.4" x2="615.5" y2="755.6" stroke="#555" stroke-width="0.3"/>
<text class="c" x="615.5" y="759.2" font-size="3.4" text-anchor="middle" fill="#444">1.00</text>
<text class="s" x="507.0" y="765.5" font-size="4.2" text-anchor="middle" fill="#222" textLength="10.0" lengthAdjust="spacingAndGlyphs">Ratio</text>
<text class="s" font-size="5" text-anchor="middle" fill="#222" textLength="18.8" lengthAdjust="spacingAndGlyphs" transform="translate(376.0 507.4) rotate(-90)">Sample</text>
<text class="c" x="632.3" y="460.9" font-size="3.8" fill="#222">Var1</text>
<rect x="632.30" y="464.00" width="5.30" height="7.80" fill="#CC6677" stroke="#333" stroke-width="0.4"/>
<text class="c" x="639.7" y="469.2" font-size="3.5" fill="#333">Adipocyte</text>
<rect x="632.30" y="471.80" width="5.30" height="7.80" fill="#E78AC3" stroke="#333" stroke-width="0.4"/>
<text class="c" x="639.7" y="477.0" font-size="3.5" fill="#333">Adipocyte progenitor cells</text>
<rect x="632.30" y="479.60" width="5.30" height="7.80" fill="#FFCFDC" stroke="#333" stroke-width="0.4"/>
<text class="c" x="639.7" y="484.8" font-size="3.5" fill="#333">B cells</text>
<rect x="632.30" y="487.40" width="5.30" height="7.80" fill="#FDB462" stroke="#333" stroke-width="0.4"/>
<text class="c" x="639.7" y="492.6" font-size="3.5" fill="#333">Endothelial cells</text>
<rect x="632.30" y="495.20" width="5.30" height="7.80" fill="#FDD49E" stroke="#333" stroke-width="0.4"/>
<text class="c" x="639.7" y="500.4" font-size="3.5" fill="#333">Fibroblast</text>
<rect x="632.30" y="503.00" width="5.30" height="7.80" fill="#FFFF66" stroke="#333" stroke-width="0.4"/>
<text class="c" x="639.7" y="508.2" font-size="3.5" fill="#333">M1 Macrophages</text>
<rect x="632.30" y="510.80" width="5.30" height="7.80" fill="#D5E2B6" stroke="#333" stroke-width="0.4"/>
<text class="c" x="639.7" y="516.0" font-size="3.5" fill="#333">M2 Macrophages</text>
<rect x="632.30" y="518.60" width="5.30" height="7.80" fill="#B2DF8A" stroke="#333" stroke-width="0.4"/>
<text class="c" x="639.7" y="523.8" font-size="3.5" fill="#333">Mast cells</text>
<rect x="632.30" y="526.40" width="5.30" height="7.80" fill="#009944" stroke="#333" stroke-width="0.4"/>
<text class="c" x="639.7" y="531.6" font-size="3.5" fill="#333">Monocyte</text>
<rect x="632.30" y="534.20" width="5.30" height="7.80" fill="#7BAFD4" stroke="#333" stroke-width="0.4"/>
<text class="c" x="639.7" y="539.4" font-size="3.5" fill="#333">NK cells</text>
<rect x="632.30" y="542.00" width="5.30" height="7.80" fill="#D8B8FF" stroke="#333" stroke-width="0.4"/>
<text class="c" x="639.7" y="547.2" font-size="3.5" fill="#333">Th cells</text>
<rect x="632.30" y="549.80" width="5.30" height="7.80" fill="#984EA3" stroke="#333" stroke-width="0.4"/>
<text class="c" x="639.7" y="555.0" font-size="3.5" fill="#333">Vascular smooth muscle</text>
</g>
<g id="panelE">
<text class="r" x="2.0" y="525.6" font-size="14.7" textLength="21.4" lengthAdjust="spacingAndGlyphs">(<tspan font-weight="bold">E</tspan>)</text>
<g stroke-width="2.744" fill="none"><path stroke="#f4f9fe" d="M42.4 524.55h22.05M42.4 527.24h22.05M42.4 529.94h22.05M42.4 532.63h22.05M42.4 535.32h22.05M42.4 548.79h22.05M42.4 564.96h22.05M42.4 581.12h22.05M64.5 632.31h22.05M64.5 635.00h22.05M64.5 643.09h22.05M64.5 645.78h22.05M64.5 653.86h22.05M64.5 667.33h22.05M64.5 675.41h22.05M64.5 680.80h22.05M64.5 683.50h22.05M64.5 691.58h22.05M64.5 742.76h22.05M86.5 629.61h22.05M86.5 635.00h22.05M108.6 532.63h22.05M108.6 535.32h22.05M108.6 548.79h22.05M108.6 551.49h22.05M108.6 564.96h22.05M108.6 567.65h22.05M108.6 573.04h22.05M108.6 575.73h22.05M108.6 586.51h22.05M108.6 591.90h22.05M108.6 602.67h22.05M108.6 613.45h22.05M108.6 616.14h22.05M108.6 621.53h22.05M108.6 624.23h22.05M108.6 734.68h22.05M108.6 737.38h22.05M108.6 740.07h22.05M108.6 742.76h22.05M108.6 748.15h22.05M130.6 524.55h22.05M130.6 527.24h22.05M130.6 529.94h22.05M130.6 532.63h22.05M130.6 538.02h22.05M130.6 543.41h22.05M130.6 559.57h22.05M130.6 562.26h22.05M130.6 564.96h22.05M130.6 581.12h22.05M130.6 583.82h22.05M152.7 524.55h22.05M152.7 527.24h22.05M152.7 535.32h22.05M152.7 538.02h22.05M152.7 551.49h22.05M152.7 578.43h22.05M152.7 581.12h22.05M152.7 586.51h22.05M152.7 589.20h22.05M152.7 591.90h22.05M152.7 597.29h22.05M152.7 602.67h22.05M152.7 605.37h22.05M152.7 610.76h22.05M152.7 613.45h22.05M152.7 616.14h22.05M152.7 621.53h22.05M152.7 629.61h22.05M152.7 632.31h22.05M152.7 640.39h22.05M152.7 645.78h22.05M152.7 664.64h22.05M152.7 667.33h22.05M152.7 670.03h22.05M152.7 683.50h22.05M152.7 688.88h22.05M152.7 694.27h22.05M152.7 699.66h22.05M152.7 705.05h22.05M152.7 707.74h22.05M152.7 710.44h22.05M152.7 723.91h22.05M174.7 648.47h22.05M174.7 672.72h22.05M174.7 694.27h22.05M174.7 699.66h22.05M174.7 710.44h22.05M174.7 713.13h22.05M174.7 715.82h22.05M174.7 721.21h22.05M174.7 731.99h22.05M174.7 740.07h22.05M196.8 529.94h22.05M196.8 540.71h22.05M196.8 583.82h22.05M196.8 597.29h22.05M196.8 610.76h22.05M196.8 626.92h22.05M196.8 632.31h22.05M196.8 653.86h22.05M196.8 656.56h22.05M196.8 678.11h22.05M196.8 680.80h22.05M196.8 686.19h22.05M196.8 691.58h22.05M196.8 694.27h22.05M196.8 705.05h22.05M196.8 715.82h22.05M196.8 726.60h22.05M196.8 729.29h22.05M196.8 734.68h22.05M196.8 737.38h22.05M196.8 740.07h22.05M196.8 745.46h22.05M218.8 529.94h22.05M218.8 540.71h22.05M218.8 543.41h22.05M218.8 546.10h22.05M218.8 556.88h22.05M218.8 564.96h22.05M218.8 567.65h22.05M218.8 575.73h22.05M218.8 578.43h22.05M218.8 581.12h22.05M218.8 583.82h22.05M218.8 589.20h22.05M218.8 591.90h22.05M218.8 605.37h22.05M218.8 610.76h22.05M218.8 618.84h22.05M218.8 629.61h22.05M218.8 632.31h22.05M218.8 640.39h22.05M218.8 645.78h22.05M218.8 651.17h22.05M218.8 653.86h22.05M218.8 656.56h22.05M218.8 678.11h22.05M218.8 683.50h22.05M218.8 694.27h22.05M218.8 696.97h22.05M218.8 699.66h22.05M218.8 702.35h22.05M218.8 705.05h22.05M218.8 710.44h22.05M218.8 718.52h22.05M218.8 721.21h22.05M218.8 723.91h22.05M218.8 734.68h22.05M218.8 748.15h22.05M240.9 532.63h22.05M240.9 540.71h22.05M240.9 556.88h22.05M240.9 559.57h22.05M240.9 578.43h22.05M240.9 581.12h22.05M240.9 583.82h22.05M240.9 589.20h22.05M240.9 594.59h22.05M240.9 597.29h22.05M240.9 602.67h22.05M240.9 610.76h22.05M240.9 618.84h22.05M240.9 624.23h22.05M240.9 635.00h22.05M240.9 637.70h22.05M240.9 659.25h22.05M240.9 661.94h22.05M240.9 664.64h22.05M240.9 667.33h22.05M240.9 688.88h22.05M240.9 696.97h22.05M240.9 699.66h22.05M240.9 707.74h22.05M240.9 729.29h22.05M240.9 734.68h22.05M240.9 737.38h22.05M240.9 740.07h22.05M262.9 543.41h22.05M262.9 562.26h22.05M262.9 564.96h22.05M262.9 573.04h22.05M262.9 575.73h22.05M262.9 581.12h22.05M262.9 597.29h22.05M262.9 599.98h22.05M262.9 608.06h22.05M262.9 610.76h22.05M262.9 629.61h22.05M262.9 643.09h22.05M262.9 648.47h22.05M262.9 661.94h22.05M262.9 664.64h22.05M262.9 667.33h22.05M262.9 688.88h22.05M262.9 702.35h22.05M262.9 705.05h22.05M262.9 713.13h22.05M262.9 721.21h22.05M262.9 729.29h22.05M262.9 731.99h22.05M262.9 748.15h22.05M284.9 540.71h22.05M284.9 546.10h22.05M284.9 554.18h22.05M284.9 575.73h22.05M284.9 581.12h22.05M284.9 586.51h22.05M284.9 599.98h22.05M284.9 608.06h22.05M284.9 610.76h22.05M284.9 616.14h22.05M284.9 629.61h22.05M284.9 645.78h22.05M284.9 653.86h22.05M284.9 656.56h22.05M284.9 659.25h22.05M284.9 667.33h22.05M284.9 686.19h22.05M284.9 702.35h22.05M284.9 710.44h22.05M284.9 713.13h22.05M284.9 718.52h22.05M284.9 721.21h22.05M284.9 734.68h22.05M284.9 740.07h22.05M284.9 748.15h22.05"/><path stroke="#f7fbff" d="M42.4 538.02h22.05M42.4 540.71h22.05M64.5 629.61h22.05M64.5 637.70h22.05M64.5 640.39h22.05M64.5 648.47h22.05M64.5 651.17h22.05M64.5 656.56h22.05M64.5 659.25h22.05M64.5 661.94h22.05M64.5 664.64h22.05M64.5 670.03h22.05M64.5 672.72h22.05M64.5 678.11h22.05M64.5 686.19h22.05M64.5 688.88h22.05M64.5 694.27h22.05M64.5 696.97h22.05M86.5 637.70h22.05M86.5 737.38h22.05M108.6 524.55h22.05M108.6 527.24h22.05M108.6 529.94h22.05M108.6 538.02h22.05M108.6 540.71h22.05M108.6 543.41h22.05M108.6 546.10h22.05M108.6 554.18h22.05M108.6 556.88h22.05M108.6 559.57h22.05M108.6 562.26h22.05M108.6 570.35h22.05M108.6 578.43h22.05M108.6 583.82h22.05M108.6 589.20h22.05M108.6 594.59h22.05M108.6 597.29h22.05M108.6 599.98h22.05M108.6 605.37h22.05M108.6 608.06h22.05M108.6 610.76h22.05M108.6 618.84h22.05M108.6 626.92h22.05M130.6 535.32h22.05M130.6 570.35h22.05M130.6 573.04h22.05M130.6 740.07h22.05M152.7 529.94h22.05M152.7 532.63h22.05M152.7 540.71h22.05M152.7 554.18h22.05M152.7 562.26h22.05M152.7 570.35h22.05M152.7 583.82h22.05M152.7 624.23h22.05M174.7 635.00h22.05M174.7 651.17h22.05M174.7 667.33h22.05M174.7 702.35h22.05M174.7 707.74h22.05M196.8 524.55h22.05M196.8 527.24h22.05M196.8 532.63h22.05M196.8 535.32h22.05M196.8 538.02h22.05M196.8 548.79h22.05M196.8 551.49h22.05M196.8 554.18h22.05M196.8 556.88h22.05M196.8 559.57h22.05M196.8 562.26h22.05M196.8 564.96h22.05M196.8 567.65h22.05M196.8 570.35h22.05M196.8 573.04h22.05M196.8 575.73h22.05M196.8 578.43h22.05M196.8 581.12h22.05M196.8 586.51h22.05M196.8 589.20h22.05M196.8 591.90h22.05M196.8 594.59h22.05M196.8 599.98h22.05M196.8 602.67h22.05M196.8 605.37h22.05M196.8 608.06h22.05M196.8 613.45h22.05M196.8 616.14h22.05M196.8 624.23h22.05M196.8 629.61h22.05M196.8 661.94h22.05M196.8 664.64h22.05M196.8 667.33h22.05M196.8 670.03h22.05M196.8 672.72h22.05M196.8 675.41h22.05M196.8 683.50h22.05M196.8 688.88h22.05M196.8 699.66h22.05M196.8 702.35h22.05M196.8 710.44h22.05M196.8 713.13h22.05M196.8 718.52h22.05M196.8 721.21h22.05M196.8 723.91h22.05M196.8 731.99h22.05M196.8 748.15h22.05M218.8 524.55h22.05M218.8 527.24h22.05M218.8 532.63h22.05M218.8 535.32h22.05M218.8 538.02h22.05M218.8 548.79h22.05M218.8 551.49h22.05M218.8 554.18h22.05M218.8 559.57h22.05M218.8 562.26h22.05M218.8 570.35h22.05M218.8 573.04h22.05M218.8 586.51h22.05M218.8 594.59h22.05M218.8 597.29h22.05M218.8 599.98h22.05M218.8 602.67h22.05M218.8 608.06h22.05M218.8 613.45h22.05M218.8 616.14h22.05M218.8 621.53h22.05M218.8 624.23h22.05M218.8 626.92h22.05M218.8 635.00h22.05M218.8 637.70h22.05M218.8 643.09h22.05M218.8 648.47h22.05M218.8 659.25h22.05M218.8 661.94h22.05M218.8 664.64h22.05M218.8 667.33h22.05M218.8 675.41h22.05M218.8 680.80h22.05M218.8 686.19h22.05M218.8 688.88h22.05M218.8 691.58h22.05M218.8 707.74h22.05M218.8 715.82h22.05M218.8 726.60h22.05M218.8 729.29h22.05M218.8 731.99h22.05M218.8 737.38h22.05M218.8 742.76h22.05M240.9 535.32h22.05M240.9 543.41h22.05M240.9 546.10h22.05M240.9 548.79h22.05M240.9 551.49h22.05M240.9 554.18h22.05M240.9 575.73h22.05M240.9 591.90h22.05M240.9 599.98h22.05M240.9 608.06h22.05M240.9 613.45h22.05M240.9 621.53h22.05M240.9 626.92h22.05M240.9 629.61h22.05M240.9 632.31h22.05M240.9 640.39h22.05M240.9 643.09h22.05M240.9 645.78h22.05M240.9 648.47h22.05M240.9 651.17h22.05M240.9 653.86h22.05M240.9 670.03h22.05M240.9 672.72h22.05M240.9 675.41h22.05M240.9 678.11h22.05M240.9 680.80h22.05M240.9 683.50h22.05M240.9 686.19h22.05M240.9 691.58h22.05M240.9 694.27h22.05M240.9 702.35h22.05M240.9 705.05h22.05M240.9 710.44h22.05M240.9 713.13h22.05M240.9 715.82h22.05M240.9 718.52h22.05M240.9 721.21h22.05M240.9 723.91h22.05M240.9 726.60h22.05M240.9 731.99h22.05M240.9 742.76h22.05M240.9 745.46h22.05M240.9 748.15h22.05M262.9 524.55h22.05M262.9 527.24h22.05M262.9 529.94h22.05M262.9 532.63h22.05M262.9 535.32h22.05M262.9 538.02h22.05M262.9 540.71h22.05M262.9 546.10h22.05M262.9 548.79h22.05M262.9 551.49h22.05M262.9 554.18h22.05M262.9 556.88h22.05M262.9 559.57h22.05M262.9 567.65h22.05M262.9 570.35h22.05M262.9 578.43h22.05M262.9 583.82h22.05M262.9 586.51h22.05M262.9 589.20h22.05M262.9 591.90h22.05M262.9 594.59h22.05M262.9 602.67h22.05M262.9 605.37h22.05M262.9 613.45h22.05M262.9 616.14h22.05M262.9 618.84h22.05M262.9 621.53h22.05M262.9 624.23h22.05M262.9 626.92h22.05M262.9 632.31h22.05M262.9 635.00h22.05M262.9 637.70h22.05M262.9 640.39h22.05M262.9 645.78h22.05M262.9 651.17h22.05M262.9 653.86h22.05M262.9 656.56h22.05M262.9 659.25h22.05M262.9 670.03h22.05M262.9 672.72h22.05M262.9 675.41h22.05M262.9 678.11h22.05M262.9 680.80h22.05M262.9 683.50h22.05M262.9 686.19h22.05M262.9 691.58h22.05M262.9 694.27h22.05M262.9 696.97h22.05M262.9 699.66h22.05M262.9 707.74h22.05M262.9 710.44h22.05M262.9 715.82h22.05M262.9 718.52h22.05M262.9 723.91h22.05M262.9 726.60h22.05M262.9 734.68h22.05M262.9 737.38h22.05M262.9 740.07h22.05M262.9 742.76h22.05M262.9 745.46h22.05M284.9 524.55h22.05M284.9 527.24h22.05M284.9 529.94h22.05M284.9 532.63h22.05M284.9 535.32h22.05M284.9 538.02h22.05M284.9 543.41h22.05M284.9 548.79h22.05M284.9 551.49h22.05M284.9 556.88h22.05M284.9 559.57h22.05M284.9 562.26h22.05M284.9 564.96h22.05M284.9 567.65h22.05M284.9 570.35h22.05M284.9 573.04h22.05M284.9 578.43h22.05M284.9 583.82h22.05M284.9 589.20h22.05M284.9 591.90h22.05M284.9 594.59h22.05M284.9 597.29h22.05M284.9 602.67h22.05M284.9 605.37h22.05M284.9 613.45h22.05M284.9 618.84h22.05M284.9 621.53h22.05M284.9 624.23h22.05M284.9 626.92h22.05M284.9 637.70h22.05M284.9 640.39h22.05M284.9 643.09h22.05M284.9 648.47h22.05M284.9 651.17h22.05M284.9 661.94h22.05M284.9 664.64h22.05M284.9 670.03h22.05M284.9 672.72h22.05M284.9 675.41h22.05M284.9 678.11h22.05M284.9 680.80h22.05M284.9 683.50h22.05M284.9 688.88h22.05M284.9 691.58h22.05M284.9 696.97h22.05M284.9 699.66h22.05M284.9 705.05h22.05M284.9 707.74h22.05M284.9 715.82h22.05M284.9 723.91h22.05M284.9 726.60h22.05M284.9 729.29h22.05M284.9 731.99h22.05M284.9 737.38h22.05M284.9 742.76h22.05M284.9 745.46h22.05"/><path stroke="#f1f7fd" d="M42.4 543.41h22.05M42.4 554.18h22.05M42.4 567.65h22.05M42.4 570.35h22.05M42.4 573.04h22.05M42.4 575.73h22.05M42.4 578.43h22.05M42.4 583.82h22.05M42.4 586.51h22.05M64.5 745.46h22.05M64.5 748.15h22.05M86.5 632.31h22.05M108.6 637.70h22.05M108.6 731.99h22.05M108.6 745.46h22.05M130.6 540.71h22.05M130.6 546.10h22.05M130.6 551.49h22.05M130.6 554.18h22.05M130.6 556.88h22.05M130.6 567.65h22.05M130.6 575.73h22.05M130.6 578.43h22.05M130.6 586.51h22.05M152.7 546.10h22.05M152.7 564.96h22.05M152.7 567.65h22.05M152.7 573.04h22.05M152.7 599.98h22.05M152.7 635.00h22.05M152.7 651.17h22.05M152.7 661.94h22.05M152.7 672.72h22.05M152.7 675.41h22.05M152.7 680.80h22.05M152.7 702.35h22.05M152.7 715.82h22.05M152.7 737.38h22.05M174.7 632.31h22.05M174.7 637.70h22.05M174.7 661.94h22.05M174.7 664.64h22.05M174.7 670.03h22.05M174.7 675.41h22.05M174.7 678.11h22.05M174.7 686.19h22.05M174.7 688.88h22.05M174.7 691.58h22.05M174.7 696.97h22.05M174.7 742.76h22.05M174.7 745.46h22.05"/><path stroke="#d4e5f4" d="M42.4 546.10h22.05M42.4 562.26h22.05M42.4 635.00h22.05M42.4 637.70h22.05M42.4 653.86h22.05M42.4 659.25h22.05M42.4 734.68h22.05M42.4 737.38h22.05M42.4 745.46h22.05M64.5 613.45h22.05M64.5 699.66h22.05M64.5 702.35h22.05M64.5 723.91h22.05M64.5 726.60h22.05M86.5 653.86h22.05M86.5 659.25h22.05M86.5 661.94h22.05M86.5 715.82h22.05M86.5 718.52h22.05M86.5 721.21h22.05M108.6 691.58h22.05M130.6 653.86h22.05M130.6 656.56h22.05M130.6 659.25h22.05M130.6 710.44h22.05M130.6 715.82h22.05M130.6 723.91h22.05M130.6 729.29h22.05M130.6 731.99h22.05M130.6 734.68h22.05M130.6 745.46h22.05M130.6 748.15h22.05M152.7 548.79h22.05M152.7 648.47h22.05M152.7 678.11h22.05M152.7 718.52h22.05M152.7 726.60h22.05M174.7 527.24h22.05M174.7 529.94h22.05M174.7 535.32h22.05M174.7 540.71h22.05M174.7 564.96h22.05M174.7 567.65h22.05M174.7 570.35h22.05M174.7 573.04h22.05M174.7 586.51h22.05M174.7 589.20h22.05M174.7 599.98h22.05M174.7 602.67h22.05M174.7 605.37h22.05M174.7 640.39h22.05M174.7 645.78h22.05M174.7 680.80h22.05M174.7 683.50h22.05M174.7 718.52h22.05M240.9 567.65h22.05M240.9 573.04h22.05M284.9 635.00h22.05"/><path stroke="#eef5fc" d="M42.4 551.49h22.05M86.5 648.47h22.05M86.5 678.11h22.05M86.5 686.19h22.05M86.5 707.74h22.05M108.6 715.82h22.05M108.6 723.91h22.05M130.6 589.20h22.05M130.6 594.59h22.05M130.6 602.67h22.05M130.6 626.92h22.05M130.6 637.70h22.05M174.7 532.63h22.05"/><path stroke="#a6cde4" d="M42.4 556.88h22.05M42.4 591.90h22.05M64.5 594.59h22.05M86.5 591.90h22.05M86.5 616.14h22.05M86.5 621.53h22.05M86.5 626.92h22.05M108.6 664.64h22.05M108.6 675.41h22.05M130.6 661.94h22.05M130.6 664.64h22.05M130.6 688.88h22.05M130.6 691.58h22.05M130.6 718.52h22.05M152.7 740.07h22.05M152.7 742.76h22.05"/><path stroke="#eaf3fb" d="M42.4 559.57h22.05M42.4 648.47h22.05M42.4 651.17h22.05M64.5 710.44h22.05M64.5 715.82h22.05M86.5 543.41h22.05M86.5 551.49h22.05M86.5 554.18h22.05M86.5 556.88h22.05M86.5 559.57h22.05M86.5 664.64h22.05M86.5 670.03h22.05M86.5 675.41h22.05M86.5 680.80h22.05M86.5 710.44h22.05M86.5 713.13h22.05M108.6 718.52h22.05M108.6 726.60h22.05M108.6 729.29h22.05M130.6 591.90h22.05M130.6 597.29h22.05M130.6 599.98h22.05M130.6 605.37h22.05M130.6 610.76h22.05M130.6 613.45h22.05M130.6 616.14h22.05M130.6 621.53h22.05M130.6 624.23h22.05M130.6 632.31h22.05M130.6 635.00h22.05M152.7 575.73h22.05M174.7 548.79h22.05M174.7 591.90h22.05M174.7 618.84h22.05M174.7 621.53h22.05M174.7 624.23h22.05M174.7 626.92h22.05"/><path stroke="#9ecae1" d="M42.4 589.20h22.05M42.4 597.29h22.05M42.4 599.98h22.05M42.4 640.39h22.05M130.6 678.11h22.05M130.6 686.19h22.05M130.6 694.27h22.05M152.7 713.13h22.05M196.8 645.78h22.05"/><path stroke="#94c4df" d="M42.4 594.59h22.05M42.4 629.61h22.05M42.4 715.82h22.05M42.4 723.91h22.05M64.5 729.29h22.05M130.6 675.41h22.05M196.8 543.41h22.05M196.8 643.09h22.05M196.8 651.17h22.05"/><path stroke="#c6dbef" d="M42.4 602.67h22.05M42.4 608.06h22.05M42.4 624.23h22.05M42.4 626.92h22.05M86.5 702.35h22.05M130.6 680.80h22.05M130.6 696.97h22.05M152.7 556.88h22.05M152.7 559.57h22.05M152.7 637.70h22.05M152.7 686.19h22.05M174.7 578.43h22.05M174.7 581.12h22.05M174.7 608.06h22.05M174.7 613.45h22.05M174.7 653.86h22.05"/><path stroke="#cde0f1" d="M42.4 605.37h22.05M42.4 610.76h22.05M42.4 632.31h22.05M42.4 656.56h22.05M42.4 740.07h22.05M42.4 742.76h22.05M42.4 748.15h22.05M64.5 718.52h22.05M86.5 656.56h22.05M86.5 699.66h22.05M86.5 723.91h22.05M108.6 683.50h22.05M108.6 688.88h22.05M108.6 694.27h22.05M108.6 696.97h22.05M130.6 651.17h22.05M130.6 699.66h22.05M130.6 702.35h22.05M130.6 721.21h22.05M130.6 726.60h22.05M152.7 643.09h22.05M152.7 721.21h22.05M174.7 524.55h22.05M174.7 554.18h22.05M174.7 583.82h22.05M174.7 594.59h22.05M174.7 610.76h22.05M240.9 562.26h22.05M240.9 564.96h22.05M240.9 570.35h22.05"/><path stroke="#aed1e7" d="M42.4 613.45h22.05M42.4 618.84h22.05M42.4 621.53h22.05M42.4 643.09h22.05M42.4 670.03h22.05M42.4 729.29h22.05M64.5 591.90h22.05M64.5 597.29h22.05M64.5 599.98h22.05M64.5 605.37h22.05M64.5 608.06h22.05M64.5 616.14h22.05M64.5 621.53h22.05M64.5 624.23h22.05M64.5 626.92h22.05M64.5 707.74h22.05M86.5 589.20h22.05M86.5 594.59h22.05M86.5 597.29h22.05M86.5 599.98h22.05M86.5 602.67h22.05M86.5 610.76h22.05M86.5 613.45h22.05M86.5 624.23h22.05M86.5 651.17h22.05M130.6 667.33h22.05M130.6 670.03h22.05M130.6 672.72h22.05"/><path stroke="#bad6eb" d="M42.4 616.14h22.05M42.4 731.99h22.05M64.5 589.20h22.05M64.5 602.67h22.05M64.5 618.84h22.05M86.5 605.37h22.05M86.5 608.06h22.05M86.5 618.84h22.05M86.5 705.05h22.05M108.6 667.33h22.05M108.6 670.03h22.05M108.6 672.72h22.05M130.6 683.50h22.05M174.7 551.49h22.05M174.7 575.73h22.05M174.7 597.29h22.05M174.7 656.56h22.05"/><path stroke="#7ab6d9" d="M42.4 645.78h22.05"/><path stroke="#08306b" d="M42.4 661.94h22.05M42.4 664.64h22.05M42.4 667.33h22.05"/><path stroke="#73b2d8" d="M42.4 672.72h22.05M42.4 699.66h22.05M42.4 707.74h22.05M64.5 527.24h22.05M64.5 546.10h22.05M108.6 653.86h22.05M108.6 678.11h22.05"/><path stroke="#64a9d3" d="M42.4 675.41h22.05M42.4 678.11h22.05M42.4 705.05h22.05M42.4 710.44h22.05M42.4 721.21h22.05M42.4 726.60h22.05M64.5 548.79h22.05M64.5 556.88h22.05M64.5 578.43h22.05M86.5 540.71h22.05"/><path stroke="#3080bd" d="M42.4 680.80h22.05M86.5 586.51h22.05"/><path stroke="#3585bf" d="M42.4 683.50h22.05"/><path stroke="#5da4d0" d="M42.4 686.19h22.05M86.5 538.02h22.05M218.8 740.07h22.05"/><path stroke="#559fce" d="M42.4 688.88h22.05M64.5 543.41h22.05M86.5 564.96h22.05M86.5 567.65h22.05"/><path stroke="#4796c8" d="M42.4 691.58h22.05M42.4 702.35h22.05M86.5 535.32h22.05M86.5 570.35h22.05"/><path stroke="#2b7bba" d="M42.4 694.27h22.05M42.4 696.97h22.05M64.5 551.49h22.05M64.5 559.57h22.05M64.5 562.26h22.05"/><path stroke="#6baed6" d="M42.4 713.13h22.05M64.5 524.55h22.05M64.5 529.94h22.05M64.5 564.96h22.05M64.5 567.65h22.05M64.5 570.35h22.05M64.5 573.04h22.05M64.5 575.73h22.05M86.5 578.43h22.05M152.7 745.46h22.05M152.7 748.15h22.05"/><path stroke="#8abfdd" d="M42.4 718.52h22.05M174.7 659.25h22.05M196.8 546.10h22.05M196.8 640.39h22.05M196.8 648.47h22.05"/><path stroke="#2171b5" d="M64.5 532.63h22.05M64.5 535.32h22.05M64.5 538.02h22.05M86.5 524.55h22.05M86.5 527.24h22.05M108.6 629.61h22.05M108.6 632.31h22.05M174.7 734.68h22.05M174.7 737.38h22.05M196.8 637.70h22.05"/><path stroke="#4e9acb" d="M64.5 540.71h22.05M86.5 532.63h22.05"/><path stroke="#2676b8" d="M64.5 554.18h22.05M86.5 581.12h22.05M86.5 583.82h22.05"/><path stroke="#dfecf7" d="M64.5 581.12h22.05M64.5 583.82h22.05M64.5 586.51h22.05M64.5 731.99h22.05M64.5 740.07h22.05M86.5 548.79h22.05M86.5 640.39h22.05M86.5 645.78h22.05M86.5 748.15h22.05M108.6 581.12h22.05M108.6 645.78h22.05M108.6 648.47h22.05M108.6 651.17h22.05M108.6 656.56h22.05M108.6 699.66h22.05M108.6 710.44h22.05M108.6 713.13h22.05M130.6 640.39h22.05M130.6 643.09h22.05M152.7 543.41h22.05M152.7 594.59h22.05M152.7 618.84h22.05M152.7 626.92h22.05M152.7 696.97h22.05M174.7 543.41h22.05M174.7 723.91h22.05M174.7 726.60h22.05M174.7 729.29h22.05M174.7 748.15h22.05M196.8 621.53h22.05M196.8 635.00h22.05M196.8 659.25h22.05M196.8 742.76h22.05M218.8 713.13h22.05M240.9 524.55h22.05M240.9 527.24h22.05M240.9 529.94h22.05M240.9 538.02h22.05M240.9 586.51h22.05M240.9 616.14h22.05M284.9 632.31h22.05M284.9 694.27h22.05"/><path stroke="#dae8f6" d="M64.5 610.76h22.05M64.5 705.05h22.05M64.5 721.21h22.05M86.5 726.60h22.05M86.5 729.29h22.05M86.5 731.99h22.05M86.5 740.07h22.05M86.5 742.76h22.05M108.6 640.39h22.05M108.6 643.09h22.05M108.6 680.80h22.05M108.6 686.19h22.05M108.6 702.35h22.05M108.6 707.74h22.05M130.6 645.78h22.05M130.6 648.47h22.05M130.6 705.05h22.05M130.6 707.74h22.05M130.6 713.13h22.05M130.6 737.38h22.05M152.7 608.06h22.05M152.7 653.86h22.05M152.7 656.56h22.05M152.7 659.25h22.05M152.7 691.58h22.05M152.7 729.29h22.05M152.7 734.68h22.05M174.7 538.02h22.05M174.7 616.14h22.05M174.7 643.09h22.05M196.8 696.97h22.05M196.8 707.74h22.05M218.8 670.03h22.05M240.9 656.56h22.05"/><path stroke="#e5eff9" d="M64.5 713.13h22.05M64.5 734.68h22.05M64.5 737.38h22.05M86.5 546.10h22.05M86.5 562.26h22.05M86.5 643.09h22.05M86.5 667.33h22.05M86.5 672.72h22.05M86.5 683.50h22.05M86.5 688.88h22.05M86.5 691.58h22.05M86.5 694.27h22.05M86.5 696.97h22.05M86.5 734.68h22.05M86.5 745.46h22.05M108.6 659.25h22.05M108.6 661.94h22.05M108.6 705.05h22.05M108.6 721.21h22.05M130.6 548.79h22.05M130.6 608.06h22.05M130.6 618.84h22.05M130.6 629.61h22.05M152.7 731.99h22.05M174.7 546.10h22.05M174.7 556.88h22.05M174.7 559.57h22.05M174.7 562.26h22.05M174.7 629.61h22.05M174.7 705.05h22.05M196.8 618.84h22.05M218.8 672.72h22.05M218.8 745.46h22.05M240.9 605.37h22.05"/><path stroke="#0d57a1" d="M86.5 529.94h22.05M108.6 635.00h22.05"/><path stroke="#82bbdb" d="M86.5 573.04h22.05M86.5 575.73h22.05"/><path stroke="#3b8bc2" d="M130.6 742.76h22.05"/></g>
<path d="M42.4 523.20H307.0M42.4 525.89H307.0M42.4 528.59H307.0M42.4 531.28H307.0M42.4 533.98H307.0M42.4 536.67H307.0M42.4 539.36H307.0M42.4 542.06H307.0M42.4 544.75H307.0M42.4 547.45H307.0M42.4 550.14H307.0M42.4 552.83H307.0M42.4 555.53H307.0M42.4 558.22H307.0M42.4 560.92H307.0M42.4 563.61H307.0M42.4 566.30H307.0M42.4 569.00H307.0M42.4 571.69H307.0M42.4 574.39H307.0M42.4 577.08H307.0M42.4 579.78H307.0M42.4 582.47H307.0M42.4 585.16H307.0M42.4 587.86H307.0M42.4 590.55H307.0M42.4 593.25H307.0M42.4 595.94H307.0M42.4 598.63H307.0M42.4 601.33H307.0M42.4 604.02H307.0M42.4 606.72H307.0M42.4 609.41H307.0M42.4 612.10H307.0M42.4 614.80H307.0M42.4 617.49H307.0M42.4 620.19H307.0M42.4 622.88H307.0M42.4 625.57H307.0M42.4 628.27H307.0M42.4 630.96H307.0M42.4 633.66H307.0M42.4 636.35H307.0M42.4 639.04H307.0M42.4 641.74H307.0M42.4 644.43H307.0M42.4 647.13H307.0M42.4 649.82H307.0M42.4 652.51H307.0M42.4 655.21H307.0M42.4 657.90H307.0M42.4 660.60H307.0M42.4 663.29H307.0M42.4 665.98H307.0M42.4 668.68H307.0M42.4 671.37H307.0M42.4 674.07H307.0M42.4 676.76H307.0M42.4 679.45H307.0M42.4 682.15H307.0M42.4 684.84H307.0M42.4 687.54H307.0M42.4 690.23H307.0M42.4 692.92H307.0M42.4 695.62H307.0M42.4 698.31H307.0M42.4 701.01H307.0M42.4 703.70H307.0M42.4 706.40H307.0M42.4 709.09H307.0M42.4 711.78H307.0M42.4 714.48H307.0M42.4 717.17H307.0M42.4 719.87H307.0M42.4 722.56H307.0M42.4 725.25H307.0M42.4 727.95H307.0M42.4 730.64H307.0M42.4 733.34H307.0M42.4 736.03H307.0M42.4 738.72H307.0M42.4 741.42H307.0M42.4 744.11H307.0M42.4 746.81H307.0M42.4 749.50H307.0M42.40 523.2V749.5M64.45 523.2V749.5M86.50 523.2V749.5M108.55 523.2V749.5M130.60 523.2V749.5M152.65 523.2V749.5M174.70 523.2V749.5M196.75 523.2V749.5M218.80 523.2V749.5M240.85 523.2V749.5M262.90 523.2V749.5M284.95 523.2V749.5M307.00 523.2V749.5" stroke="#9a9a9a" stroke-width=".3" fill="none"/>
<path d="M53.4 510.7H129.5M53.4 510.7V523.2M129.5 510.7V511.8M86.5 511.8H172.5M86.5 511.8V517.2M75.5 517.2H97.5M75.5 517.2V523.2M97.5 517.2V523.2M172.5 511.8V515.1M136.0 515.1H208.0M136.0 515.1V517.2M119.6 517.2H152.4M119.6 517.2V523.2M152.4 517.2V519.4M141.6 519.4H163.7M141.6 519.4V523.2M163.7 519.4V523.2M208.0 515.1V516.5M185.7 516.5H230.0M185.7 516.5V523.2M230.0 516.5V518.2M207.8 518.2H252.0M207.8 518.2V523.2M252.0 518.2V519.8M229.8 519.8H273.0M229.8 519.8V523.2M273.0 519.8V521.2M251.9 521.2H284.4M251.9 521.2V523.2M284.4 521.2V521.9M273.9 521.9H296.0M273.9 521.9V523.2M296.0 521.9V523.2" stroke="#555" stroke-width=".4" fill="none"/>
<path d="M40.2 524.5H42.4M40.2 527.2H42.4M40.2 524.5V527.2M40.3 529.9H42.4M40.3 532.6H42.4M40.3 535.3H42.4M40.3 529.9V535.3M39.9 538.0H42.4M39.9 540.7H42.4M39.9 543.4H42.4M39.9 538.0V543.4M41.2 546.1H42.4M41.2 548.8H42.4M41.2 551.5H42.4M41.2 546.1V551.5M40.2 554.2H42.4M40.2 556.9H42.4M40.2 559.6H42.4M40.2 554.2V559.6M41.1 562.3H42.4M41.1 565.0H42.4M41.1 562.3V565.0M40.1 567.7H42.4M40.1 570.3H42.4M40.1 573.0H42.4M40.1 567.7V573.0M41.2 575.7H42.4M41.2 578.4H42.4M41.2 581.1H42.4M41.2 583.8H42.4M41.2 575.7V583.8M41.0 586.5H42.4M41.0 589.2H42.4M41.0 586.5V589.2M40.2 591.9H42.4M40.2 594.6H42.4M40.2 597.3H42.4M40.2 600.0H42.4M40.2 591.9V600.0M40.6 602.7H42.4M40.6 605.4H42.4M40.6 608.1H42.4M40.6 610.8H42.4M40.6 602.7V610.8M41.0 613.5H42.4M41.0 616.1H42.4M41.0 613.5V616.1M40.3 618.8H42.4M40.3 621.5H42.4M40.3 618.8V621.5M40.5 624.2H42.4M40.5 626.9H42.4M40.5 624.2V626.9M40.1 629.6H42.4M40.1 632.3H42.4M40.1 635.0H42.4M40.1 629.6V635.0M41.1 637.7H42.4M41.1 640.4H42.4M41.1 643.1H42.4M41.1 645.8H42.4M41.1 637.7V645.8M40.9 648.5H42.4M40.9 651.2H42.4M40.9 653.9H42.4M40.9 648.5V653.9M40.3 656.6H42.4M40.3 659.2H42.4M40.3 656.6V659.2M40.1 661.9H42.4M40.1 664.6H42.4M40.1 661.9V664.6M40.3 667.3H42.4M40.3 670.0H42.4M40.3 667.3V670.0M39.9 672.7H42.4M39.9 675.4H42.4M39.9 672.7V675.4M39.9 678.1H42.4M39.9 680.8H42.4M39.9 678.1V680.8M39.8 683.5H42.4M39.8 686.2H42.4M39.8 688.9H42.4M39.8 683.5V688.9M41.1 691.6H42.4M41.1 694.3H42.4M41.1 697.0H42.4M41.1 691.6V697.0M40.4 699.7H42.4M40.4 702.4H42.4M40.4 705.0H42.4M40.4 707.7H42.4M40.4 699.7V707.7M40.4 710.4H42.4M40.4 713.1H42.4M40.4 715.8H42.4M40.4 710.4V715.8M40.7 718.5H42.4M40.7 721.2H42.4M40.7 718.5V721.2M40.7 723.9H42.4M40.7 726.6H42.4M40.7 729.3H42.4M40.7 723.9V729.3M41.0 732.0H42.4M41.0 734.7H42.4M41.0 737.4H42.4M41.0 740.1H42.4M41.0 732.0V740.1M40.4 742.8H42.4M40.4 745.5H42.4M40.4 748.2H42.4M40.4 742.8V748.2M38.9 525.9H40.2M38.9 532.6H40.3M38.9 540.7H39.9M38.9 525.9V540.7M38.6 548.8H41.2M38.6 556.9H40.2M38.6 563.6H41.1M38.6 548.8V563.6M37.9 570.3H40.1M37.9 579.8H41.2M37.9 587.9H41.0M37.9 570.3V587.9M39.0 595.9H40.2M39.0 606.7H40.6M39.0 614.8H41.0M39.0 595.9V614.8M39.2 620.2H40.3M39.2 625.6H40.5M39.2 620.2V625.6M39.4 632.3H40.1M39.4 641.7H41.1M39.4 651.2H40.9M39.4 632.3V651.2M38.6 657.9H40.3M38.6 663.3H40.1M38.6 657.9V663.3M38.5 668.7H40.3M38.5 674.1H39.9M38.5 668.7V674.1M38.6 679.5H39.9M38.6 686.2H39.8M38.6 694.3H41.1M38.6 679.5V694.3M39.1 703.7H40.4M39.1 713.1H40.4M39.1 703.7V713.1M38.5 719.9H40.7M38.5 726.6H40.7M38.5 719.9V726.6M38.9 736.0H41.0M38.9 745.5H40.4M38.9 736.0V745.5M37.5 533.3H38.9M37.5 556.2H38.6M37.5 579.1H37.9M37.5 533.3V579.1M37.8 605.4H39.0M37.8 622.9H39.2M37.8 605.4V622.9M36.7 641.7H39.4M36.7 660.6H38.6M36.7 641.7V660.6M37.7 671.4H38.5M37.7 686.9H38.6M37.7 708.4H39.1M37.7 671.4V708.4M36.9 723.2H38.5M36.9 740.7H38.9M36.9 723.2V740.7M34.8 530.6V591.6M34.8 530.6H38.2M34.8 591.6H37.4M37.4 572.0V606.0M32.6 637.5V709.0M32.6 637.5H36.0M32.6 709.0H33.2M33.2 680.0V742.0M33.2 742.0H36.0M29.4 550.5V673.4M29.4 550.5H34.8M29.4 673.4H32.6M36.0 560.0V600.0M35.5 660.0V700.0" stroke="#555" stroke-width=".35" fill="none"/>
<text class="l" font-size="3" text-anchor="end" fill="#111" textLength="12.0" lengthAdjust="spacingAndGlyphs" transform="translate(54.4 751) rotate(-90)">Adipocyte</text>
<text class="l" font-size="3" text-anchor="end" fill="#111" textLength="9.7" lengthAdjust="spacingAndGlyphs" transform="translate(76.5 751) rotate(-90)">NK cells</text>
<text class="l" font-size="3" text-anchor="end" fill="#111" textLength="9.0" lengthAdjust="spacingAndGlyphs" transform="translate(98.5 751) rotate(-90)">Th cells</text>
<text class="l" font-size="3" text-anchor="end" fill="#111" textLength="18.8" lengthAdjust="spacingAndGlyphs" transform="translate(120.6 751) rotate(-90)">Endothelial cells</text>
<text class="l" font-size="3" text-anchor="end" fill="#111" textLength="29.4" lengthAdjust="spacingAndGlyphs" transform="translate(142.6 751) rotate(-90)">Adipocyte progenitor cells</text>
<text class="l" font-size="3" text-anchor="end" fill="#111" textLength="20.0" lengthAdjust="spacingAndGlyphs" transform="translate(164.7 751) rotate(-90)">M2 Macrophages</text>
<text class="l" font-size="3" text-anchor="end" fill="#111" textLength="10.6" lengthAdjust="spacingAndGlyphs" transform="translate(186.7 751) rotate(-90)">Monocyte</text>
<text class="l" font-size="3" text-anchor="end" fill="#111" textLength="19.0" lengthAdjust="spacingAndGlyphs" transform="translate(208.8 751) rotate(-90)">M1 Macrophages</text>
<text class="l" font-size="3" text-anchor="end" fill="#111" textLength="11.3" lengthAdjust="spacingAndGlyphs" transform="translate(230.8 751) rotate(-90)">Fibroblast</text>
<text class="l" font-size="3" text-anchor="end" fill="#111" textLength="7.2" lengthAdjust="spacingAndGlyphs" transform="translate(252.9 751) rotate(-90)">B cells</text>
<text class="l" font-size="3" text-anchor="end" fill="#111" textLength="10.6" lengthAdjust="spacingAndGlyphs" transform="translate(274.9 751) rotate(-90)">Mast cells</text>
<text class="l" font-size="3" text-anchor="end" fill="#111" textLength="26.5" lengthAdjust="spacingAndGlyphs" transform="translate(297.0 751) rotate(-90)">Vascular smooth muscle</text>
<text class="c" x="307.6" y="525.4" font-size="2.4" font-weight="bold" fill="#000">3</text>
<text class="c" x="307.6" y="528.1" font-size="2.4" font-weight="bold" fill="#000">51</text>
<text class="c" x="307.6" y="530.8" font-size="2.4" font-weight="bold" fill="#000">16</text>
<text class="c" x="307.6" y="533.5" font-size="2.4" font-weight="bold" fill="#000">60</text>
<text class="c" x="307.6" y="536.2" font-size="2.4" font-weight="bold" fill="#000">25</text>
<text class="c" x="307.6" y="538.9" font-size="2.4" font-weight="bold" fill="#000">7</text>
<text class="c" x="307.6" y="541.6" font-size="2.4" font-weight="bold" fill="#000">36</text>
<text class="c" x="307.6" y="544.3" font-size="2.4" font-weight="bold" fill="#000">79</text>
<text class="c" x="307.6" y="547.0" font-size="2.4" font-weight="bold" fill="#000">45</text>
<text class="c" x="307.6" y="549.7" font-size="2.4" font-weight="bold" fill="#000">8</text>
<text class="c" x="307.6" y="552.4" font-size="2.4" font-weight="bold" fill="#000">54</text>
<text class="c" x="307.6" y="555.0" font-size="2.4" font-weight="bold" fill="#000">19</text>
<text class="c" x="307.6" y="557.7" font-size="2.4" font-weight="bold" fill="#000">63</text>
<text class="c" x="307.6" y="560.4" font-size="2.4" font-weight="bold" fill="#000">28</text>
<text class="c" x="307.6" y="563.1" font-size="2.4" font-weight="bold" fill="#000">72</text>
<text class="c" x="307.6" y="565.8" font-size="2.4" font-weight="bold" fill="#000">39</text>
<text class="c" x="307.6" y="568.5" font-size="2.4" font-weight="bold" fill="#000">98</text>
<text class="c" x="307.6" y="571.2" font-size="2.4" font-weight="bold" fill="#000">48</text>
<text class="c" x="307.6" y="573.9" font-size="2.4" font-weight="bold" fill="#000">12</text>
<text class="c" x="307.6" y="576.6" font-size="2.4" font-weight="bold" fill="#000">57</text>
<text class="c" x="307.6" y="579.3" font-size="2.4" font-weight="bold" fill="#000">21</text>
<text class="c" x="307.6" y="582.0" font-size="2.4" font-weight="bold" fill="#000">66</text>
<text class="c" x="307.6" y="584.7" font-size="2.4" font-weight="bold" fill="#000">32</text>
<text class="c" x="307.6" y="587.4" font-size="2.4" font-weight="bold" fill="#000">74</text>
<text class="c" x="307.6" y="590.1" font-size="2.4" font-weight="bold" fill="#000">41</text>
<text class="c" x="307.6" y="592.8" font-size="2.4" font-weight="bold" fill="#000">84</text>
<text class="c" x="307.6" y="595.5" font-size="2.4" font-weight="bold" fill="#000">50</text>
<text class="c" x="307.6" y="598.2" font-size="2.4" font-weight="bold" fill="#000">15</text>
<text class="c" x="307.6" y="600.8" font-size="2.4" font-weight="bold" fill="#000">6</text>
<text class="c" x="307.6" y="603.5" font-size="2.4" font-weight="bold" fill="#000">24</text>
<text class="c" x="307.6" y="606.2" font-size="2.4" font-weight="bold" fill="#000">68</text>
<text class="c" x="307.6" y="608.9" font-size="2.4" font-weight="bold" fill="#000">35</text>
<text class="c" x="307.6" y="611.6" font-size="2.4" font-weight="bold" fill="#000">76</text>
<text class="c" x="307.6" y="614.3" font-size="2.4" font-weight="bold" fill="#000">44</text>
<text class="c" x="307.6" y="617.0" font-size="2.4" font-weight="bold" fill="#000">80</text>
<text class="c" x="307.6" y="619.7" font-size="2.4" font-weight="bold" fill="#000">53</text>
<text class="c" x="307.6" y="622.4" font-size="2.4" font-weight="bold" fill="#000">18</text>
<text class="c" x="307.6" y="625.1" font-size="2.4" font-weight="bold" fill="#000">62</text>
<text class="c" x="307.6" y="627.8" font-size="2.4" font-weight="bold" fill="#000">27</text>
<text class="c" x="307.6" y="630.5" font-size="2.4" font-weight="bold" fill="#000">73</text>
<text class="c" x="307.6" y="633.2" font-size="2.4" font-weight="bold" fill="#000">38</text>
<text class="c" x="307.6" y="635.9" font-size="2.4" font-weight="bold" fill="#000">90</text>
<text class="c" x="307.6" y="638.6" font-size="2.4" font-weight="bold" fill="#000">47</text>
<text class="c" x="307.6" y="641.3" font-size="2.4" font-weight="bold" fill="#000">11</text>
<text class="c" x="307.6" y="643.9" font-size="2.4" font-weight="bold" fill="#000">56</text>
<text class="c" x="307.6" y="646.6" font-size="2.4" font-weight="bold" fill="#000">20</text>
<text class="c" x="307.6" y="649.3" font-size="2.4" font-weight="bold" fill="#000">65</text>
<text class="c" x="307.6" y="652.0" font-size="2.4" font-weight="bold" fill="#000">31</text>
<text class="c" x="307.6" y="654.7" font-size="2.4" font-weight="bold" fill="#000">70</text>
<text class="c" x="307.6" y="657.4" font-size="2.4" font-weight="bold" fill="#000">40</text>
<text class="c" x="307.6" y="660.1" font-size="2.4" font-weight="bold" fill="#000">82</text>
<text class="c" x="307.6" y="662.8" font-size="2.4" font-weight="bold" fill="#000">5</text>
<text class="c" x="307.6" y="665.5" font-size="2.4" font-weight="bold" fill="#000">14</text>
<text class="c" x="307.6" y="668.2" font-size="2.4" font-weight="bold" fill="#000">59</text>
<text class="c" x="307.6" y="670.9" font-size="2.4" font-weight="bold" fill="#000">23</text>
<text class="c" x="307.6" y="673.6" font-size="2.4" font-weight="bold" fill="#000">69</text>
<text class="c" x="307.6" y="676.3" font-size="2.4" font-weight="bold" fill="#000">34</text>
<text class="c" x="307.6" y="679.0" font-size="2.4" font-weight="bold" fill="#000">75</text>
<text class="c" x="307.6" y="681.7" font-size="2.4" font-weight="bold" fill="#000">43</text>
<text class="c" x="307.6" y="684.4" font-size="2.4" font-weight="bold" fill="#000">1</text>
<text class="c" x="307.6" y="687.1" font-size="2.4" font-weight="bold" fill="#000">52</text>
<text class="c" x="307.6" y="689.7" font-size="2.4" font-weight="bold" fill="#000">17</text>
<text class="c" x="307.6" y="692.4" font-size="2.4" font-weight="bold" fill="#000">61</text>
<text class="c" x="307.6" y="695.1" font-size="2.4" font-weight="bold" fill="#000">26</text>
<text class="c" x="307.6" y="697.8" font-size="2.4" font-weight="bold" fill="#000">29</text>
<text class="c" x="307.6" y="700.5" font-size="2.4" font-weight="bold" fill="#000">37</text>
<text class="c" x="307.6" y="703.2" font-size="2.4" font-weight="bold" fill="#000">9</text>
<text class="c" x="307.6" y="705.9" font-size="2.4" font-weight="bold" fill="#000">46</text>
<text class="c" x="307.6" y="708.6" font-size="2.4" font-weight="bold" fill="#000">10</text>
<text class="c" x="307.6" y="711.3" font-size="2.4" font-weight="bold" fill="#000">55</text>
<text class="c" x="307.6" y="714.0" font-size="2.4" font-weight="bold" fill="#000">2</text>
<text class="c" x="307.6" y="716.7" font-size="2.4" font-weight="bold" fill="#000">64</text>
<text class="c" x="307.6" y="719.4" font-size="2.4" font-weight="bold" fill="#000">30</text>
<text class="c" x="307.6" y="722.1" font-size="2.4" font-weight="bold" fill="#000">71</text>
<text class="c" x="307.6" y="724.8" font-size="2.4" font-weight="bold" fill="#000">4</text>
<text class="c" x="307.6" y="727.5" font-size="2.4" font-weight="bold" fill="#000">81</text>
<text class="c" x="307.6" y="730.2" font-size="2.4" font-weight="bold" fill="#000">49</text>
<text class="c" x="307.6" y="732.9" font-size="2.4" font-weight="bold" fill="#000">13</text>
<text class="c" x="307.6" y="735.5" font-size="2.4" font-weight="bold" fill="#000">58</text>
<text class="c" x="307.6" y="738.2" font-size="2.4" font-weight="bold" fill="#000">22</text>
<text class="c" x="307.6" y="740.9" font-size="2.4" font-weight="bold" fill="#000">67</text>
<text class="c" x="307.6" y="743.6" font-size="2.4" font-weight="bold" fill="#000">33</text>
<text class="c" x="307.6" y="746.3" font-size="2.4" font-weight="bold" fill="#000">78</text>
<text class="c" x="307.6" y="749.0" font-size="2.4" font-weight="bold" fill="#000">42</text>
<linearGradient id="gE" x1="0" y1="0" x2="0" y2="1"><stop offset="0" stop-color="#08306b"/><stop offset=".25" stop-color="#2171b5"/><stop offset=".5" stop-color="#6baed6"/><stop offset=".75" stop-color="#c6dbef"/><stop offset="1" stop-color="#f7fbff"/></linearGradient>
<rect x="312.30" y="523.00" width="2.80" height="34.00" fill="url(#gE)"/>
<text class="c" x="316.2" y="528.5" font-size="2.6" fill="#333">0.5</text>
<text class="c" x="316.2" y="535.1" font-size="2.6" fill="#333">0.4</text>
<text class="c" x="316.2" y="541.7" font-size="2.6" fill="#333">0.3</text>
<text class="c" x="316.2" y="548.3" font-size="2.6" fill="#333">0.2</text>
<text class="c" x="316.2" y="554.9" font-size="2.6" fill="#333">0.1</text>
<text class="c" x="316.2" y="561.5" font-size="2.6" fill="#333">0</text>
</g>
<g id="panelF">
<text class="r" x="0.8" y="804.0" font-size="14.7" textLength="21.4" lengthAdjust="spacingAndGlyphs">(<tspan font-weight="bold">F</tspan>)</text>
<rect x="156.60" y="794.10" width="346.70" height="163.30" fill="#fff" stroke="#8a8a8a" stroke-width="0.6"/>
<g stroke="#222" stroke-width=".6"><rect x="172.3" y="813.1" width="4.5" height="52.3" fill="#984EA3"/><rect x="176.8" y="813.1" width="91.4" height="52.3" fill="#D8B8FF"/><rect x="268.2" y="813.1" width="86.7" height="52.3" fill="#7BAFD4"/><rect x="354.9" y="813.1" width="33.9" height="52.3" fill="#009944"/><rect x="388.8" y="813.1" width="16.6" height="52.3" fill="#D5E2B6"/><rect x="405.4" y="813.1" width="6.0" height="52.3" fill="#FFFF66"/><rect x="411.4" y="813.1" width="4.0" height="52.3" fill="#FDD49E"/><rect x="415.4" y="813.1" width="12.9" height="52.3" fill="#FDB462"/><rect x="428.3" y="813.1" width="18.6" height="52.3" fill="#FFCFDC"/><rect x="446.9" y="813.1" width="15.5" height="52.3" fill="#E78AC3"/><rect x="462.4" y="813.1" width="25.1" height="52.3" fill="#CC6677"/><rect x="172.3" y="887.2" width="11.3" height="52.6" fill="#984EA3"/><rect x="183.6" y="887.2" width="28.7" height="52.6" fill="#D8B8FF"/><rect x="212.3" y="887.2" width="22.3" height="52.6" fill="#7BAFD4"/><rect x="234.6" y="887.2" width="23.6" height="52.6" fill="#009944"/><rect x="258.2" y="887.2" width="26.3" height="52.6" fill="#D5E2B6"/><rect x="284.5" y="887.2" width="13.2" height="52.6" fill="#FFFF66"/><rect x="297.7" y="887.2" width="9.9" height="52.6" fill="#FDD49E"/><rect x="307.6" y="887.2" width="35.3" height="52.6" fill="#FDB462"/><rect x="342.9" y="887.2" width="6.5" height="52.6" fill="#FFCFDC"/><rect x="349.4" y="887.2" width="44.7" height="52.6" fill="#E78AC3"/><rect x="394.1" y="887.2" width="93.4" height="52.6" fill="#CC6677"/></g>
<line x1="172.3" y1="957.4" x2="172.3" y2="958.6" stroke="#555" stroke-width="0.3"/>
<text class="l" x="172.3" y="962.0" font-size="3.1" text-anchor="middle" fill="#333" textLength="7.4" lengthAdjust="spacingAndGlyphs">0.00</text>
<line x1="251.1" y1="957.4" x2="251.1" y2="958.6" stroke="#555" stroke-width="0.3"/>
<text class="l" x="251.1" y="962.0" font-size="3.1" text-anchor="middle" fill="#333" textLength="7.4" lengthAdjust="spacingAndGlyphs">0.25</text>
<line x1="329.9" y1="957.4" x2="329.9" y2="958.6" stroke="#555" stroke-width="0.3"/>
<text class="l" x="329.9" y="962.0" font-size="3.1" text-anchor="middle" fill="#333" textLength="7.4" lengthAdjust="spacingAndGlyphs">0.50</text>
<line x1="408.7" y1="957.4" x2="408.7" y2="958.6" stroke="#555" stroke-width="0.3"/>
<text class="l" x="408.7" y="962.0" font-size="3.1" text-anchor="middle" fill="#333" textLength="7.4" lengthAdjust="spacingAndGlyphs">0.75</text>
<line x1="487.5" y1="957.4" x2="487.5" y2="958.6" stroke="#555" stroke-width="0.3"/>
<text class="l" x="487.5" y="962.0" font-size="3.1" text-anchor="middle" fill="#333" textLength="7.4" lengthAdjust="spacingAndGlyphs">1.00</text>
<text class="l" x="330.5" y="965.8" font-size="3.4" text-anchor="middle" font-weight="bold" fill="#222" textLength="9.5" lengthAdjust="spacingAndGlyphs">Ratio</text>
<line x1="155.4" y1="839.1" x2="156.6" y2="839.1" stroke="#555" stroke-width="0.3"/>
<text class="l" x="154.8" y="840.2" font-size="3.1" text-anchor="end" fill="#333" textLength="5.5" lengthAdjust="spacingAndGlyphs">G2</text>
<line x1="155.4" y1="913.0" x2="156.6" y2="913.0" stroke="#555" stroke-width="0.3"/>
<text class="l" x="154.8" y="914.1" font-size="3.1" text-anchor="end" fill="#333" textLength="5.5" lengthAdjust="spacingAndGlyphs">G1</text>
<text class="l" font-size="3.2" text-anchor="middle" fill="#222" textLength="11.0" lengthAdjust="spacingAndGlyphs" transform="translate(149.2 876.0) rotate(-90)">celltype</text>
<text class="l" x="510.8" y="843.8" font-size="3.3" fill="#222" textLength="23.0" lengthAdjust="spacingAndGlyphs">Cell Type</text>
<rect x="511.50" y="846.00" width="7.20" height="5.40" fill="#CC6677" stroke="#555" stroke-width="0.3"/>
<text class="l" x="521.5" y="849.8" font-size="3" fill="#333" textLength="17.0" lengthAdjust="spacingAndGlyphs">Adipocyte</text>
<rect x="511.50" y="851.40" width="7.20" height="5.40" fill="#E78AC3" stroke="#555" stroke-width="0.3"/>
<text class="l" x="521.5" y="855.2" font-size="3" fill="#333" textLength="50.0" lengthAdjust="spacingAndGlyphs">Adipocyte progenitor cells</text>
<rect x="511.50" y="856.80" width="7.20" height="5.40" fill="#FFCFDC" stroke="#555" stroke-width="0.3"/>
<text class="l" x="521.5" y="860.6" font-size="3" fill="#333" textLength="11.0" lengthAdjust="spacingAndGlyphs">B cells</text>
<rect x="511.50" y="862.20" width="7.20" height="5.40" fill="#FDB462" stroke="#555" stroke-width="0.3"/>
<text class="l" x="521.5" y="866.0" font-size="3" fill="#333" textLength="31.0" lengthAdjust="spacingAndGlyphs">Endothelial cells</text>
<rect x="511.50" y="867.60" width="7.20" height="5.40" fill="#FDD49E" stroke="#555" stroke-width="0.3"/>
<text class="l" x="521.5" y="871.4" font-size="3" fill="#333" textLength="18.0" lengthAdjust="spacingAndGlyphs">Fibroblast</text>
<rect x="511.50" y="873.00" width="7.20" height="5.40" fill="#FFFF66" stroke="#555" stroke-width="0.3"/>
<text class="l" x="521.5" y="876.8" font-size="3" fill="#333" textLength="29.0" lengthAdjust="spacingAndGlyphs">M1 Macrophages</text>
<rect x="511.50" y="878.40" width="7.20" height="5.40" fill="#D5E2B6" stroke="#555" stroke-width="0.3"/>
<text class="l" x="521.5" y="882.2" font-size="3" fill="#333" textLength="29.0" lengthAdjust="spacingAndGlyphs">M2 Macrophages</text>
<rect x="511.50" y="883.80" width="7.20" height="5.40" fill="#B2DF8A" stroke="#555" stroke-width="0.3"/>
<text class="l" x="521.5" y="887.6" font-size="3" fill="#333" textLength="18.0" lengthAdjust="spacingAndGlyphs">Mast cells</text>
<rect x="511.50" y="889.20" width="7.20" height="5.40" fill="#009944" stroke="#555" stroke-width="0.3"/>
<text class="l" x="521.5" y="893.0" font-size="3" fill="#333" textLength="17.0" lengthAdjust="spacingAndGlyphs">Monocyte</text>
<rect x="511.50" y="894.60" width="7.20" height="5.40" fill="#7BAFD4" stroke="#555" stroke-width="0.3"/>
<text class="l" x="521.5" y="898.4" font-size="3" fill="#333" textLength="14.0" lengthAdjust="spacingAndGlyphs">NK cells</text>
<rect x="511.50" y="900.00" width="7.20" height="5.40" fill="#D8B8FF" stroke="#555" stroke-width="0.3"/>
<text class="l" x="521.5" y="903.8" font-size="3" fill="#333" textLength="13.0" lengthAdjust="spacingAndGlyphs">Th cells</text>
<rect x="511.50" y="905.40" width="7.20" height="5.40" fill="#984EA3" stroke="#555" stroke-width="0.3"/>
<text class="l" x="521.5" y="909.2" font-size="3" fill="#333" textLength="47.0" lengthAdjust="spacingAndGlyphs">Vascular smooth muscle</text>
</g>
</svg></body></html>
